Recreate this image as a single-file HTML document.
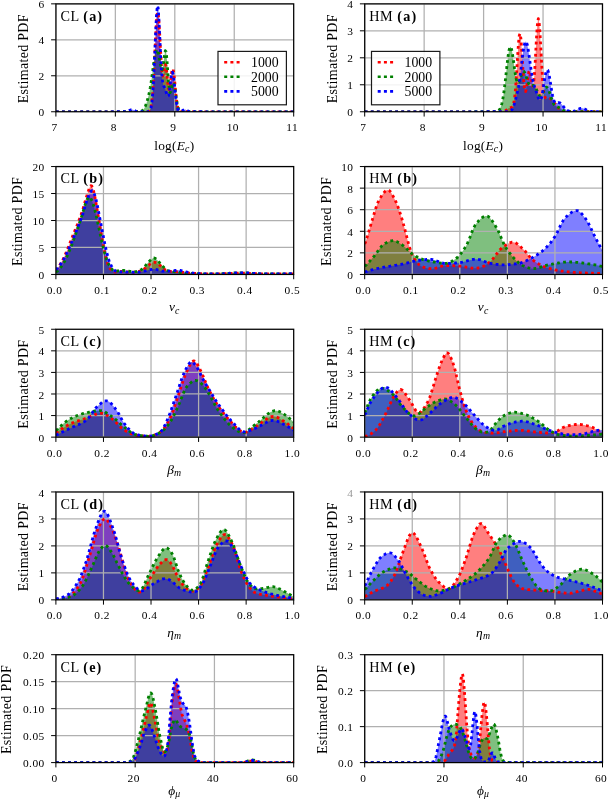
<!DOCTYPE html>
<html><head><meta charset="utf-8"><title>Estimated PDF</title>
<style>html,body{margin:0;padding:0;background:#fff}svg{display:block}</style></head>
<body>
<svg width="610" height="800" viewBox="0 0 610 800" font-family="'Liberation Serif', serif">
<rect width="610" height="800" fill="#fff"/>
<clipPath id="c00"><rect x="55.90" y="3.85" width="237.80" height="107.90"/></clipPath>
<g clip-path="url(#c00)">
<path d="M55.9,111.8 L56.7,111.8 L57.5,111.8 L58.3,111.8 L59.1,111.8 L59.9,111.8 L60.7,111.8 L61.4,111.8 L62.2,111.8 L63.0,111.8 L63.8,111.8 L64.6,111.8 L65.4,111.8 L66.2,111.8 L67.0,111.8 L67.8,111.8 L68.6,111.8 L69.4,111.8 L70.2,111.8 L71.0,111.8 L71.8,111.8 L72.5,111.8 L73.3,111.8 L74.1,111.8 L74.9,111.8 L75.7,111.8 L76.5,111.8 L77.3,111.8 L78.1,111.8 L78.9,111.8 L79.7,111.8 L80.5,111.8 L81.3,111.8 L82.1,111.8 L82.9,111.8 L83.6,111.8 L84.4,111.8 L85.2,111.8 L86.0,111.8 L86.8,111.8 L87.6,111.8 L88.4,111.8 L89.2,111.8 L90.0,111.8 L90.8,111.8 L91.6,111.8 L92.4,111.8 L93.2,111.8 L93.9,111.8 L94.7,111.8 L95.5,111.8 L96.3,111.8 L97.1,111.8 L97.9,111.8 L98.7,111.8 L99.5,111.8 L100.3,111.8 L101.1,111.8 L101.9,111.8 L102.7,111.8 L103.5,111.8 L104.3,111.8 L105.0,111.8 L105.8,111.8 L106.6,111.8 L107.4,111.8 L108.2,111.8 L109.0,111.8 L109.8,111.8 L110.6,111.8 L111.4,111.8 L112.2,111.8 L113.0,111.8 L113.8,111.8 L114.6,111.8 L115.3,111.8 L116.1,111.8 L116.9,111.8 L117.7,111.8 L118.5,111.8 L119.3,111.8 L120.1,111.8 L120.9,111.8 L121.7,111.8 L122.5,111.8 L123.3,111.8 L124.1,111.8 L124.9,111.8 L125.7,111.8 L126.4,111.8 L127.2,111.8 L128.0,111.8 L128.8,111.8 L129.6,111.8 L130.4,111.8 L131.2,111.8 L132.0,111.8 L132.8,111.8 L133.6,111.8 L134.4,111.7 L135.2,111.7 L136.0,111.7 L136.8,111.7 L137.5,111.7 L138.3,111.7 L139.1,111.7 L139.9,111.7 L140.7,111.7 L141.5,111.7 L142.3,111.7 L143.1,111.7 L143.9,111.7 L144.7,111.7 L145.5,111.7 L146.3,111.7 L147.1,111.7 L147.8,111.6 L148.6,111.3 L149.4,110.7 L150.2,109.3 L151.0,106.6 L151.8,101.7 L152.6,93.9 L153.4,82.4 L154.2,67.5 L155.0,50.3 L155.8,33.4 L156.6,19.8 L157.4,12.4 L158.2,12.9 L158.9,20.9 L159.7,34.3 L160.5,49.6 L161.3,63.5 L162.1,73.0 L162.9,76.1 L163.7,73.4 L164.5,67.9 L165.3,64.4 L166.1,66.3 L166.9,73.5 L167.7,82.4 L168.5,88.7 L169.3,89.8 L170.0,85.9 L170.8,79.2 L171.6,72.6 L172.4,68.9 L173.2,69.5 L174.0,74.5 L174.8,82.3 L175.6,91.0 L176.4,98.6 L177.2,104.3 L178.0,108.0 L178.8,110.0 L179.6,111.1 L180.3,111.5 L181.1,111.7 L181.9,111.7 L182.7,111.7 L183.5,111.7 L184.3,111.7 L185.1,111.7 L185.9,111.7 L186.7,111.7 L187.5,111.7 L188.3,111.7 L189.1,111.7 L189.9,111.7 L190.7,111.7 L191.4,111.7 L192.2,111.7 L193.0,111.8 L193.8,111.8 L194.6,111.8 L195.4,111.8 L196.2,111.8 L197.0,111.8 L197.8,111.8 L198.6,111.8 L199.4,111.8 L200.2,111.8 L201.0,111.8 L201.8,111.8 L202.5,111.8 L203.3,111.8 L204.1,111.8 L204.9,111.8 L205.7,111.8 L206.5,111.8 L207.3,111.8 L208.1,111.8 L208.9,111.8 L209.7,111.8 L210.5,111.8 L211.3,111.8 L212.1,111.8 L212.8,111.8 L213.6,111.8 L214.4,111.8 L215.2,111.8 L216.0,111.8 L216.8,111.8 L217.6,111.8 L218.4,111.8 L219.2,111.8 L220.0,111.8 L220.8,111.8 L221.6,111.8 L222.4,111.8 L223.2,111.8 L223.9,111.8 L224.7,111.8 L225.5,111.8 L226.3,111.8 L227.1,111.8 L227.9,111.8 L228.7,111.8 L229.5,111.8 L230.3,111.8 L231.1,111.8 L231.9,111.8 L232.7,111.8 L233.5,111.8 L234.3,111.8 L235.0,111.8 L235.8,111.8 L236.6,111.8 L237.4,111.8 L238.2,111.8 L239.0,111.8 L239.8,111.8 L240.6,111.8 L241.4,111.8 L242.2,111.8 L243.0,111.8 L243.8,111.8 L244.6,111.8 L245.3,111.8 L246.1,111.8 L246.9,111.8 L247.7,111.8 L248.5,111.8 L249.3,111.8 L250.1,111.8 L250.9,111.8 L251.7,111.8 L252.5,111.8 L253.3,111.8 L254.1,111.8 L254.9,111.8 L255.7,111.8 L256.4,111.8 L257.2,111.8 L258.0,111.8 L258.8,111.8 L259.6,111.8 L260.4,111.8 L261.2,111.8 L262.0,111.8 L262.8,111.8 L263.6,111.8 L264.4,111.8 L265.2,111.8 L266.0,111.8 L266.7,111.8 L267.5,111.8 L268.3,111.8 L269.1,111.8 L269.9,111.8 L270.7,111.8 L271.5,111.8 L272.3,111.8 L273.1,111.8 L273.9,111.8 L274.7,111.8 L275.5,111.8 L276.3,111.8 L277.1,111.8 L277.8,111.8 L278.6,111.8 L279.4,111.8 L280.2,111.8 L281.0,111.8 L281.8,111.8 L282.6,111.8 L283.4,111.8 L284.2,111.8 L285.0,111.8 L285.8,111.8 L286.6,111.8 L287.4,111.8 L288.2,111.8 L288.9,111.8 L289.7,111.8 L290.5,111.8 L291.3,111.8 L292.1,111.8 L292.9,111.8 L293.7,111.8 L293.70,111.75 L55.90,111.75 Z" fill="#ff0000" fill-opacity="0.5" stroke="none"/>
<path d="M55.9,111.8 L56.7,111.8 L57.5,111.8 L58.3,111.8 L59.1,111.8 L59.9,111.8 L60.7,111.8 L61.4,111.8 L62.2,111.8 L63.0,111.8 L63.8,111.8 L64.6,111.8 L65.4,111.8 L66.2,111.8 L67.0,111.8 L67.8,111.8 L68.6,111.8 L69.4,111.8 L70.2,111.8 L71.0,111.8 L71.8,111.8 L72.5,111.8 L73.3,111.8 L74.1,111.8 L74.9,111.8 L75.7,111.8 L76.5,111.8 L77.3,111.8 L78.1,111.8 L78.9,111.8 L79.7,111.8 L80.5,111.8 L81.3,111.8 L82.1,111.8 L82.9,111.8 L83.6,111.8 L84.4,111.8 L85.2,111.8 L86.0,111.8 L86.8,111.8 L87.6,111.8 L88.4,111.8 L89.2,111.8 L90.0,111.8 L90.8,111.8 L91.6,111.8 L92.4,111.8 L93.2,111.8 L93.9,111.8 L94.7,111.8 L95.5,111.8 L96.3,111.8 L97.1,111.8 L97.9,111.8 L98.7,111.8 L99.5,111.8 L100.3,111.8 L101.1,111.8 L101.9,111.8 L102.7,111.8 L103.5,111.8 L104.3,111.8 L105.0,111.8 L105.8,111.8 L106.6,111.8 L107.4,111.8 L108.2,111.8 L109.0,111.8 L109.8,111.8 L110.6,111.8 L111.4,111.8 L112.2,111.8 L113.0,111.8 L113.8,111.8 L114.6,111.8 L115.3,111.8 L116.1,111.8 L116.9,111.8 L117.7,111.8 L118.5,111.8 L119.3,111.7 L120.1,111.7 L120.9,111.7 L121.7,111.7 L122.5,111.7 L123.3,111.7 L124.1,111.7 L124.9,111.7 L125.7,111.7 L126.4,111.7 L127.2,111.7 L128.0,111.7 L128.8,111.7 L129.6,111.7 L130.4,111.7 L131.2,111.7 L132.0,111.7 L132.8,111.7 L133.6,111.7 L134.4,111.7 L135.2,111.7 L136.0,111.7 L136.8,111.7 L137.5,111.7 L138.3,111.7 L139.1,111.7 L139.9,111.6 L140.7,111.4 L141.5,111.1 L142.3,110.6 L143.1,109.9 L143.9,108.9 L144.7,107.5 L145.5,105.8 L146.3,103.8 L147.1,101.4 L147.8,98.7 L148.6,95.6 L149.4,92.0 L150.2,87.8 L151.0,83.0 L151.8,77.5 L152.6,71.6 L153.4,65.6 L154.2,60.0 L155.0,55.2 L155.8,51.7 L156.6,49.9 L157.4,49.9 L158.2,51.8 L158.9,55.3 L159.7,60.0 L160.5,64.8 L161.3,68.5 L162.1,69.8 L162.9,67.4 L163.7,61.8 L164.5,55.1 L165.3,50.7 L166.1,51.9 L166.9,59.2 L167.7,70.4 L168.5,81.7 L169.3,89.6 L170.0,92.7 L170.8,91.5 L171.6,87.9 L172.4,84.4 L173.2,82.8 L174.0,84.1 L174.8,88.1 L175.6,93.6 L176.4,99.3 L177.2,104.1 L178.0,107.5 L178.8,109.7 L179.6,110.8 L180.3,111.4 L181.1,111.6 L181.9,111.7 L182.7,111.7 L183.5,111.7 L184.3,111.7 L185.1,111.7 L185.9,111.7 L186.7,111.7 L187.5,111.7 L188.3,111.7 L189.1,111.7 L189.9,111.7 L190.7,111.7 L191.4,111.7 L192.2,111.7 L193.0,111.7 L193.8,111.7 L194.6,111.7 L195.4,111.8 L196.2,111.8 L197.0,111.8 L197.8,111.8 L198.6,111.8 L199.4,111.8 L200.2,111.8 L201.0,111.8 L201.8,111.8 L202.5,111.8 L203.3,111.8 L204.1,111.8 L204.9,111.8 L205.7,111.8 L206.5,111.8 L207.3,111.8 L208.1,111.8 L208.9,111.8 L209.7,111.8 L210.5,111.8 L211.3,111.8 L212.1,111.8 L212.8,111.8 L213.6,111.8 L214.4,111.8 L215.2,111.8 L216.0,111.8 L216.8,111.8 L217.6,111.8 L218.4,111.8 L219.2,111.8 L220.0,111.8 L220.8,111.8 L221.6,111.8 L222.4,111.8 L223.2,111.8 L223.9,111.8 L224.7,111.8 L225.5,111.8 L226.3,111.8 L227.1,111.8 L227.9,111.8 L228.7,111.8 L229.5,111.8 L230.3,111.8 L231.1,111.8 L231.9,111.8 L232.7,111.8 L233.5,111.8 L234.3,111.8 L235.0,111.8 L235.8,111.8 L236.6,111.8 L237.4,111.8 L238.2,111.8 L239.0,111.8 L239.8,111.8 L240.6,111.8 L241.4,111.8 L242.2,111.8 L243.0,111.8 L243.8,111.8 L244.6,111.8 L245.3,111.8 L246.1,111.8 L246.9,111.8 L247.7,111.8 L248.5,111.8 L249.3,111.8 L250.1,111.8 L250.9,111.8 L251.7,111.8 L252.5,111.8 L253.3,111.8 L254.1,111.8 L254.9,111.8 L255.7,111.8 L256.4,111.8 L257.2,111.8 L258.0,111.8 L258.8,111.8 L259.6,111.8 L260.4,111.8 L261.2,111.8 L262.0,111.8 L262.8,111.8 L263.6,111.8 L264.4,111.8 L265.2,111.8 L266.0,111.8 L266.7,111.8 L267.5,111.8 L268.3,111.8 L269.1,111.8 L269.9,111.8 L270.7,111.8 L271.5,111.8 L272.3,111.8 L273.1,111.8 L273.9,111.8 L274.7,111.8 L275.5,111.8 L276.3,111.8 L277.1,111.8 L277.8,111.8 L278.6,111.8 L279.4,111.8 L280.2,111.8 L281.0,111.8 L281.8,111.8 L282.6,111.8 L283.4,111.8 L284.2,111.8 L285.0,111.8 L285.8,111.8 L286.6,111.8 L287.4,111.8 L288.2,111.8 L288.9,111.8 L289.7,111.8 L290.5,111.8 L291.3,111.8 L292.1,111.8 L292.9,111.8 L293.7,111.8 L293.70,111.75 L55.90,111.75 Z" fill="#008000" fill-opacity="0.5" stroke="none"/>
<path d="M55.9,111.8 L56.7,111.8 L57.5,111.8 L58.3,111.8 L59.1,111.8 L59.9,111.8 L60.7,111.8 L61.4,111.8 L62.2,111.8 L63.0,111.8 L63.8,111.8 L64.6,111.8 L65.4,111.8 L66.2,111.8 L67.0,111.8 L67.8,111.8 L68.6,111.8 L69.4,111.8 L70.2,111.8 L71.0,111.8 L71.8,111.8 L72.5,111.8 L73.3,111.8 L74.1,111.8 L74.9,111.8 L75.7,111.8 L76.5,111.8 L77.3,111.8 L78.1,111.8 L78.9,111.8 L79.7,111.8 L80.5,111.8 L81.3,111.8 L82.1,111.8 L82.9,111.8 L83.6,111.8 L84.4,111.8 L85.2,111.8 L86.0,111.8 L86.8,111.8 L87.6,111.8 L88.4,111.8 L89.2,111.8 L90.0,111.8 L90.8,111.8 L91.6,111.8 L92.4,111.8 L93.2,111.8 L93.9,111.8 L94.7,111.8 L95.5,111.8 L96.3,111.8 L97.1,111.8 L97.9,111.8 L98.7,111.8 L99.5,111.8 L100.3,111.8 L101.1,111.8 L101.9,111.8 L102.7,111.8 L103.5,111.8 L104.3,111.8 L105.0,111.8 L105.8,111.8 L106.6,111.8 L107.4,111.8 L108.2,111.8 L109.0,111.8 L109.8,111.8 L110.6,111.8 L111.4,111.8 L112.2,111.8 L113.0,111.7 L113.8,111.7 L114.6,111.7 L115.3,111.7 L116.1,111.7 L116.9,111.7 L117.7,111.7 L118.5,111.7 L119.3,111.7 L120.1,111.7 L120.9,111.7 L121.7,111.7 L122.5,111.7 L123.3,111.7 L124.1,111.7 L124.9,111.7 L125.7,111.7 L126.4,111.6 L127.2,111.5 L128.0,111.2 L128.8,110.9 L129.6,110.4 L130.4,110.0 L131.2,109.7 L132.0,109.6 L132.8,109.7 L133.6,110.0 L134.4,110.4 L135.2,110.9 L136.0,111.2 L136.8,111.5 L137.5,111.6 L138.3,111.7 L139.1,111.7 L139.9,111.7 L140.7,111.7 L141.5,111.7 L142.3,111.7 L143.1,111.7 L143.9,111.7 L144.7,111.7 L145.5,111.7 L146.3,111.7 L147.1,111.7 L147.8,111.7 L148.6,111.5 L149.4,111.1 L150.2,110.0 L151.0,107.7 L151.8,103.3 L152.6,95.5 L153.4,83.5 L154.2,67.2 L155.0,47.9 L155.8,28.5 L156.6,13.3 L157.4,5.8 L158.2,8.0 L158.9,19.0 L159.7,35.5 L160.5,53.1 L161.3,68.0 L162.1,78.1 L162.9,83.6 L163.7,86.0 L164.5,87.4 L165.3,89.3 L166.1,92.0 L166.9,94.8 L167.7,96.5 L168.5,95.7 L169.3,92.0 L170.0,86.0 L170.8,79.3 L171.6,74.0 L172.4,72.1 L173.2,74.3 L174.0,80.1 L174.8,87.8 L175.6,95.5 L176.4,101.9 L177.2,106.4 L178.0,109.1 L178.8,110.6 L179.6,111.2 L180.3,111.4 L181.1,111.3 L181.9,111.0 L182.7,110.5 L183.5,110.0 L184.3,109.7 L185.1,109.6 L185.9,109.8 L186.7,110.3 L187.5,110.7 L188.3,111.2 L189.1,111.5 L189.9,111.6 L190.7,111.7 L191.4,111.7 L192.2,111.7 L193.0,111.7 L193.8,111.7 L194.6,111.7 L195.4,111.7 L196.2,111.7 L197.0,111.7 L197.8,111.7 L198.6,111.7 L199.4,111.7 L200.2,111.7 L201.0,111.7 L201.8,111.7 L202.5,111.8 L203.3,111.8 L204.1,111.8 L204.9,111.8 L205.7,111.8 L206.5,111.8 L207.3,111.8 L208.1,111.8 L208.9,111.8 L209.7,111.8 L210.5,111.8 L211.3,111.8 L212.1,111.8 L212.8,111.8 L213.6,111.8 L214.4,111.8 L215.2,111.8 L216.0,111.8 L216.8,111.8 L217.6,111.8 L218.4,111.8 L219.2,111.8 L220.0,111.8 L220.8,111.8 L221.6,111.8 L222.4,111.8 L223.2,111.8 L223.9,111.8 L224.7,111.8 L225.5,111.8 L226.3,111.8 L227.1,111.8 L227.9,111.8 L228.7,111.8 L229.5,111.8 L230.3,111.8 L231.1,111.8 L231.9,111.8 L232.7,111.8 L233.5,111.8 L234.3,111.8 L235.0,111.8 L235.8,111.8 L236.6,111.8 L237.4,111.8 L238.2,111.8 L239.0,111.8 L239.8,111.8 L240.6,111.8 L241.4,111.8 L242.2,111.8 L243.0,111.8 L243.8,111.8 L244.6,111.8 L245.3,111.8 L246.1,111.8 L246.9,111.8 L247.7,111.8 L248.5,111.8 L249.3,111.8 L250.1,111.8 L250.9,111.8 L251.7,111.8 L252.5,111.8 L253.3,111.8 L254.1,111.8 L254.9,111.8 L255.7,111.8 L256.4,111.8 L257.2,111.8 L258.0,111.8 L258.8,111.8 L259.6,111.8 L260.4,111.8 L261.2,111.8 L262.0,111.8 L262.8,111.8 L263.6,111.8 L264.4,111.8 L265.2,111.8 L266.0,111.8 L266.7,111.8 L267.5,111.8 L268.3,111.8 L269.1,111.8 L269.9,111.8 L270.7,111.8 L271.5,111.8 L272.3,111.8 L273.1,111.8 L273.9,111.8 L274.7,111.8 L275.5,111.8 L276.3,111.8 L277.1,111.8 L277.8,111.8 L278.6,111.8 L279.4,111.8 L280.2,111.8 L281.0,111.8 L281.8,111.8 L282.6,111.8 L283.4,111.8 L284.2,111.8 L285.0,111.8 L285.8,111.8 L286.6,111.8 L287.4,111.8 L288.2,111.8 L288.9,111.8 L289.7,111.8 L290.5,111.8 L291.3,111.8 L292.1,111.8 L292.9,111.8 L293.7,111.8 L293.70,111.75 L55.90,111.75 Z" fill="#0000ff" fill-opacity="0.5" stroke="none"/>
<line x1="55.90" x2="55.90" y1="3.85" y2="111.75" stroke="#b0b0b0" stroke-width="1.25"/>
<line x1="115.35" x2="115.35" y1="3.85" y2="111.75" stroke="#b0b0b0" stroke-width="1.25"/>
<line x1="174.80" x2="174.80" y1="3.85" y2="111.75" stroke="#b0b0b0" stroke-width="1.25"/>
<line x1="234.25" x2="234.25" y1="3.85" y2="111.75" stroke="#b0b0b0" stroke-width="1.25"/>
<line x1="293.70" x2="293.70" y1="3.85" y2="111.75" stroke="#b0b0b0" stroke-width="1.25"/>
<line x1="55.90" x2="293.70" y1="111.75" y2="111.75" stroke="#b0b0b0" stroke-width="1.25"/>
<line x1="55.90" x2="293.70" y1="75.78" y2="75.78" stroke="#b0b0b0" stroke-width="1.25"/>
<line x1="55.90" x2="293.70" y1="39.82" y2="39.82" stroke="#b0b0b0" stroke-width="1.25"/>
<line x1="55.90" x2="293.70" y1="3.85" y2="3.85" stroke="#b0b0b0" stroke-width="1.25"/>
<path d="M55.9,111.8 L56.7,111.8 L57.5,111.8 L58.3,111.8 L59.1,111.8 L59.9,111.8 L60.7,111.8 L61.4,111.8 L62.2,111.8 L63.0,111.8 L63.8,111.8 L64.6,111.8 L65.4,111.8 L66.2,111.8 L67.0,111.8 L67.8,111.8 L68.6,111.8 L69.4,111.8 L70.2,111.8 L71.0,111.8 L71.8,111.8 L72.5,111.8 L73.3,111.8 L74.1,111.8 L74.9,111.8 L75.7,111.8 L76.5,111.8 L77.3,111.8 L78.1,111.8 L78.9,111.8 L79.7,111.8 L80.5,111.8 L81.3,111.8 L82.1,111.8 L82.9,111.8 L83.6,111.8 L84.4,111.8 L85.2,111.8 L86.0,111.8 L86.8,111.8 L87.6,111.8 L88.4,111.8 L89.2,111.8 L90.0,111.8 L90.8,111.8 L91.6,111.8 L92.4,111.8 L93.2,111.8 L93.9,111.8 L94.7,111.8 L95.5,111.8 L96.3,111.8 L97.1,111.8 L97.9,111.8 L98.7,111.8 L99.5,111.8 L100.3,111.8 L101.1,111.8 L101.9,111.8 L102.7,111.8 L103.5,111.8 L104.3,111.8 L105.0,111.8 L105.8,111.8 L106.6,111.8 L107.4,111.8 L108.2,111.8 L109.0,111.8 L109.8,111.8 L110.6,111.8 L111.4,111.8 L112.2,111.8 L113.0,111.8 L113.8,111.8 L114.6,111.8 L115.3,111.8 L116.1,111.8 L116.9,111.8 L117.7,111.8 L118.5,111.8 L119.3,111.8 L120.1,111.8 L120.9,111.8 L121.7,111.8 L122.5,111.8 L123.3,111.8 L124.1,111.8 L124.9,111.8 L125.7,111.8 L126.4,111.8 L127.2,111.8 L128.0,111.8 L128.8,111.8 L129.6,111.8 L130.4,111.8 L131.2,111.8 L132.0,111.8 L132.8,111.8 L133.6,111.8 L134.4,111.7 L135.2,111.7 L136.0,111.7 L136.8,111.7 L137.5,111.7 L138.3,111.7 L139.1,111.7 L139.9,111.7 L140.7,111.7 L141.5,111.7 L142.3,111.7 L143.1,111.7 L143.9,111.7 L144.7,111.7 L145.5,111.7 L146.3,111.7 L147.1,111.7 L147.8,111.6 L148.6,111.3 L149.4,110.7 L150.2,109.3 L151.0,106.6 L151.8,101.7 L152.6,93.9 L153.4,82.4 L154.2,67.5 L155.0,50.3 L155.8,33.4 L156.6,19.8 L157.4,12.4 L158.2,12.9 L158.9,20.9 L159.7,34.3 L160.5,49.6 L161.3,63.5 L162.1,73.0 L162.9,76.1 L163.7,73.4 L164.5,67.9 L165.3,64.4 L166.1,66.3 L166.9,73.5 L167.7,82.4 L168.5,88.7 L169.3,89.8 L170.0,85.9 L170.8,79.2 L171.6,72.6 L172.4,68.9 L173.2,69.5 L174.0,74.5 L174.8,82.3 L175.6,91.0 L176.4,98.6 L177.2,104.3 L178.0,108.0 L178.8,110.0 L179.6,111.1 L180.3,111.5 L181.1,111.7 L181.9,111.7 L182.7,111.7 L183.5,111.7 L184.3,111.7 L185.1,111.7 L185.9,111.7 L186.7,111.7 L187.5,111.7 L188.3,111.7 L189.1,111.7 L189.9,111.7 L190.7,111.7 L191.4,111.7 L192.2,111.7 L193.0,111.8 L193.8,111.8 L194.6,111.8 L195.4,111.8 L196.2,111.8 L197.0,111.8 L197.8,111.8 L198.6,111.8 L199.4,111.8 L200.2,111.8 L201.0,111.8 L201.8,111.8 L202.5,111.8 L203.3,111.8 L204.1,111.8 L204.9,111.8 L205.7,111.8 L206.5,111.8 L207.3,111.8 L208.1,111.8 L208.9,111.8 L209.7,111.8 L210.5,111.8 L211.3,111.8 L212.1,111.8 L212.8,111.8 L213.6,111.8 L214.4,111.8 L215.2,111.8 L216.0,111.8 L216.8,111.8 L217.6,111.8 L218.4,111.8 L219.2,111.8 L220.0,111.8 L220.8,111.8 L221.6,111.8 L222.4,111.8 L223.2,111.8 L223.9,111.8 L224.7,111.8 L225.5,111.8 L226.3,111.8 L227.1,111.8 L227.9,111.8 L228.7,111.8 L229.5,111.8 L230.3,111.8 L231.1,111.8 L231.9,111.8 L232.7,111.8 L233.5,111.8 L234.3,111.8 L235.0,111.8 L235.8,111.8 L236.6,111.8 L237.4,111.8 L238.2,111.8 L239.0,111.8 L239.8,111.8 L240.6,111.8 L241.4,111.8 L242.2,111.8 L243.0,111.8 L243.8,111.8 L244.6,111.8 L245.3,111.8 L246.1,111.8 L246.9,111.8 L247.7,111.8 L248.5,111.8 L249.3,111.8 L250.1,111.8 L250.9,111.8 L251.7,111.8 L252.5,111.8 L253.3,111.8 L254.1,111.8 L254.9,111.8 L255.7,111.8 L256.4,111.8 L257.2,111.8 L258.0,111.8 L258.8,111.8 L259.6,111.8 L260.4,111.8 L261.2,111.8 L262.0,111.8 L262.8,111.8 L263.6,111.8 L264.4,111.8 L265.2,111.8 L266.0,111.8 L266.7,111.8 L267.5,111.8 L268.3,111.8 L269.1,111.8 L269.9,111.8 L270.7,111.8 L271.5,111.8 L272.3,111.8 L273.1,111.8 L273.9,111.8 L274.7,111.8 L275.5,111.8 L276.3,111.8 L277.1,111.8 L277.8,111.8 L278.6,111.8 L279.4,111.8 L280.2,111.8 L281.0,111.8 L281.8,111.8 L282.6,111.8 L283.4,111.8 L284.2,111.8 L285.0,111.8 L285.8,111.8 L286.6,111.8 L287.4,111.8 L288.2,111.8 L288.9,111.8 L289.7,111.8 L290.5,111.8 L291.3,111.8 L292.1,111.8 L292.9,111.8 L293.7,111.8" fill="none" stroke="#ff0000" stroke-width="2.8" stroke-dasharray="2.8 3.3" stroke-linejoin="round"/>
<path d="M55.9,111.8 L56.7,111.8 L57.5,111.8 L58.3,111.8 L59.1,111.8 L59.9,111.8 L60.7,111.8 L61.4,111.8 L62.2,111.8 L63.0,111.8 L63.8,111.8 L64.6,111.8 L65.4,111.8 L66.2,111.8 L67.0,111.8 L67.8,111.8 L68.6,111.8 L69.4,111.8 L70.2,111.8 L71.0,111.8 L71.8,111.8 L72.5,111.8 L73.3,111.8 L74.1,111.8 L74.9,111.8 L75.7,111.8 L76.5,111.8 L77.3,111.8 L78.1,111.8 L78.9,111.8 L79.7,111.8 L80.5,111.8 L81.3,111.8 L82.1,111.8 L82.9,111.8 L83.6,111.8 L84.4,111.8 L85.2,111.8 L86.0,111.8 L86.8,111.8 L87.6,111.8 L88.4,111.8 L89.2,111.8 L90.0,111.8 L90.8,111.8 L91.6,111.8 L92.4,111.8 L93.2,111.8 L93.9,111.8 L94.7,111.8 L95.5,111.8 L96.3,111.8 L97.1,111.8 L97.9,111.8 L98.7,111.8 L99.5,111.8 L100.3,111.8 L101.1,111.8 L101.9,111.8 L102.7,111.8 L103.5,111.8 L104.3,111.8 L105.0,111.8 L105.8,111.8 L106.6,111.8 L107.4,111.8 L108.2,111.8 L109.0,111.8 L109.8,111.8 L110.6,111.8 L111.4,111.8 L112.2,111.8 L113.0,111.8 L113.8,111.8 L114.6,111.8 L115.3,111.8 L116.1,111.8 L116.9,111.8 L117.7,111.8 L118.5,111.8 L119.3,111.7 L120.1,111.7 L120.9,111.7 L121.7,111.7 L122.5,111.7 L123.3,111.7 L124.1,111.7 L124.9,111.7 L125.7,111.7 L126.4,111.7 L127.2,111.7 L128.0,111.7 L128.8,111.7 L129.6,111.7 L130.4,111.7 L131.2,111.7 L132.0,111.7 L132.8,111.7 L133.6,111.7 L134.4,111.7 L135.2,111.7 L136.0,111.7 L136.8,111.7 L137.5,111.7 L138.3,111.7 L139.1,111.7 L139.9,111.6 L140.7,111.4 L141.5,111.1 L142.3,110.6 L143.1,109.9 L143.9,108.9 L144.7,107.5 L145.5,105.8 L146.3,103.8 L147.1,101.4 L147.8,98.7 L148.6,95.6 L149.4,92.0 L150.2,87.8 L151.0,83.0 L151.8,77.5 L152.6,71.6 L153.4,65.6 L154.2,60.0 L155.0,55.2 L155.8,51.7 L156.6,49.9 L157.4,49.9 L158.2,51.8 L158.9,55.3 L159.7,60.0 L160.5,64.8 L161.3,68.5 L162.1,69.8 L162.9,67.4 L163.7,61.8 L164.5,55.1 L165.3,50.7 L166.1,51.9 L166.9,59.2 L167.7,70.4 L168.5,81.7 L169.3,89.6 L170.0,92.7 L170.8,91.5 L171.6,87.9 L172.4,84.4 L173.2,82.8 L174.0,84.1 L174.8,88.1 L175.6,93.6 L176.4,99.3 L177.2,104.1 L178.0,107.5 L178.8,109.7 L179.6,110.8 L180.3,111.4 L181.1,111.6 L181.9,111.7 L182.7,111.7 L183.5,111.7 L184.3,111.7 L185.1,111.7 L185.9,111.7 L186.7,111.7 L187.5,111.7 L188.3,111.7 L189.1,111.7 L189.9,111.7 L190.7,111.7 L191.4,111.7 L192.2,111.7 L193.0,111.7 L193.8,111.7 L194.6,111.7 L195.4,111.8 L196.2,111.8 L197.0,111.8 L197.8,111.8 L198.6,111.8 L199.4,111.8 L200.2,111.8 L201.0,111.8 L201.8,111.8 L202.5,111.8 L203.3,111.8 L204.1,111.8 L204.9,111.8 L205.7,111.8 L206.5,111.8 L207.3,111.8 L208.1,111.8 L208.9,111.8 L209.7,111.8 L210.5,111.8 L211.3,111.8 L212.1,111.8 L212.8,111.8 L213.6,111.8 L214.4,111.8 L215.2,111.8 L216.0,111.8 L216.8,111.8 L217.6,111.8 L218.4,111.8 L219.2,111.8 L220.0,111.8 L220.8,111.8 L221.6,111.8 L222.4,111.8 L223.2,111.8 L223.9,111.8 L224.7,111.8 L225.5,111.8 L226.3,111.8 L227.1,111.8 L227.9,111.8 L228.7,111.8 L229.5,111.8 L230.3,111.8 L231.1,111.8 L231.9,111.8 L232.7,111.8 L233.5,111.8 L234.3,111.8 L235.0,111.8 L235.8,111.8 L236.6,111.8 L237.4,111.8 L238.2,111.8 L239.0,111.8 L239.8,111.8 L240.6,111.8 L241.4,111.8 L242.2,111.8 L243.0,111.8 L243.8,111.8 L244.6,111.8 L245.3,111.8 L246.1,111.8 L246.9,111.8 L247.7,111.8 L248.5,111.8 L249.3,111.8 L250.1,111.8 L250.9,111.8 L251.7,111.8 L252.5,111.8 L253.3,111.8 L254.1,111.8 L254.9,111.8 L255.7,111.8 L256.4,111.8 L257.2,111.8 L258.0,111.8 L258.8,111.8 L259.6,111.8 L260.4,111.8 L261.2,111.8 L262.0,111.8 L262.8,111.8 L263.6,111.8 L264.4,111.8 L265.2,111.8 L266.0,111.8 L266.7,111.8 L267.5,111.8 L268.3,111.8 L269.1,111.8 L269.9,111.8 L270.7,111.8 L271.5,111.8 L272.3,111.8 L273.1,111.8 L273.9,111.8 L274.7,111.8 L275.5,111.8 L276.3,111.8 L277.1,111.8 L277.8,111.8 L278.6,111.8 L279.4,111.8 L280.2,111.8 L281.0,111.8 L281.8,111.8 L282.6,111.8 L283.4,111.8 L284.2,111.8 L285.0,111.8 L285.8,111.8 L286.6,111.8 L287.4,111.8 L288.2,111.8 L288.9,111.8 L289.7,111.8 L290.5,111.8 L291.3,111.8 L292.1,111.8 L292.9,111.8 L293.7,111.8" fill="none" stroke="#008000" stroke-width="2.8" stroke-dasharray="2.8 3.3" stroke-linejoin="round"/>
<path d="M55.9,111.8 L56.7,111.8 L57.5,111.8 L58.3,111.8 L59.1,111.8 L59.9,111.8 L60.7,111.8 L61.4,111.8 L62.2,111.8 L63.0,111.8 L63.8,111.8 L64.6,111.8 L65.4,111.8 L66.2,111.8 L67.0,111.8 L67.8,111.8 L68.6,111.8 L69.4,111.8 L70.2,111.8 L71.0,111.8 L71.8,111.8 L72.5,111.8 L73.3,111.8 L74.1,111.8 L74.9,111.8 L75.7,111.8 L76.5,111.8 L77.3,111.8 L78.1,111.8 L78.9,111.8 L79.7,111.8 L80.5,111.8 L81.3,111.8 L82.1,111.8 L82.9,111.8 L83.6,111.8 L84.4,111.8 L85.2,111.8 L86.0,111.8 L86.8,111.8 L87.6,111.8 L88.4,111.8 L89.2,111.8 L90.0,111.8 L90.8,111.8 L91.6,111.8 L92.4,111.8 L93.2,111.8 L93.9,111.8 L94.7,111.8 L95.5,111.8 L96.3,111.8 L97.1,111.8 L97.9,111.8 L98.7,111.8 L99.5,111.8 L100.3,111.8 L101.1,111.8 L101.9,111.8 L102.7,111.8 L103.5,111.8 L104.3,111.8 L105.0,111.8 L105.8,111.8 L106.6,111.8 L107.4,111.8 L108.2,111.8 L109.0,111.8 L109.8,111.8 L110.6,111.8 L111.4,111.8 L112.2,111.8 L113.0,111.7 L113.8,111.7 L114.6,111.7 L115.3,111.7 L116.1,111.7 L116.9,111.7 L117.7,111.7 L118.5,111.7 L119.3,111.7 L120.1,111.7 L120.9,111.7 L121.7,111.7 L122.5,111.7 L123.3,111.7 L124.1,111.7 L124.9,111.7 L125.7,111.7 L126.4,111.6 L127.2,111.5 L128.0,111.2 L128.8,110.9 L129.6,110.4 L130.4,110.0 L131.2,109.7 L132.0,109.6 L132.8,109.7 L133.6,110.0 L134.4,110.4 L135.2,110.9 L136.0,111.2 L136.8,111.5 L137.5,111.6 L138.3,111.7 L139.1,111.7 L139.9,111.7 L140.7,111.7 L141.5,111.7 L142.3,111.7 L143.1,111.7 L143.9,111.7 L144.7,111.7 L145.5,111.7 L146.3,111.7 L147.1,111.7 L147.8,111.7 L148.6,111.5 L149.4,111.1 L150.2,110.0 L151.0,107.7 L151.8,103.3 L152.6,95.5 L153.4,83.5 L154.2,67.2 L155.0,47.9 L155.8,28.5 L156.6,13.3 L157.4,5.8 L158.2,8.0 L158.9,19.0 L159.7,35.5 L160.5,53.1 L161.3,68.0 L162.1,78.1 L162.9,83.6 L163.7,86.0 L164.5,87.4 L165.3,89.3 L166.1,92.0 L166.9,94.8 L167.7,96.5 L168.5,95.7 L169.3,92.0 L170.0,86.0 L170.8,79.3 L171.6,74.0 L172.4,72.1 L173.2,74.3 L174.0,80.1 L174.8,87.8 L175.6,95.5 L176.4,101.9 L177.2,106.4 L178.0,109.1 L178.8,110.6 L179.6,111.2 L180.3,111.4 L181.1,111.3 L181.9,111.0 L182.7,110.5 L183.5,110.0 L184.3,109.7 L185.1,109.6 L185.9,109.8 L186.7,110.3 L187.5,110.7 L188.3,111.2 L189.1,111.5 L189.9,111.6 L190.7,111.7 L191.4,111.7 L192.2,111.7 L193.0,111.7 L193.8,111.7 L194.6,111.7 L195.4,111.7 L196.2,111.7 L197.0,111.7 L197.8,111.7 L198.6,111.7 L199.4,111.7 L200.2,111.7 L201.0,111.7 L201.8,111.7 L202.5,111.8 L203.3,111.8 L204.1,111.8 L204.9,111.8 L205.7,111.8 L206.5,111.8 L207.3,111.8 L208.1,111.8 L208.9,111.8 L209.7,111.8 L210.5,111.8 L211.3,111.8 L212.1,111.8 L212.8,111.8 L213.6,111.8 L214.4,111.8 L215.2,111.8 L216.0,111.8 L216.8,111.8 L217.6,111.8 L218.4,111.8 L219.2,111.8 L220.0,111.8 L220.8,111.8 L221.6,111.8 L222.4,111.8 L223.2,111.8 L223.9,111.8 L224.7,111.8 L225.5,111.8 L226.3,111.8 L227.1,111.8 L227.9,111.8 L228.7,111.8 L229.5,111.8 L230.3,111.8 L231.1,111.8 L231.9,111.8 L232.7,111.8 L233.5,111.8 L234.3,111.8 L235.0,111.8 L235.8,111.8 L236.6,111.8 L237.4,111.8 L238.2,111.8 L239.0,111.8 L239.8,111.8 L240.6,111.8 L241.4,111.8 L242.2,111.8 L243.0,111.8 L243.8,111.8 L244.6,111.8 L245.3,111.8 L246.1,111.8 L246.9,111.8 L247.7,111.8 L248.5,111.8 L249.3,111.8 L250.1,111.8 L250.9,111.8 L251.7,111.8 L252.5,111.8 L253.3,111.8 L254.1,111.8 L254.9,111.8 L255.7,111.8 L256.4,111.8 L257.2,111.8 L258.0,111.8 L258.8,111.8 L259.6,111.8 L260.4,111.8 L261.2,111.8 L262.0,111.8 L262.8,111.8 L263.6,111.8 L264.4,111.8 L265.2,111.8 L266.0,111.8 L266.7,111.8 L267.5,111.8 L268.3,111.8 L269.1,111.8 L269.9,111.8 L270.7,111.8 L271.5,111.8 L272.3,111.8 L273.1,111.8 L273.9,111.8 L274.7,111.8 L275.5,111.8 L276.3,111.8 L277.1,111.8 L277.8,111.8 L278.6,111.8 L279.4,111.8 L280.2,111.8 L281.0,111.8 L281.8,111.8 L282.6,111.8 L283.4,111.8 L284.2,111.8 L285.0,111.8 L285.8,111.8 L286.6,111.8 L287.4,111.8 L288.2,111.8 L288.9,111.8 L289.7,111.8 L290.5,111.8 L291.3,111.8 L292.1,111.8 L292.9,111.8 L293.7,111.8" fill="none" stroke="#0000ff" stroke-width="2.8" stroke-dasharray="2.8 3.3" stroke-linejoin="round"/>
</g>
<line x1="55.90" x2="55.90" y1="111.75" y2="116.55" stroke="#000" stroke-width="1"/>
<text x="54.50" y="131.15" font-size="11.4" letter-spacing="0.45" text-anchor="middle">7</text>
<line x1="115.35" x2="115.35" y1="111.75" y2="116.55" stroke="#000" stroke-width="1"/>
<text x="113.95" y="131.15" font-size="11.4" letter-spacing="0.45" text-anchor="middle">8</text>
<line x1="174.80" x2="174.80" y1="111.75" y2="116.55" stroke="#000" stroke-width="1"/>
<text x="173.40" y="131.15" font-size="11.4" letter-spacing="0.45" text-anchor="middle">9</text>
<line x1="234.25" x2="234.25" y1="111.75" y2="116.55" stroke="#000" stroke-width="1"/>
<text x="232.85" y="131.15" font-size="11.4" letter-spacing="0.45" text-anchor="middle">10</text>
<line x1="293.70" x2="293.70" y1="111.75" y2="116.55" stroke="#000" stroke-width="1"/>
<text x="292.30" y="131.15" font-size="11.4" letter-spacing="0.45" text-anchor="middle">11</text>
<line x1="51.10" x2="55.90" y1="111.75" y2="111.75" stroke="#000" stroke-width="1"/>
<text x="44.70" y="116.30" font-size="11.4" letter-spacing="0.45" text-anchor="end">0</text>
<line x1="51.10" x2="55.90" y1="75.78" y2="75.78" stroke="#000" stroke-width="1"/>
<text x="44.70" y="80.33" font-size="11.4" letter-spacing="0.45" text-anchor="end">2</text>
<line x1="51.10" x2="55.90" y1="39.82" y2="39.82" stroke="#000" stroke-width="1"/>
<text x="44.70" y="44.37" font-size="11.4" letter-spacing="0.45" text-anchor="end">4</text>
<line x1="51.10" x2="55.90" y1="3.85" y2="3.85" stroke="#000" stroke-width="1"/>
<text x="44.70" y="8.40" font-size="11.4" letter-spacing="0.45" text-anchor="end">6</text>
<rect x="55.90" y="3.85" width="237.80" height="107.90" fill="none" stroke="#000" stroke-width="1.25"/>
<text x="60.50" y="20.65" font-size="14.2" letter-spacing="0.55">CL <tspan font-weight="bold" letter-spacing="1.1">(a)</tspan></text>
<text transform="translate(28.20,58.70) rotate(-90)" font-size="14" text-anchor="middle" letter-spacing="0.3">Estimated PDF</text>
<text x="174.30" y="149.75" font-size="13.4" letter-spacing="0.2" text-anchor="middle">log(<tspan font-style="italic">E</tspan><tspan font-style="italic" font-size="9.8" dy="2.4">c</tspan><tspan dy="-2.4">)</tspan></text>
<rect x="218" y="51.4" width="68.4" height="53.4" fill="#fff" fill-opacity="0.85" stroke="#1a1a1a" stroke-width="1.2"/>
<line x1="224.2" x2="240" y1="62.2" y2="62.2" stroke="#ff0000" stroke-width="2.6" stroke-dasharray="3 3.2"/>
<text x="251" y="66.9" font-size="13.8">1000</text>
<line x1="224.2" x2="240" y1="76.8" y2="76.8" stroke="#008000" stroke-width="2.6" stroke-dasharray="3 3.2"/>
<text x="251" y="81.5" font-size="13.8">2000</text>
<line x1="224.2" x2="240" y1="91.4" y2="91.4" stroke="#0000ff" stroke-width="2.6" stroke-dasharray="3 3.2"/>
<text x="251" y="96.10000000000001" font-size="13.8">5000</text>
<clipPath id="c10"><rect x="364.70" y="3.85" width="237.80" height="107.90"/></clipPath>
<g clip-path="url(#c10)">
<path d="M364.7,111.8 L365.5,111.8 L366.3,111.8 L367.1,111.8 L367.9,111.8 L368.7,111.8 L369.5,111.8 L370.2,111.8 L371.0,111.8 L371.8,111.8 L372.6,111.8 L373.4,111.8 L374.2,111.8 L375.0,111.8 L375.8,111.8 L376.6,111.8 L377.4,111.8 L378.2,111.8 L379.0,111.8 L379.8,111.8 L380.6,111.8 L381.3,111.8 L382.1,111.8 L382.9,111.8 L383.7,111.8 L384.5,111.8 L385.3,111.8 L386.1,111.8 L386.9,111.8 L387.7,111.8 L388.5,111.8 L389.3,111.8 L390.1,111.8 L390.9,111.8 L391.7,111.8 L392.4,111.8 L393.2,111.8 L394.0,111.8 L394.8,111.8 L395.6,111.8 L396.4,111.8 L397.2,111.8 L398.0,111.8 L398.8,111.8 L399.6,111.8 L400.4,111.8 L401.2,111.8 L402.0,111.8 L402.7,111.8 L403.5,111.8 L404.3,111.8 L405.1,111.8 L405.9,111.8 L406.7,111.8 L407.5,111.8 L408.3,111.8 L409.1,111.8 L409.9,111.8 L410.7,111.8 L411.5,111.8 L412.3,111.8 L413.1,111.8 L413.8,111.8 L414.6,111.8 L415.4,111.8 L416.2,111.8 L417.0,111.8 L417.8,111.8 L418.6,111.8 L419.4,111.8 L420.2,111.8 L421.0,111.8 L421.8,111.8 L422.6,111.8 L423.4,111.8 L424.1,111.8 L424.9,111.8 L425.7,111.8 L426.5,111.8 L427.3,111.8 L428.1,111.8 L428.9,111.8 L429.7,111.8 L430.5,111.8 L431.3,111.8 L432.1,111.8 L432.9,111.8 L433.7,111.8 L434.5,111.8 L435.2,111.8 L436.0,111.8 L436.8,111.8 L437.6,111.8 L438.4,111.8 L439.2,111.8 L440.0,111.8 L440.8,111.8 L441.6,111.8 L442.4,111.8 L443.2,111.8 L444.0,111.8 L444.8,111.8 L445.6,111.8 L446.3,111.8 L447.1,111.8 L447.9,111.8 L448.7,111.8 L449.5,111.8 L450.3,111.8 L451.1,111.8 L451.9,111.8 L452.7,111.8 L453.5,111.8 L454.3,111.8 L455.1,111.8 L455.9,111.8 L456.6,111.8 L457.4,111.8 L458.2,111.8 L459.0,111.8 L459.8,111.8 L460.6,111.8 L461.4,111.8 L462.2,111.8 L463.0,111.8 L463.8,111.8 L464.6,111.8 L465.4,111.8 L466.2,111.8 L467.0,111.8 L467.7,111.8 L468.5,111.8 L469.3,111.8 L470.1,111.8 L470.9,111.8 L471.7,111.8 L472.5,111.8 L473.3,111.8 L474.1,111.8 L474.9,111.8 L475.7,111.8 L476.5,111.8 L477.3,111.8 L478.1,111.8 L478.8,111.8 L479.6,111.8 L480.4,111.8 L481.2,111.8 L482.0,111.8 L482.8,111.8 L483.6,111.8 L484.4,111.8 L485.2,111.8 L486.0,111.7 L486.8,111.7 L487.6,111.7 L488.4,111.7 L489.1,111.7 L489.9,111.7 L490.7,111.7 L491.5,111.7 L492.3,111.7 L493.1,111.7 L493.9,111.7 L494.7,111.7 L495.5,111.7 L496.3,111.7 L497.1,111.7 L497.9,111.7 L498.7,111.7 L499.5,111.7 L500.2,111.7 L501.0,111.7 L501.8,111.7 L502.6,111.6 L503.4,111.5 L504.2,111.3 L505.0,110.9 L505.8,110.5 L506.6,109.9 L507.4,109.3 L508.2,108.6 L509.0,108.1 L509.8,107.7 L510.6,107.5 L511.3,107.3 L512.1,106.9 L512.9,105.8 L513.7,103.3 L514.5,98.7 L515.3,91.2 L516.1,80.8 L516.9,68.1 L517.7,54.6 L518.5,42.9 L519.3,35.3 L520.1,33.7 L520.9,38.4 L521.6,48.3 L522.4,61.0 L523.2,73.7 L524.0,84.0 L524.8,90.1 L525.6,91.6 L526.4,88.7 L527.2,83.0 L528.0,76.6 L528.8,71.9 L529.6,70.8 L530.4,73.4 L531.2,78.5 L532.0,83.6 L532.7,86.1 L533.5,83.9 L534.3,76.3 L535.1,63.9 L535.9,48.8 L536.7,34.0 L537.5,23.1 L538.3,18.7 L539.1,21.9 L539.9,31.8 L540.7,45.8 L541.5,60.9 L542.3,74.5 L543.0,85.0 L543.8,92.0 L544.6,96.0 L545.4,97.9 L546.2,98.5 L547.0,98.5 L547.8,98.4 L548.6,98.2 L549.4,98.3 L550.2,98.5 L551.0,99.0 L551.8,99.7 L552.6,100.5 L553.4,101.4 L554.1,102.5 L554.9,103.6 L555.7,104.7 L556.5,105.7 L557.3,106.7 L558.1,107.6 L558.9,108.4 L559.7,109.1 L560.5,109.7 L561.3,110.2 L562.1,110.6 L562.9,110.9 L563.7,111.1 L564.5,111.3 L565.2,111.4 L566.0,111.5 L566.8,111.6 L567.6,111.7 L568.4,111.7 L569.2,111.7 L570.0,111.7 L570.8,111.7 L571.6,111.7 L572.4,111.7 L573.2,111.7 L574.0,111.7 L574.8,111.7 L575.5,111.7 L576.3,111.7 L577.1,111.7 L577.9,111.7 L578.7,111.7 L579.5,111.7 L580.3,111.7 L581.1,111.7 L581.9,111.7 L582.7,111.7 L583.5,111.7 L584.3,111.7 L585.1,111.7 L585.9,111.7 L586.6,111.7 L587.4,111.7 L588.2,111.7 L589.0,111.7 L589.8,111.7 L590.6,111.7 L591.4,111.7 L592.2,111.7 L593.0,111.7 L593.8,111.7 L594.6,111.7 L595.4,111.7 L596.2,111.7 L597.0,111.7 L597.7,111.7 L598.5,111.7 L599.3,111.8 L600.1,111.8 L600.9,111.8 L601.7,111.8 L602.5,111.8 L602.50,111.75 L364.70,111.75 Z" fill="#ff0000" fill-opacity="0.5" stroke="none"/>
<path d="M364.7,111.8 L365.5,111.8 L366.3,111.8 L367.1,111.8 L367.9,111.8 L368.7,111.8 L369.5,111.8 L370.2,111.8 L371.0,111.8 L371.8,111.8 L372.6,111.8 L373.4,111.8 L374.2,111.8 L375.0,111.8 L375.8,111.8 L376.6,111.8 L377.4,111.8 L378.2,111.8 L379.0,111.8 L379.8,111.8 L380.6,111.8 L381.3,111.8 L382.1,111.8 L382.9,111.8 L383.7,111.8 L384.5,111.8 L385.3,111.8 L386.1,111.8 L386.9,111.8 L387.7,111.8 L388.5,111.8 L389.3,111.8 L390.1,111.8 L390.9,111.8 L391.7,111.8 L392.4,111.8 L393.2,111.8 L394.0,111.8 L394.8,111.8 L395.6,111.8 L396.4,111.8 L397.2,111.8 L398.0,111.8 L398.8,111.8 L399.6,111.8 L400.4,111.8 L401.2,111.8 L402.0,111.8 L402.7,111.8 L403.5,111.8 L404.3,111.8 L405.1,111.8 L405.9,111.8 L406.7,111.8 L407.5,111.8 L408.3,111.8 L409.1,111.8 L409.9,111.8 L410.7,111.8 L411.5,111.8 L412.3,111.8 L413.1,111.8 L413.8,111.8 L414.6,111.8 L415.4,111.8 L416.2,111.8 L417.0,111.8 L417.8,111.8 L418.6,111.8 L419.4,111.8 L420.2,111.8 L421.0,111.8 L421.8,111.8 L422.6,111.8 L423.4,111.8 L424.1,111.8 L424.9,111.8 L425.7,111.8 L426.5,111.8 L427.3,111.8 L428.1,111.8 L428.9,111.8 L429.7,111.8 L430.5,111.8 L431.3,111.8 L432.1,111.8 L432.9,111.8 L433.7,111.8 L434.5,111.8 L435.2,111.8 L436.0,111.8 L436.8,111.8 L437.6,111.8 L438.4,111.8 L439.2,111.8 L440.0,111.8 L440.8,111.8 L441.6,111.8 L442.4,111.8 L443.2,111.8 L444.0,111.8 L444.8,111.8 L445.6,111.8 L446.3,111.8 L447.1,111.8 L447.9,111.8 L448.7,111.8 L449.5,111.8 L450.3,111.8 L451.1,111.8 L451.9,111.8 L452.7,111.8 L453.5,111.8 L454.3,111.8 L455.1,111.8 L455.9,111.8 L456.6,111.8 L457.4,111.8 L458.2,111.8 L459.0,111.8 L459.8,111.8 L460.6,111.8 L461.4,111.8 L462.2,111.8 L463.0,111.8 L463.8,111.8 L464.6,111.8 L465.4,111.8 L466.2,111.8 L467.0,111.8 L467.7,111.8 L468.5,111.8 L469.3,111.8 L470.1,111.8 L470.9,111.8 L471.7,111.8 L472.5,111.8 L473.3,111.8 L474.1,111.8 L474.9,111.7 L475.7,111.7 L476.5,111.7 L477.3,111.7 L478.1,111.7 L478.8,111.7 L479.6,111.7 L480.4,111.7 L481.2,111.7 L482.0,111.7 L482.8,111.7 L483.6,111.7 L484.4,111.7 L485.2,111.7 L486.0,111.7 L486.8,111.7 L487.6,111.7 L488.4,111.7 L489.1,111.7 L489.9,111.7 L490.7,111.7 L491.5,111.7 L492.3,111.7 L493.1,111.7 L493.9,111.7 L494.7,111.7 L495.5,111.6 L496.3,111.5 L497.1,111.4 L497.9,111.0 L498.7,110.5 L499.5,109.7 L500.2,108.4 L501.0,106.5 L501.8,103.8 L502.6,100.2 L503.4,95.6 L504.2,90.0 L505.0,83.4 L505.8,76.2 L506.6,68.7 L507.4,61.6 L508.2,55.3 L509.0,50.4 L509.8,47.5 L510.6,46.8 L511.3,48.2 L512.1,51.7 L512.9,56.7 L513.7,62.5 L514.5,68.5 L515.3,74.1 L516.1,78.5 L516.9,81.5 L517.7,83.0 L518.5,82.8 L519.3,81.5 L520.1,79.2 L520.9,76.6 L521.6,74.2 L522.4,72.3 L523.2,71.4 L524.0,71.5 L524.8,72.6 L525.6,74.6 L526.4,77.1 L527.2,79.7 L528.0,82.1 L528.8,84.0 L529.6,85.3 L530.4,85.9 L531.2,85.9 L532.0,85.7 L532.7,85.5 L533.5,85.5 L534.3,85.9 L535.1,86.9 L535.9,88.3 L536.7,90.0 L537.5,91.9 L538.3,93.7 L539.1,95.0 L539.9,95.8 L540.7,95.9 L541.5,95.3 L542.3,94.1 L543.0,92.5 L543.8,90.7 L544.6,89.1 L545.4,87.8 L546.2,87.2 L547.0,87.3 L547.8,88.3 L548.6,89.9 L549.4,92.0 L550.2,94.5 L551.0,97.1 L551.8,99.5 L552.6,101.7 L553.4,103.4 L554.1,104.7 L554.9,105.6 L555.7,106.2 L556.5,106.6 L557.3,106.9 L558.1,107.2 L558.9,107.5 L559.7,108.0 L560.5,108.5 L561.3,109.1 L562.1,109.7 L562.9,110.2 L563.7,110.6 L564.5,111.0 L565.2,111.3 L566.0,111.4 L566.8,111.6 L567.6,111.7 L568.4,111.7 L569.2,111.7 L570.0,111.7 L570.8,111.7 L571.6,111.7 L572.4,111.7 L573.2,111.7 L574.0,111.7 L574.8,111.7 L575.5,111.7 L576.3,111.7 L577.1,111.7 L577.9,111.7 L578.7,111.7 L579.5,111.7 L580.3,111.7 L581.1,111.7 L581.9,111.7 L582.7,111.7 L583.5,111.7 L584.3,111.7 L585.1,111.7 L585.9,111.7 L586.6,111.7 L587.4,111.8 L588.2,111.8 L589.0,111.8 L589.8,111.8 L590.6,111.8 L591.4,111.8 L592.2,111.8 L593.0,111.8 L593.8,111.8 L594.6,111.8 L595.4,111.8 L596.2,111.8 L597.0,111.8 L597.7,111.8 L598.5,111.8 L599.3,111.8 L600.1,111.8 L600.9,111.8 L601.7,111.8 L602.5,111.8 L602.50,111.75 L364.70,111.75 Z" fill="#008000" fill-opacity="0.5" stroke="none"/>
<path d="M364.7,111.8 L365.5,111.8 L366.3,111.8 L367.1,111.8 L367.9,111.8 L368.7,111.8 L369.5,111.8 L370.2,111.8 L371.0,111.8 L371.8,111.8 L372.6,111.8 L373.4,111.8 L374.2,111.8 L375.0,111.8 L375.8,111.8 L376.6,111.8 L377.4,111.8 L378.2,111.8 L379.0,111.8 L379.8,111.8 L380.6,111.8 L381.3,111.8 L382.1,111.8 L382.9,111.8 L383.7,111.8 L384.5,111.8 L385.3,111.8 L386.1,111.8 L386.9,111.8 L387.7,111.8 L388.5,111.8 L389.3,111.8 L390.1,111.8 L390.9,111.8 L391.7,111.8 L392.4,111.8 L393.2,111.8 L394.0,111.8 L394.8,111.8 L395.6,111.8 L396.4,111.8 L397.2,111.8 L398.0,111.8 L398.8,111.8 L399.6,111.8 L400.4,111.8 L401.2,111.8 L402.0,111.8 L402.7,111.8 L403.5,111.8 L404.3,111.8 L405.1,111.8 L405.9,111.8 L406.7,111.8 L407.5,111.8 L408.3,111.8 L409.1,111.8 L409.9,111.8 L410.7,111.8 L411.5,111.8 L412.3,111.8 L413.1,111.8 L413.8,111.8 L414.6,111.8 L415.4,111.8 L416.2,111.8 L417.0,111.8 L417.8,111.8 L418.6,111.8 L419.4,111.8 L420.2,111.8 L421.0,111.8 L421.8,111.8 L422.6,111.8 L423.4,111.8 L424.1,111.8 L424.9,111.8 L425.7,111.8 L426.5,111.8 L427.3,111.8 L428.1,111.8 L428.9,111.8 L429.7,111.8 L430.5,111.8 L431.3,111.8 L432.1,111.8 L432.9,111.8 L433.7,111.8 L434.5,111.8 L435.2,111.8 L436.0,111.8 L436.8,111.8 L437.6,111.8 L438.4,111.8 L439.2,111.8 L440.0,111.8 L440.8,111.8 L441.6,111.8 L442.4,111.8 L443.2,111.8 L444.0,111.8 L444.8,111.8 L445.6,111.8 L446.3,111.8 L447.1,111.8 L447.9,111.8 L448.7,111.8 L449.5,111.8 L450.3,111.8 L451.1,111.8 L451.9,111.8 L452.7,111.8 L453.5,111.8 L454.3,111.8 L455.1,111.8 L455.9,111.8 L456.6,111.8 L457.4,111.8 L458.2,111.8 L459.0,111.8 L459.8,111.8 L460.6,111.8 L461.4,111.8 L462.2,111.8 L463.0,111.8 L463.8,111.8 L464.6,111.8 L465.4,111.8 L466.2,111.8 L467.0,111.8 L467.7,111.8 L468.5,111.8 L469.3,111.8 L470.1,111.8 L470.9,111.8 L471.7,111.8 L472.5,111.8 L473.3,111.8 L474.1,111.8 L474.9,111.8 L475.7,111.8 L476.5,111.8 L477.3,111.8 L478.1,111.8 L478.8,111.8 L479.6,111.8 L480.4,111.8 L481.2,111.8 L482.0,111.8 L482.8,111.8 L483.6,111.8 L484.4,111.8 L485.2,111.7 L486.0,111.7 L486.8,111.7 L487.6,111.7 L488.4,111.7 L489.1,111.7 L489.9,111.7 L490.7,111.7 L491.5,111.7 L492.3,111.7 L493.1,111.7 L493.9,111.7 L494.7,111.7 L495.5,111.7 L496.3,111.7 L497.1,111.7 L497.9,111.7 L498.7,111.7 L499.5,111.7 L500.2,111.7 L501.0,111.7 L501.8,111.7 L502.6,111.7 L503.4,111.7 L504.2,111.7 L505.0,111.7 L505.8,111.7 L506.6,111.7 L507.4,111.7 L508.2,111.7 L509.0,111.6 L509.8,111.4 L510.6,111.1 L511.3,110.4 L512.1,109.5 L512.9,108.0 L513.7,106.0 L514.5,103.5 L515.3,100.7 L516.1,97.6 L516.9,94.4 L517.7,90.9 L518.5,86.8 L519.3,82.0 L520.1,76.4 L520.9,70.1 L521.6,63.5 L522.4,57.0 L523.2,51.1 L524.0,46.3 L524.8,43.1 L525.6,41.6 L526.4,42.1 L527.2,44.4 L528.0,48.2 L528.8,53.3 L529.6,59.1 L530.4,65.1 L531.2,70.7 L532.0,75.7 L532.7,79.9 L533.5,83.2 L534.3,85.9 L535.1,88.3 L535.9,90.7 L536.7,93.1 L537.5,95.6 L538.3,97.9 L539.1,99.6 L539.9,100.3 L540.7,99.7 L541.5,97.7 L542.3,94.2 L543.0,89.7 L543.8,84.5 L544.6,79.3 L545.4,74.7 L546.2,71.4 L547.0,69.9 L547.8,70.3 L548.6,72.6 L549.4,76.5 L550.2,81.3 L551.0,86.5 L551.8,91.4 L552.6,95.6 L553.4,98.8 L554.1,101.1 L554.9,102.4 L555.7,102.9 L556.5,103.0 L557.3,102.9 L558.1,102.7 L558.9,102.7 L559.7,102.8 L560.5,103.3 L561.3,104.0 L562.1,104.8 L562.9,105.8 L563.7,106.9 L564.5,107.9 L565.2,108.8 L566.0,109.5 L566.8,110.2 L567.6,110.6 L568.4,111.0 L569.2,111.2 L570.0,111.4 L570.8,111.5 L571.6,111.5 L572.4,111.4 L573.2,111.3 L574.0,111.1 L574.8,110.9 L575.5,110.6 L576.3,110.2 L577.1,109.8 L577.9,109.4 L578.7,109.0 L579.5,108.7 L580.3,108.4 L581.1,108.3 L581.9,108.2 L582.7,108.3 L583.5,108.6 L584.3,108.9 L585.1,109.2 L585.9,109.6 L586.6,110.0 L587.4,110.4 L588.2,110.7 L589.0,111.0 L589.8,111.2 L590.6,111.4 L591.4,111.5 L592.2,111.6 L593.0,111.7 L593.8,111.7 L594.6,111.7 L595.4,111.7 L596.2,111.7 L597.0,111.7 L597.7,111.7 L598.5,111.7 L599.3,111.7 L600.1,111.7 L600.9,111.7 L601.7,111.7 L602.5,111.7 L602.50,111.75 L364.70,111.75 Z" fill="#0000ff" fill-opacity="0.5" stroke="none"/>
<line x1="364.70" x2="364.70" y1="3.85" y2="111.75" stroke="#b0b0b0" stroke-width="1.25"/>
<line x1="424.15" x2="424.15" y1="3.85" y2="111.75" stroke="#b0b0b0" stroke-width="1.25"/>
<line x1="483.60" x2="483.60" y1="3.85" y2="111.75" stroke="#b0b0b0" stroke-width="1.25"/>
<line x1="543.05" x2="543.05" y1="3.85" y2="111.75" stroke="#b0b0b0" stroke-width="1.25"/>
<line x1="602.50" x2="602.50" y1="3.85" y2="111.75" stroke="#b0b0b0" stroke-width="1.25"/>
<line x1="364.70" x2="602.50" y1="111.75" y2="111.75" stroke="#b0b0b0" stroke-width="1.25"/>
<line x1="364.70" x2="602.50" y1="84.78" y2="84.78" stroke="#b0b0b0" stroke-width="1.25"/>
<line x1="364.70" x2="602.50" y1="57.80" y2="57.80" stroke="#b0b0b0" stroke-width="1.25"/>
<line x1="364.70" x2="602.50" y1="30.82" y2="30.82" stroke="#b0b0b0" stroke-width="1.25"/>
<line x1="364.70" x2="602.50" y1="3.85" y2="3.85" stroke="#b0b0b0" stroke-width="1.25"/>
<path d="M364.7,111.8 L365.5,111.8 L366.3,111.8 L367.1,111.8 L367.9,111.8 L368.7,111.8 L369.5,111.8 L370.2,111.8 L371.0,111.8 L371.8,111.8 L372.6,111.8 L373.4,111.8 L374.2,111.8 L375.0,111.8 L375.8,111.8 L376.6,111.8 L377.4,111.8 L378.2,111.8 L379.0,111.8 L379.8,111.8 L380.6,111.8 L381.3,111.8 L382.1,111.8 L382.9,111.8 L383.7,111.8 L384.5,111.8 L385.3,111.8 L386.1,111.8 L386.9,111.8 L387.7,111.8 L388.5,111.8 L389.3,111.8 L390.1,111.8 L390.9,111.8 L391.7,111.8 L392.4,111.8 L393.2,111.8 L394.0,111.8 L394.8,111.8 L395.6,111.8 L396.4,111.8 L397.2,111.8 L398.0,111.8 L398.8,111.8 L399.6,111.8 L400.4,111.8 L401.2,111.8 L402.0,111.8 L402.7,111.8 L403.5,111.8 L404.3,111.8 L405.1,111.8 L405.9,111.8 L406.7,111.8 L407.5,111.8 L408.3,111.8 L409.1,111.8 L409.9,111.8 L410.7,111.8 L411.5,111.8 L412.3,111.8 L413.1,111.8 L413.8,111.8 L414.6,111.8 L415.4,111.8 L416.2,111.8 L417.0,111.8 L417.8,111.8 L418.6,111.8 L419.4,111.8 L420.2,111.8 L421.0,111.8 L421.8,111.8 L422.6,111.8 L423.4,111.8 L424.1,111.8 L424.9,111.8 L425.7,111.8 L426.5,111.8 L427.3,111.8 L428.1,111.8 L428.9,111.8 L429.7,111.8 L430.5,111.8 L431.3,111.8 L432.1,111.8 L432.9,111.8 L433.7,111.8 L434.5,111.8 L435.2,111.8 L436.0,111.8 L436.8,111.8 L437.6,111.8 L438.4,111.8 L439.2,111.8 L440.0,111.8 L440.8,111.8 L441.6,111.8 L442.4,111.8 L443.2,111.8 L444.0,111.8 L444.8,111.8 L445.6,111.8 L446.3,111.8 L447.1,111.8 L447.9,111.8 L448.7,111.8 L449.5,111.8 L450.3,111.8 L451.1,111.8 L451.9,111.8 L452.7,111.8 L453.5,111.8 L454.3,111.8 L455.1,111.8 L455.9,111.8 L456.6,111.8 L457.4,111.8 L458.2,111.8 L459.0,111.8 L459.8,111.8 L460.6,111.8 L461.4,111.8 L462.2,111.8 L463.0,111.8 L463.8,111.8 L464.6,111.8 L465.4,111.8 L466.2,111.8 L467.0,111.8 L467.7,111.8 L468.5,111.8 L469.3,111.8 L470.1,111.8 L470.9,111.8 L471.7,111.8 L472.5,111.8 L473.3,111.8 L474.1,111.8 L474.9,111.8 L475.7,111.8 L476.5,111.8 L477.3,111.8 L478.1,111.8 L478.8,111.8 L479.6,111.8 L480.4,111.8 L481.2,111.8 L482.0,111.8 L482.8,111.8 L483.6,111.8 L484.4,111.8 L485.2,111.8 L486.0,111.7 L486.8,111.7 L487.6,111.7 L488.4,111.7 L489.1,111.7 L489.9,111.7 L490.7,111.7 L491.5,111.7 L492.3,111.7 L493.1,111.7 L493.9,111.7 L494.7,111.7 L495.5,111.7 L496.3,111.7 L497.1,111.7 L497.9,111.7 L498.7,111.7 L499.5,111.7 L500.2,111.7 L501.0,111.7 L501.8,111.7 L502.6,111.6 L503.4,111.5 L504.2,111.3 L505.0,110.9 L505.8,110.5 L506.6,109.9 L507.4,109.3 L508.2,108.6 L509.0,108.1 L509.8,107.7 L510.6,107.5 L511.3,107.3 L512.1,106.9 L512.9,105.8 L513.7,103.3 L514.5,98.7 L515.3,91.2 L516.1,80.8 L516.9,68.1 L517.7,54.6 L518.5,42.9 L519.3,35.3 L520.1,33.7 L520.9,38.4 L521.6,48.3 L522.4,61.0 L523.2,73.7 L524.0,84.0 L524.8,90.1 L525.6,91.6 L526.4,88.7 L527.2,83.0 L528.0,76.6 L528.8,71.9 L529.6,70.8 L530.4,73.4 L531.2,78.5 L532.0,83.6 L532.7,86.1 L533.5,83.9 L534.3,76.3 L535.1,63.9 L535.9,48.8 L536.7,34.0 L537.5,23.1 L538.3,18.7 L539.1,21.9 L539.9,31.8 L540.7,45.8 L541.5,60.9 L542.3,74.5 L543.0,85.0 L543.8,92.0 L544.6,96.0 L545.4,97.9 L546.2,98.5 L547.0,98.5 L547.8,98.4 L548.6,98.2 L549.4,98.3 L550.2,98.5 L551.0,99.0 L551.8,99.7 L552.6,100.5 L553.4,101.4 L554.1,102.5 L554.9,103.6 L555.7,104.7 L556.5,105.7 L557.3,106.7 L558.1,107.6 L558.9,108.4 L559.7,109.1 L560.5,109.7 L561.3,110.2 L562.1,110.6 L562.9,110.9 L563.7,111.1 L564.5,111.3 L565.2,111.4 L566.0,111.5 L566.8,111.6 L567.6,111.7 L568.4,111.7 L569.2,111.7 L570.0,111.7 L570.8,111.7 L571.6,111.7 L572.4,111.7 L573.2,111.7 L574.0,111.7 L574.8,111.7 L575.5,111.7 L576.3,111.7 L577.1,111.7 L577.9,111.7 L578.7,111.7 L579.5,111.7 L580.3,111.7 L581.1,111.7 L581.9,111.7 L582.7,111.7 L583.5,111.7 L584.3,111.7 L585.1,111.7 L585.9,111.7 L586.6,111.7 L587.4,111.7 L588.2,111.7 L589.0,111.7 L589.8,111.7 L590.6,111.7 L591.4,111.7 L592.2,111.7 L593.0,111.7 L593.8,111.7 L594.6,111.7 L595.4,111.7 L596.2,111.7 L597.0,111.7 L597.7,111.7 L598.5,111.7 L599.3,111.8 L600.1,111.8 L600.9,111.8 L601.7,111.8 L602.5,111.8" fill="none" stroke="#ff0000" stroke-width="2.8" stroke-dasharray="2.8 3.3" stroke-linejoin="round"/>
<path d="M364.7,111.8 L365.5,111.8 L366.3,111.8 L367.1,111.8 L367.9,111.8 L368.7,111.8 L369.5,111.8 L370.2,111.8 L371.0,111.8 L371.8,111.8 L372.6,111.8 L373.4,111.8 L374.2,111.8 L375.0,111.8 L375.8,111.8 L376.6,111.8 L377.4,111.8 L378.2,111.8 L379.0,111.8 L379.8,111.8 L380.6,111.8 L381.3,111.8 L382.1,111.8 L382.9,111.8 L383.7,111.8 L384.5,111.8 L385.3,111.8 L386.1,111.8 L386.9,111.8 L387.7,111.8 L388.5,111.8 L389.3,111.8 L390.1,111.8 L390.9,111.8 L391.7,111.8 L392.4,111.8 L393.2,111.8 L394.0,111.8 L394.8,111.8 L395.6,111.8 L396.4,111.8 L397.2,111.8 L398.0,111.8 L398.8,111.8 L399.6,111.8 L400.4,111.8 L401.2,111.8 L402.0,111.8 L402.7,111.8 L403.5,111.8 L404.3,111.8 L405.1,111.8 L405.9,111.8 L406.7,111.8 L407.5,111.8 L408.3,111.8 L409.1,111.8 L409.9,111.8 L410.7,111.8 L411.5,111.8 L412.3,111.8 L413.1,111.8 L413.8,111.8 L414.6,111.8 L415.4,111.8 L416.2,111.8 L417.0,111.8 L417.8,111.8 L418.6,111.8 L419.4,111.8 L420.2,111.8 L421.0,111.8 L421.8,111.8 L422.6,111.8 L423.4,111.8 L424.1,111.8 L424.9,111.8 L425.7,111.8 L426.5,111.8 L427.3,111.8 L428.1,111.8 L428.9,111.8 L429.7,111.8 L430.5,111.8 L431.3,111.8 L432.1,111.8 L432.9,111.8 L433.7,111.8 L434.5,111.8 L435.2,111.8 L436.0,111.8 L436.8,111.8 L437.6,111.8 L438.4,111.8 L439.2,111.8 L440.0,111.8 L440.8,111.8 L441.6,111.8 L442.4,111.8 L443.2,111.8 L444.0,111.8 L444.8,111.8 L445.6,111.8 L446.3,111.8 L447.1,111.8 L447.9,111.8 L448.7,111.8 L449.5,111.8 L450.3,111.8 L451.1,111.8 L451.9,111.8 L452.7,111.8 L453.5,111.8 L454.3,111.8 L455.1,111.8 L455.9,111.8 L456.6,111.8 L457.4,111.8 L458.2,111.8 L459.0,111.8 L459.8,111.8 L460.6,111.8 L461.4,111.8 L462.2,111.8 L463.0,111.8 L463.8,111.8 L464.6,111.8 L465.4,111.8 L466.2,111.8 L467.0,111.8 L467.7,111.8 L468.5,111.8 L469.3,111.8 L470.1,111.8 L470.9,111.8 L471.7,111.8 L472.5,111.8 L473.3,111.8 L474.1,111.8 L474.9,111.7 L475.7,111.7 L476.5,111.7 L477.3,111.7 L478.1,111.7 L478.8,111.7 L479.6,111.7 L480.4,111.7 L481.2,111.7 L482.0,111.7 L482.8,111.7 L483.6,111.7 L484.4,111.7 L485.2,111.7 L486.0,111.7 L486.8,111.7 L487.6,111.7 L488.4,111.7 L489.1,111.7 L489.9,111.7 L490.7,111.7 L491.5,111.7 L492.3,111.7 L493.1,111.7 L493.9,111.7 L494.7,111.7 L495.5,111.6 L496.3,111.5 L497.1,111.4 L497.9,111.0 L498.7,110.5 L499.5,109.7 L500.2,108.4 L501.0,106.5 L501.8,103.8 L502.6,100.2 L503.4,95.6 L504.2,90.0 L505.0,83.4 L505.8,76.2 L506.6,68.7 L507.4,61.6 L508.2,55.3 L509.0,50.4 L509.8,47.5 L510.6,46.8 L511.3,48.2 L512.1,51.7 L512.9,56.7 L513.7,62.5 L514.5,68.5 L515.3,74.1 L516.1,78.5 L516.9,81.5 L517.7,83.0 L518.5,82.8 L519.3,81.5 L520.1,79.2 L520.9,76.6 L521.6,74.2 L522.4,72.3 L523.2,71.4 L524.0,71.5 L524.8,72.6 L525.6,74.6 L526.4,77.1 L527.2,79.7 L528.0,82.1 L528.8,84.0 L529.6,85.3 L530.4,85.9 L531.2,85.9 L532.0,85.7 L532.7,85.5 L533.5,85.5 L534.3,85.9 L535.1,86.9 L535.9,88.3 L536.7,90.0 L537.5,91.9 L538.3,93.7 L539.1,95.0 L539.9,95.8 L540.7,95.9 L541.5,95.3 L542.3,94.1 L543.0,92.5 L543.8,90.7 L544.6,89.1 L545.4,87.8 L546.2,87.2 L547.0,87.3 L547.8,88.3 L548.6,89.9 L549.4,92.0 L550.2,94.5 L551.0,97.1 L551.8,99.5 L552.6,101.7 L553.4,103.4 L554.1,104.7 L554.9,105.6 L555.7,106.2 L556.5,106.6 L557.3,106.9 L558.1,107.2 L558.9,107.5 L559.7,108.0 L560.5,108.5 L561.3,109.1 L562.1,109.7 L562.9,110.2 L563.7,110.6 L564.5,111.0 L565.2,111.3 L566.0,111.4 L566.8,111.6 L567.6,111.7 L568.4,111.7 L569.2,111.7 L570.0,111.7 L570.8,111.7 L571.6,111.7 L572.4,111.7 L573.2,111.7 L574.0,111.7 L574.8,111.7 L575.5,111.7 L576.3,111.7 L577.1,111.7 L577.9,111.7 L578.7,111.7 L579.5,111.7 L580.3,111.7 L581.1,111.7 L581.9,111.7 L582.7,111.7 L583.5,111.7 L584.3,111.7 L585.1,111.7 L585.9,111.7 L586.6,111.7 L587.4,111.8 L588.2,111.8 L589.0,111.8 L589.8,111.8 L590.6,111.8 L591.4,111.8 L592.2,111.8 L593.0,111.8 L593.8,111.8 L594.6,111.8 L595.4,111.8 L596.2,111.8 L597.0,111.8 L597.7,111.8 L598.5,111.8 L599.3,111.8 L600.1,111.8 L600.9,111.8 L601.7,111.8 L602.5,111.8" fill="none" stroke="#008000" stroke-width="2.8" stroke-dasharray="2.8 3.3" stroke-linejoin="round"/>
<path d="M364.7,111.8 L365.5,111.8 L366.3,111.8 L367.1,111.8 L367.9,111.8 L368.7,111.8 L369.5,111.8 L370.2,111.8 L371.0,111.8 L371.8,111.8 L372.6,111.8 L373.4,111.8 L374.2,111.8 L375.0,111.8 L375.8,111.8 L376.6,111.8 L377.4,111.8 L378.2,111.8 L379.0,111.8 L379.8,111.8 L380.6,111.8 L381.3,111.8 L382.1,111.8 L382.9,111.8 L383.7,111.8 L384.5,111.8 L385.3,111.8 L386.1,111.8 L386.9,111.8 L387.7,111.8 L388.5,111.8 L389.3,111.8 L390.1,111.8 L390.9,111.8 L391.7,111.8 L392.4,111.8 L393.2,111.8 L394.0,111.8 L394.8,111.8 L395.6,111.8 L396.4,111.8 L397.2,111.8 L398.0,111.8 L398.8,111.8 L399.6,111.8 L400.4,111.8 L401.2,111.8 L402.0,111.8 L402.7,111.8 L403.5,111.8 L404.3,111.8 L405.1,111.8 L405.9,111.8 L406.7,111.8 L407.5,111.8 L408.3,111.8 L409.1,111.8 L409.9,111.8 L410.7,111.8 L411.5,111.8 L412.3,111.8 L413.1,111.8 L413.8,111.8 L414.6,111.8 L415.4,111.8 L416.2,111.8 L417.0,111.8 L417.8,111.8 L418.6,111.8 L419.4,111.8 L420.2,111.8 L421.0,111.8 L421.8,111.8 L422.6,111.8 L423.4,111.8 L424.1,111.8 L424.9,111.8 L425.7,111.8 L426.5,111.8 L427.3,111.8 L428.1,111.8 L428.9,111.8 L429.7,111.8 L430.5,111.8 L431.3,111.8 L432.1,111.8 L432.9,111.8 L433.7,111.8 L434.5,111.8 L435.2,111.8 L436.0,111.8 L436.8,111.8 L437.6,111.8 L438.4,111.8 L439.2,111.8 L440.0,111.8 L440.8,111.8 L441.6,111.8 L442.4,111.8 L443.2,111.8 L444.0,111.8 L444.8,111.8 L445.6,111.8 L446.3,111.8 L447.1,111.8 L447.9,111.8 L448.7,111.8 L449.5,111.8 L450.3,111.8 L451.1,111.8 L451.9,111.8 L452.7,111.8 L453.5,111.8 L454.3,111.8 L455.1,111.8 L455.9,111.8 L456.6,111.8 L457.4,111.8 L458.2,111.8 L459.0,111.8 L459.8,111.8 L460.6,111.8 L461.4,111.8 L462.2,111.8 L463.0,111.8 L463.8,111.8 L464.6,111.8 L465.4,111.8 L466.2,111.8 L467.0,111.8 L467.7,111.8 L468.5,111.8 L469.3,111.8 L470.1,111.8 L470.9,111.8 L471.7,111.8 L472.5,111.8 L473.3,111.8 L474.1,111.8 L474.9,111.8 L475.7,111.8 L476.5,111.8 L477.3,111.8 L478.1,111.8 L478.8,111.8 L479.6,111.8 L480.4,111.8 L481.2,111.8 L482.0,111.8 L482.8,111.8 L483.6,111.8 L484.4,111.8 L485.2,111.7 L486.0,111.7 L486.8,111.7 L487.6,111.7 L488.4,111.7 L489.1,111.7 L489.9,111.7 L490.7,111.7 L491.5,111.7 L492.3,111.7 L493.1,111.7 L493.9,111.7 L494.7,111.7 L495.5,111.7 L496.3,111.7 L497.1,111.7 L497.9,111.7 L498.7,111.7 L499.5,111.7 L500.2,111.7 L501.0,111.7 L501.8,111.7 L502.6,111.7 L503.4,111.7 L504.2,111.7 L505.0,111.7 L505.8,111.7 L506.6,111.7 L507.4,111.7 L508.2,111.7 L509.0,111.6 L509.8,111.4 L510.6,111.1 L511.3,110.4 L512.1,109.5 L512.9,108.0 L513.7,106.0 L514.5,103.5 L515.3,100.7 L516.1,97.6 L516.9,94.4 L517.7,90.9 L518.5,86.8 L519.3,82.0 L520.1,76.4 L520.9,70.1 L521.6,63.5 L522.4,57.0 L523.2,51.1 L524.0,46.3 L524.8,43.1 L525.6,41.6 L526.4,42.1 L527.2,44.4 L528.0,48.2 L528.8,53.3 L529.6,59.1 L530.4,65.1 L531.2,70.7 L532.0,75.7 L532.7,79.9 L533.5,83.2 L534.3,85.9 L535.1,88.3 L535.9,90.7 L536.7,93.1 L537.5,95.6 L538.3,97.9 L539.1,99.6 L539.9,100.3 L540.7,99.7 L541.5,97.7 L542.3,94.2 L543.0,89.7 L543.8,84.5 L544.6,79.3 L545.4,74.7 L546.2,71.4 L547.0,69.9 L547.8,70.3 L548.6,72.6 L549.4,76.5 L550.2,81.3 L551.0,86.5 L551.8,91.4 L552.6,95.6 L553.4,98.8 L554.1,101.1 L554.9,102.4 L555.7,102.9 L556.5,103.0 L557.3,102.9 L558.1,102.7 L558.9,102.7 L559.7,102.8 L560.5,103.3 L561.3,104.0 L562.1,104.8 L562.9,105.8 L563.7,106.9 L564.5,107.9 L565.2,108.8 L566.0,109.5 L566.8,110.2 L567.6,110.6 L568.4,111.0 L569.2,111.2 L570.0,111.4 L570.8,111.5 L571.6,111.5 L572.4,111.4 L573.2,111.3 L574.0,111.1 L574.8,110.9 L575.5,110.6 L576.3,110.2 L577.1,109.8 L577.9,109.4 L578.7,109.0 L579.5,108.7 L580.3,108.4 L581.1,108.3 L581.9,108.2 L582.7,108.3 L583.5,108.6 L584.3,108.9 L585.1,109.2 L585.9,109.6 L586.6,110.0 L587.4,110.4 L588.2,110.7 L589.0,111.0 L589.8,111.2 L590.6,111.4 L591.4,111.5 L592.2,111.6 L593.0,111.7 L593.8,111.7 L594.6,111.7 L595.4,111.7 L596.2,111.7 L597.0,111.7 L597.7,111.7 L598.5,111.7 L599.3,111.7 L600.1,111.7 L600.9,111.7 L601.7,111.7 L602.5,111.7" fill="none" stroke="#0000ff" stroke-width="2.8" stroke-dasharray="2.8 3.3" stroke-linejoin="round"/>
</g>
<line x1="364.70" x2="364.70" y1="111.75" y2="116.55" stroke="#000" stroke-width="1"/>
<text x="363.30" y="131.15" font-size="11.4" letter-spacing="0.45" text-anchor="middle">7</text>
<line x1="424.15" x2="424.15" y1="111.75" y2="116.55" stroke="#000" stroke-width="1"/>
<text x="422.75" y="131.15" font-size="11.4" letter-spacing="0.45" text-anchor="middle">8</text>
<line x1="483.60" x2="483.60" y1="111.75" y2="116.55" stroke="#000" stroke-width="1"/>
<text x="482.20" y="131.15" font-size="11.4" letter-spacing="0.45" text-anchor="middle">9</text>
<line x1="543.05" x2="543.05" y1="111.75" y2="116.55" stroke="#000" stroke-width="1"/>
<text x="541.65" y="131.15" font-size="11.4" letter-spacing="0.45" text-anchor="middle">10</text>
<line x1="602.50" x2="602.50" y1="111.75" y2="116.55" stroke="#000" stroke-width="1"/>
<text x="601.10" y="131.15" font-size="11.4" letter-spacing="0.45" text-anchor="middle">11</text>
<line x1="359.90" x2="364.70" y1="111.75" y2="111.75" stroke="#000" stroke-width="1"/>
<text x="353.50" y="116.30" font-size="11.4" letter-spacing="0.45" text-anchor="end">0</text>
<line x1="359.90" x2="364.70" y1="84.78" y2="84.78" stroke="#000" stroke-width="1"/>
<text x="353.50" y="89.33" font-size="11.4" letter-spacing="0.45" text-anchor="end">1</text>
<line x1="359.90" x2="364.70" y1="57.80" y2="57.80" stroke="#000" stroke-width="1"/>
<text x="353.50" y="62.35" font-size="11.4" letter-spacing="0.45" text-anchor="end">2</text>
<line x1="359.90" x2="364.70" y1="30.82" y2="30.82" stroke="#000" stroke-width="1"/>
<text x="353.50" y="35.37" font-size="11.4" letter-spacing="0.45" text-anchor="end">3</text>
<line x1="359.90" x2="364.70" y1="3.85" y2="3.85" stroke="#000" stroke-width="1"/>
<text x="353.50" y="8.40" font-size="11.4" letter-spacing="0.45" text-anchor="end">4</text>
<rect x="364.70" y="3.85" width="237.80" height="107.90" fill="none" stroke="#000" stroke-width="1.25"/>
<text x="369.30" y="20.65" font-size="14.2" letter-spacing="0.55">HM <tspan font-weight="bold" letter-spacing="1.1">(a)</tspan></text>
<text transform="translate(337.00,58.70) rotate(-90)" font-size="14" text-anchor="middle" letter-spacing="0.3">Estimated PDF</text>
<text x="483.10" y="149.75" font-size="13.4" letter-spacing="0.2" text-anchor="middle">log(<tspan font-style="italic">E</tspan><tspan font-style="italic" font-size="9.8" dy="2.4">c</tspan><tspan dy="-2.4">)</tspan></text>
<rect x="371.5" y="51.4" width="68.4" height="53.4" fill="#fff" fill-opacity="0.85" stroke="#1a1a1a" stroke-width="1.2"/>
<line x1="377.7" x2="393.5" y1="62.2" y2="62.2" stroke="#ff0000" stroke-width="2.6" stroke-dasharray="3 3.2"/>
<text x="404.5" y="66.9" font-size="13.8">1000</text>
<line x1="377.7" x2="393.5" y1="76.8" y2="76.8" stroke="#008000" stroke-width="2.6" stroke-dasharray="3 3.2"/>
<text x="404.5" y="81.5" font-size="13.8">2000</text>
<line x1="377.7" x2="393.5" y1="91.4" y2="91.4" stroke="#0000ff" stroke-width="2.6" stroke-dasharray="3 3.2"/>
<text x="404.5" y="96.10000000000001" font-size="13.8">5000</text>
<clipPath id="c01"><rect x="55.90" y="166.55" width="237.80" height="107.90"/></clipPath>
<g clip-path="url(#c01)">
<path d="M55.9,270.2 L56.7,269.5 L57.5,268.5 L58.3,267.4 L59.1,266.2 L59.9,264.9 L60.7,263.6 L61.4,262.2 L62.2,260.8 L63.0,259.3 L63.8,257.7 L64.6,256.0 L65.4,254.2 L66.2,252.3 L67.0,250.4 L67.8,248.4 L68.6,246.4 L69.4,244.3 L70.2,242.3 L71.0,240.3 L71.8,238.4 L72.5,236.4 L73.3,234.5 L74.1,232.5 L74.9,230.6 L75.7,228.7 L76.5,226.7 L77.3,224.7 L78.1,222.7 L78.9,220.6 L79.7,218.5 L80.5,216.3 L81.3,214.1 L82.1,211.7 L82.9,209.3 L83.6,206.7 L84.4,204.0 L85.2,201.2 L86.0,198.5 L86.8,195.9 L87.6,193.3 L88.4,190.9 L89.2,188.6 L90.0,186.7 L90.8,185.7 L91.6,185.8 L92.4,187.2 L93.2,189.4 L93.9,192.4 L94.7,196.0 L95.5,200.2 L96.3,204.8 L97.1,209.6 L97.9,214.4 L98.7,219.1 L99.5,223.9 L100.3,228.6 L101.1,233.3 L101.9,237.8 L102.7,242.2 L103.5,246.3 L104.3,250.2 L105.0,254.0 L105.8,257.4 L106.6,260.5 L107.4,262.9 L108.2,264.9 L109.0,266.5 L109.8,267.9 L110.6,269.2 L111.4,270.2 L112.2,271.0 L113.0,271.5 L113.8,271.8 L114.6,272.0 L115.3,272.0 L116.1,271.9 L116.9,271.9 L117.7,271.8 L118.5,271.7 L119.3,271.7 L120.1,271.6 L120.9,271.5 L121.7,271.5 L122.5,271.5 L123.3,271.5 L124.1,271.6 L124.9,271.6 L125.7,271.7 L126.4,271.8 L127.2,271.9 L128.0,272.0 L128.8,272.1 L129.6,272.2 L130.4,272.2 L131.2,272.3 L132.0,272.3 L132.8,272.3 L133.6,272.2 L134.4,272.1 L135.2,272.1 L136.0,271.9 L136.8,271.8 L137.5,271.7 L138.3,271.5 L139.1,271.3 L139.9,271.1 L140.7,270.9 L141.5,270.6 L142.3,270.3 L143.1,269.8 L143.9,269.2 L144.7,268.6 L145.5,267.9 L146.3,267.2 L147.1,266.5 L147.8,265.9 L148.6,265.3 L149.4,264.7 L150.2,264.1 L151.0,263.6 L151.8,263.1 L152.6,262.6 L153.4,262.3 L154.2,262.2 L155.0,262.3 L155.8,262.5 L156.6,262.9 L157.4,263.4 L158.2,264.0 L158.9,264.6 L159.7,265.2 L160.5,265.8 L161.3,266.5 L162.1,267.2 L162.9,267.9 L163.7,268.6 L164.5,269.3 L165.3,270.0 L166.1,270.5 L166.9,270.9 L167.7,271.1 L168.5,271.3 L169.3,271.3 L170.0,271.4 L170.8,271.4 L171.6,271.5 L172.4,271.5 L173.2,271.6 L174.0,271.6 L174.8,271.6 L175.6,271.7 L176.4,271.7 L177.2,271.8 L178.0,271.8 L178.8,271.9 L179.6,272.0 L180.3,272.1 L181.1,272.2 L181.9,272.3 L182.7,272.4 L183.5,272.5 L184.3,272.6 L185.1,272.7 L185.9,272.8 L186.7,272.9 L187.5,273.0 L188.3,273.0 L189.1,273.1 L189.9,273.1 L190.7,273.2 L191.4,273.2 L192.2,273.3 L193.0,273.3 L193.8,273.4 L194.6,273.4 L195.4,273.4 L196.2,273.5 L197.0,273.5 L197.8,273.5 L198.6,273.6 L199.4,273.6 L200.2,273.6 L201.0,273.7 L201.8,273.7 L202.5,273.7 L203.3,273.8 L204.1,273.8 L204.9,273.8 L205.7,273.8 L206.5,273.8 L207.3,273.9 L208.1,273.9 L208.9,273.9 L209.7,273.9 L210.5,273.9 L211.3,273.9 L212.1,273.9 L212.8,273.9 L213.6,273.9 L214.4,273.9 L215.2,273.9 L216.0,273.9 L216.8,273.9 L217.6,273.8 L218.4,273.8 L219.2,273.8 L220.0,273.8 L220.8,273.8 L221.6,273.7 L222.4,273.7 L223.2,273.7 L223.9,273.6 L224.7,273.6 L225.5,273.6 L226.3,273.5 L227.1,273.5 L227.9,273.5 L228.7,273.4 L229.5,273.4 L230.3,273.4 L231.1,273.3 L231.9,273.3 L232.7,273.3 L233.5,273.3 L234.3,273.2 L235.0,273.2 L235.8,273.2 L236.6,273.2 L237.4,273.1 L238.2,273.1 L239.0,273.1 L239.8,273.1 L240.6,273.1 L241.4,273.1 L242.2,273.1 L243.0,273.1 L243.8,273.1 L244.6,273.1 L245.3,273.2 L246.1,273.2 L246.9,273.2 L247.7,273.3 L248.5,273.3 L249.3,273.3 L250.1,273.4 L250.9,273.4 L251.7,273.5 L252.5,273.5 L253.3,273.6 L254.1,273.6 L254.9,273.7 L255.7,273.7 L256.4,273.7 L257.2,273.8 L258.0,273.8 L258.8,273.9 L259.6,273.9 L260.4,273.9 L261.2,273.9 L262.0,274.0 L262.8,274.0 L263.6,274.0 L264.4,274.0 L265.2,274.0 L266.0,274.0 L266.7,274.0 L267.5,274.0 L268.3,274.0 L269.1,274.0 L269.9,274.0 L270.7,274.0 L271.5,274.0 L272.3,274.0 L273.1,274.0 L273.9,274.0 L274.7,274.0 L275.5,274.0 L276.3,274.0 L277.1,274.0 L277.8,274.0 L278.6,274.0 L279.4,274.0 L280.2,274.0 L281.0,274.0 L281.8,274.0 L282.6,274.0 L283.4,274.0 L284.2,274.0 L285.0,274.0 L285.8,274.0 L286.6,274.0 L287.4,274.0 L288.2,274.0 L288.9,274.0 L289.7,274.0 L290.5,274.0 L291.3,274.0 L292.1,274.0 L292.9,274.0 L293.7,274.0 L293.70,274.45 L55.90,274.45 Z" fill="#ff0000" fill-opacity="0.5" stroke="none"/>
<path d="M55.9,272.0 L56.7,271.6 L57.5,271.0 L58.3,270.2 L59.1,269.4 L59.9,268.5 L60.7,267.5 L61.4,266.4 L62.2,265.3 L63.0,264.1 L63.8,262.8 L64.6,261.4 L65.4,259.8 L66.2,258.2 L67.0,256.4 L67.8,254.6 L68.6,252.7 L69.4,250.7 L70.2,248.8 L71.0,246.8 L71.8,244.8 L72.5,242.7 L73.3,240.6 L74.1,238.5 L74.9,236.3 L75.7,234.1 L76.5,231.8 L77.3,229.5 L78.1,227.1 L78.9,224.8 L79.7,222.4 L80.5,220.0 L81.3,217.5 L82.1,215.0 L82.9,212.3 L83.6,209.6 L84.4,206.9 L85.2,204.4 L86.0,202.1 L86.8,200.2 L87.6,198.6 L88.4,197.4 L89.2,197.0 L90.0,197.3 L90.8,198.3 L91.6,199.9 L92.4,201.8 L93.2,204.0 L93.9,206.5 L94.7,209.5 L95.5,212.8 L96.3,216.2 L97.1,219.8 L97.9,223.4 L98.7,227.0 L99.5,230.7 L100.3,234.5 L101.1,238.2 L101.9,241.8 L102.7,245.2 L103.5,248.4 L104.3,251.5 L105.0,254.4 L105.8,257.1 L106.6,259.5 L107.4,261.6 L108.2,263.4 L109.0,264.9 L109.8,266.2 L110.6,267.4 L111.4,268.5 L112.2,269.5 L113.0,270.2 L113.8,270.7 L114.6,271.0 L115.3,271.1 L116.1,271.1 L116.9,271.0 L117.7,270.9 L118.5,270.8 L119.3,270.7 L120.1,270.6 L120.9,270.5 L121.7,270.5 L122.5,270.4 L123.3,270.4 L124.1,270.5 L124.9,270.6 L125.7,270.7 L126.4,270.8 L127.2,270.9 L128.0,271.0 L128.8,271.1 L129.6,271.3 L130.4,271.4 L131.2,271.5 L132.0,271.6 L132.8,271.7 L133.6,271.7 L134.4,271.7 L135.2,271.7 L136.0,271.6 L136.8,271.4 L137.5,271.2 L138.3,270.9 L139.1,270.6 L139.9,270.3 L140.7,269.9 L141.5,269.5 L142.3,269.0 L143.1,268.3 L143.9,267.5 L144.7,266.7 L145.5,265.7 L146.3,264.7 L147.1,263.8 L147.8,262.9 L148.6,262.1 L149.4,261.2 L150.2,260.4 L151.0,259.6 L151.8,258.9 L152.6,258.4 L153.4,258.0 L154.2,258.0 L155.0,258.3 L155.8,258.8 L156.6,259.4 L157.4,260.2 L158.2,261.1 L158.9,261.9 L159.7,262.8 L160.5,263.6 L161.3,264.5 L162.1,265.4 L162.9,266.4 L163.7,267.3 L164.5,268.2 L165.3,269.0 L166.1,269.7 L166.9,270.2 L167.7,270.6 L168.5,270.8 L169.3,271.0 L170.0,271.2 L170.8,271.3 L171.6,271.4 L172.4,271.5 L173.2,271.6 L174.0,271.7 L174.8,271.8 L175.6,271.8 L176.4,271.9 L177.2,272.0 L178.0,272.1 L178.8,272.2 L179.6,272.3 L180.3,272.4 L181.1,272.6 L181.9,272.7 L182.7,272.8 L183.5,272.9 L184.3,273.0 L185.1,273.1 L185.9,273.1 L186.7,273.2 L187.5,273.3 L188.3,273.3 L189.1,273.4 L189.9,273.4 L190.7,273.4 L191.4,273.5 L192.2,273.5 L193.0,273.5 L193.8,273.6 L194.6,273.6 L195.4,273.6 L196.2,273.6 L197.0,273.7 L197.8,273.7 L198.6,273.7 L199.4,273.7 L200.2,273.7 L201.0,273.8 L201.8,273.8 L202.5,273.8 L203.3,273.8 L204.1,273.8 L204.9,273.8 L205.7,273.9 L206.5,273.9 L207.3,273.9 L208.1,273.9 L208.9,273.9 L209.7,273.9 L210.5,273.9 L211.3,273.9 L212.1,273.9 L212.8,273.9 L213.6,273.9 L214.4,273.9 L215.2,273.9 L216.0,273.9 L216.8,273.9 L217.6,273.8 L218.4,273.8 L219.2,273.8 L220.0,273.7 L220.8,273.7 L221.6,273.7 L222.4,273.6 L223.2,273.6 L223.9,273.5 L224.7,273.5 L225.5,273.5 L226.3,273.4 L227.1,273.4 L227.9,273.3 L228.7,273.3 L229.5,273.2 L230.3,273.2 L231.1,273.2 L231.9,273.1 L232.7,273.1 L233.5,273.0 L234.3,273.0 L235.0,273.0 L235.8,272.9 L236.6,272.9 L237.4,272.9 L238.2,272.9 L239.0,272.9 L239.8,272.8 L240.6,272.8 L241.4,272.8 L242.2,272.8 L243.0,272.9 L243.8,272.9 L244.6,272.9 L245.3,272.9 L246.1,272.9 L246.9,273.0 L247.7,273.0 L248.5,273.1 L249.3,273.1 L250.1,273.2 L250.9,273.2 L251.7,273.3 L252.5,273.3 L253.3,273.4 L254.1,273.4 L254.9,273.5 L255.7,273.5 L256.4,273.6 L257.2,273.6 L258.0,273.7 L258.8,273.7 L259.6,273.8 L260.4,273.8 L261.2,273.8 L262.0,273.9 L262.8,273.9 L263.6,273.9 L264.4,273.9 L265.2,273.9 L266.0,273.9 L266.7,273.9 L267.5,273.9 L268.3,273.9 L269.1,273.9 L269.9,273.9 L270.7,273.9 L271.5,273.9 L272.3,273.9 L273.1,273.9 L273.9,273.9 L274.7,273.9 L275.5,273.9 L276.3,273.9 L277.1,273.9 L277.8,273.9 L278.6,273.9 L279.4,273.9 L280.2,273.9 L281.0,273.9 L281.8,273.9 L282.6,273.9 L283.4,273.9 L284.2,273.9 L285.0,273.9 L285.8,273.9 L286.6,273.9 L287.4,273.9 L288.2,273.9 L288.9,273.9 L289.7,273.9 L290.5,273.9 L291.3,273.9 L292.1,273.9 L292.9,273.9 L293.7,273.9 L293.70,274.45 L55.90,274.45 Z" fill="#008000" fill-opacity="0.5" stroke="none"/>
<path d="M55.9,269.7 L56.7,269.1 L57.5,268.3 L58.3,267.4 L59.1,266.4 L59.9,265.3 L60.7,264.1 L61.4,262.9 L62.2,261.7 L63.0,260.4 L63.8,259.0 L64.6,257.5 L65.4,255.9 L66.2,254.3 L67.0,252.6 L67.8,250.8 L68.6,249.0 L69.4,247.2 L70.2,245.4 L71.0,243.5 L71.8,241.7 L72.5,239.9 L73.3,238.1 L74.1,236.2 L74.9,234.3 L75.7,232.5 L76.5,230.5 L77.3,228.6 L78.1,226.6 L78.9,224.6 L79.7,222.6 L80.5,220.5 L81.3,218.3 L82.1,216.1 L82.9,213.7 L83.6,211.1 L84.4,208.5 L85.2,205.9 L86.0,203.3 L86.8,200.8 L87.6,198.5 L88.4,196.5 L89.2,194.5 L90.0,192.8 L90.8,191.4 L91.6,190.7 L92.4,190.7 L93.2,191.5 L93.9,193.1 L94.7,195.1 L95.5,197.7 L96.3,200.7 L97.1,204.2 L97.9,208.2 L98.7,212.3 L99.5,216.4 L100.3,220.5 L101.1,224.7 L101.9,228.9 L102.7,233.1 L103.5,237.2 L104.3,241.1 L105.0,244.8 L105.8,248.4 L106.6,251.7 L107.4,254.9 L108.2,257.9 L109.0,260.5 L109.8,262.6 L110.6,264.4 L111.4,265.9 L112.2,267.2 L113.0,268.4 L113.8,269.5 L114.6,270.3 L115.3,271.0 L116.1,271.4 L116.9,271.7 L117.7,271.8 L118.5,271.8 L119.3,271.9 L120.1,271.9 L120.9,271.9 L121.7,271.9 L122.5,272.0 L123.3,272.0 L124.1,272.0 L124.9,272.0 L125.7,272.0 L126.4,272.1 L127.2,272.1 L128.0,272.1 L128.8,272.1 L129.6,272.2 L130.4,272.2 L131.2,272.2 L132.0,272.2 L132.8,272.2 L133.6,272.3 L134.4,272.3 L135.2,272.3 L136.0,272.3 L136.8,272.3 L137.5,272.2 L138.3,272.2 L139.1,272.1 L139.9,272.0 L140.7,271.8 L141.5,271.7 L142.3,271.5 L143.1,271.4 L143.9,271.2 L144.7,271.0 L145.5,270.8 L146.3,270.7 L147.1,270.5 L147.8,270.3 L148.6,270.1 L149.4,269.9 L150.2,269.7 L151.0,269.5 L151.8,269.4 L152.6,269.2 L153.4,269.1 L154.2,269.1 L155.0,269.2 L155.8,269.3 L156.6,269.5 L157.4,269.7 L158.2,270.0 L158.9,270.2 L159.7,270.5 L160.5,270.8 L161.3,271.0 L162.1,271.1 L162.9,271.2 L163.7,271.2 L164.5,271.2 L165.3,271.2 L166.1,271.2 L166.9,271.2 L167.7,271.2 L168.5,271.2 L169.3,271.2 L170.0,271.2 L170.8,271.1 L171.6,271.1 L172.4,271.0 L173.2,270.8 L174.0,270.7 L174.8,270.5 L175.6,270.4 L176.4,270.3 L177.2,270.2 L178.0,270.2 L178.8,270.2 L179.6,270.3 L180.3,270.4 L181.1,270.6 L181.9,270.8 L182.7,271.0 L183.5,271.2 L184.3,271.4 L185.1,271.7 L185.9,271.8 L186.7,272.0 L187.5,272.2 L188.3,272.3 L189.1,272.4 L189.9,272.6 L190.7,272.7 L191.4,272.8 L192.2,273.0 L193.0,273.1 L193.8,273.2 L194.6,273.3 L195.4,273.4 L196.2,273.5 L197.0,273.5 L197.8,273.6 L198.6,273.6 L199.4,273.7 L200.2,273.7 L201.0,273.7 L201.8,273.7 L202.5,273.7 L203.3,273.8 L204.1,273.8 L204.9,273.8 L205.7,273.8 L206.5,273.8 L207.3,273.8 L208.1,273.8 L208.9,273.9 L209.7,273.9 L210.5,273.9 L211.3,273.9 L212.1,273.9 L212.8,273.9 L213.6,273.9 L214.4,273.9 L215.2,273.9 L216.0,273.9 L216.8,273.9 L217.6,273.9 L218.4,273.9 L219.2,273.9 L220.0,273.9 L220.8,273.9 L221.6,273.8 L222.4,273.8 L223.2,273.8 L223.9,273.7 L224.7,273.7 L225.5,273.6 L226.3,273.6 L227.1,273.6 L227.9,273.5 L228.7,273.5 L229.5,273.4 L230.3,273.4 L231.1,273.3 L231.9,273.2 L232.7,273.2 L233.5,273.2 L234.3,273.1 L235.0,273.1 L235.8,273.0 L236.6,273.0 L237.4,272.9 L238.2,272.9 L239.0,272.9 L239.8,272.9 L240.6,272.9 L241.4,272.8 L242.2,272.8 L243.0,272.8 L243.8,272.8 L244.6,272.9 L245.3,272.9 L246.1,272.9 L246.9,272.9 L247.7,273.0 L248.5,273.0 L249.3,273.1 L250.1,273.1 L250.9,273.2 L251.7,273.2 L252.5,273.3 L253.3,273.3 L254.1,273.4 L254.9,273.4 L255.7,273.5 L256.4,273.6 L257.2,273.6 L258.0,273.7 L258.8,273.7 L259.6,273.7 L260.4,273.8 L261.2,273.8 L262.0,273.8 L262.8,273.9 L263.6,273.9 L264.4,273.9 L265.2,273.9 L266.0,273.9 L266.7,273.9 L267.5,273.9 L268.3,273.9 L269.1,273.9 L269.9,273.9 L270.7,273.9 L271.5,273.9 L272.3,273.9 L273.1,273.9 L273.9,273.9 L274.7,273.9 L275.5,273.9 L276.3,273.9 L277.1,273.9 L277.8,273.9 L278.6,273.9 L279.4,273.9 L280.2,273.9 L281.0,273.9 L281.8,273.9 L282.6,273.8 L283.4,273.8 L284.2,273.8 L285.0,273.8 L285.8,273.8 L286.6,273.8 L287.4,273.8 L288.2,273.8 L288.9,273.8 L289.7,273.7 L290.5,273.7 L291.3,273.7 L292.1,273.7 L292.9,273.7 L293.7,273.7 L293.70,274.45 L55.90,274.45 Z" fill="#0000ff" fill-opacity="0.5" stroke="none"/>
<line x1="55.90" x2="55.90" y1="166.55" y2="274.45" stroke="#b0b0b0" stroke-width="1.25"/>
<line x1="103.46" x2="103.46" y1="166.55" y2="274.45" stroke="#b0b0b0" stroke-width="1.25"/>
<line x1="151.02" x2="151.02" y1="166.55" y2="274.45" stroke="#b0b0b0" stroke-width="1.25"/>
<line x1="198.58" x2="198.58" y1="166.55" y2="274.45" stroke="#b0b0b0" stroke-width="1.25"/>
<line x1="246.14" x2="246.14" y1="166.55" y2="274.45" stroke="#b0b0b0" stroke-width="1.25"/>
<line x1="293.70" x2="293.70" y1="166.55" y2="274.45" stroke="#b0b0b0" stroke-width="1.25"/>
<line x1="55.90" x2="293.70" y1="274.45" y2="274.45" stroke="#b0b0b0" stroke-width="1.25"/>
<line x1="55.90" x2="293.70" y1="247.48" y2="247.48" stroke="#b0b0b0" stroke-width="1.25"/>
<line x1="55.90" x2="293.70" y1="220.50" y2="220.50" stroke="#b0b0b0" stroke-width="1.25"/>
<line x1="55.90" x2="293.70" y1="193.53" y2="193.53" stroke="#b0b0b0" stroke-width="1.25"/>
<line x1="55.90" x2="293.70" y1="166.55" y2="166.55" stroke="#b0b0b0" stroke-width="1.25"/>
<path d="M55.9,270.2 L56.7,269.5 L57.5,268.5 L58.3,267.4 L59.1,266.2 L59.9,264.9 L60.7,263.6 L61.4,262.2 L62.2,260.8 L63.0,259.3 L63.8,257.7 L64.6,256.0 L65.4,254.2 L66.2,252.3 L67.0,250.4 L67.8,248.4 L68.6,246.4 L69.4,244.3 L70.2,242.3 L71.0,240.3 L71.8,238.4 L72.5,236.4 L73.3,234.5 L74.1,232.5 L74.9,230.6 L75.7,228.7 L76.5,226.7 L77.3,224.7 L78.1,222.7 L78.9,220.6 L79.7,218.5 L80.5,216.3 L81.3,214.1 L82.1,211.7 L82.9,209.3 L83.6,206.7 L84.4,204.0 L85.2,201.2 L86.0,198.5 L86.8,195.9 L87.6,193.3 L88.4,190.9 L89.2,188.6 L90.0,186.7 L90.8,185.7 L91.6,185.8 L92.4,187.2 L93.2,189.4 L93.9,192.4 L94.7,196.0 L95.5,200.2 L96.3,204.8 L97.1,209.6 L97.9,214.4 L98.7,219.1 L99.5,223.9 L100.3,228.6 L101.1,233.3 L101.9,237.8 L102.7,242.2 L103.5,246.3 L104.3,250.2 L105.0,254.0 L105.8,257.4 L106.6,260.5 L107.4,262.9 L108.2,264.9 L109.0,266.5 L109.8,267.9 L110.6,269.2 L111.4,270.2 L112.2,271.0 L113.0,271.5 L113.8,271.8 L114.6,272.0 L115.3,272.0 L116.1,271.9 L116.9,271.9 L117.7,271.8 L118.5,271.7 L119.3,271.7 L120.1,271.6 L120.9,271.5 L121.7,271.5 L122.5,271.5 L123.3,271.5 L124.1,271.6 L124.9,271.6 L125.7,271.7 L126.4,271.8 L127.2,271.9 L128.0,272.0 L128.8,272.1 L129.6,272.2 L130.4,272.2 L131.2,272.3 L132.0,272.3 L132.8,272.3 L133.6,272.2 L134.4,272.1 L135.2,272.1 L136.0,271.9 L136.8,271.8 L137.5,271.7 L138.3,271.5 L139.1,271.3 L139.9,271.1 L140.7,270.9 L141.5,270.6 L142.3,270.3 L143.1,269.8 L143.9,269.2 L144.7,268.6 L145.5,267.9 L146.3,267.2 L147.1,266.5 L147.8,265.9 L148.6,265.3 L149.4,264.7 L150.2,264.1 L151.0,263.6 L151.8,263.1 L152.6,262.6 L153.4,262.3 L154.2,262.2 L155.0,262.3 L155.8,262.5 L156.6,262.9 L157.4,263.4 L158.2,264.0 L158.9,264.6 L159.7,265.2 L160.5,265.8 L161.3,266.5 L162.1,267.2 L162.9,267.9 L163.7,268.6 L164.5,269.3 L165.3,270.0 L166.1,270.5 L166.9,270.9 L167.7,271.1 L168.5,271.3 L169.3,271.3 L170.0,271.4 L170.8,271.4 L171.6,271.5 L172.4,271.5 L173.2,271.6 L174.0,271.6 L174.8,271.6 L175.6,271.7 L176.4,271.7 L177.2,271.8 L178.0,271.8 L178.8,271.9 L179.6,272.0 L180.3,272.1 L181.1,272.2 L181.9,272.3 L182.7,272.4 L183.5,272.5 L184.3,272.6 L185.1,272.7 L185.9,272.8 L186.7,272.9 L187.5,273.0 L188.3,273.0 L189.1,273.1 L189.9,273.1 L190.7,273.2 L191.4,273.2 L192.2,273.3 L193.0,273.3 L193.8,273.4 L194.6,273.4 L195.4,273.4 L196.2,273.5 L197.0,273.5 L197.8,273.5 L198.6,273.6 L199.4,273.6 L200.2,273.6 L201.0,273.7 L201.8,273.7 L202.5,273.7 L203.3,273.8 L204.1,273.8 L204.9,273.8 L205.7,273.8 L206.5,273.8 L207.3,273.9 L208.1,273.9 L208.9,273.9 L209.7,273.9 L210.5,273.9 L211.3,273.9 L212.1,273.9 L212.8,273.9 L213.6,273.9 L214.4,273.9 L215.2,273.9 L216.0,273.9 L216.8,273.9 L217.6,273.8 L218.4,273.8 L219.2,273.8 L220.0,273.8 L220.8,273.8 L221.6,273.7 L222.4,273.7 L223.2,273.7 L223.9,273.6 L224.7,273.6 L225.5,273.6 L226.3,273.5 L227.1,273.5 L227.9,273.5 L228.7,273.4 L229.5,273.4 L230.3,273.4 L231.1,273.3 L231.9,273.3 L232.7,273.3 L233.5,273.3 L234.3,273.2 L235.0,273.2 L235.8,273.2 L236.6,273.2 L237.4,273.1 L238.2,273.1 L239.0,273.1 L239.8,273.1 L240.6,273.1 L241.4,273.1 L242.2,273.1 L243.0,273.1 L243.8,273.1 L244.6,273.1 L245.3,273.2 L246.1,273.2 L246.9,273.2 L247.7,273.3 L248.5,273.3 L249.3,273.3 L250.1,273.4 L250.9,273.4 L251.7,273.5 L252.5,273.5 L253.3,273.6 L254.1,273.6 L254.9,273.7 L255.7,273.7 L256.4,273.7 L257.2,273.8 L258.0,273.8 L258.8,273.9 L259.6,273.9 L260.4,273.9 L261.2,273.9 L262.0,274.0 L262.8,274.0 L263.6,274.0 L264.4,274.0 L265.2,274.0 L266.0,274.0 L266.7,274.0 L267.5,274.0 L268.3,274.0 L269.1,274.0 L269.9,274.0 L270.7,274.0 L271.5,274.0 L272.3,274.0 L273.1,274.0 L273.9,274.0 L274.7,274.0 L275.5,274.0 L276.3,274.0 L277.1,274.0 L277.8,274.0 L278.6,274.0 L279.4,274.0 L280.2,274.0 L281.0,274.0 L281.8,274.0 L282.6,274.0 L283.4,274.0 L284.2,274.0 L285.0,274.0 L285.8,274.0 L286.6,274.0 L287.4,274.0 L288.2,274.0 L288.9,274.0 L289.7,274.0 L290.5,274.0 L291.3,274.0 L292.1,274.0 L292.9,274.0 L293.7,274.0" fill="none" stroke="#ff0000" stroke-width="2.8" stroke-dasharray="2.8 3.3" stroke-linejoin="round"/>
<path d="M55.9,272.0 L56.7,271.6 L57.5,271.0 L58.3,270.2 L59.1,269.4 L59.9,268.5 L60.7,267.5 L61.4,266.4 L62.2,265.3 L63.0,264.1 L63.8,262.8 L64.6,261.4 L65.4,259.8 L66.2,258.2 L67.0,256.4 L67.8,254.6 L68.6,252.7 L69.4,250.7 L70.2,248.8 L71.0,246.8 L71.8,244.8 L72.5,242.7 L73.3,240.6 L74.1,238.5 L74.9,236.3 L75.7,234.1 L76.5,231.8 L77.3,229.5 L78.1,227.1 L78.9,224.8 L79.7,222.4 L80.5,220.0 L81.3,217.5 L82.1,215.0 L82.9,212.3 L83.6,209.6 L84.4,206.9 L85.2,204.4 L86.0,202.1 L86.8,200.2 L87.6,198.6 L88.4,197.4 L89.2,197.0 L90.0,197.3 L90.8,198.3 L91.6,199.9 L92.4,201.8 L93.2,204.0 L93.9,206.5 L94.7,209.5 L95.5,212.8 L96.3,216.2 L97.1,219.8 L97.9,223.4 L98.7,227.0 L99.5,230.7 L100.3,234.5 L101.1,238.2 L101.9,241.8 L102.7,245.2 L103.5,248.4 L104.3,251.5 L105.0,254.4 L105.8,257.1 L106.6,259.5 L107.4,261.6 L108.2,263.4 L109.0,264.9 L109.8,266.2 L110.6,267.4 L111.4,268.5 L112.2,269.5 L113.0,270.2 L113.8,270.7 L114.6,271.0 L115.3,271.1 L116.1,271.1 L116.9,271.0 L117.7,270.9 L118.5,270.8 L119.3,270.7 L120.1,270.6 L120.9,270.5 L121.7,270.5 L122.5,270.4 L123.3,270.4 L124.1,270.5 L124.9,270.6 L125.7,270.7 L126.4,270.8 L127.2,270.9 L128.0,271.0 L128.8,271.1 L129.6,271.3 L130.4,271.4 L131.2,271.5 L132.0,271.6 L132.8,271.7 L133.6,271.7 L134.4,271.7 L135.2,271.7 L136.0,271.6 L136.8,271.4 L137.5,271.2 L138.3,270.9 L139.1,270.6 L139.9,270.3 L140.7,269.9 L141.5,269.5 L142.3,269.0 L143.1,268.3 L143.9,267.5 L144.7,266.7 L145.5,265.7 L146.3,264.7 L147.1,263.8 L147.8,262.9 L148.6,262.1 L149.4,261.2 L150.2,260.4 L151.0,259.6 L151.8,258.9 L152.6,258.4 L153.4,258.0 L154.2,258.0 L155.0,258.3 L155.8,258.8 L156.6,259.4 L157.4,260.2 L158.2,261.1 L158.9,261.9 L159.7,262.8 L160.5,263.6 L161.3,264.5 L162.1,265.4 L162.9,266.4 L163.7,267.3 L164.5,268.2 L165.3,269.0 L166.1,269.7 L166.9,270.2 L167.7,270.6 L168.5,270.8 L169.3,271.0 L170.0,271.2 L170.8,271.3 L171.6,271.4 L172.4,271.5 L173.2,271.6 L174.0,271.7 L174.8,271.8 L175.6,271.8 L176.4,271.9 L177.2,272.0 L178.0,272.1 L178.8,272.2 L179.6,272.3 L180.3,272.4 L181.1,272.6 L181.9,272.7 L182.7,272.8 L183.5,272.9 L184.3,273.0 L185.1,273.1 L185.9,273.1 L186.7,273.2 L187.5,273.3 L188.3,273.3 L189.1,273.4 L189.9,273.4 L190.7,273.4 L191.4,273.5 L192.2,273.5 L193.0,273.5 L193.8,273.6 L194.6,273.6 L195.4,273.6 L196.2,273.6 L197.0,273.7 L197.8,273.7 L198.6,273.7 L199.4,273.7 L200.2,273.7 L201.0,273.8 L201.8,273.8 L202.5,273.8 L203.3,273.8 L204.1,273.8 L204.9,273.8 L205.7,273.9 L206.5,273.9 L207.3,273.9 L208.1,273.9 L208.9,273.9 L209.7,273.9 L210.5,273.9 L211.3,273.9 L212.1,273.9 L212.8,273.9 L213.6,273.9 L214.4,273.9 L215.2,273.9 L216.0,273.9 L216.8,273.9 L217.6,273.8 L218.4,273.8 L219.2,273.8 L220.0,273.7 L220.8,273.7 L221.6,273.7 L222.4,273.6 L223.2,273.6 L223.9,273.5 L224.7,273.5 L225.5,273.5 L226.3,273.4 L227.1,273.4 L227.9,273.3 L228.7,273.3 L229.5,273.2 L230.3,273.2 L231.1,273.2 L231.9,273.1 L232.7,273.1 L233.5,273.0 L234.3,273.0 L235.0,273.0 L235.8,272.9 L236.6,272.9 L237.4,272.9 L238.2,272.9 L239.0,272.9 L239.8,272.8 L240.6,272.8 L241.4,272.8 L242.2,272.8 L243.0,272.9 L243.8,272.9 L244.6,272.9 L245.3,272.9 L246.1,272.9 L246.9,273.0 L247.7,273.0 L248.5,273.1 L249.3,273.1 L250.1,273.2 L250.9,273.2 L251.7,273.3 L252.5,273.3 L253.3,273.4 L254.1,273.4 L254.9,273.5 L255.7,273.5 L256.4,273.6 L257.2,273.6 L258.0,273.7 L258.8,273.7 L259.6,273.8 L260.4,273.8 L261.2,273.8 L262.0,273.9 L262.8,273.9 L263.6,273.9 L264.4,273.9 L265.2,273.9 L266.0,273.9 L266.7,273.9 L267.5,273.9 L268.3,273.9 L269.1,273.9 L269.9,273.9 L270.7,273.9 L271.5,273.9 L272.3,273.9 L273.1,273.9 L273.9,273.9 L274.7,273.9 L275.5,273.9 L276.3,273.9 L277.1,273.9 L277.8,273.9 L278.6,273.9 L279.4,273.9 L280.2,273.9 L281.0,273.9 L281.8,273.9 L282.6,273.9 L283.4,273.9 L284.2,273.9 L285.0,273.9 L285.8,273.9 L286.6,273.9 L287.4,273.9 L288.2,273.9 L288.9,273.9 L289.7,273.9 L290.5,273.9 L291.3,273.9 L292.1,273.9 L292.9,273.9 L293.7,273.9" fill="none" stroke="#008000" stroke-width="2.8" stroke-dasharray="2.8 3.3" stroke-linejoin="round"/>
<path d="M55.9,269.7 L56.7,269.1 L57.5,268.3 L58.3,267.4 L59.1,266.4 L59.9,265.3 L60.7,264.1 L61.4,262.9 L62.2,261.7 L63.0,260.4 L63.8,259.0 L64.6,257.5 L65.4,255.9 L66.2,254.3 L67.0,252.6 L67.8,250.8 L68.6,249.0 L69.4,247.2 L70.2,245.4 L71.0,243.5 L71.8,241.7 L72.5,239.9 L73.3,238.1 L74.1,236.2 L74.9,234.3 L75.7,232.5 L76.5,230.5 L77.3,228.6 L78.1,226.6 L78.9,224.6 L79.7,222.6 L80.5,220.5 L81.3,218.3 L82.1,216.1 L82.9,213.7 L83.6,211.1 L84.4,208.5 L85.2,205.9 L86.0,203.3 L86.8,200.8 L87.6,198.5 L88.4,196.5 L89.2,194.5 L90.0,192.8 L90.8,191.4 L91.6,190.7 L92.4,190.7 L93.2,191.5 L93.9,193.1 L94.7,195.1 L95.5,197.7 L96.3,200.7 L97.1,204.2 L97.9,208.2 L98.7,212.3 L99.5,216.4 L100.3,220.5 L101.1,224.7 L101.9,228.9 L102.7,233.1 L103.5,237.2 L104.3,241.1 L105.0,244.8 L105.8,248.4 L106.6,251.7 L107.4,254.9 L108.2,257.9 L109.0,260.5 L109.8,262.6 L110.6,264.4 L111.4,265.9 L112.2,267.2 L113.0,268.4 L113.8,269.5 L114.6,270.3 L115.3,271.0 L116.1,271.4 L116.9,271.7 L117.7,271.8 L118.5,271.8 L119.3,271.9 L120.1,271.9 L120.9,271.9 L121.7,271.9 L122.5,272.0 L123.3,272.0 L124.1,272.0 L124.9,272.0 L125.7,272.0 L126.4,272.1 L127.2,272.1 L128.0,272.1 L128.8,272.1 L129.6,272.2 L130.4,272.2 L131.2,272.2 L132.0,272.2 L132.8,272.2 L133.6,272.3 L134.4,272.3 L135.2,272.3 L136.0,272.3 L136.8,272.3 L137.5,272.2 L138.3,272.2 L139.1,272.1 L139.9,272.0 L140.7,271.8 L141.5,271.7 L142.3,271.5 L143.1,271.4 L143.9,271.2 L144.7,271.0 L145.5,270.8 L146.3,270.7 L147.1,270.5 L147.8,270.3 L148.6,270.1 L149.4,269.9 L150.2,269.7 L151.0,269.5 L151.8,269.4 L152.6,269.2 L153.4,269.1 L154.2,269.1 L155.0,269.2 L155.8,269.3 L156.6,269.5 L157.4,269.7 L158.2,270.0 L158.9,270.2 L159.7,270.5 L160.5,270.8 L161.3,271.0 L162.1,271.1 L162.9,271.2 L163.7,271.2 L164.5,271.2 L165.3,271.2 L166.1,271.2 L166.9,271.2 L167.7,271.2 L168.5,271.2 L169.3,271.2 L170.0,271.2 L170.8,271.1 L171.6,271.1 L172.4,271.0 L173.2,270.8 L174.0,270.7 L174.8,270.5 L175.6,270.4 L176.4,270.3 L177.2,270.2 L178.0,270.2 L178.8,270.2 L179.6,270.3 L180.3,270.4 L181.1,270.6 L181.9,270.8 L182.7,271.0 L183.5,271.2 L184.3,271.4 L185.1,271.7 L185.9,271.8 L186.7,272.0 L187.5,272.2 L188.3,272.3 L189.1,272.4 L189.9,272.6 L190.7,272.7 L191.4,272.8 L192.2,273.0 L193.0,273.1 L193.8,273.2 L194.6,273.3 L195.4,273.4 L196.2,273.5 L197.0,273.5 L197.8,273.6 L198.6,273.6 L199.4,273.7 L200.2,273.7 L201.0,273.7 L201.8,273.7 L202.5,273.7 L203.3,273.8 L204.1,273.8 L204.9,273.8 L205.7,273.8 L206.5,273.8 L207.3,273.8 L208.1,273.8 L208.9,273.9 L209.7,273.9 L210.5,273.9 L211.3,273.9 L212.1,273.9 L212.8,273.9 L213.6,273.9 L214.4,273.9 L215.2,273.9 L216.0,273.9 L216.8,273.9 L217.6,273.9 L218.4,273.9 L219.2,273.9 L220.0,273.9 L220.8,273.9 L221.6,273.8 L222.4,273.8 L223.2,273.8 L223.9,273.7 L224.7,273.7 L225.5,273.6 L226.3,273.6 L227.1,273.6 L227.9,273.5 L228.7,273.5 L229.5,273.4 L230.3,273.4 L231.1,273.3 L231.9,273.2 L232.7,273.2 L233.5,273.2 L234.3,273.1 L235.0,273.1 L235.8,273.0 L236.6,273.0 L237.4,272.9 L238.2,272.9 L239.0,272.9 L239.8,272.9 L240.6,272.9 L241.4,272.8 L242.2,272.8 L243.0,272.8 L243.8,272.8 L244.6,272.9 L245.3,272.9 L246.1,272.9 L246.9,272.9 L247.7,273.0 L248.5,273.0 L249.3,273.1 L250.1,273.1 L250.9,273.2 L251.7,273.2 L252.5,273.3 L253.3,273.3 L254.1,273.4 L254.9,273.4 L255.7,273.5 L256.4,273.6 L257.2,273.6 L258.0,273.7 L258.8,273.7 L259.6,273.7 L260.4,273.8 L261.2,273.8 L262.0,273.8 L262.8,273.9 L263.6,273.9 L264.4,273.9 L265.2,273.9 L266.0,273.9 L266.7,273.9 L267.5,273.9 L268.3,273.9 L269.1,273.9 L269.9,273.9 L270.7,273.9 L271.5,273.9 L272.3,273.9 L273.1,273.9 L273.9,273.9 L274.7,273.9 L275.5,273.9 L276.3,273.9 L277.1,273.9 L277.8,273.9 L278.6,273.9 L279.4,273.9 L280.2,273.9 L281.0,273.9 L281.8,273.9 L282.6,273.8 L283.4,273.8 L284.2,273.8 L285.0,273.8 L285.8,273.8 L286.6,273.8 L287.4,273.8 L288.2,273.8 L288.9,273.8 L289.7,273.7 L290.5,273.7 L291.3,273.7 L292.1,273.7 L292.9,273.7 L293.7,273.7" fill="none" stroke="#0000ff" stroke-width="2.8" stroke-dasharray="2.8 3.3" stroke-linejoin="round"/>
</g>
<line x1="55.90" x2="55.90" y1="274.45" y2="279.25" stroke="#000" stroke-width="1"/>
<text x="54.50" y="293.85" font-size="11.4" letter-spacing="0.45" text-anchor="middle">0.0</text>
<line x1="103.46" x2="103.46" y1="274.45" y2="279.25" stroke="#000" stroke-width="1"/>
<text x="102.06" y="293.85" font-size="11.4" letter-spacing="0.45" text-anchor="middle">0.1</text>
<line x1="151.02" x2="151.02" y1="274.45" y2="279.25" stroke="#000" stroke-width="1"/>
<text x="149.62" y="293.85" font-size="11.4" letter-spacing="0.45" text-anchor="middle">0.2</text>
<line x1="198.58" x2="198.58" y1="274.45" y2="279.25" stroke="#000" stroke-width="1"/>
<text x="197.18" y="293.85" font-size="11.4" letter-spacing="0.45" text-anchor="middle">0.3</text>
<line x1="246.14" x2="246.14" y1="274.45" y2="279.25" stroke="#000" stroke-width="1"/>
<text x="244.74" y="293.85" font-size="11.4" letter-spacing="0.45" text-anchor="middle">0.4</text>
<line x1="293.70" x2="293.70" y1="274.45" y2="279.25" stroke="#000" stroke-width="1"/>
<text x="292.30" y="293.85" font-size="11.4" letter-spacing="0.45" text-anchor="middle">0.5</text>
<line x1="51.10" x2="55.90" y1="274.45" y2="274.45" stroke="#000" stroke-width="1"/>
<text x="44.70" y="279.00" font-size="11.4" letter-spacing="0.45" text-anchor="end">0</text>
<line x1="51.10" x2="55.90" y1="247.48" y2="247.48" stroke="#000" stroke-width="1"/>
<text x="44.70" y="252.03" font-size="11.4" letter-spacing="0.45" text-anchor="end">5</text>
<line x1="51.10" x2="55.90" y1="220.50" y2="220.50" stroke="#000" stroke-width="1"/>
<text x="44.70" y="225.05" font-size="11.4" letter-spacing="0.45" text-anchor="end">10</text>
<line x1="51.10" x2="55.90" y1="193.53" y2="193.53" stroke="#000" stroke-width="1"/>
<text x="44.70" y="198.08" font-size="11.4" letter-spacing="0.45" text-anchor="end">15</text>
<line x1="51.10" x2="55.90" y1="166.55" y2="166.55" stroke="#000" stroke-width="1"/>
<text x="44.70" y="171.10" font-size="11.4" letter-spacing="0.45" text-anchor="end">20</text>
<rect x="55.90" y="166.55" width="237.80" height="107.90" fill="none" stroke="#000" stroke-width="1.25"/>
<text x="60.50" y="183.35" font-size="14.2" letter-spacing="0.55">CL <tspan font-weight="bold" letter-spacing="1.1">(b)</tspan></text>
<text transform="translate(21.90,221.40) rotate(-90)" font-size="14" text-anchor="middle" letter-spacing="0.3">Estimated PDF</text>
<text x="174.30" y="311.45" font-size="13.4" letter-spacing="0.2" text-anchor="middle"><tspan font-style="italic">ν</tspan><tspan font-style="italic" font-size="9.8" dy="2.4">c</tspan></text>
<clipPath id="c11"><rect x="364.70" y="166.55" width="237.80" height="107.90"/></clipPath>
<g clip-path="url(#c11)">
<path d="M364.7,244.0 L365.5,242.2 L366.3,239.8 L367.1,237.2 L367.9,234.5 L368.7,231.9 L369.5,229.3 L370.2,226.7 L371.0,224.1 L371.8,221.5 L372.6,218.9 L373.4,216.2 L374.2,213.5 L375.0,210.9 L375.8,208.3 L376.6,205.9 L377.4,203.7 L378.2,201.8 L379.0,200.2 L379.8,198.7 L380.6,197.4 L381.3,196.2 L382.1,195.0 L382.9,193.9 L383.7,192.9 L384.5,192.0 L385.3,191.2 L386.1,190.6 L386.9,190.3 L387.7,190.1 L388.5,190.2 L389.3,190.6 L390.1,191.3 L390.9,192.3 L391.7,193.5 L392.4,194.8 L393.2,196.3 L394.0,197.9 L394.8,199.5 L395.6,201.2 L396.4,202.9 L397.2,204.8 L398.0,206.9 L398.8,209.2 L399.6,211.6 L400.4,214.0 L401.2,216.5 L402.0,219.1 L402.7,221.7 L403.5,224.4 L404.3,227.3 L405.1,230.3 L405.9,233.5 L406.7,236.7 L407.5,239.8 L408.3,242.9 L409.1,245.8 L409.9,248.5 L410.7,251.0 L411.5,253.0 L412.3,254.8 L413.1,256.3 L413.8,257.7 L414.6,259.0 L415.4,260.2 L416.2,261.4 L417.0,262.4 L417.8,263.4 L418.6,264.3 L419.4,265.0 L420.2,265.6 L421.0,266.1 L421.8,266.5 L422.6,266.8 L423.4,267.1 L424.1,267.3 L424.9,267.6 L425.7,267.8 L426.5,268.0 L427.3,268.2 L428.1,268.3 L428.9,268.5 L429.7,268.6 L430.5,268.6 L431.3,268.7 L432.1,268.7 L432.9,268.7 L433.7,268.6 L434.5,268.5 L435.2,268.3 L436.0,268.1 L436.8,267.8 L437.6,267.6 L438.4,267.3 L439.2,267.0 L440.0,266.7 L440.8,266.5 L441.6,266.2 L442.4,266.0 L443.2,265.8 L444.0,265.7 L444.8,265.6 L445.6,265.5 L446.3,265.5 L447.1,265.5 L447.9,265.5 L448.7,265.5 L449.5,265.6 L450.3,265.6 L451.1,265.6 L451.9,265.7 L452.7,265.7 L453.5,265.7 L454.3,265.8 L455.1,265.8 L455.9,265.9 L456.6,265.9 L457.4,266.0 L458.2,266.0 L459.0,266.1 L459.8,266.2 L460.6,266.2 L461.4,266.3 L462.2,266.4 L463.0,266.5 L463.8,266.7 L464.6,266.8 L465.4,266.9 L466.2,267.1 L467.0,267.3 L467.7,267.4 L468.5,267.6 L469.3,267.7 L470.1,267.8 L470.9,268.0 L471.7,268.1 L472.5,268.1 L473.3,268.2 L474.1,268.3 L474.9,268.3 L475.7,268.2 L476.5,268.2 L477.3,268.1 L478.1,268.0 L478.8,267.8 L479.6,267.7 L480.4,267.5 L481.2,267.2 L482.0,266.9 L482.8,266.6 L483.6,266.2 L484.4,265.8 L485.2,265.3 L486.0,264.8 L486.8,264.3 L487.6,263.7 L488.4,263.1 L489.1,262.5 L489.9,261.9 L490.7,261.2 L491.5,260.5 L492.3,259.7 L493.1,258.7 L493.9,257.7 L494.7,256.7 L495.5,255.6 L496.3,254.4 L497.1,253.3 L497.9,252.3 L498.7,251.2 L499.5,250.3 L500.2,249.5 L501.0,248.7 L501.8,248.1 L502.6,247.5 L503.4,246.9 L504.2,246.3 L505.0,245.7 L505.8,245.1 L506.6,244.6 L507.4,244.1 L508.2,243.6 L509.0,243.2 L509.8,242.9 L510.6,242.6 L511.3,242.4 L512.1,242.2 L512.9,242.2 L513.7,242.2 L514.5,242.4 L515.3,242.7 L516.1,243.1 L516.9,243.7 L517.7,244.2 L518.5,244.9 L519.3,245.6 L520.1,246.3 L520.9,247.0 L521.6,247.7 L522.4,248.4 L523.2,249.2 L524.0,250.0 L524.8,250.8 L525.6,251.7 L526.4,252.7 L527.2,253.7 L528.0,254.7 L528.8,255.7 L529.6,256.6 L530.4,257.5 L531.2,258.4 L532.0,259.2 L532.7,259.9 L533.5,260.5 L534.3,261.1 L535.1,261.7 L535.9,262.2 L536.7,262.8 L537.5,263.3 L538.3,263.7 L539.1,264.2 L539.9,264.6 L540.7,265.1 L541.5,265.4 L542.3,265.8 L543.0,266.2 L543.8,266.5 L544.6,266.8 L545.4,267.1 L546.2,267.4 L547.0,267.7 L547.8,267.9 L548.6,268.2 L549.4,268.4 L550.2,268.6 L551.0,268.9 L551.8,269.1 L552.6,269.3 L553.4,269.5 L554.1,269.6 L554.9,269.8 L555.7,270.0 L556.5,270.1 L557.3,270.3 L558.1,270.4 L558.9,270.6 L559.7,270.7 L560.5,270.8 L561.3,271.0 L562.1,271.1 L562.9,271.2 L563.7,271.3 L564.5,271.4 L565.2,271.5 L566.0,271.6 L566.8,271.7 L567.6,271.8 L568.4,271.9 L569.2,272.0 L570.0,272.0 L570.8,272.1 L571.6,272.2 L572.4,272.2 L573.2,272.3 L574.0,272.4 L574.8,272.4 L575.5,272.5 L576.3,272.5 L577.1,272.6 L577.9,272.6 L578.7,272.7 L579.5,272.7 L580.3,272.8 L581.1,272.8 L581.9,272.9 L582.7,272.9 L583.5,272.9 L584.3,273.0 L585.1,273.0 L585.9,273.0 L586.6,273.1 L587.4,273.1 L588.2,273.1 L589.0,273.1 L589.8,273.2 L590.6,273.2 L591.4,273.2 L592.2,273.2 L593.0,273.2 L593.8,273.3 L594.6,273.3 L595.4,273.3 L596.2,273.3 L597.0,273.3 L597.7,273.3 L598.5,273.3 L599.3,273.4 L600.1,273.4 L600.9,273.4 L601.7,273.4 L602.5,273.4 L602.50,274.45 L364.70,274.45 Z" fill="#ff0000" fill-opacity="0.5" stroke="none"/>
<path d="M364.7,266.2 L365.5,265.6 L366.3,264.9 L367.1,264.1 L367.9,263.2 L368.7,262.4 L369.5,261.5 L370.2,260.6 L371.0,259.7 L371.8,258.8 L372.6,257.9 L373.4,257.0 L374.2,256.1 L375.0,255.1 L375.8,254.0 L376.6,252.9 L377.4,251.8 L378.2,250.6 L379.0,249.5 L379.8,248.4 L380.6,247.4 L381.3,246.5 L382.1,245.6 L382.9,244.9 L383.7,244.3 L384.5,243.8 L385.3,243.3 L386.1,242.9 L386.9,242.5 L387.7,242.1 L388.5,241.7 L389.3,241.4 L390.1,241.1 L390.9,240.9 L391.7,240.8 L392.4,240.7 L393.2,240.6 L394.0,240.7 L394.8,240.9 L395.6,241.1 L396.4,241.4 L397.2,241.8 L398.0,242.2 L398.8,242.7 L399.6,243.2 L400.4,243.7 L401.2,244.3 L402.0,244.8 L402.7,245.3 L403.5,245.9 L404.3,246.6 L405.1,247.3 L405.9,248.0 L406.7,248.8 L407.5,249.6 L408.3,250.4 L409.1,251.2 L409.9,252.0 L410.7,252.7 L411.5,253.3 L412.3,253.9 L413.1,254.4 L413.8,255.0 L414.6,255.5 L415.4,255.9 L416.2,256.4 L417.0,256.8 L417.8,257.3 L418.6,257.7 L419.4,258.1 L420.2,258.4 L421.0,258.8 L421.8,259.1 L422.6,259.4 L423.4,259.7 L424.1,259.9 L424.9,260.1 L425.7,260.3 L426.5,260.5 L427.3,260.7 L428.1,260.9 L428.9,261.1 L429.7,261.3 L430.5,261.4 L431.3,261.6 L432.1,261.7 L432.9,261.9 L433.7,262.0 L434.5,262.1 L435.2,262.2 L436.0,262.4 L436.8,262.5 L437.6,262.6 L438.4,262.7 L439.2,262.8 L440.0,263.0 L440.8,263.1 L441.6,263.2 L442.4,263.3 L443.2,263.3 L444.0,263.4 L444.8,263.4 L445.6,263.4 L446.3,263.3 L447.1,263.2 L447.9,263.0 L448.7,262.8 L449.5,262.5 L450.3,262.1 L451.1,261.7 L451.9,261.3 L452.7,260.8 L453.5,260.3 L454.3,259.8 L455.1,259.3 L455.9,258.7 L456.6,258.1 L457.4,257.4 L458.2,256.6 L459.0,255.8 L459.8,254.9 L460.6,253.9 L461.4,252.9 L462.2,251.8 L463.0,250.7 L463.8,249.5 L464.6,248.3 L465.4,247.0 L466.2,245.7 L467.0,244.3 L467.7,242.7 L468.5,240.9 L469.3,239.0 L470.1,236.9 L470.9,234.8 L471.7,232.7 L472.5,230.7 L473.3,228.8 L474.1,227.1 L474.9,225.6 L475.7,224.3 L476.5,223.3 L477.3,222.3 L478.1,221.5 L478.8,220.6 L479.6,219.8 L480.4,219.1 L481.2,218.4 L482.0,217.7 L482.8,217.2 L483.6,216.7 L484.4,216.4 L485.2,216.1 L486.0,216.0 L486.8,216.0 L487.6,216.2 L488.4,216.6 L489.1,217.2 L489.9,218.0 L490.7,218.8 L491.5,219.9 L492.3,221.0 L493.1,222.2 L493.9,223.5 L494.7,224.8 L495.5,226.1 L496.3,227.5 L497.1,228.9 L497.9,230.3 L498.7,231.8 L499.5,233.5 L500.2,235.4 L501.0,237.3 L501.8,239.3 L502.6,241.2 L503.4,242.9 L504.2,244.6 L505.0,246.1 L505.8,247.4 L506.6,248.7 L507.4,249.9 L508.2,251.1 L509.0,252.2 L509.8,253.2 L510.6,254.2 L511.3,255.2 L512.1,256.1 L512.9,257.0 L513.7,257.9 L514.5,258.7 L515.3,259.6 L516.1,260.4 L516.9,261.2 L517.7,261.9 L518.5,262.6 L519.3,263.3 L520.1,263.9 L520.9,264.5 L521.6,264.9 L522.4,265.4 L523.2,265.8 L524.0,266.1 L524.8,266.5 L525.6,266.8 L526.4,267.2 L527.2,267.5 L528.0,267.7 L528.8,268.0 L529.6,268.2 L530.4,268.4 L531.2,268.5 L532.0,268.6 L532.7,268.7 L533.5,268.7 L534.3,268.6 L535.1,268.5 L535.9,268.4 L536.7,268.3 L537.5,268.1 L538.3,267.9 L539.1,267.6 L539.9,267.4 L540.7,267.1 L541.5,266.9 L542.3,266.6 L543.0,266.3 L543.8,266.1 L544.6,265.8 L545.4,265.6 L546.2,265.3 L547.0,265.1 L547.8,265.0 L548.6,264.8 L549.4,264.6 L550.2,264.5 L551.0,264.3 L551.8,264.2 L552.6,264.0 L553.4,263.9 L554.1,263.7 L554.9,263.6 L555.7,263.4 L556.5,263.3 L557.3,263.2 L558.1,263.0 L558.9,262.9 L559.7,262.8 L560.5,262.6 L561.3,262.5 L562.1,262.4 L562.9,262.3 L563.7,262.2 L564.5,262.2 L565.2,262.1 L566.0,262.0 L566.8,262.0 L567.6,262.0 L568.4,262.0 L569.2,261.9 L570.0,261.9 L570.8,262.0 L571.6,262.0 L572.4,262.0 L573.2,262.1 L574.0,262.1 L574.8,262.1 L575.5,262.2 L576.3,262.3 L577.1,262.3 L577.9,262.4 L578.7,262.5 L579.5,262.6 L580.3,262.7 L581.1,262.8 L581.9,262.9 L582.7,263.0 L583.5,263.1 L584.3,263.2 L585.1,263.3 L585.9,263.4 L586.6,263.5 L587.4,263.6 L588.2,263.8 L589.0,263.9 L589.8,264.0 L590.6,264.1 L591.4,264.2 L592.2,264.3 L593.0,264.5 L593.8,264.6 L594.6,264.8 L595.4,264.9 L596.2,265.1 L597.0,265.3 L597.7,265.4 L598.5,265.6 L599.3,265.8 L600.1,266.0 L600.9,266.2 L601.7,266.4 L602.5,266.5 L602.50,274.45 L364.70,274.45 Z" fill="#008000" fill-opacity="0.5" stroke="none"/>
<path d="M364.7,271.9 L365.5,271.7 L366.3,271.5 L367.1,271.3 L367.9,271.0 L368.7,270.8 L369.5,270.6 L370.2,270.4 L371.0,270.1 L371.8,269.9 L372.6,269.7 L373.4,269.5 L374.2,269.3 L375.0,269.1 L375.8,268.9 L376.6,268.7 L377.4,268.5 L378.2,268.3 L379.0,268.2 L379.8,268.0 L380.6,267.8 L381.3,267.7 L382.1,267.5 L382.9,267.3 L383.7,267.2 L384.5,267.1 L385.3,266.9 L386.1,266.8 L386.9,266.7 L387.7,266.5 L388.5,266.4 L389.3,266.3 L390.1,266.2 L390.9,266.0 L391.7,265.9 L392.4,265.8 L393.2,265.7 L394.0,265.6 L394.8,265.4 L395.6,265.3 L396.4,265.2 L397.2,265.1 L398.0,264.9 L398.8,264.8 L399.6,264.7 L400.4,264.5 L401.2,264.4 L402.0,264.2 L402.7,264.1 L403.5,263.9 L404.3,263.7 L405.1,263.5 L405.9,263.3 L406.7,263.1 L407.5,262.9 L408.3,262.7 L409.1,262.5 L409.9,262.3 L410.7,262.0 L411.5,261.8 L412.3,261.6 L413.1,261.4 L413.8,261.2 L414.6,261.1 L415.4,260.9 L416.2,260.8 L417.0,260.6 L417.8,260.5 L418.6,260.4 L419.4,260.3 L420.2,260.2 L421.0,260.1 L421.8,260.0 L422.6,259.9 L423.4,259.8 L424.1,259.7 L424.9,259.6 L425.7,259.6 L426.5,259.5 L427.3,259.4 L428.1,259.4 L428.9,259.4 L429.7,259.4 L430.5,259.4 L431.3,259.4 L432.1,259.5 L432.9,259.7 L433.7,259.9 L434.5,260.1 L435.2,260.4 L436.0,260.7 L436.8,261.0 L437.6,261.3 L438.4,261.6 L439.2,261.9 L440.0,262.2 L440.8,262.5 L441.6,262.7 L442.4,263.0 L443.2,263.1 L444.0,263.3 L444.8,263.4 L445.6,263.4 L446.3,263.4 L447.1,263.4 L447.9,263.4 L448.7,263.4 L449.5,263.4 L450.3,263.3 L451.1,263.3 L451.9,263.2 L452.7,263.2 L453.5,263.1 L454.3,263.1 L455.1,263.0 L455.9,262.9 L456.6,262.9 L457.4,262.8 L458.2,262.7 L459.0,262.7 L459.8,262.6 L460.6,262.5 L461.4,262.3 L462.2,262.2 L463.0,262.0 L463.8,261.8 L464.6,261.6 L465.4,261.4 L466.2,261.2 L467.0,260.9 L467.7,260.7 L468.5,260.5 L469.3,260.3 L470.1,260.0 L470.9,259.8 L471.7,259.7 L472.5,259.5 L473.3,259.4 L474.1,259.3 L474.9,259.2 L475.7,259.2 L476.5,259.2 L477.3,259.2 L478.1,259.4 L478.8,259.5 L479.6,259.7 L480.4,259.9 L481.2,260.2 L482.0,260.5 L482.8,260.8 L483.6,261.1 L484.4,261.4 L485.2,261.7 L486.0,262.0 L486.8,262.3 L487.6,262.6 L488.4,262.8 L489.1,263.1 L489.9,263.3 L490.7,263.4 L491.5,263.6 L492.3,263.7 L493.1,263.8 L493.9,264.0 L494.7,264.1 L495.5,264.2 L496.3,264.3 L497.1,264.4 L497.9,264.5 L498.7,264.6 L499.5,264.7 L500.2,264.8 L501.0,264.8 L501.8,264.8 L502.6,264.8 L503.4,264.8 L504.2,264.8 L505.0,264.8 L505.8,264.8 L506.6,264.7 L507.4,264.7 L508.2,264.6 L509.0,264.6 L509.8,264.5 L510.6,264.4 L511.3,264.3 L512.1,264.3 L512.9,264.2 L513.7,264.1 L514.5,264.0 L515.3,263.9 L516.1,263.8 L516.9,263.6 L517.7,263.5 L518.5,263.4 L519.3,263.2 L520.1,263.1 L520.9,262.9 L521.6,262.6 L522.4,262.4 L523.2,262.1 L524.0,261.7 L524.8,261.4 L525.6,261.0 L526.4,260.7 L527.2,260.3 L528.0,259.9 L528.8,259.5 L529.6,259.1 L530.4,258.6 L531.2,258.2 L532.0,257.8 L532.7,257.4 L533.5,256.9 L534.3,256.5 L535.1,256.0 L535.9,255.5 L536.7,255.1 L537.5,254.5 L538.3,254.0 L539.1,253.5 L539.9,252.9 L540.7,252.3 L541.5,251.7 L542.3,251.1 L543.0,250.4 L543.8,249.7 L544.6,249.0 L545.4,248.3 L546.2,247.5 L547.0,246.7 L547.8,245.8 L548.6,245.0 L549.4,244.0 L550.2,243.1 L551.0,242.1 L551.8,241.1 L552.6,240.0 L553.4,238.9 L554.1,237.8 L554.9,236.6 L555.7,235.3 L556.5,233.8 L557.3,232.3 L558.1,230.6 L558.9,228.9 L559.7,227.2 L560.5,225.4 L561.3,223.8 L562.1,222.3 L562.9,221.0 L563.7,219.8 L564.5,218.8 L565.2,217.9 L566.0,217.1 L566.8,216.3 L567.6,215.6 L568.4,214.9 L569.2,214.2 L570.0,213.5 L570.8,212.9 L571.6,212.4 L572.4,211.9 L573.2,211.5 L574.0,211.1 L574.8,210.9 L575.5,210.7 L576.3,210.6 L577.1,210.6 L577.9,210.8 L578.7,211.2 L579.5,211.7 L580.3,212.3 L581.1,213.1 L581.9,214.0 L582.7,214.9 L583.5,215.9 L584.3,217.0 L585.1,218.0 L585.9,219.1 L586.6,220.3 L587.4,221.5 L588.2,222.9 L589.0,224.4 L589.8,226.0 L590.6,227.6 L591.4,229.3 L592.2,231.0 L593.0,232.7 L593.8,234.4 L594.6,236.0 L595.4,237.6 L596.2,239.1 L597.0,240.6 L597.7,242.1 L598.5,243.5 L599.3,245.0 L600.1,246.4 L600.9,247.8 L601.7,249.1 L602.5,250.0 L602.50,274.45 L364.70,274.45 Z" fill="#0000ff" fill-opacity="0.5" stroke="none"/>
<line x1="364.70" x2="364.70" y1="166.55" y2="274.45" stroke="#b0b0b0" stroke-width="1.25"/>
<line x1="412.26" x2="412.26" y1="166.55" y2="274.45" stroke="#b0b0b0" stroke-width="1.25"/>
<line x1="459.82" x2="459.82" y1="166.55" y2="274.45" stroke="#b0b0b0" stroke-width="1.25"/>
<line x1="507.38" x2="507.38" y1="166.55" y2="274.45" stroke="#b0b0b0" stroke-width="1.25"/>
<line x1="554.94" x2="554.94" y1="166.55" y2="274.45" stroke="#b0b0b0" stroke-width="1.25"/>
<line x1="602.50" x2="602.50" y1="166.55" y2="274.45" stroke="#b0b0b0" stroke-width="1.25"/>
<line x1="364.70" x2="602.50" y1="274.45" y2="274.45" stroke="#b0b0b0" stroke-width="1.25"/>
<line x1="364.70" x2="602.50" y1="252.87" y2="252.87" stroke="#b0b0b0" stroke-width="1.25"/>
<line x1="364.70" x2="602.50" y1="231.29" y2="231.29" stroke="#b0b0b0" stroke-width="1.25"/>
<line x1="364.70" x2="602.50" y1="209.71" y2="209.71" stroke="#b0b0b0" stroke-width="1.25"/>
<line x1="364.70" x2="602.50" y1="188.13" y2="188.13" stroke="#b0b0b0" stroke-width="1.25"/>
<line x1="364.70" x2="602.50" y1="166.55" y2="166.55" stroke="#b0b0b0" stroke-width="1.25"/>
<path d="M364.7,244.0 L365.5,242.2 L366.3,239.8 L367.1,237.2 L367.9,234.5 L368.7,231.9 L369.5,229.3 L370.2,226.7 L371.0,224.1 L371.8,221.5 L372.6,218.9 L373.4,216.2 L374.2,213.5 L375.0,210.9 L375.8,208.3 L376.6,205.9 L377.4,203.7 L378.2,201.8 L379.0,200.2 L379.8,198.7 L380.6,197.4 L381.3,196.2 L382.1,195.0 L382.9,193.9 L383.7,192.9 L384.5,192.0 L385.3,191.2 L386.1,190.6 L386.9,190.3 L387.7,190.1 L388.5,190.2 L389.3,190.6 L390.1,191.3 L390.9,192.3 L391.7,193.5 L392.4,194.8 L393.2,196.3 L394.0,197.9 L394.8,199.5 L395.6,201.2 L396.4,202.9 L397.2,204.8 L398.0,206.9 L398.8,209.2 L399.6,211.6 L400.4,214.0 L401.2,216.5 L402.0,219.1 L402.7,221.7 L403.5,224.4 L404.3,227.3 L405.1,230.3 L405.9,233.5 L406.7,236.7 L407.5,239.8 L408.3,242.9 L409.1,245.8 L409.9,248.5 L410.7,251.0 L411.5,253.0 L412.3,254.8 L413.1,256.3 L413.8,257.7 L414.6,259.0 L415.4,260.2 L416.2,261.4 L417.0,262.4 L417.8,263.4 L418.6,264.3 L419.4,265.0 L420.2,265.6 L421.0,266.1 L421.8,266.5 L422.6,266.8 L423.4,267.1 L424.1,267.3 L424.9,267.6 L425.7,267.8 L426.5,268.0 L427.3,268.2 L428.1,268.3 L428.9,268.5 L429.7,268.6 L430.5,268.6 L431.3,268.7 L432.1,268.7 L432.9,268.7 L433.7,268.6 L434.5,268.5 L435.2,268.3 L436.0,268.1 L436.8,267.8 L437.6,267.6 L438.4,267.3 L439.2,267.0 L440.0,266.7 L440.8,266.5 L441.6,266.2 L442.4,266.0 L443.2,265.8 L444.0,265.7 L444.8,265.6 L445.6,265.5 L446.3,265.5 L447.1,265.5 L447.9,265.5 L448.7,265.5 L449.5,265.6 L450.3,265.6 L451.1,265.6 L451.9,265.7 L452.7,265.7 L453.5,265.7 L454.3,265.8 L455.1,265.8 L455.9,265.9 L456.6,265.9 L457.4,266.0 L458.2,266.0 L459.0,266.1 L459.8,266.2 L460.6,266.2 L461.4,266.3 L462.2,266.4 L463.0,266.5 L463.8,266.7 L464.6,266.8 L465.4,266.9 L466.2,267.1 L467.0,267.3 L467.7,267.4 L468.5,267.6 L469.3,267.7 L470.1,267.8 L470.9,268.0 L471.7,268.1 L472.5,268.1 L473.3,268.2 L474.1,268.3 L474.9,268.3 L475.7,268.2 L476.5,268.2 L477.3,268.1 L478.1,268.0 L478.8,267.8 L479.6,267.7 L480.4,267.5 L481.2,267.2 L482.0,266.9 L482.8,266.6 L483.6,266.2 L484.4,265.8 L485.2,265.3 L486.0,264.8 L486.8,264.3 L487.6,263.7 L488.4,263.1 L489.1,262.5 L489.9,261.9 L490.7,261.2 L491.5,260.5 L492.3,259.7 L493.1,258.7 L493.9,257.7 L494.7,256.7 L495.5,255.6 L496.3,254.4 L497.1,253.3 L497.9,252.3 L498.7,251.2 L499.5,250.3 L500.2,249.5 L501.0,248.7 L501.8,248.1 L502.6,247.5 L503.4,246.9 L504.2,246.3 L505.0,245.7 L505.8,245.1 L506.6,244.6 L507.4,244.1 L508.2,243.6 L509.0,243.2 L509.8,242.9 L510.6,242.6 L511.3,242.4 L512.1,242.2 L512.9,242.2 L513.7,242.2 L514.5,242.4 L515.3,242.7 L516.1,243.1 L516.9,243.7 L517.7,244.2 L518.5,244.9 L519.3,245.6 L520.1,246.3 L520.9,247.0 L521.6,247.7 L522.4,248.4 L523.2,249.2 L524.0,250.0 L524.8,250.8 L525.6,251.7 L526.4,252.7 L527.2,253.7 L528.0,254.7 L528.8,255.7 L529.6,256.6 L530.4,257.5 L531.2,258.4 L532.0,259.2 L532.7,259.9 L533.5,260.5 L534.3,261.1 L535.1,261.7 L535.9,262.2 L536.7,262.8 L537.5,263.3 L538.3,263.7 L539.1,264.2 L539.9,264.6 L540.7,265.1 L541.5,265.4 L542.3,265.8 L543.0,266.2 L543.8,266.5 L544.6,266.8 L545.4,267.1 L546.2,267.4 L547.0,267.7 L547.8,267.9 L548.6,268.2 L549.4,268.4 L550.2,268.6 L551.0,268.9 L551.8,269.1 L552.6,269.3 L553.4,269.5 L554.1,269.6 L554.9,269.8 L555.7,270.0 L556.5,270.1 L557.3,270.3 L558.1,270.4 L558.9,270.6 L559.7,270.7 L560.5,270.8 L561.3,271.0 L562.1,271.1 L562.9,271.2 L563.7,271.3 L564.5,271.4 L565.2,271.5 L566.0,271.6 L566.8,271.7 L567.6,271.8 L568.4,271.9 L569.2,272.0 L570.0,272.0 L570.8,272.1 L571.6,272.2 L572.4,272.2 L573.2,272.3 L574.0,272.4 L574.8,272.4 L575.5,272.5 L576.3,272.5 L577.1,272.6 L577.9,272.6 L578.7,272.7 L579.5,272.7 L580.3,272.8 L581.1,272.8 L581.9,272.9 L582.7,272.9 L583.5,272.9 L584.3,273.0 L585.1,273.0 L585.9,273.0 L586.6,273.1 L587.4,273.1 L588.2,273.1 L589.0,273.1 L589.8,273.2 L590.6,273.2 L591.4,273.2 L592.2,273.2 L593.0,273.2 L593.8,273.3 L594.6,273.3 L595.4,273.3 L596.2,273.3 L597.0,273.3 L597.7,273.3 L598.5,273.3 L599.3,273.4 L600.1,273.4 L600.9,273.4 L601.7,273.4 L602.5,273.4" fill="none" stroke="#ff0000" stroke-width="2.8" stroke-dasharray="2.8 3.3" stroke-linejoin="round"/>
<path d="M364.7,266.2 L365.5,265.6 L366.3,264.9 L367.1,264.1 L367.9,263.2 L368.7,262.4 L369.5,261.5 L370.2,260.6 L371.0,259.7 L371.8,258.8 L372.6,257.9 L373.4,257.0 L374.2,256.1 L375.0,255.1 L375.8,254.0 L376.6,252.9 L377.4,251.8 L378.2,250.6 L379.0,249.5 L379.8,248.4 L380.6,247.4 L381.3,246.5 L382.1,245.6 L382.9,244.9 L383.7,244.3 L384.5,243.8 L385.3,243.3 L386.1,242.9 L386.9,242.5 L387.7,242.1 L388.5,241.7 L389.3,241.4 L390.1,241.1 L390.9,240.9 L391.7,240.8 L392.4,240.7 L393.2,240.6 L394.0,240.7 L394.8,240.9 L395.6,241.1 L396.4,241.4 L397.2,241.8 L398.0,242.2 L398.8,242.7 L399.6,243.2 L400.4,243.7 L401.2,244.3 L402.0,244.8 L402.7,245.3 L403.5,245.9 L404.3,246.6 L405.1,247.3 L405.9,248.0 L406.7,248.8 L407.5,249.6 L408.3,250.4 L409.1,251.2 L409.9,252.0 L410.7,252.7 L411.5,253.3 L412.3,253.9 L413.1,254.4 L413.8,255.0 L414.6,255.5 L415.4,255.9 L416.2,256.4 L417.0,256.8 L417.8,257.3 L418.6,257.7 L419.4,258.1 L420.2,258.4 L421.0,258.8 L421.8,259.1 L422.6,259.4 L423.4,259.7 L424.1,259.9 L424.9,260.1 L425.7,260.3 L426.5,260.5 L427.3,260.7 L428.1,260.9 L428.9,261.1 L429.7,261.3 L430.5,261.4 L431.3,261.6 L432.1,261.7 L432.9,261.9 L433.7,262.0 L434.5,262.1 L435.2,262.2 L436.0,262.4 L436.8,262.5 L437.6,262.6 L438.4,262.7 L439.2,262.8 L440.0,263.0 L440.8,263.1 L441.6,263.2 L442.4,263.3 L443.2,263.3 L444.0,263.4 L444.8,263.4 L445.6,263.4 L446.3,263.3 L447.1,263.2 L447.9,263.0 L448.7,262.8 L449.5,262.5 L450.3,262.1 L451.1,261.7 L451.9,261.3 L452.7,260.8 L453.5,260.3 L454.3,259.8 L455.1,259.3 L455.9,258.7 L456.6,258.1 L457.4,257.4 L458.2,256.6 L459.0,255.8 L459.8,254.9 L460.6,253.9 L461.4,252.9 L462.2,251.8 L463.0,250.7 L463.8,249.5 L464.6,248.3 L465.4,247.0 L466.2,245.7 L467.0,244.3 L467.7,242.7 L468.5,240.9 L469.3,239.0 L470.1,236.9 L470.9,234.8 L471.7,232.7 L472.5,230.7 L473.3,228.8 L474.1,227.1 L474.9,225.6 L475.7,224.3 L476.5,223.3 L477.3,222.3 L478.1,221.5 L478.8,220.6 L479.6,219.8 L480.4,219.1 L481.2,218.4 L482.0,217.7 L482.8,217.2 L483.6,216.7 L484.4,216.4 L485.2,216.1 L486.0,216.0 L486.8,216.0 L487.6,216.2 L488.4,216.6 L489.1,217.2 L489.9,218.0 L490.7,218.8 L491.5,219.9 L492.3,221.0 L493.1,222.2 L493.9,223.5 L494.7,224.8 L495.5,226.1 L496.3,227.5 L497.1,228.9 L497.9,230.3 L498.7,231.8 L499.5,233.5 L500.2,235.4 L501.0,237.3 L501.8,239.3 L502.6,241.2 L503.4,242.9 L504.2,244.6 L505.0,246.1 L505.8,247.4 L506.6,248.7 L507.4,249.9 L508.2,251.1 L509.0,252.2 L509.8,253.2 L510.6,254.2 L511.3,255.2 L512.1,256.1 L512.9,257.0 L513.7,257.9 L514.5,258.7 L515.3,259.6 L516.1,260.4 L516.9,261.2 L517.7,261.9 L518.5,262.6 L519.3,263.3 L520.1,263.9 L520.9,264.5 L521.6,264.9 L522.4,265.4 L523.2,265.8 L524.0,266.1 L524.8,266.5 L525.6,266.8 L526.4,267.2 L527.2,267.5 L528.0,267.7 L528.8,268.0 L529.6,268.2 L530.4,268.4 L531.2,268.5 L532.0,268.6 L532.7,268.7 L533.5,268.7 L534.3,268.6 L535.1,268.5 L535.9,268.4 L536.7,268.3 L537.5,268.1 L538.3,267.9 L539.1,267.6 L539.9,267.4 L540.7,267.1 L541.5,266.9 L542.3,266.6 L543.0,266.3 L543.8,266.1 L544.6,265.8 L545.4,265.6 L546.2,265.3 L547.0,265.1 L547.8,265.0 L548.6,264.8 L549.4,264.6 L550.2,264.5 L551.0,264.3 L551.8,264.2 L552.6,264.0 L553.4,263.9 L554.1,263.7 L554.9,263.6 L555.7,263.4 L556.5,263.3 L557.3,263.2 L558.1,263.0 L558.9,262.9 L559.7,262.8 L560.5,262.6 L561.3,262.5 L562.1,262.4 L562.9,262.3 L563.7,262.2 L564.5,262.2 L565.2,262.1 L566.0,262.0 L566.8,262.0 L567.6,262.0 L568.4,262.0 L569.2,261.9 L570.0,261.9 L570.8,262.0 L571.6,262.0 L572.4,262.0 L573.2,262.1 L574.0,262.1 L574.8,262.1 L575.5,262.2 L576.3,262.3 L577.1,262.3 L577.9,262.4 L578.7,262.5 L579.5,262.6 L580.3,262.7 L581.1,262.8 L581.9,262.9 L582.7,263.0 L583.5,263.1 L584.3,263.2 L585.1,263.3 L585.9,263.4 L586.6,263.5 L587.4,263.6 L588.2,263.8 L589.0,263.9 L589.8,264.0 L590.6,264.1 L591.4,264.2 L592.2,264.3 L593.0,264.5 L593.8,264.6 L594.6,264.8 L595.4,264.9 L596.2,265.1 L597.0,265.3 L597.7,265.4 L598.5,265.6 L599.3,265.8 L600.1,266.0 L600.9,266.2 L601.7,266.4 L602.5,266.5" fill="none" stroke="#008000" stroke-width="2.8" stroke-dasharray="2.8 3.3" stroke-linejoin="round"/>
<path d="M364.7,271.9 L365.5,271.7 L366.3,271.5 L367.1,271.3 L367.9,271.0 L368.7,270.8 L369.5,270.6 L370.2,270.4 L371.0,270.1 L371.8,269.9 L372.6,269.7 L373.4,269.5 L374.2,269.3 L375.0,269.1 L375.8,268.9 L376.6,268.7 L377.4,268.5 L378.2,268.3 L379.0,268.2 L379.8,268.0 L380.6,267.8 L381.3,267.7 L382.1,267.5 L382.9,267.3 L383.7,267.2 L384.5,267.1 L385.3,266.9 L386.1,266.8 L386.9,266.7 L387.7,266.5 L388.5,266.4 L389.3,266.3 L390.1,266.2 L390.9,266.0 L391.7,265.9 L392.4,265.8 L393.2,265.7 L394.0,265.6 L394.8,265.4 L395.6,265.3 L396.4,265.2 L397.2,265.1 L398.0,264.9 L398.8,264.8 L399.6,264.7 L400.4,264.5 L401.2,264.4 L402.0,264.2 L402.7,264.1 L403.5,263.9 L404.3,263.7 L405.1,263.5 L405.9,263.3 L406.7,263.1 L407.5,262.9 L408.3,262.7 L409.1,262.5 L409.9,262.3 L410.7,262.0 L411.5,261.8 L412.3,261.6 L413.1,261.4 L413.8,261.2 L414.6,261.1 L415.4,260.9 L416.2,260.8 L417.0,260.6 L417.8,260.5 L418.6,260.4 L419.4,260.3 L420.2,260.2 L421.0,260.1 L421.8,260.0 L422.6,259.9 L423.4,259.8 L424.1,259.7 L424.9,259.6 L425.7,259.6 L426.5,259.5 L427.3,259.4 L428.1,259.4 L428.9,259.4 L429.7,259.4 L430.5,259.4 L431.3,259.4 L432.1,259.5 L432.9,259.7 L433.7,259.9 L434.5,260.1 L435.2,260.4 L436.0,260.7 L436.8,261.0 L437.6,261.3 L438.4,261.6 L439.2,261.9 L440.0,262.2 L440.8,262.5 L441.6,262.7 L442.4,263.0 L443.2,263.1 L444.0,263.3 L444.8,263.4 L445.6,263.4 L446.3,263.4 L447.1,263.4 L447.9,263.4 L448.7,263.4 L449.5,263.4 L450.3,263.3 L451.1,263.3 L451.9,263.2 L452.7,263.2 L453.5,263.1 L454.3,263.1 L455.1,263.0 L455.9,262.9 L456.6,262.9 L457.4,262.8 L458.2,262.7 L459.0,262.7 L459.8,262.6 L460.6,262.5 L461.4,262.3 L462.2,262.2 L463.0,262.0 L463.8,261.8 L464.6,261.6 L465.4,261.4 L466.2,261.2 L467.0,260.9 L467.7,260.7 L468.5,260.5 L469.3,260.3 L470.1,260.0 L470.9,259.8 L471.7,259.7 L472.5,259.5 L473.3,259.4 L474.1,259.3 L474.9,259.2 L475.7,259.2 L476.5,259.2 L477.3,259.2 L478.1,259.4 L478.8,259.5 L479.6,259.7 L480.4,259.9 L481.2,260.2 L482.0,260.5 L482.8,260.8 L483.6,261.1 L484.4,261.4 L485.2,261.7 L486.0,262.0 L486.8,262.3 L487.6,262.6 L488.4,262.8 L489.1,263.1 L489.9,263.3 L490.7,263.4 L491.5,263.6 L492.3,263.7 L493.1,263.8 L493.9,264.0 L494.7,264.1 L495.5,264.2 L496.3,264.3 L497.1,264.4 L497.9,264.5 L498.7,264.6 L499.5,264.7 L500.2,264.8 L501.0,264.8 L501.8,264.8 L502.6,264.8 L503.4,264.8 L504.2,264.8 L505.0,264.8 L505.8,264.8 L506.6,264.7 L507.4,264.7 L508.2,264.6 L509.0,264.6 L509.8,264.5 L510.6,264.4 L511.3,264.3 L512.1,264.3 L512.9,264.2 L513.7,264.1 L514.5,264.0 L515.3,263.9 L516.1,263.8 L516.9,263.6 L517.7,263.5 L518.5,263.4 L519.3,263.2 L520.1,263.1 L520.9,262.9 L521.6,262.6 L522.4,262.4 L523.2,262.1 L524.0,261.7 L524.8,261.4 L525.6,261.0 L526.4,260.7 L527.2,260.3 L528.0,259.9 L528.8,259.5 L529.6,259.1 L530.4,258.6 L531.2,258.2 L532.0,257.8 L532.7,257.4 L533.5,256.9 L534.3,256.5 L535.1,256.0 L535.9,255.5 L536.7,255.1 L537.5,254.5 L538.3,254.0 L539.1,253.5 L539.9,252.9 L540.7,252.3 L541.5,251.7 L542.3,251.1 L543.0,250.4 L543.8,249.7 L544.6,249.0 L545.4,248.3 L546.2,247.5 L547.0,246.7 L547.8,245.8 L548.6,245.0 L549.4,244.0 L550.2,243.1 L551.0,242.1 L551.8,241.1 L552.6,240.0 L553.4,238.9 L554.1,237.8 L554.9,236.6 L555.7,235.3 L556.5,233.8 L557.3,232.3 L558.1,230.6 L558.9,228.9 L559.7,227.2 L560.5,225.4 L561.3,223.8 L562.1,222.3 L562.9,221.0 L563.7,219.8 L564.5,218.8 L565.2,217.9 L566.0,217.1 L566.8,216.3 L567.6,215.6 L568.4,214.9 L569.2,214.2 L570.0,213.5 L570.8,212.9 L571.6,212.4 L572.4,211.9 L573.2,211.5 L574.0,211.1 L574.8,210.9 L575.5,210.7 L576.3,210.6 L577.1,210.6 L577.9,210.8 L578.7,211.2 L579.5,211.7 L580.3,212.3 L581.1,213.1 L581.9,214.0 L582.7,214.9 L583.5,215.9 L584.3,217.0 L585.1,218.0 L585.9,219.1 L586.6,220.3 L587.4,221.5 L588.2,222.9 L589.0,224.4 L589.8,226.0 L590.6,227.6 L591.4,229.3 L592.2,231.0 L593.0,232.7 L593.8,234.4 L594.6,236.0 L595.4,237.6 L596.2,239.1 L597.0,240.6 L597.7,242.1 L598.5,243.5 L599.3,245.0 L600.1,246.4 L600.9,247.8 L601.7,249.1 L602.5,250.0" fill="none" stroke="#0000ff" stroke-width="2.8" stroke-dasharray="2.8 3.3" stroke-linejoin="round"/>
</g>
<line x1="364.70" x2="364.70" y1="274.45" y2="279.25" stroke="#000" stroke-width="1"/>
<text x="363.30" y="293.85" font-size="11.4" letter-spacing="0.45" text-anchor="middle">0.0</text>
<line x1="412.26" x2="412.26" y1="274.45" y2="279.25" stroke="#000" stroke-width="1"/>
<text x="410.86" y="293.85" font-size="11.4" letter-spacing="0.45" text-anchor="middle">0.1</text>
<line x1="459.82" x2="459.82" y1="274.45" y2="279.25" stroke="#000" stroke-width="1"/>
<text x="458.42" y="293.85" font-size="11.4" letter-spacing="0.45" text-anchor="middle">0.2</text>
<line x1="507.38" x2="507.38" y1="274.45" y2="279.25" stroke="#000" stroke-width="1"/>
<text x="505.98" y="293.85" font-size="11.4" letter-spacing="0.45" text-anchor="middle">0.3</text>
<line x1="554.94" x2="554.94" y1="274.45" y2="279.25" stroke="#000" stroke-width="1"/>
<text x="553.54" y="293.85" font-size="11.4" letter-spacing="0.45" text-anchor="middle">0.4</text>
<line x1="602.50" x2="602.50" y1="274.45" y2="279.25" stroke="#000" stroke-width="1"/>
<text x="601.10" y="293.85" font-size="11.4" letter-spacing="0.45" text-anchor="middle">0.5</text>
<line x1="359.90" x2="364.70" y1="274.45" y2="274.45" stroke="#000" stroke-width="1"/>
<text x="353.50" y="279.00" font-size="11.4" letter-spacing="0.45" text-anchor="end">0</text>
<line x1="359.90" x2="364.70" y1="252.87" y2="252.87" stroke="#000" stroke-width="1"/>
<text x="353.50" y="257.42" font-size="11.4" letter-spacing="0.45" text-anchor="end">2</text>
<line x1="359.90" x2="364.70" y1="231.29" y2="231.29" stroke="#000" stroke-width="1"/>
<text x="353.50" y="235.84" font-size="11.4" letter-spacing="0.45" text-anchor="end">4</text>
<line x1="359.90" x2="364.70" y1="209.71" y2="209.71" stroke="#000" stroke-width="1"/>
<text x="353.50" y="214.26" font-size="11.4" letter-spacing="0.45" text-anchor="end">6</text>
<line x1="359.90" x2="364.70" y1="188.13" y2="188.13" stroke="#000" stroke-width="1"/>
<text x="353.50" y="192.68" font-size="11.4" letter-spacing="0.45" text-anchor="end">8</text>
<line x1="359.90" x2="364.70" y1="166.55" y2="166.55" stroke="#000" stroke-width="1"/>
<text x="353.50" y="171.10" font-size="11.4" letter-spacing="0.45" text-anchor="end">10</text>
<rect x="364.70" y="166.55" width="237.80" height="107.90" fill="none" stroke="#000" stroke-width="1.25"/>
<text x="369.30" y="183.35" font-size="14.2" letter-spacing="0.55">HM <tspan font-weight="bold" letter-spacing="1.1">(b)</tspan></text>
<text transform="translate(330.70,221.40) rotate(-90)" font-size="14" text-anchor="middle" letter-spacing="0.3">Estimated PDF</text>
<text x="483.10" y="311.45" font-size="13.4" letter-spacing="0.2" text-anchor="middle"><tspan font-style="italic">ν</tspan><tspan font-style="italic" font-size="9.8" dy="2.4">c</tspan></text>
<clipPath id="c02"><rect x="55.90" y="329.25" width="237.80" height="107.90"/></clipPath>
<g clip-path="url(#c02)">
<path d="M55.9,432.8 L56.7,432.4 L57.5,431.8 L58.3,431.3 L59.1,430.7 L59.9,430.1 L60.7,429.6 L61.4,429.0 L62.2,428.5 L63.0,428.0 L63.8,427.4 L64.6,427.0 L65.4,426.5 L66.2,426.0 L67.0,425.6 L67.8,425.1 L68.6,424.7 L69.4,424.3 L70.2,423.9 L71.0,423.5 L71.8,423.2 L72.5,422.8 L73.3,422.5 L74.1,422.2 L74.9,421.9 L75.7,421.6 L76.5,421.3 L77.3,421.1 L78.1,420.8 L78.9,420.5 L79.7,420.3 L80.5,420.0 L81.3,419.8 L82.1,419.5 L82.9,419.3 L83.6,419.0 L84.4,418.8 L85.2,418.5 L86.0,418.3 L86.8,418.0 L87.6,417.7 L88.4,417.4 L89.2,417.0 L90.0,416.7 L90.8,416.3 L91.6,416.0 L92.4,415.6 L93.2,415.3 L93.9,415.0 L94.7,414.6 L95.5,414.4 L96.3,414.1 L97.1,413.8 L97.9,413.6 L98.7,413.5 L99.5,413.3 L100.3,413.3 L101.1,413.3 L101.9,413.3 L102.7,413.4 L103.5,413.6 L104.3,413.9 L105.0,414.2 L105.8,414.6 L106.6,415.1 L107.4,415.6 L108.2,416.1 L109.0,416.7 L109.8,417.2 L110.6,417.8 L111.4,418.4 L112.2,419.0 L113.0,419.6 L113.8,420.2 L114.6,420.9 L115.3,421.6 L116.1,422.4 L116.9,423.2 L117.7,424.1 L118.5,424.9 L119.3,425.8 L120.1,426.6 L120.9,427.4 L121.7,428.1 L122.5,428.7 L123.3,429.2 L124.1,429.8 L124.9,430.3 L125.7,430.8 L126.4,431.3 L127.2,431.7 L128.0,432.2 L128.8,432.6 L129.6,433.0 L130.4,433.4 L131.2,433.7 L132.0,434.0 L132.8,434.3 L133.6,434.6 L134.4,434.8 L135.2,434.9 L136.0,435.1 L136.8,435.2 L137.5,435.3 L138.3,435.4 L139.1,435.6 L139.9,435.7 L140.7,435.8 L141.5,435.9 L142.3,435.9 L143.1,436.0 L143.9,436.1 L144.7,436.1 L145.5,436.2 L146.3,436.2 L147.1,436.3 L147.8,436.3 L148.6,436.3 L149.4,436.2 L150.2,436.1 L151.0,436.0 L151.8,435.9 L152.6,435.7 L153.4,435.4 L154.2,435.1 L155.0,434.8 L155.8,434.5 L156.6,434.1 L157.4,433.7 L158.2,433.3 L158.9,432.9 L159.7,432.4 L160.5,431.9 L161.3,431.3 L162.1,430.6 L162.9,429.8 L163.7,428.8 L164.5,427.7 L165.3,426.6 L166.1,425.3 L166.9,424.0 L167.7,422.6 L168.5,421.1 L169.3,419.6 L170.0,418.1 L170.8,416.4 L171.6,414.6 L172.4,412.6 L173.2,410.5 L174.0,408.2 L174.8,405.9 L175.6,403.6 L176.4,401.2 L177.2,398.8 L178.0,396.5 L178.8,394.1 L179.6,391.8 L180.3,389.4 L181.1,386.9 L181.9,384.4 L182.7,382.0 L183.5,379.7 L184.3,377.5 L185.1,375.4 L185.9,373.5 L186.7,371.7 L187.5,370.0 L188.3,368.3 L189.1,366.6 L189.9,365.1 L190.7,363.7 L191.4,362.5 L192.2,361.6 L193.0,361.1 L193.8,360.9 L194.6,361.1 L195.4,361.7 L196.2,362.6 L197.0,363.8 L197.8,365.1 L198.6,366.6 L199.4,368.2 L200.2,369.8 L201.0,371.4 L201.8,373.0 L202.5,374.8 L203.3,376.6 L204.1,378.6 L204.9,380.6 L205.7,382.6 L206.5,384.5 L207.3,386.3 L208.1,388.1 L208.9,389.7 L209.7,391.3 L210.5,392.8 L211.3,394.3 L212.1,395.8 L212.8,397.3 L213.6,398.7 L214.4,400.1 L215.2,401.4 L216.0,402.7 L216.8,404.0 L217.6,405.2 L218.4,406.4 L219.2,407.6 L220.0,408.7 L220.8,409.8 L221.6,410.9 L222.4,411.9 L223.2,412.9 L223.9,413.9 L224.7,414.9 L225.5,415.8 L226.3,416.8 L227.1,417.7 L227.9,418.6 L228.7,419.4 L229.5,420.3 L230.3,421.2 L231.1,422.1 L231.9,423.0 L232.7,423.9 L233.5,424.8 L234.3,425.6 L235.0,426.5 L235.8,427.3 L236.6,428.1 L237.4,428.8 L238.2,429.4 L239.0,430.0 L239.8,430.5 L240.6,430.9 L241.4,431.3 L242.2,431.7 L243.0,432.0 L243.8,432.2 L244.6,432.3 L245.3,432.3 L246.1,432.1 L246.9,431.9 L247.7,431.6 L248.5,431.2 L249.3,430.8 L250.1,430.3 L250.9,429.7 L251.7,429.2 L252.5,428.6 L253.3,428.1 L254.1,427.6 L254.9,427.1 L255.7,426.6 L256.4,426.1 L257.2,425.6 L258.0,425.1 L258.8,424.5 L259.6,424.0 L260.4,423.4 L261.2,422.8 L262.0,422.2 L262.8,421.6 L263.6,421.0 L264.4,420.4 L265.2,419.9 L266.0,419.3 L266.7,418.8 L267.5,418.4 L268.3,417.9 L269.1,417.6 L269.9,417.2 L270.7,416.9 L271.5,416.7 L272.3,416.6 L273.1,416.5 L273.9,416.5 L274.7,416.6 L275.5,416.8 L276.3,417.0 L277.1,417.3 L277.8,417.6 L278.6,418.0 L279.4,418.5 L280.2,418.9 L281.0,419.4 L281.8,419.9 L282.6,420.5 L283.4,421.0 L284.2,421.5 L285.0,422.0 L285.8,422.5 L286.6,423.0 L287.4,423.6 L288.2,424.2 L288.9,424.8 L289.7,425.4 L290.5,426.0 L291.3,426.7 L292.1,427.3 L292.9,427.9 L293.7,428.4 L293.70,437.15 L55.90,437.15 Z" fill="#ff0000" fill-opacity="0.5" stroke="none"/>
<path d="M55.9,430.5 L56.7,429.9 L57.5,429.2 L58.3,428.4 L59.1,427.7 L59.9,426.9 L60.7,426.1 L61.4,425.4 L62.2,424.7 L63.0,424.0 L63.8,423.3 L64.6,422.6 L65.4,422.0 L66.2,421.4 L67.0,420.8 L67.8,420.3 L68.6,419.8 L69.4,419.3 L70.2,418.8 L71.0,418.4 L71.8,418.0 L72.5,417.6 L73.3,417.2 L74.1,416.9 L74.9,416.5 L75.7,416.2 L76.5,415.8 L77.3,415.5 L78.1,415.2 L78.9,414.9 L79.7,414.6 L80.5,414.4 L81.3,414.1 L82.1,413.9 L82.9,413.6 L83.6,413.4 L84.4,413.2 L85.2,413.0 L86.0,412.8 L86.8,412.7 L87.6,412.5 L88.4,412.3 L89.2,412.1 L90.0,412.0 L90.8,411.8 L91.6,411.6 L92.4,411.5 L93.2,411.3 L93.9,411.2 L94.7,411.1 L95.5,411.0 L96.3,410.9 L97.1,410.8 L97.9,410.7 L98.7,410.7 L99.5,410.6 L100.3,410.7 L101.1,410.7 L101.9,410.9 L102.7,411.1 L103.5,411.4 L104.3,411.7 L105.0,412.1 L105.8,412.5 L106.6,413.0 L107.4,413.5 L108.2,414.0 L109.0,414.6 L109.8,415.2 L110.6,415.8 L111.4,416.3 L112.2,416.9 L113.0,417.5 L113.8,418.1 L114.6,418.6 L115.3,419.2 L116.1,419.9 L116.9,420.6 L117.7,421.3 L118.5,422.0 L119.3,422.7 L120.1,423.5 L120.9,424.2 L121.7,425.0 L122.5,425.7 L123.3,426.4 L124.1,427.0 L124.9,427.6 L125.7,428.3 L126.4,428.9 L127.2,429.5 L128.0,430.2 L128.8,430.8 L129.6,431.4 L130.4,432.0 L131.2,432.6 L132.0,433.1 L132.8,433.5 L133.6,433.9 L134.4,434.2 L135.2,434.5 L136.0,434.7 L136.8,434.9 L137.5,435.0 L138.3,435.2 L139.1,435.3 L139.9,435.5 L140.7,435.6 L141.5,435.7 L142.3,435.8 L143.1,435.9 L143.9,436.0 L144.7,436.1 L145.5,436.2 L146.3,436.2 L147.1,436.2 L147.8,436.3 L148.6,436.3 L149.4,436.2 L150.2,436.2 L151.0,436.0 L151.8,435.9 L152.6,435.7 L153.4,435.5 L154.2,435.2 L155.0,434.9 L155.8,434.6 L156.6,434.3 L157.4,433.9 L158.2,433.6 L158.9,433.2 L159.7,432.8 L160.5,432.4 L161.3,431.9 L162.1,431.3 L162.9,430.7 L163.7,430.0 L164.5,429.2 L165.3,428.3 L166.1,427.4 L166.9,426.5 L167.7,425.5 L168.5,424.4 L169.3,423.3 L170.0,422.2 L170.8,421.0 L171.6,419.7 L172.4,418.2 L173.2,416.7 L174.0,415.1 L174.8,413.5 L175.6,411.8 L176.4,410.0 L177.2,408.3 L178.0,406.6 L178.8,404.8 L179.6,403.0 L180.3,401.0 L181.1,399.0 L181.9,396.9 L182.7,394.9 L183.5,392.9 L184.3,391.1 L185.1,389.4 L185.9,388.0 L186.7,386.8 L187.5,385.8 L188.3,384.9 L189.1,384.2 L189.9,383.4 L190.7,382.8 L191.4,382.2 L192.2,381.6 L193.0,381.2 L193.8,380.9 L194.6,380.6 L195.4,380.5 L196.2,380.6 L197.0,380.7 L197.8,381.1 L198.6,381.5 L199.4,382.0 L200.2,382.6 L201.0,383.3 L201.8,384.0 L202.5,384.7 L203.3,385.6 L204.1,386.6 L204.9,387.7 L205.7,388.8 L206.5,390.0 L207.3,391.3 L208.1,392.5 L208.9,393.8 L209.7,395.1 L210.5,396.5 L211.3,398.0 L212.1,399.4 L212.8,400.9 L213.6,402.4 L214.4,403.9 L215.2,405.4 L216.0,406.8 L216.8,408.2 L217.6,409.5 L218.4,410.7 L219.2,411.9 L220.0,413.0 L220.8,414.1 L221.6,415.1 L222.4,416.2 L223.2,417.2 L223.9,418.3 L224.7,419.3 L225.5,420.2 L226.3,421.2 L227.1,422.1 L227.9,423.0 L228.7,423.9 L229.5,424.7 L230.3,425.5 L231.1,426.2 L231.9,426.9 L232.7,427.5 L233.5,428.1 L234.3,428.7 L235.0,429.3 L235.8,429.8 L236.6,430.3 L237.4,430.8 L238.2,431.3 L239.0,431.7 L239.8,432.1 L240.6,432.4 L241.4,432.6 L242.2,432.7 L243.0,432.7 L243.8,432.6 L244.6,432.4 L245.3,432.1 L246.1,431.7 L246.9,431.2 L247.7,430.7 L248.5,430.1 L249.3,429.4 L250.1,428.8 L250.9,428.1 L251.7,427.4 L252.5,426.7 L253.3,426.0 L254.1,425.4 L254.9,424.8 L255.7,424.2 L256.4,423.6 L257.2,423.0 L258.0,422.4 L258.8,421.8 L259.6,421.1 L260.4,420.4 L261.2,419.7 L262.0,419.0 L262.8,418.3 L263.6,417.6 L264.4,416.8 L265.2,416.2 L266.0,415.5 L266.7,414.8 L267.5,414.2 L268.3,413.6 L269.1,413.1 L269.9,412.6 L270.7,412.1 L271.5,411.7 L272.3,411.4 L273.1,411.1 L273.9,410.9 L274.7,410.7 L275.5,410.7 L276.3,410.7 L277.1,410.8 L277.8,411.0 L278.6,411.3 L279.4,411.6 L280.2,412.0 L281.0,412.4 L281.8,412.9 L282.6,413.4 L283.4,413.9 L284.2,414.4 L285.0,414.9 L285.8,415.5 L286.6,416.0 L287.4,416.6 L288.2,417.2 L288.9,417.8 L289.7,418.5 L290.5,419.2 L291.3,419.9 L292.1,420.7 L292.9,421.3 L293.7,421.9 L293.70,437.15 L55.90,437.15 Z" fill="#008000" fill-opacity="0.5" stroke="none"/>
<path d="M55.9,435.0 L56.7,434.8 L57.5,434.4 L58.3,434.0 L59.1,433.7 L59.9,433.3 L60.7,432.9 L61.4,432.5 L62.2,432.1 L63.0,431.7 L63.8,431.3 L64.6,430.9 L65.4,430.6 L66.2,430.2 L67.0,429.8 L67.8,429.4 L68.6,429.0 L69.4,428.6 L70.2,428.2 L71.0,427.9 L71.8,427.5 L72.5,427.1 L73.3,426.8 L74.1,426.4 L74.9,426.1 L75.7,425.7 L76.5,425.4 L77.3,425.1 L78.1,424.8 L78.9,424.4 L79.7,424.1 L80.5,423.7 L81.3,423.3 L82.1,422.9 L82.9,422.5 L83.6,422.1 L84.4,421.6 L85.2,421.1 L86.0,420.5 L86.8,419.8 L87.6,419.0 L88.4,418.1 L89.2,417.1 L90.0,416.0 L90.8,414.8 L91.6,413.6 L92.4,412.5 L93.2,411.3 L93.9,410.2 L94.7,409.2 L95.5,408.2 L96.3,407.4 L97.1,406.7 L97.9,406.0 L98.7,405.2 L99.5,404.5 L100.3,403.9 L101.1,403.2 L101.9,402.6 L102.7,402.1 L103.5,401.6 L104.3,401.3 L105.0,401.0 L105.8,400.8 L106.6,400.8 L107.4,401.0 L108.2,401.2 L109.0,401.7 L109.8,402.3 L110.6,403.0 L111.4,403.8 L112.2,404.7 L113.0,405.7 L113.8,406.6 L114.6,407.6 L115.3,408.7 L116.1,409.7 L116.9,410.8 L117.7,412.0 L118.5,413.4 L119.3,414.8 L120.1,416.3 L120.9,417.8 L121.7,419.3 L122.5,420.7 L123.3,422.0 L124.1,423.2 L124.9,424.3 L125.7,425.4 L126.4,426.3 L127.2,427.3 L128.0,428.2 L128.8,429.1 L129.6,429.9 L130.4,430.8 L131.2,431.5 L132.0,432.2 L132.8,432.8 L133.6,433.3 L134.4,433.7 L135.2,434.0 L136.0,434.3 L136.8,434.5 L137.5,434.7 L138.3,434.9 L139.1,435.1 L139.9,435.3 L140.7,435.4 L141.5,435.6 L142.3,435.7 L143.1,435.8 L143.9,436.0 L144.7,436.0 L145.5,436.1 L146.3,436.2 L147.1,436.2 L147.8,436.3 L148.6,436.3 L149.4,436.2 L150.2,436.2 L151.0,436.0 L151.8,435.9 L152.6,435.7 L153.4,435.5 L154.2,435.2 L155.0,434.9 L155.8,434.6 L156.6,434.2 L157.4,433.8 L158.2,433.4 L158.9,432.9 L159.7,432.4 L160.5,431.8 L161.3,431.1 L162.1,430.1 L162.9,429.0 L163.7,427.6 L164.5,426.0 L165.3,424.3 L166.1,422.5 L166.9,420.7 L167.7,418.9 L168.5,417.0 L169.3,415.1 L170.0,413.1 L170.8,411.0 L171.6,408.8 L172.4,406.5 L173.2,404.2 L174.0,401.8 L174.8,399.5 L175.6,397.2 L176.4,394.8 L177.2,392.5 L178.0,390.1 L178.8,387.7 L179.6,385.3 L180.3,382.9 L181.1,380.5 L181.9,378.3 L182.7,376.2 L183.5,374.3 L184.3,372.5 L185.1,370.8 L185.9,369.2 L186.7,367.6 L187.5,366.1 L188.3,364.8 L189.1,363.6 L189.9,362.7 L190.7,362.2 L191.4,361.9 L192.2,362.1 L193.0,362.5 L193.8,363.3 L194.6,364.2 L195.4,365.2 L196.2,366.4 L197.0,367.6 L197.8,368.8 L198.6,370.3 L199.4,371.8 L200.2,373.5 L201.0,375.1 L201.8,376.7 L202.5,378.3 L203.3,379.7 L204.1,381.2 L204.9,382.6 L205.7,383.9 L206.5,385.3 L207.3,386.6 L208.1,387.9 L208.9,389.2 L209.7,390.5 L210.5,391.8 L211.3,393.1 L212.1,394.4 L212.8,395.7 L213.6,396.9 L214.4,398.2 L215.2,399.4 L216.0,400.7 L216.8,401.9 L217.6,403.1 L218.4,404.2 L219.2,405.4 L220.0,406.5 L220.8,407.6 L221.6,408.7 L222.4,409.7 L223.2,410.8 L223.9,411.9 L224.7,412.9 L225.5,413.9 L226.3,415.0 L227.1,416.0 L227.9,416.9 L228.7,417.9 L229.5,418.8 L230.3,419.8 L231.1,420.7 L231.9,421.5 L232.7,422.4 L233.5,423.2 L234.3,424.0 L235.0,424.9 L235.8,425.7 L236.6,426.6 L237.4,427.5 L238.2,428.3 L239.0,429.1 L239.8,429.9 L240.6,430.5 L241.4,431.1 L242.2,431.5 L243.0,431.7 L243.8,431.9 L244.6,431.9 L245.3,431.8 L246.1,431.7 L246.9,431.5 L247.7,431.3 L248.5,431.0 L249.3,430.7 L250.1,430.4 L250.9,430.1 L251.7,429.7 L252.5,429.4 L253.3,429.1 L254.1,428.7 L254.9,428.4 L255.7,428.1 L256.4,427.8 L257.2,427.4 L258.0,427.0 L258.8,426.6 L259.6,426.2 L260.4,425.8 L261.2,425.3 L262.0,424.9 L262.8,424.4 L263.6,423.9 L264.4,423.5 L265.2,423.1 L266.0,422.6 L266.7,422.2 L267.5,421.9 L268.3,421.5 L269.1,421.2 L269.9,421.0 L270.7,420.7 L271.5,420.6 L272.3,420.4 L273.1,420.4 L273.9,420.4 L274.7,420.5 L275.5,420.6 L276.3,420.8 L277.1,421.1 L277.8,421.4 L278.6,421.7 L279.4,422.1 L280.2,422.5 L281.0,422.9 L281.8,423.3 L282.6,423.8 L283.4,424.2 L284.2,424.6 L285.0,425.1 L285.8,425.5 L286.6,425.9 L287.4,426.4 L288.2,426.8 L288.9,427.3 L289.7,427.8 L290.5,428.3 L291.3,428.8 L292.1,429.4 L292.9,429.8 L293.7,430.2 L293.70,437.15 L55.90,437.15 Z" fill="#0000ff" fill-opacity="0.5" stroke="none"/>
<line x1="55.90" x2="55.90" y1="329.25" y2="437.15" stroke="#b0b0b0" stroke-width="1.25"/>
<line x1="103.46" x2="103.46" y1="329.25" y2="437.15" stroke="#b0b0b0" stroke-width="1.25"/>
<line x1="151.02" x2="151.02" y1="329.25" y2="437.15" stroke="#b0b0b0" stroke-width="1.25"/>
<line x1="198.58" x2="198.58" y1="329.25" y2="437.15" stroke="#b0b0b0" stroke-width="1.25"/>
<line x1="246.14" x2="246.14" y1="329.25" y2="437.15" stroke="#b0b0b0" stroke-width="1.25"/>
<line x1="293.70" x2="293.70" y1="329.25" y2="437.15" stroke="#b0b0b0" stroke-width="1.25"/>
<line x1="55.90" x2="293.70" y1="437.15" y2="437.15" stroke="#b0b0b0" stroke-width="1.25"/>
<line x1="55.90" x2="293.70" y1="415.57" y2="415.57" stroke="#b0b0b0" stroke-width="1.25"/>
<line x1="55.90" x2="293.70" y1="393.99" y2="393.99" stroke="#b0b0b0" stroke-width="1.25"/>
<line x1="55.90" x2="293.70" y1="372.41" y2="372.41" stroke="#b0b0b0" stroke-width="1.25"/>
<line x1="55.90" x2="293.70" y1="350.83" y2="350.83" stroke="#b0b0b0" stroke-width="1.25"/>
<line x1="55.90" x2="293.70" y1="329.25" y2="329.25" stroke="#b0b0b0" stroke-width="1.25"/>
<path d="M55.9,432.8 L56.7,432.4 L57.5,431.8 L58.3,431.3 L59.1,430.7 L59.9,430.1 L60.7,429.6 L61.4,429.0 L62.2,428.5 L63.0,428.0 L63.8,427.4 L64.6,427.0 L65.4,426.5 L66.2,426.0 L67.0,425.6 L67.8,425.1 L68.6,424.7 L69.4,424.3 L70.2,423.9 L71.0,423.5 L71.8,423.2 L72.5,422.8 L73.3,422.5 L74.1,422.2 L74.9,421.9 L75.7,421.6 L76.5,421.3 L77.3,421.1 L78.1,420.8 L78.9,420.5 L79.7,420.3 L80.5,420.0 L81.3,419.8 L82.1,419.5 L82.9,419.3 L83.6,419.0 L84.4,418.8 L85.2,418.5 L86.0,418.3 L86.8,418.0 L87.6,417.7 L88.4,417.4 L89.2,417.0 L90.0,416.7 L90.8,416.3 L91.6,416.0 L92.4,415.6 L93.2,415.3 L93.9,415.0 L94.7,414.6 L95.5,414.4 L96.3,414.1 L97.1,413.8 L97.9,413.6 L98.7,413.5 L99.5,413.3 L100.3,413.3 L101.1,413.3 L101.9,413.3 L102.7,413.4 L103.5,413.6 L104.3,413.9 L105.0,414.2 L105.8,414.6 L106.6,415.1 L107.4,415.6 L108.2,416.1 L109.0,416.7 L109.8,417.2 L110.6,417.8 L111.4,418.4 L112.2,419.0 L113.0,419.6 L113.8,420.2 L114.6,420.9 L115.3,421.6 L116.1,422.4 L116.9,423.2 L117.7,424.1 L118.5,424.9 L119.3,425.8 L120.1,426.6 L120.9,427.4 L121.7,428.1 L122.5,428.7 L123.3,429.2 L124.1,429.8 L124.9,430.3 L125.7,430.8 L126.4,431.3 L127.2,431.7 L128.0,432.2 L128.8,432.6 L129.6,433.0 L130.4,433.4 L131.2,433.7 L132.0,434.0 L132.8,434.3 L133.6,434.6 L134.4,434.8 L135.2,434.9 L136.0,435.1 L136.8,435.2 L137.5,435.3 L138.3,435.4 L139.1,435.6 L139.9,435.7 L140.7,435.8 L141.5,435.9 L142.3,435.9 L143.1,436.0 L143.9,436.1 L144.7,436.1 L145.5,436.2 L146.3,436.2 L147.1,436.3 L147.8,436.3 L148.6,436.3 L149.4,436.2 L150.2,436.1 L151.0,436.0 L151.8,435.9 L152.6,435.7 L153.4,435.4 L154.2,435.1 L155.0,434.8 L155.8,434.5 L156.6,434.1 L157.4,433.7 L158.2,433.3 L158.9,432.9 L159.7,432.4 L160.5,431.9 L161.3,431.3 L162.1,430.6 L162.9,429.8 L163.7,428.8 L164.5,427.7 L165.3,426.6 L166.1,425.3 L166.9,424.0 L167.7,422.6 L168.5,421.1 L169.3,419.6 L170.0,418.1 L170.8,416.4 L171.6,414.6 L172.4,412.6 L173.2,410.5 L174.0,408.2 L174.8,405.9 L175.6,403.6 L176.4,401.2 L177.2,398.8 L178.0,396.5 L178.8,394.1 L179.6,391.8 L180.3,389.4 L181.1,386.9 L181.9,384.4 L182.7,382.0 L183.5,379.7 L184.3,377.5 L185.1,375.4 L185.9,373.5 L186.7,371.7 L187.5,370.0 L188.3,368.3 L189.1,366.6 L189.9,365.1 L190.7,363.7 L191.4,362.5 L192.2,361.6 L193.0,361.1 L193.8,360.9 L194.6,361.1 L195.4,361.7 L196.2,362.6 L197.0,363.8 L197.8,365.1 L198.6,366.6 L199.4,368.2 L200.2,369.8 L201.0,371.4 L201.8,373.0 L202.5,374.8 L203.3,376.6 L204.1,378.6 L204.9,380.6 L205.7,382.6 L206.5,384.5 L207.3,386.3 L208.1,388.1 L208.9,389.7 L209.7,391.3 L210.5,392.8 L211.3,394.3 L212.1,395.8 L212.8,397.3 L213.6,398.7 L214.4,400.1 L215.2,401.4 L216.0,402.7 L216.8,404.0 L217.6,405.2 L218.4,406.4 L219.2,407.6 L220.0,408.7 L220.8,409.8 L221.6,410.9 L222.4,411.9 L223.2,412.9 L223.9,413.9 L224.7,414.9 L225.5,415.8 L226.3,416.8 L227.1,417.7 L227.9,418.6 L228.7,419.4 L229.5,420.3 L230.3,421.2 L231.1,422.1 L231.9,423.0 L232.7,423.9 L233.5,424.8 L234.3,425.6 L235.0,426.5 L235.8,427.3 L236.6,428.1 L237.4,428.8 L238.2,429.4 L239.0,430.0 L239.8,430.5 L240.6,430.9 L241.4,431.3 L242.2,431.7 L243.0,432.0 L243.8,432.2 L244.6,432.3 L245.3,432.3 L246.1,432.1 L246.9,431.9 L247.7,431.6 L248.5,431.2 L249.3,430.8 L250.1,430.3 L250.9,429.7 L251.7,429.2 L252.5,428.6 L253.3,428.1 L254.1,427.6 L254.9,427.1 L255.7,426.6 L256.4,426.1 L257.2,425.6 L258.0,425.1 L258.8,424.5 L259.6,424.0 L260.4,423.4 L261.2,422.8 L262.0,422.2 L262.8,421.6 L263.6,421.0 L264.4,420.4 L265.2,419.9 L266.0,419.3 L266.7,418.8 L267.5,418.4 L268.3,417.9 L269.1,417.6 L269.9,417.2 L270.7,416.9 L271.5,416.7 L272.3,416.6 L273.1,416.5 L273.9,416.5 L274.7,416.6 L275.5,416.8 L276.3,417.0 L277.1,417.3 L277.8,417.6 L278.6,418.0 L279.4,418.5 L280.2,418.9 L281.0,419.4 L281.8,419.9 L282.6,420.5 L283.4,421.0 L284.2,421.5 L285.0,422.0 L285.8,422.5 L286.6,423.0 L287.4,423.6 L288.2,424.2 L288.9,424.8 L289.7,425.4 L290.5,426.0 L291.3,426.7 L292.1,427.3 L292.9,427.9 L293.7,428.4" fill="none" stroke="#ff0000" stroke-width="2.8" stroke-dasharray="2.8 3.3" stroke-linejoin="round"/>
<path d="M55.9,430.5 L56.7,429.9 L57.5,429.2 L58.3,428.4 L59.1,427.7 L59.9,426.9 L60.7,426.1 L61.4,425.4 L62.2,424.7 L63.0,424.0 L63.8,423.3 L64.6,422.6 L65.4,422.0 L66.2,421.4 L67.0,420.8 L67.8,420.3 L68.6,419.8 L69.4,419.3 L70.2,418.8 L71.0,418.4 L71.8,418.0 L72.5,417.6 L73.3,417.2 L74.1,416.9 L74.9,416.5 L75.7,416.2 L76.5,415.8 L77.3,415.5 L78.1,415.2 L78.9,414.9 L79.7,414.6 L80.5,414.4 L81.3,414.1 L82.1,413.9 L82.9,413.6 L83.6,413.4 L84.4,413.2 L85.2,413.0 L86.0,412.8 L86.8,412.7 L87.6,412.5 L88.4,412.3 L89.2,412.1 L90.0,412.0 L90.8,411.8 L91.6,411.6 L92.4,411.5 L93.2,411.3 L93.9,411.2 L94.7,411.1 L95.5,411.0 L96.3,410.9 L97.1,410.8 L97.9,410.7 L98.7,410.7 L99.5,410.6 L100.3,410.7 L101.1,410.7 L101.9,410.9 L102.7,411.1 L103.5,411.4 L104.3,411.7 L105.0,412.1 L105.8,412.5 L106.6,413.0 L107.4,413.5 L108.2,414.0 L109.0,414.6 L109.8,415.2 L110.6,415.8 L111.4,416.3 L112.2,416.9 L113.0,417.5 L113.8,418.1 L114.6,418.6 L115.3,419.2 L116.1,419.9 L116.9,420.6 L117.7,421.3 L118.5,422.0 L119.3,422.7 L120.1,423.5 L120.9,424.2 L121.7,425.0 L122.5,425.7 L123.3,426.4 L124.1,427.0 L124.9,427.6 L125.7,428.3 L126.4,428.9 L127.2,429.5 L128.0,430.2 L128.8,430.8 L129.6,431.4 L130.4,432.0 L131.2,432.6 L132.0,433.1 L132.8,433.5 L133.6,433.9 L134.4,434.2 L135.2,434.5 L136.0,434.7 L136.8,434.9 L137.5,435.0 L138.3,435.2 L139.1,435.3 L139.9,435.5 L140.7,435.6 L141.5,435.7 L142.3,435.8 L143.1,435.9 L143.9,436.0 L144.7,436.1 L145.5,436.2 L146.3,436.2 L147.1,436.2 L147.8,436.3 L148.6,436.3 L149.4,436.2 L150.2,436.2 L151.0,436.0 L151.8,435.9 L152.6,435.7 L153.4,435.5 L154.2,435.2 L155.0,434.9 L155.8,434.6 L156.6,434.3 L157.4,433.9 L158.2,433.6 L158.9,433.2 L159.7,432.8 L160.5,432.4 L161.3,431.9 L162.1,431.3 L162.9,430.7 L163.7,430.0 L164.5,429.2 L165.3,428.3 L166.1,427.4 L166.9,426.5 L167.7,425.5 L168.5,424.4 L169.3,423.3 L170.0,422.2 L170.8,421.0 L171.6,419.7 L172.4,418.2 L173.2,416.7 L174.0,415.1 L174.8,413.5 L175.6,411.8 L176.4,410.0 L177.2,408.3 L178.0,406.6 L178.8,404.8 L179.6,403.0 L180.3,401.0 L181.1,399.0 L181.9,396.9 L182.7,394.9 L183.5,392.9 L184.3,391.1 L185.1,389.4 L185.9,388.0 L186.7,386.8 L187.5,385.8 L188.3,384.9 L189.1,384.2 L189.9,383.4 L190.7,382.8 L191.4,382.2 L192.2,381.6 L193.0,381.2 L193.8,380.9 L194.6,380.6 L195.4,380.5 L196.2,380.6 L197.0,380.7 L197.8,381.1 L198.6,381.5 L199.4,382.0 L200.2,382.6 L201.0,383.3 L201.8,384.0 L202.5,384.7 L203.3,385.6 L204.1,386.6 L204.9,387.7 L205.7,388.8 L206.5,390.0 L207.3,391.3 L208.1,392.5 L208.9,393.8 L209.7,395.1 L210.5,396.5 L211.3,398.0 L212.1,399.4 L212.8,400.9 L213.6,402.4 L214.4,403.9 L215.2,405.4 L216.0,406.8 L216.8,408.2 L217.6,409.5 L218.4,410.7 L219.2,411.9 L220.0,413.0 L220.8,414.1 L221.6,415.1 L222.4,416.2 L223.2,417.2 L223.9,418.3 L224.7,419.3 L225.5,420.2 L226.3,421.2 L227.1,422.1 L227.9,423.0 L228.7,423.9 L229.5,424.7 L230.3,425.5 L231.1,426.2 L231.9,426.9 L232.7,427.5 L233.5,428.1 L234.3,428.7 L235.0,429.3 L235.8,429.8 L236.6,430.3 L237.4,430.8 L238.2,431.3 L239.0,431.7 L239.8,432.1 L240.6,432.4 L241.4,432.6 L242.2,432.7 L243.0,432.7 L243.8,432.6 L244.6,432.4 L245.3,432.1 L246.1,431.7 L246.9,431.2 L247.7,430.7 L248.5,430.1 L249.3,429.4 L250.1,428.8 L250.9,428.1 L251.7,427.4 L252.5,426.7 L253.3,426.0 L254.1,425.4 L254.9,424.8 L255.7,424.2 L256.4,423.6 L257.2,423.0 L258.0,422.4 L258.8,421.8 L259.6,421.1 L260.4,420.4 L261.2,419.7 L262.0,419.0 L262.8,418.3 L263.6,417.6 L264.4,416.8 L265.2,416.2 L266.0,415.5 L266.7,414.8 L267.5,414.2 L268.3,413.6 L269.1,413.1 L269.9,412.6 L270.7,412.1 L271.5,411.7 L272.3,411.4 L273.1,411.1 L273.9,410.9 L274.7,410.7 L275.5,410.7 L276.3,410.7 L277.1,410.8 L277.8,411.0 L278.6,411.3 L279.4,411.6 L280.2,412.0 L281.0,412.4 L281.8,412.9 L282.6,413.4 L283.4,413.9 L284.2,414.4 L285.0,414.9 L285.8,415.5 L286.6,416.0 L287.4,416.6 L288.2,417.2 L288.9,417.8 L289.7,418.5 L290.5,419.2 L291.3,419.9 L292.1,420.7 L292.9,421.3 L293.7,421.9" fill="none" stroke="#008000" stroke-width="2.8" stroke-dasharray="2.8 3.3" stroke-linejoin="round"/>
<path d="M55.9,435.0 L56.7,434.8 L57.5,434.4 L58.3,434.0 L59.1,433.7 L59.9,433.3 L60.7,432.9 L61.4,432.5 L62.2,432.1 L63.0,431.7 L63.8,431.3 L64.6,430.9 L65.4,430.6 L66.2,430.2 L67.0,429.8 L67.8,429.4 L68.6,429.0 L69.4,428.6 L70.2,428.2 L71.0,427.9 L71.8,427.5 L72.5,427.1 L73.3,426.8 L74.1,426.4 L74.9,426.1 L75.7,425.7 L76.5,425.4 L77.3,425.1 L78.1,424.8 L78.9,424.4 L79.7,424.1 L80.5,423.7 L81.3,423.3 L82.1,422.9 L82.9,422.5 L83.6,422.1 L84.4,421.6 L85.2,421.1 L86.0,420.5 L86.8,419.8 L87.6,419.0 L88.4,418.1 L89.2,417.1 L90.0,416.0 L90.8,414.8 L91.6,413.6 L92.4,412.5 L93.2,411.3 L93.9,410.2 L94.7,409.2 L95.5,408.2 L96.3,407.4 L97.1,406.7 L97.9,406.0 L98.7,405.2 L99.5,404.5 L100.3,403.9 L101.1,403.2 L101.9,402.6 L102.7,402.1 L103.5,401.6 L104.3,401.3 L105.0,401.0 L105.8,400.8 L106.6,400.8 L107.4,401.0 L108.2,401.2 L109.0,401.7 L109.8,402.3 L110.6,403.0 L111.4,403.8 L112.2,404.7 L113.0,405.7 L113.8,406.6 L114.6,407.6 L115.3,408.7 L116.1,409.7 L116.9,410.8 L117.7,412.0 L118.5,413.4 L119.3,414.8 L120.1,416.3 L120.9,417.8 L121.7,419.3 L122.5,420.7 L123.3,422.0 L124.1,423.2 L124.9,424.3 L125.7,425.4 L126.4,426.3 L127.2,427.3 L128.0,428.2 L128.8,429.1 L129.6,429.9 L130.4,430.8 L131.2,431.5 L132.0,432.2 L132.8,432.8 L133.6,433.3 L134.4,433.7 L135.2,434.0 L136.0,434.3 L136.8,434.5 L137.5,434.7 L138.3,434.9 L139.1,435.1 L139.9,435.3 L140.7,435.4 L141.5,435.6 L142.3,435.7 L143.1,435.8 L143.9,436.0 L144.7,436.0 L145.5,436.1 L146.3,436.2 L147.1,436.2 L147.8,436.3 L148.6,436.3 L149.4,436.2 L150.2,436.2 L151.0,436.0 L151.8,435.9 L152.6,435.7 L153.4,435.5 L154.2,435.2 L155.0,434.9 L155.8,434.6 L156.6,434.2 L157.4,433.8 L158.2,433.4 L158.9,432.9 L159.7,432.4 L160.5,431.8 L161.3,431.1 L162.1,430.1 L162.9,429.0 L163.7,427.6 L164.5,426.0 L165.3,424.3 L166.1,422.5 L166.9,420.7 L167.7,418.9 L168.5,417.0 L169.3,415.1 L170.0,413.1 L170.8,411.0 L171.6,408.8 L172.4,406.5 L173.2,404.2 L174.0,401.8 L174.8,399.5 L175.6,397.2 L176.4,394.8 L177.2,392.5 L178.0,390.1 L178.8,387.7 L179.6,385.3 L180.3,382.9 L181.1,380.5 L181.9,378.3 L182.7,376.2 L183.5,374.3 L184.3,372.5 L185.1,370.8 L185.9,369.2 L186.7,367.6 L187.5,366.1 L188.3,364.8 L189.1,363.6 L189.9,362.7 L190.7,362.2 L191.4,361.9 L192.2,362.1 L193.0,362.5 L193.8,363.3 L194.6,364.2 L195.4,365.2 L196.2,366.4 L197.0,367.6 L197.8,368.8 L198.6,370.3 L199.4,371.8 L200.2,373.5 L201.0,375.1 L201.8,376.7 L202.5,378.3 L203.3,379.7 L204.1,381.2 L204.9,382.6 L205.7,383.9 L206.5,385.3 L207.3,386.6 L208.1,387.9 L208.9,389.2 L209.7,390.5 L210.5,391.8 L211.3,393.1 L212.1,394.4 L212.8,395.7 L213.6,396.9 L214.4,398.2 L215.2,399.4 L216.0,400.7 L216.8,401.9 L217.6,403.1 L218.4,404.2 L219.2,405.4 L220.0,406.5 L220.8,407.6 L221.6,408.7 L222.4,409.7 L223.2,410.8 L223.9,411.9 L224.7,412.9 L225.5,413.9 L226.3,415.0 L227.1,416.0 L227.9,416.9 L228.7,417.9 L229.5,418.8 L230.3,419.8 L231.1,420.7 L231.9,421.5 L232.7,422.4 L233.5,423.2 L234.3,424.0 L235.0,424.9 L235.8,425.7 L236.6,426.6 L237.4,427.5 L238.2,428.3 L239.0,429.1 L239.8,429.9 L240.6,430.5 L241.4,431.1 L242.2,431.5 L243.0,431.7 L243.8,431.9 L244.6,431.9 L245.3,431.8 L246.1,431.7 L246.9,431.5 L247.7,431.3 L248.5,431.0 L249.3,430.7 L250.1,430.4 L250.9,430.1 L251.7,429.7 L252.5,429.4 L253.3,429.1 L254.1,428.7 L254.9,428.4 L255.7,428.1 L256.4,427.8 L257.2,427.4 L258.0,427.0 L258.8,426.6 L259.6,426.2 L260.4,425.8 L261.2,425.3 L262.0,424.9 L262.8,424.4 L263.6,423.9 L264.4,423.5 L265.2,423.1 L266.0,422.6 L266.7,422.2 L267.5,421.9 L268.3,421.5 L269.1,421.2 L269.9,421.0 L270.7,420.7 L271.5,420.6 L272.3,420.4 L273.1,420.4 L273.9,420.4 L274.7,420.5 L275.5,420.6 L276.3,420.8 L277.1,421.1 L277.8,421.4 L278.6,421.7 L279.4,422.1 L280.2,422.5 L281.0,422.9 L281.8,423.3 L282.6,423.8 L283.4,424.2 L284.2,424.6 L285.0,425.1 L285.8,425.5 L286.6,425.9 L287.4,426.4 L288.2,426.8 L288.9,427.3 L289.7,427.8 L290.5,428.3 L291.3,428.8 L292.1,429.4 L292.9,429.8 L293.7,430.2" fill="none" stroke="#0000ff" stroke-width="2.8" stroke-dasharray="2.8 3.3" stroke-linejoin="round"/>
</g>
<line x1="55.90" x2="55.90" y1="437.15" y2="441.95" stroke="#000" stroke-width="1"/>
<text x="54.50" y="456.55" font-size="11.4" letter-spacing="0.45" text-anchor="middle">0.0</text>
<line x1="103.46" x2="103.46" y1="437.15" y2="441.95" stroke="#000" stroke-width="1"/>
<text x="102.06" y="456.55" font-size="11.4" letter-spacing="0.45" text-anchor="middle">0.2</text>
<line x1="151.02" x2="151.02" y1="437.15" y2="441.95" stroke="#000" stroke-width="1"/>
<text x="149.62" y="456.55" font-size="11.4" letter-spacing="0.45" text-anchor="middle">0.4</text>
<line x1="198.58" x2="198.58" y1="437.15" y2="441.95" stroke="#000" stroke-width="1"/>
<text x="197.18" y="456.55" font-size="11.4" letter-spacing="0.45" text-anchor="middle">0.6</text>
<line x1="246.14" x2="246.14" y1="437.15" y2="441.95" stroke="#000" stroke-width="1"/>
<text x="244.74" y="456.55" font-size="11.4" letter-spacing="0.45" text-anchor="middle">0.8</text>
<line x1="293.70" x2="293.70" y1="437.15" y2="441.95" stroke="#000" stroke-width="1"/>
<text x="292.30" y="456.55" font-size="11.4" letter-spacing="0.45" text-anchor="middle">1.0</text>
<line x1="51.10" x2="55.90" y1="437.15" y2="437.15" stroke="#000" stroke-width="1"/>
<text x="44.70" y="441.70" font-size="11.4" letter-spacing="0.45" text-anchor="end">0</text>
<line x1="51.10" x2="55.90" y1="415.57" y2="415.57" stroke="#000" stroke-width="1"/>
<text x="44.70" y="420.12" font-size="11.4" letter-spacing="0.45" text-anchor="end">1</text>
<line x1="51.10" x2="55.90" y1="393.99" y2="393.99" stroke="#000" stroke-width="1"/>
<text x="44.70" y="398.54" font-size="11.4" letter-spacing="0.45" text-anchor="end">2</text>
<line x1="51.10" x2="55.90" y1="372.41" y2="372.41" stroke="#000" stroke-width="1"/>
<text x="44.70" y="376.96" font-size="11.4" letter-spacing="0.45" text-anchor="end">3</text>
<line x1="51.10" x2="55.90" y1="350.83" y2="350.83" stroke="#000" stroke-width="1"/>
<text x="44.70" y="355.38" font-size="11.4" letter-spacing="0.45" text-anchor="end">4</text>
<line x1="51.10" x2="55.90" y1="329.25" y2="329.25" stroke="#000" stroke-width="1"/>
<text x="44.70" y="333.80" font-size="11.4" letter-spacing="0.45" text-anchor="end">5</text>
<rect x="55.90" y="329.25" width="237.80" height="107.90" fill="none" stroke="#000" stroke-width="1.25"/>
<text x="60.50" y="346.05" font-size="14.2" letter-spacing="0.55">CL <tspan font-weight="bold" letter-spacing="1.1">(c)</tspan></text>
<text transform="translate(28.40,384.10) rotate(-90)" font-size="14" text-anchor="middle" letter-spacing="0.3">Estimated PDF</text>
<text x="174.30" y="473.65" font-size="13.4" letter-spacing="0.2" text-anchor="middle"><tspan font-style="italic">β</tspan><tspan font-style="italic" font-size="9.8" dy="2.4">m</tspan></text>
<clipPath id="c12"><rect x="364.70" y="329.25" width="237.80" height="107.90"/></clipPath>
<g clip-path="url(#c12)">
<path d="M364.7,436.2 L365.5,436.2 L366.3,436.0 L367.1,435.8 L367.9,435.5 L368.7,435.2 L369.5,434.8 L370.2,434.3 L371.0,433.8 L371.8,433.2 L372.6,432.7 L373.4,432.1 L374.2,431.4 L375.0,430.8 L375.8,430.0 L376.6,429.1 L377.4,428.2 L378.2,427.1 L379.0,425.9 L379.8,424.6 L380.6,423.2 L381.3,421.8 L382.1,420.4 L382.9,418.9 L383.7,417.4 L384.5,415.9 L385.3,414.4 L386.1,412.8 L386.9,411.2 L387.7,409.5 L388.5,407.7 L389.3,405.8 L390.1,404.0 L390.9,402.1 L391.7,400.4 L392.4,398.8 L393.2,397.4 L394.0,396.0 L394.8,394.8 L395.6,393.7 L396.4,392.6 L397.2,391.6 L398.0,390.8 L398.8,390.1 L399.6,389.7 L400.4,389.5 L401.2,389.6 L402.0,390.0 L402.7,390.6 L403.5,391.4 L404.3,392.4 L405.1,393.5 L405.9,394.6 L406.7,395.8 L407.5,396.9 L408.3,398.1 L409.1,399.2 L409.9,400.4 L410.7,401.7 L411.5,403.1 L412.3,404.5 L413.1,406.0 L413.8,407.4 L414.6,408.7 L415.4,409.9 L416.2,411.0 L417.0,411.8 L417.8,412.3 L418.6,412.5 L419.4,412.5 L420.2,412.2 L421.0,411.6 L421.8,410.9 L422.6,410.1 L423.4,409.1 L424.1,407.9 L424.9,406.7 L425.7,405.4 L426.5,404.0 L427.3,402.6 L428.1,401.1 L428.9,399.4 L429.7,397.4 L430.5,395.2 L431.3,392.7 L432.1,390.1 L432.9,387.5 L433.7,385.0 L434.5,382.4 L435.2,380.0 L436.0,377.5 L436.8,375.0 L437.6,372.5 L438.4,370.1 L439.2,367.7 L440.0,365.5 L440.8,363.4 L441.6,361.5 L442.4,359.8 L443.2,358.1 L444.0,356.5 L444.8,355.1 L445.6,353.9 L446.3,353.1 L447.1,352.8 L447.9,353.0 L448.7,353.7 L449.5,354.9 L450.3,356.4 L451.1,358.2 L451.9,360.2 L452.7,362.3 L453.5,364.6 L454.3,367.1 L455.1,370.0 L455.9,373.1 L456.6,376.6 L457.4,380.1 L458.2,383.6 L459.0,387.0 L459.8,390.2 L460.6,393.1 L461.4,396.0 L462.2,398.8 L463.0,401.5 L463.8,404.1 L464.6,406.5 L465.4,408.7 L466.2,410.8 L467.0,412.7 L467.7,414.5 L468.5,416.2 L469.3,417.8 L470.1,419.3 L470.9,420.8 L471.7,422.1 L472.5,423.4 L473.3,424.5 L474.1,425.5 L474.9,426.3 L475.7,427.1 L476.5,427.8 L477.3,428.5 L478.1,429.1 L478.8,429.7 L479.6,430.2 L480.4,430.7 L481.2,431.1 L482.0,431.4 L482.8,431.7 L483.6,431.9 L484.4,432.1 L485.2,432.3 L486.0,432.4 L486.8,432.5 L487.6,432.6 L488.4,432.7 L489.1,432.8 L489.9,432.9 L490.7,433.0 L491.5,433.0 L492.3,433.0 L493.1,433.0 L493.9,433.0 L494.7,433.0 L495.5,432.9 L496.3,432.9 L497.1,432.8 L497.9,432.7 L498.7,432.6 L499.5,432.5 L500.2,432.4 L501.0,432.2 L501.8,432.1 L502.6,432.0 L503.4,431.9 L504.2,431.7 L505.0,431.6 L505.8,431.5 L506.6,431.4 L507.4,431.3 L508.2,431.2 L509.0,431.2 L509.8,431.1 L510.6,431.0 L511.3,430.9 L512.1,430.8 L512.9,430.7 L513.7,430.6 L514.5,430.6 L515.3,430.5 L516.1,430.4 L516.9,430.4 L517.7,430.3 L518.5,430.3 L519.3,430.3 L520.1,430.3 L520.9,430.3 L521.6,430.3 L522.4,430.3 L523.2,430.4 L524.0,430.5 L524.8,430.5 L525.6,430.6 L526.4,430.7 L527.2,430.9 L528.0,431.0 L528.8,431.1 L529.6,431.2 L530.4,431.3 L531.2,431.5 L532.0,431.6 L532.7,431.7 L533.5,431.8 L534.3,431.9 L535.1,432.0 L535.9,432.0 L536.7,432.1 L537.5,432.2 L538.3,432.3 L539.1,432.3 L539.9,432.4 L540.7,432.5 L541.5,432.6 L542.3,432.6 L543.0,432.7 L543.8,432.8 L544.6,432.8 L545.4,432.9 L546.2,432.9 L547.0,433.0 L547.8,433.0 L548.6,433.0 L549.4,433.0 L550.2,433.0 L551.0,433.0 L551.8,432.8 L552.6,432.7 L553.4,432.5 L554.1,432.2 L554.9,431.9 L555.7,431.6 L556.5,431.3 L557.3,431.0 L558.1,430.6 L558.9,430.1 L559.7,429.6 L560.5,429.1 L561.3,428.6 L562.1,428.1 L562.9,427.6 L563.7,427.2 L564.5,426.9 L565.2,426.6 L566.0,426.4 L566.8,426.1 L567.6,425.9 L568.4,425.7 L569.2,425.6 L570.0,425.4 L570.8,425.2 L571.6,425.1 L572.4,424.9 L573.2,424.8 L574.0,424.7 L574.8,424.6 L575.5,424.5 L576.3,424.5 L577.1,424.4 L577.9,424.4 L578.7,424.5 L579.5,424.5 L580.3,424.5 L581.1,424.6 L581.9,424.7 L582.7,424.8 L583.5,425.0 L584.3,425.1 L585.1,425.3 L585.9,425.4 L586.6,425.6 L587.4,425.8 L588.2,426.0 L589.0,426.2 L589.8,426.4 L590.6,426.6 L591.4,426.9 L592.2,427.2 L593.0,427.6 L593.8,428.0 L594.6,428.4 L595.4,428.9 L596.2,429.3 L597.0,429.8 L597.7,430.2 L598.5,430.6 L599.3,430.9 L600.1,431.2 L600.9,431.5 L601.7,431.7 L602.5,431.9 L602.50,437.15 L364.70,437.15 Z" fill="#ff0000" fill-opacity="0.5" stroke="none"/>
<path d="M364.7,412.7 L365.5,411.1 L366.3,409.1 L367.1,407.0 L367.9,404.9 L368.7,403.0 L369.5,401.3 L370.2,399.8 L371.0,398.4 L371.8,397.2 L372.6,396.0 L373.4,394.9 L374.2,393.8 L375.0,392.8 L375.8,391.9 L376.6,391.0 L377.4,390.2 L378.2,389.6 L379.0,389.0 L379.8,388.6 L380.6,388.4 L381.3,388.3 L382.1,388.3 L382.9,388.4 L383.7,388.6 L384.5,388.9 L385.3,389.2 L386.1,389.6 L386.9,390.0 L387.7,390.5 L388.5,391.0 L389.3,391.6 L390.1,392.1 L390.9,392.7 L391.7,393.3 L392.4,394.0 L393.2,394.7 L394.0,395.6 L394.8,396.5 L395.6,397.6 L396.4,398.7 L397.2,399.9 L398.0,401.1 L398.8,402.3 L399.6,403.4 L400.4,404.5 L401.2,405.5 L402.0,406.5 L402.7,407.3 L403.5,408.1 L404.3,408.9 L405.1,409.7 L405.9,410.5 L406.7,411.3 L407.5,412.1 L408.3,412.8 L409.1,413.5 L409.9,414.1 L410.7,414.6 L411.5,415.1 L412.3,415.4 L413.1,415.7 L413.8,415.9 L414.6,415.9 L415.4,415.7 L416.2,415.5 L417.0,415.1 L417.8,414.6 L418.6,414.0 L419.4,413.3 L420.2,412.7 L421.0,412.0 L421.8,411.3 L422.6,410.6 L423.4,410.0 L424.1,409.4 L424.9,408.8 L425.7,408.2 L426.5,407.6 L427.3,407.0 L428.1,406.4 L428.9,405.8 L429.7,405.2 L430.5,404.6 L431.3,404.1 L432.1,403.6 L432.9,403.1 L433.7,402.7 L434.5,402.3 L435.2,401.9 L436.0,401.6 L436.8,401.2 L437.6,400.9 L438.4,400.6 L439.2,400.3 L440.0,400.0 L440.8,399.7 L441.6,399.5 L442.4,399.3 L443.2,399.2 L444.0,399.1 L444.8,399.0 L445.6,399.1 L446.3,399.2 L447.1,399.4 L447.9,399.7 L448.7,400.0 L449.5,400.5 L450.3,401.0 L451.1,401.5 L451.9,402.1 L452.7,402.7 L453.5,403.4 L454.3,404.0 L455.1,404.6 L455.9,405.3 L456.6,406.0 L457.4,406.8 L458.2,407.7 L459.0,408.6 L459.8,409.5 L460.6,410.6 L461.4,411.6 L462.2,412.6 L463.0,413.7 L463.8,414.8 L464.6,415.8 L465.4,416.8 L466.2,417.8 L467.0,418.7 L467.7,419.7 L468.5,420.7 L469.3,421.6 L470.1,422.6 L470.9,423.6 L471.7,424.6 L472.5,425.5 L473.3,426.4 L474.1,427.2 L474.9,428.0 L475.7,428.7 L476.5,429.3 L477.3,429.8 L478.1,430.3 L478.8,430.7 L479.6,431.2 L480.4,431.5 L481.2,431.9 L482.0,432.1 L482.8,432.3 L483.6,432.3 L484.4,432.4 L485.2,432.3 L486.0,432.3 L486.8,432.2 L487.6,432.0 L488.4,431.8 L489.1,431.4 L489.9,430.8 L490.7,429.9 L491.5,428.9 L492.3,427.8 L493.1,426.7 L493.9,425.6 L494.7,424.6 L495.5,423.6 L496.3,422.7 L497.1,421.8 L497.9,421.0 L498.7,420.1 L499.5,419.3 L500.2,418.5 L501.0,417.7 L501.8,417.1 L502.6,416.5 L503.4,416.0 L504.2,415.5 L505.0,415.1 L505.8,414.7 L506.6,414.3 L507.4,413.9 L508.2,413.6 L509.0,413.3 L509.8,413.0 L510.6,412.7 L511.3,412.5 L512.1,412.3 L512.9,412.2 L513.7,412.2 L514.5,412.2 L515.3,412.2 L516.1,412.3 L516.9,412.4 L517.7,412.5 L518.5,412.6 L519.3,412.8 L520.1,413.0 L520.9,413.2 L521.6,413.4 L522.4,413.7 L523.2,413.9 L524.0,414.2 L524.8,414.4 L525.6,414.7 L526.4,414.9 L527.2,415.2 L528.0,415.5 L528.8,415.9 L529.6,416.2 L530.4,416.6 L531.2,417.0 L532.0,417.5 L532.7,417.9 L533.5,418.4 L534.3,418.9 L535.1,419.4 L535.9,419.9 L536.7,420.4 L537.5,420.9 L538.3,421.5 L539.1,422.0 L539.9,422.6 L540.7,423.2 L541.5,423.8 L542.3,424.4 L543.0,425.1 L543.8,425.8 L544.6,426.6 L545.4,427.3 L546.2,428.0 L547.0,428.6 L547.8,429.3 L548.6,429.8 L549.4,430.4 L550.2,430.9 L551.0,431.3 L551.8,431.7 L552.6,432.1 L553.4,432.6 L554.1,432.9 L554.9,433.3 L555.7,433.7 L556.5,434.0 L557.3,434.3 L558.1,434.5 L558.9,434.8 L559.7,435.0 L560.5,435.1 L561.3,435.2 L562.1,435.4 L562.9,435.4 L563.7,435.5 L564.5,435.6 L565.2,435.7 L566.0,435.8 L566.8,435.9 L567.6,435.9 L568.4,436.0 L569.2,436.0 L570.0,436.1 L570.8,436.1 L571.6,436.2 L572.4,436.2 L573.2,436.2 L574.0,436.3 L574.8,436.3 L575.5,436.3 L576.3,436.3 L577.1,436.3 L577.9,436.2 L578.7,436.2 L579.5,436.2 L580.3,436.1 L581.1,436.1 L581.9,436.0 L582.7,435.9 L583.5,435.9 L584.3,435.8 L585.1,435.7 L585.9,435.6 L586.6,435.6 L587.4,435.5 L588.2,435.4 L589.0,435.3 L589.8,435.3 L590.6,435.2 L591.4,435.1 L592.2,435.1 L593.0,435.0 L593.8,434.9 L594.6,434.9 L595.4,434.8 L596.2,434.7 L597.0,434.7 L597.7,434.6 L598.5,434.5 L599.3,434.4 L600.1,434.4 L600.9,434.3 L601.7,434.2 L602.5,434.2 L602.50,437.15 L364.70,437.15 Z" fill="#008000" fill-opacity="0.5" stroke="none"/>
<path d="M364.7,415.0 L365.5,413.6 L366.3,411.7 L367.1,409.8 L367.9,407.8 L368.7,406.0 L369.5,404.4 L370.2,403.0 L371.0,401.7 L371.8,400.4 L372.6,399.3 L373.4,398.1 L374.2,397.0 L375.0,395.9 L375.8,394.8 L376.6,393.8 L377.4,392.8 L378.2,391.9 L379.0,391.0 L379.8,390.2 L380.6,389.5 L381.3,388.9 L382.1,388.3 L382.9,387.9 L383.7,387.5 L384.5,387.3 L385.3,387.2 L386.1,387.3 L386.9,387.5 L387.7,387.8 L388.5,388.3 L389.3,388.9 L390.1,389.6 L390.9,390.4 L391.7,391.3 L392.4,392.2 L393.2,393.2 L394.0,394.1 L394.8,395.0 L395.6,396.0 L396.4,396.9 L397.2,397.9 L398.0,398.9 L398.8,399.9 L399.6,401.1 L400.4,402.2 L401.2,403.4 L402.0,404.7 L402.7,405.9 L403.5,407.1 L404.3,408.3 L405.1,409.4 L405.9,410.5 L406.7,411.5 L407.5,412.4 L408.3,413.2 L409.1,413.9 L409.9,414.6 L410.7,415.3 L411.5,416.0 L412.3,416.6 L413.1,417.2 L413.8,417.8 L414.6,418.4 L415.4,418.9 L416.2,419.3 L417.0,419.7 L417.8,420.0 L418.6,420.1 L419.4,420.2 L420.2,420.2 L421.0,420.0 L421.8,419.7 L422.6,419.3 L423.4,418.8 L424.1,418.2 L424.9,417.6 L425.7,416.9 L426.5,416.2 L427.3,415.5 L428.1,414.7 L428.9,414.0 L429.7,413.3 L430.5,412.6 L431.3,411.9 L432.1,411.2 L432.9,410.5 L433.7,409.7 L434.5,408.9 L435.2,408.1 L436.0,407.3 L436.8,406.6 L437.6,405.8 L438.4,405.1 L439.2,404.5 L440.0,403.9 L440.8,403.3 L441.6,402.8 L442.4,402.3 L443.2,401.7 L444.0,401.2 L444.8,400.7 L445.6,400.2 L446.3,399.8 L447.1,399.3 L447.9,398.9 L448.7,398.5 L449.5,398.2 L450.3,397.9 L451.1,397.6 L451.9,397.5 L452.7,397.3 L453.5,397.3 L454.3,397.4 L455.1,397.5 L455.9,397.8 L456.6,398.1 L457.4,398.6 L458.2,399.1 L459.0,399.7 L459.8,400.3 L460.6,400.9 L461.4,401.6 L462.2,402.3 L463.0,403.0 L463.8,403.7 L464.6,404.4 L465.4,405.1 L466.2,405.8 L467.0,406.7 L467.7,407.5 L468.5,408.4 L469.3,409.3 L470.1,410.3 L470.9,411.2 L471.7,412.2 L472.5,413.1 L473.3,414.1 L474.1,414.9 L474.9,415.8 L475.7,416.7 L476.5,417.6 L477.3,418.4 L478.1,419.3 L478.8,420.2 L479.6,421.1 L480.4,421.9 L481.2,422.7 L482.0,423.5 L482.8,424.3 L483.6,425.0 L484.4,425.6 L485.2,426.2 L486.0,426.7 L486.8,427.2 L487.6,427.7 L488.4,428.1 L489.1,428.6 L489.9,429.0 L490.7,429.4 L491.5,429.7 L492.3,430.0 L493.1,430.2 L493.9,430.3 L494.7,430.4 L495.5,430.3 L496.3,430.2 L497.1,429.9 L497.9,429.6 L498.7,429.2 L499.5,428.7 L500.2,428.3 L501.0,427.8 L501.8,427.3 L502.6,426.8 L503.4,426.3 L504.2,425.9 L505.0,425.5 L505.8,425.2 L506.6,424.8 L507.4,424.5 L508.2,424.2 L509.0,423.9 L509.8,423.5 L510.6,423.3 L511.3,423.0 L512.1,422.7 L512.9,422.5 L513.7,422.3 L514.5,422.2 L515.3,422.0 L516.1,421.9 L516.9,421.8 L517.7,421.6 L518.5,421.5 L519.3,421.4 L520.1,421.3 L520.9,421.3 L521.6,421.2 L522.4,421.2 L523.2,421.2 L524.0,421.3 L524.8,421.4 L525.6,421.5 L526.4,421.7 L527.2,421.8 L528.0,422.0 L528.8,422.3 L529.6,422.5 L530.4,422.8 L531.2,423.0 L532.0,423.3 L532.7,423.6 L533.5,423.9 L534.3,424.1 L535.1,424.4 L535.9,424.7 L536.7,425.0 L537.5,425.3 L538.3,425.6 L539.1,426.0 L539.9,426.3 L540.7,426.7 L541.5,427.1 L542.3,427.4 L543.0,427.8 L543.8,428.2 L544.6,428.5 L545.4,428.9 L546.2,429.2 L547.0,429.5 L547.8,429.8 L548.6,430.1 L549.4,430.4 L550.2,430.6 L551.0,430.9 L551.8,431.1 L552.6,431.4 L553.4,431.6 L554.1,431.9 L554.9,432.1 L555.7,432.3 L556.5,432.5 L557.3,432.7 L558.1,432.9 L558.9,433.1 L559.7,433.3 L560.5,433.4 L561.3,433.6 L562.1,433.8 L562.9,434.0 L563.7,434.1 L564.5,434.3 L565.2,434.4 L566.0,434.5 L566.8,434.6 L567.6,434.7 L568.4,434.7 L569.2,434.8 L570.0,434.8 L570.8,434.8 L571.6,434.7 L572.4,434.7 L573.2,434.7 L574.0,434.7 L574.8,434.6 L575.5,434.6 L576.3,434.5 L577.1,434.5 L577.9,434.4 L578.7,434.4 L579.5,434.3 L580.3,434.3 L581.1,434.2 L581.9,434.1 L582.7,434.0 L583.5,433.9 L584.3,433.8 L585.1,433.6 L585.9,433.4 L586.6,433.2 L587.4,433.0 L588.2,432.7 L589.0,432.5 L589.8,432.2 L590.6,432.0 L591.4,431.8 L592.2,431.5 L593.0,431.3 L593.8,431.1 L594.6,431.0 L595.4,430.8 L596.2,430.7 L597.0,430.5 L597.7,430.4 L598.5,430.3 L599.3,430.2 L600.1,430.1 L600.9,430.0 L601.7,429.9 L602.5,429.9 L602.50,437.15 L364.70,437.15 Z" fill="#0000ff" fill-opacity="0.5" stroke="none"/>
<line x1="364.70" x2="364.70" y1="329.25" y2="437.15" stroke="#b0b0b0" stroke-width="1.25"/>
<line x1="412.26" x2="412.26" y1="329.25" y2="437.15" stroke="#b0b0b0" stroke-width="1.25"/>
<line x1="459.82" x2="459.82" y1="329.25" y2="437.15" stroke="#b0b0b0" stroke-width="1.25"/>
<line x1="507.38" x2="507.38" y1="329.25" y2="437.15" stroke="#b0b0b0" stroke-width="1.25"/>
<line x1="554.94" x2="554.94" y1="329.25" y2="437.15" stroke="#b0b0b0" stroke-width="1.25"/>
<line x1="602.50" x2="602.50" y1="329.25" y2="437.15" stroke="#b0b0b0" stroke-width="1.25"/>
<line x1="364.70" x2="602.50" y1="437.15" y2="437.15" stroke="#b0b0b0" stroke-width="1.25"/>
<line x1="364.70" x2="602.50" y1="415.57" y2="415.57" stroke="#b0b0b0" stroke-width="1.25"/>
<line x1="364.70" x2="602.50" y1="393.99" y2="393.99" stroke="#b0b0b0" stroke-width="1.25"/>
<line x1="364.70" x2="602.50" y1="372.41" y2="372.41" stroke="#b0b0b0" stroke-width="1.25"/>
<line x1="364.70" x2="602.50" y1="350.83" y2="350.83" stroke="#b0b0b0" stroke-width="1.25"/>
<line x1="364.70" x2="602.50" y1="329.25" y2="329.25" stroke="#b0b0b0" stroke-width="1.25"/>
<path d="M364.7,436.2 L365.5,436.2 L366.3,436.0 L367.1,435.8 L367.9,435.5 L368.7,435.2 L369.5,434.8 L370.2,434.3 L371.0,433.8 L371.8,433.2 L372.6,432.7 L373.4,432.1 L374.2,431.4 L375.0,430.8 L375.8,430.0 L376.6,429.1 L377.4,428.2 L378.2,427.1 L379.0,425.9 L379.8,424.6 L380.6,423.2 L381.3,421.8 L382.1,420.4 L382.9,418.9 L383.7,417.4 L384.5,415.9 L385.3,414.4 L386.1,412.8 L386.9,411.2 L387.7,409.5 L388.5,407.7 L389.3,405.8 L390.1,404.0 L390.9,402.1 L391.7,400.4 L392.4,398.8 L393.2,397.4 L394.0,396.0 L394.8,394.8 L395.6,393.7 L396.4,392.6 L397.2,391.6 L398.0,390.8 L398.8,390.1 L399.6,389.7 L400.4,389.5 L401.2,389.6 L402.0,390.0 L402.7,390.6 L403.5,391.4 L404.3,392.4 L405.1,393.5 L405.9,394.6 L406.7,395.8 L407.5,396.9 L408.3,398.1 L409.1,399.2 L409.9,400.4 L410.7,401.7 L411.5,403.1 L412.3,404.5 L413.1,406.0 L413.8,407.4 L414.6,408.7 L415.4,409.9 L416.2,411.0 L417.0,411.8 L417.8,412.3 L418.6,412.5 L419.4,412.5 L420.2,412.2 L421.0,411.6 L421.8,410.9 L422.6,410.1 L423.4,409.1 L424.1,407.9 L424.9,406.7 L425.7,405.4 L426.5,404.0 L427.3,402.6 L428.1,401.1 L428.9,399.4 L429.7,397.4 L430.5,395.2 L431.3,392.7 L432.1,390.1 L432.9,387.5 L433.7,385.0 L434.5,382.4 L435.2,380.0 L436.0,377.5 L436.8,375.0 L437.6,372.5 L438.4,370.1 L439.2,367.7 L440.0,365.5 L440.8,363.4 L441.6,361.5 L442.4,359.8 L443.2,358.1 L444.0,356.5 L444.8,355.1 L445.6,353.9 L446.3,353.1 L447.1,352.8 L447.9,353.0 L448.7,353.7 L449.5,354.9 L450.3,356.4 L451.1,358.2 L451.9,360.2 L452.7,362.3 L453.5,364.6 L454.3,367.1 L455.1,370.0 L455.9,373.1 L456.6,376.6 L457.4,380.1 L458.2,383.6 L459.0,387.0 L459.8,390.2 L460.6,393.1 L461.4,396.0 L462.2,398.8 L463.0,401.5 L463.8,404.1 L464.6,406.5 L465.4,408.7 L466.2,410.8 L467.0,412.7 L467.7,414.5 L468.5,416.2 L469.3,417.8 L470.1,419.3 L470.9,420.8 L471.7,422.1 L472.5,423.4 L473.3,424.5 L474.1,425.5 L474.9,426.3 L475.7,427.1 L476.5,427.8 L477.3,428.5 L478.1,429.1 L478.8,429.7 L479.6,430.2 L480.4,430.7 L481.2,431.1 L482.0,431.4 L482.8,431.7 L483.6,431.9 L484.4,432.1 L485.2,432.3 L486.0,432.4 L486.8,432.5 L487.6,432.6 L488.4,432.7 L489.1,432.8 L489.9,432.9 L490.7,433.0 L491.5,433.0 L492.3,433.0 L493.1,433.0 L493.9,433.0 L494.7,433.0 L495.5,432.9 L496.3,432.9 L497.1,432.8 L497.9,432.7 L498.7,432.6 L499.5,432.5 L500.2,432.4 L501.0,432.2 L501.8,432.1 L502.6,432.0 L503.4,431.9 L504.2,431.7 L505.0,431.6 L505.8,431.5 L506.6,431.4 L507.4,431.3 L508.2,431.2 L509.0,431.2 L509.8,431.1 L510.6,431.0 L511.3,430.9 L512.1,430.8 L512.9,430.7 L513.7,430.6 L514.5,430.6 L515.3,430.5 L516.1,430.4 L516.9,430.4 L517.7,430.3 L518.5,430.3 L519.3,430.3 L520.1,430.3 L520.9,430.3 L521.6,430.3 L522.4,430.3 L523.2,430.4 L524.0,430.5 L524.8,430.5 L525.6,430.6 L526.4,430.7 L527.2,430.9 L528.0,431.0 L528.8,431.1 L529.6,431.2 L530.4,431.3 L531.2,431.5 L532.0,431.6 L532.7,431.7 L533.5,431.8 L534.3,431.9 L535.1,432.0 L535.9,432.0 L536.7,432.1 L537.5,432.2 L538.3,432.3 L539.1,432.3 L539.9,432.4 L540.7,432.5 L541.5,432.6 L542.3,432.6 L543.0,432.7 L543.8,432.8 L544.6,432.8 L545.4,432.9 L546.2,432.9 L547.0,433.0 L547.8,433.0 L548.6,433.0 L549.4,433.0 L550.2,433.0 L551.0,433.0 L551.8,432.8 L552.6,432.7 L553.4,432.5 L554.1,432.2 L554.9,431.9 L555.7,431.6 L556.5,431.3 L557.3,431.0 L558.1,430.6 L558.9,430.1 L559.7,429.6 L560.5,429.1 L561.3,428.6 L562.1,428.1 L562.9,427.6 L563.7,427.2 L564.5,426.9 L565.2,426.6 L566.0,426.4 L566.8,426.1 L567.6,425.9 L568.4,425.7 L569.2,425.6 L570.0,425.4 L570.8,425.2 L571.6,425.1 L572.4,424.9 L573.2,424.8 L574.0,424.7 L574.8,424.6 L575.5,424.5 L576.3,424.5 L577.1,424.4 L577.9,424.4 L578.7,424.5 L579.5,424.5 L580.3,424.5 L581.1,424.6 L581.9,424.7 L582.7,424.8 L583.5,425.0 L584.3,425.1 L585.1,425.3 L585.9,425.4 L586.6,425.6 L587.4,425.8 L588.2,426.0 L589.0,426.2 L589.8,426.4 L590.6,426.6 L591.4,426.9 L592.2,427.2 L593.0,427.6 L593.8,428.0 L594.6,428.4 L595.4,428.9 L596.2,429.3 L597.0,429.8 L597.7,430.2 L598.5,430.6 L599.3,430.9 L600.1,431.2 L600.9,431.5 L601.7,431.7 L602.5,431.9" fill="none" stroke="#ff0000" stroke-width="2.8" stroke-dasharray="2.8 3.3" stroke-linejoin="round"/>
<path d="M364.7,412.7 L365.5,411.1 L366.3,409.1 L367.1,407.0 L367.9,404.9 L368.7,403.0 L369.5,401.3 L370.2,399.8 L371.0,398.4 L371.8,397.2 L372.6,396.0 L373.4,394.9 L374.2,393.8 L375.0,392.8 L375.8,391.9 L376.6,391.0 L377.4,390.2 L378.2,389.6 L379.0,389.0 L379.8,388.6 L380.6,388.4 L381.3,388.3 L382.1,388.3 L382.9,388.4 L383.7,388.6 L384.5,388.9 L385.3,389.2 L386.1,389.6 L386.9,390.0 L387.7,390.5 L388.5,391.0 L389.3,391.6 L390.1,392.1 L390.9,392.7 L391.7,393.3 L392.4,394.0 L393.2,394.7 L394.0,395.6 L394.8,396.5 L395.6,397.6 L396.4,398.7 L397.2,399.9 L398.0,401.1 L398.8,402.3 L399.6,403.4 L400.4,404.5 L401.2,405.5 L402.0,406.5 L402.7,407.3 L403.5,408.1 L404.3,408.9 L405.1,409.7 L405.9,410.5 L406.7,411.3 L407.5,412.1 L408.3,412.8 L409.1,413.5 L409.9,414.1 L410.7,414.6 L411.5,415.1 L412.3,415.4 L413.1,415.7 L413.8,415.9 L414.6,415.9 L415.4,415.7 L416.2,415.5 L417.0,415.1 L417.8,414.6 L418.6,414.0 L419.4,413.3 L420.2,412.7 L421.0,412.0 L421.8,411.3 L422.6,410.6 L423.4,410.0 L424.1,409.4 L424.9,408.8 L425.7,408.2 L426.5,407.6 L427.3,407.0 L428.1,406.4 L428.9,405.8 L429.7,405.2 L430.5,404.6 L431.3,404.1 L432.1,403.6 L432.9,403.1 L433.7,402.7 L434.5,402.3 L435.2,401.9 L436.0,401.6 L436.8,401.2 L437.6,400.9 L438.4,400.6 L439.2,400.3 L440.0,400.0 L440.8,399.7 L441.6,399.5 L442.4,399.3 L443.2,399.2 L444.0,399.1 L444.8,399.0 L445.6,399.1 L446.3,399.2 L447.1,399.4 L447.9,399.7 L448.7,400.0 L449.5,400.5 L450.3,401.0 L451.1,401.5 L451.9,402.1 L452.7,402.7 L453.5,403.4 L454.3,404.0 L455.1,404.6 L455.9,405.3 L456.6,406.0 L457.4,406.8 L458.2,407.7 L459.0,408.6 L459.8,409.5 L460.6,410.6 L461.4,411.6 L462.2,412.6 L463.0,413.7 L463.8,414.8 L464.6,415.8 L465.4,416.8 L466.2,417.8 L467.0,418.7 L467.7,419.7 L468.5,420.7 L469.3,421.6 L470.1,422.6 L470.9,423.6 L471.7,424.6 L472.5,425.5 L473.3,426.4 L474.1,427.2 L474.9,428.0 L475.7,428.7 L476.5,429.3 L477.3,429.8 L478.1,430.3 L478.8,430.7 L479.6,431.2 L480.4,431.5 L481.2,431.9 L482.0,432.1 L482.8,432.3 L483.6,432.3 L484.4,432.4 L485.2,432.3 L486.0,432.3 L486.8,432.2 L487.6,432.0 L488.4,431.8 L489.1,431.4 L489.9,430.8 L490.7,429.9 L491.5,428.9 L492.3,427.8 L493.1,426.7 L493.9,425.6 L494.7,424.6 L495.5,423.6 L496.3,422.7 L497.1,421.8 L497.9,421.0 L498.7,420.1 L499.5,419.3 L500.2,418.5 L501.0,417.7 L501.8,417.1 L502.6,416.5 L503.4,416.0 L504.2,415.5 L505.0,415.1 L505.8,414.7 L506.6,414.3 L507.4,413.9 L508.2,413.6 L509.0,413.3 L509.8,413.0 L510.6,412.7 L511.3,412.5 L512.1,412.3 L512.9,412.2 L513.7,412.2 L514.5,412.2 L515.3,412.2 L516.1,412.3 L516.9,412.4 L517.7,412.5 L518.5,412.6 L519.3,412.8 L520.1,413.0 L520.9,413.2 L521.6,413.4 L522.4,413.7 L523.2,413.9 L524.0,414.2 L524.8,414.4 L525.6,414.7 L526.4,414.9 L527.2,415.2 L528.0,415.5 L528.8,415.9 L529.6,416.2 L530.4,416.6 L531.2,417.0 L532.0,417.5 L532.7,417.9 L533.5,418.4 L534.3,418.9 L535.1,419.4 L535.9,419.9 L536.7,420.4 L537.5,420.9 L538.3,421.5 L539.1,422.0 L539.9,422.6 L540.7,423.2 L541.5,423.8 L542.3,424.4 L543.0,425.1 L543.8,425.8 L544.6,426.6 L545.4,427.3 L546.2,428.0 L547.0,428.6 L547.8,429.3 L548.6,429.8 L549.4,430.4 L550.2,430.9 L551.0,431.3 L551.8,431.7 L552.6,432.1 L553.4,432.6 L554.1,432.9 L554.9,433.3 L555.7,433.7 L556.5,434.0 L557.3,434.3 L558.1,434.5 L558.9,434.8 L559.7,435.0 L560.5,435.1 L561.3,435.2 L562.1,435.4 L562.9,435.4 L563.7,435.5 L564.5,435.6 L565.2,435.7 L566.0,435.8 L566.8,435.9 L567.6,435.9 L568.4,436.0 L569.2,436.0 L570.0,436.1 L570.8,436.1 L571.6,436.2 L572.4,436.2 L573.2,436.2 L574.0,436.3 L574.8,436.3 L575.5,436.3 L576.3,436.3 L577.1,436.3 L577.9,436.2 L578.7,436.2 L579.5,436.2 L580.3,436.1 L581.1,436.1 L581.9,436.0 L582.7,435.9 L583.5,435.9 L584.3,435.8 L585.1,435.7 L585.9,435.6 L586.6,435.6 L587.4,435.5 L588.2,435.4 L589.0,435.3 L589.8,435.3 L590.6,435.2 L591.4,435.1 L592.2,435.1 L593.0,435.0 L593.8,434.9 L594.6,434.9 L595.4,434.8 L596.2,434.7 L597.0,434.7 L597.7,434.6 L598.5,434.5 L599.3,434.4 L600.1,434.4 L600.9,434.3 L601.7,434.2 L602.5,434.2" fill="none" stroke="#008000" stroke-width="2.8" stroke-dasharray="2.8 3.3" stroke-linejoin="round"/>
<path d="M364.7,415.0 L365.5,413.6 L366.3,411.7 L367.1,409.8 L367.9,407.8 L368.7,406.0 L369.5,404.4 L370.2,403.0 L371.0,401.7 L371.8,400.4 L372.6,399.3 L373.4,398.1 L374.2,397.0 L375.0,395.9 L375.8,394.8 L376.6,393.8 L377.4,392.8 L378.2,391.9 L379.0,391.0 L379.8,390.2 L380.6,389.5 L381.3,388.9 L382.1,388.3 L382.9,387.9 L383.7,387.5 L384.5,387.3 L385.3,387.2 L386.1,387.3 L386.9,387.5 L387.7,387.8 L388.5,388.3 L389.3,388.9 L390.1,389.6 L390.9,390.4 L391.7,391.3 L392.4,392.2 L393.2,393.2 L394.0,394.1 L394.8,395.0 L395.6,396.0 L396.4,396.9 L397.2,397.9 L398.0,398.9 L398.8,399.9 L399.6,401.1 L400.4,402.2 L401.2,403.4 L402.0,404.7 L402.7,405.9 L403.5,407.1 L404.3,408.3 L405.1,409.4 L405.9,410.5 L406.7,411.5 L407.5,412.4 L408.3,413.2 L409.1,413.9 L409.9,414.6 L410.7,415.3 L411.5,416.0 L412.3,416.6 L413.1,417.2 L413.8,417.8 L414.6,418.4 L415.4,418.9 L416.2,419.3 L417.0,419.7 L417.8,420.0 L418.6,420.1 L419.4,420.2 L420.2,420.2 L421.0,420.0 L421.8,419.7 L422.6,419.3 L423.4,418.8 L424.1,418.2 L424.9,417.6 L425.7,416.9 L426.5,416.2 L427.3,415.5 L428.1,414.7 L428.9,414.0 L429.7,413.3 L430.5,412.6 L431.3,411.9 L432.1,411.2 L432.9,410.5 L433.7,409.7 L434.5,408.9 L435.2,408.1 L436.0,407.3 L436.8,406.6 L437.6,405.8 L438.4,405.1 L439.2,404.5 L440.0,403.9 L440.8,403.3 L441.6,402.8 L442.4,402.3 L443.2,401.7 L444.0,401.2 L444.8,400.7 L445.6,400.2 L446.3,399.8 L447.1,399.3 L447.9,398.9 L448.7,398.5 L449.5,398.2 L450.3,397.9 L451.1,397.6 L451.9,397.5 L452.7,397.3 L453.5,397.3 L454.3,397.4 L455.1,397.5 L455.9,397.8 L456.6,398.1 L457.4,398.6 L458.2,399.1 L459.0,399.7 L459.8,400.3 L460.6,400.9 L461.4,401.6 L462.2,402.3 L463.0,403.0 L463.8,403.7 L464.6,404.4 L465.4,405.1 L466.2,405.8 L467.0,406.7 L467.7,407.5 L468.5,408.4 L469.3,409.3 L470.1,410.3 L470.9,411.2 L471.7,412.2 L472.5,413.1 L473.3,414.1 L474.1,414.9 L474.9,415.8 L475.7,416.7 L476.5,417.6 L477.3,418.4 L478.1,419.3 L478.8,420.2 L479.6,421.1 L480.4,421.9 L481.2,422.7 L482.0,423.5 L482.8,424.3 L483.6,425.0 L484.4,425.6 L485.2,426.2 L486.0,426.7 L486.8,427.2 L487.6,427.7 L488.4,428.1 L489.1,428.6 L489.9,429.0 L490.7,429.4 L491.5,429.7 L492.3,430.0 L493.1,430.2 L493.9,430.3 L494.7,430.4 L495.5,430.3 L496.3,430.2 L497.1,429.9 L497.9,429.6 L498.7,429.2 L499.5,428.7 L500.2,428.3 L501.0,427.8 L501.8,427.3 L502.6,426.8 L503.4,426.3 L504.2,425.9 L505.0,425.5 L505.8,425.2 L506.6,424.8 L507.4,424.5 L508.2,424.2 L509.0,423.9 L509.8,423.5 L510.6,423.3 L511.3,423.0 L512.1,422.7 L512.9,422.5 L513.7,422.3 L514.5,422.2 L515.3,422.0 L516.1,421.9 L516.9,421.8 L517.7,421.6 L518.5,421.5 L519.3,421.4 L520.1,421.3 L520.9,421.3 L521.6,421.2 L522.4,421.2 L523.2,421.2 L524.0,421.3 L524.8,421.4 L525.6,421.5 L526.4,421.7 L527.2,421.8 L528.0,422.0 L528.8,422.3 L529.6,422.5 L530.4,422.8 L531.2,423.0 L532.0,423.3 L532.7,423.6 L533.5,423.9 L534.3,424.1 L535.1,424.4 L535.9,424.7 L536.7,425.0 L537.5,425.3 L538.3,425.6 L539.1,426.0 L539.9,426.3 L540.7,426.7 L541.5,427.1 L542.3,427.4 L543.0,427.8 L543.8,428.2 L544.6,428.5 L545.4,428.9 L546.2,429.2 L547.0,429.5 L547.8,429.8 L548.6,430.1 L549.4,430.4 L550.2,430.6 L551.0,430.9 L551.8,431.1 L552.6,431.4 L553.4,431.6 L554.1,431.9 L554.9,432.1 L555.7,432.3 L556.5,432.5 L557.3,432.7 L558.1,432.9 L558.9,433.1 L559.7,433.3 L560.5,433.4 L561.3,433.6 L562.1,433.8 L562.9,434.0 L563.7,434.1 L564.5,434.3 L565.2,434.4 L566.0,434.5 L566.8,434.6 L567.6,434.7 L568.4,434.7 L569.2,434.8 L570.0,434.8 L570.8,434.8 L571.6,434.7 L572.4,434.7 L573.2,434.7 L574.0,434.7 L574.8,434.6 L575.5,434.6 L576.3,434.5 L577.1,434.5 L577.9,434.4 L578.7,434.4 L579.5,434.3 L580.3,434.3 L581.1,434.2 L581.9,434.1 L582.7,434.0 L583.5,433.9 L584.3,433.8 L585.1,433.6 L585.9,433.4 L586.6,433.2 L587.4,433.0 L588.2,432.7 L589.0,432.5 L589.8,432.2 L590.6,432.0 L591.4,431.8 L592.2,431.5 L593.0,431.3 L593.8,431.1 L594.6,431.0 L595.4,430.8 L596.2,430.7 L597.0,430.5 L597.7,430.4 L598.5,430.3 L599.3,430.2 L600.1,430.1 L600.9,430.0 L601.7,429.9 L602.5,429.9" fill="none" stroke="#0000ff" stroke-width="2.8" stroke-dasharray="2.8 3.3" stroke-linejoin="round"/>
</g>
<line x1="364.70" x2="364.70" y1="437.15" y2="441.95" stroke="#000" stroke-width="1"/>
<text x="363.30" y="456.55" font-size="11.4" letter-spacing="0.45" text-anchor="middle">0.0</text>
<line x1="412.26" x2="412.26" y1="437.15" y2="441.95" stroke="#000" stroke-width="1"/>
<text x="410.86" y="456.55" font-size="11.4" letter-spacing="0.45" text-anchor="middle">0.2</text>
<line x1="459.82" x2="459.82" y1="437.15" y2="441.95" stroke="#000" stroke-width="1"/>
<text x="458.42" y="456.55" font-size="11.4" letter-spacing="0.45" text-anchor="middle">0.4</text>
<line x1="507.38" x2="507.38" y1="437.15" y2="441.95" stroke="#000" stroke-width="1"/>
<text x="505.98" y="456.55" font-size="11.4" letter-spacing="0.45" text-anchor="middle">0.6</text>
<line x1="554.94" x2="554.94" y1="437.15" y2="441.95" stroke="#000" stroke-width="1"/>
<text x="553.54" y="456.55" font-size="11.4" letter-spacing="0.45" text-anchor="middle">0.8</text>
<line x1="602.50" x2="602.50" y1="437.15" y2="441.95" stroke="#000" stroke-width="1"/>
<text x="601.10" y="456.55" font-size="11.4" letter-spacing="0.45" text-anchor="middle">1.0</text>
<line x1="359.90" x2="364.70" y1="437.15" y2="437.15" stroke="#000" stroke-width="1"/>
<text x="353.50" y="441.70" font-size="11.4" letter-spacing="0.45" text-anchor="end">0</text>
<line x1="359.90" x2="364.70" y1="415.57" y2="415.57" stroke="#000" stroke-width="1"/>
<text x="353.50" y="420.12" font-size="11.4" letter-spacing="0.45" text-anchor="end">1</text>
<line x1="359.90" x2="364.70" y1="393.99" y2="393.99" stroke="#000" stroke-width="1"/>
<text x="353.50" y="398.54" font-size="11.4" letter-spacing="0.45" text-anchor="end">2</text>
<line x1="359.90" x2="364.70" y1="372.41" y2="372.41" stroke="#000" stroke-width="1"/>
<text x="353.50" y="376.96" font-size="11.4" letter-spacing="0.45" text-anchor="end">3</text>
<line x1="359.90" x2="364.70" y1="350.83" y2="350.83" stroke="#000" stroke-width="1"/>
<text x="353.50" y="355.38" font-size="11.4" letter-spacing="0.45" text-anchor="end">4</text>
<line x1="359.90" x2="364.70" y1="329.25" y2="329.25" stroke="#000" stroke-width="1"/>
<text x="353.50" y="333.80" font-size="11.4" letter-spacing="0.45" text-anchor="end">5</text>
<rect x="364.70" y="329.25" width="237.80" height="107.90" fill="none" stroke="#000" stroke-width="1.25"/>
<text x="369.30" y="346.05" font-size="14.2" letter-spacing="0.55">HM <tspan font-weight="bold" letter-spacing="1.1">(c)</tspan></text>
<text transform="translate(337.20,384.10) rotate(-90)" font-size="14" text-anchor="middle" letter-spacing="0.3">Estimated PDF</text>
<text x="483.10" y="473.65" font-size="13.4" letter-spacing="0.2" text-anchor="middle"><tspan font-style="italic">β</tspan><tspan font-style="italic" font-size="9.8" dy="2.4">m</tspan></text>
<clipPath id="c03"><rect x="55.90" y="491.95" width="237.80" height="107.90"/></clipPath>
<g clip-path="url(#c03)">
<path d="M55.9,599.3 L56.7,599.3 L57.5,599.2 L58.3,599.2 L59.1,599.1 L59.9,599.0 L60.7,598.9 L61.4,598.8 L62.2,598.6 L63.0,598.4 L63.8,598.2 L64.6,598.0 L65.4,597.8 L66.2,597.6 L67.0,597.4 L67.8,597.1 L68.6,596.8 L69.4,596.4 L70.2,595.9 L71.0,595.3 L71.8,594.6 L72.5,593.9 L73.3,593.1 L74.1,592.2 L74.9,591.2 L75.7,590.2 L76.5,589.1 L77.3,588.0 L78.1,586.9 L78.9,585.7 L79.7,584.3 L80.5,582.9 L81.3,581.2 L82.1,579.4 L82.9,577.3 L83.6,575.1 L84.4,572.7 L85.2,570.2 L86.0,567.7 L86.8,565.1 L87.6,562.4 L88.4,559.8 L89.2,557.2 L90.0,554.6 L90.8,552.1 L91.6,549.5 L92.4,546.8 L93.2,544.0 L93.9,541.2 L94.7,538.4 L95.5,535.8 L96.3,533.3 L97.1,531.0 L97.9,528.9 L98.7,527.2 L99.5,525.6 L100.3,524.1 L101.1,522.7 L101.9,521.4 L102.7,520.3 L103.5,519.5 L104.3,518.9 L105.0,518.7 L105.8,518.9 L106.6,519.5 L107.4,520.4 L108.2,521.5 L109.0,522.9 L109.8,524.4 L110.6,526.0 L111.4,527.6 L112.2,529.3 L113.0,531.1 L113.8,533.1 L114.6,535.2 L115.3,537.4 L116.1,539.8 L116.9,542.1 L117.7,544.5 L118.5,547.0 L119.3,549.5 L120.1,552.2 L120.9,555.0 L121.7,557.8 L122.5,560.7 L123.3,563.6 L124.1,566.5 L124.9,569.2 L125.7,571.8 L126.4,574.2 L127.2,576.3 L128.0,578.2 L128.8,579.9 L129.6,581.3 L130.4,582.6 L131.2,583.9 L132.0,585.2 L132.8,586.4 L133.6,587.5 L134.4,588.5 L135.2,589.5 L136.0,590.3 L136.8,591.0 L137.5,591.5 L138.3,591.9 L139.1,592.1 L139.9,592.1 L140.7,591.8 L141.5,591.3 L142.3,590.6 L143.1,589.7 L143.9,588.6 L144.7,587.4 L145.5,586.1 L146.3,584.8 L147.1,583.4 L147.8,582.0 L148.6,580.7 L149.4,579.4 L150.2,578.1 L151.0,576.9 L151.8,575.7 L152.6,574.5 L153.4,573.2 L154.2,571.9 L155.0,570.7 L155.8,569.4 L156.6,568.3 L157.4,567.2 L158.2,566.2 L158.9,565.3 L159.7,564.4 L160.5,563.5 L161.3,562.7 L162.1,561.9 L162.9,561.2 L163.7,560.5 L164.5,560.0 L165.3,559.7 L166.1,559.6 L166.9,559.7 L167.7,560.1 L168.5,560.7 L169.3,561.4 L170.0,562.2 L170.8,563.2 L171.6,564.4 L172.4,565.7 L173.2,567.3 L174.0,568.9 L174.8,570.7 L175.6,572.5 L176.4,574.3 L177.2,576.0 L178.0,577.7 L178.8,579.2 L179.6,580.5 L180.3,581.7 L181.1,582.7 L181.9,583.6 L182.7,584.5 L183.5,585.3 L184.3,586.2 L185.1,587.0 L185.9,587.7 L186.7,588.4 L187.5,589.1 L188.3,589.6 L189.1,590.1 L189.9,590.5 L190.7,590.8 L191.4,591.0 L192.2,591.1 L193.0,591.1 L193.8,590.9 L194.6,590.6 L195.4,590.2 L196.2,589.7 L197.0,589.1 L197.8,588.4 L198.6,587.7 L199.4,586.9 L200.2,586.0 L201.0,584.9 L201.8,583.5 L202.5,581.9 L203.3,580.1 L204.1,578.1 L204.9,576.0 L205.7,573.9 L206.5,571.7 L207.3,569.6 L208.1,567.5 L208.9,565.3 L209.7,563.1 L210.5,560.9 L211.3,558.5 L212.1,556.2 L212.8,553.9 L213.6,551.6 L214.4,549.5 L215.2,547.6 L216.0,545.8 L216.8,544.3 L217.6,542.8 L218.4,541.4 L219.2,540.1 L220.0,538.9 L220.8,537.7 L221.6,536.6 L222.4,535.8 L223.2,535.1 L223.9,534.7 L224.7,534.6 L225.5,534.7 L226.3,535.1 L227.1,535.8 L227.9,536.8 L228.7,537.9 L229.5,539.2 L230.3,540.5 L231.1,542.0 L231.9,543.6 L232.7,545.2 L233.5,547.0 L234.3,549.1 L235.0,551.4 L235.8,554.1 L236.6,556.9 L237.4,559.7 L238.2,562.5 L239.0,565.2 L239.8,567.7 L240.6,569.9 L241.4,572.0 L242.2,573.9 L243.0,575.8 L243.8,577.6 L244.6,579.3 L245.3,580.9 L246.1,582.4 L246.9,583.8 L247.7,585.0 L248.5,586.1 L249.3,587.2 L250.1,588.2 L250.9,589.2 L251.7,590.0 L252.5,590.8 L253.3,591.6 L254.1,592.2 L254.9,592.6 L255.7,593.0 L256.4,593.3 L257.2,593.6 L258.0,593.8 L258.8,594.0 L259.6,594.2 L260.4,594.3 L261.2,594.5 L262.0,594.6 L262.8,594.7 L263.6,594.9 L264.4,595.0 L265.2,595.1 L266.0,595.2 L266.7,595.4 L267.5,595.5 L268.3,595.6 L269.1,595.8 L269.9,595.9 L270.7,596.0 L271.5,596.1 L272.3,596.2 L273.1,596.3 L273.9,596.4 L274.7,596.6 L275.5,596.7 L276.3,596.8 L277.1,596.9 L277.8,597.0 L278.6,597.1 L279.4,597.2 L280.2,597.3 L281.0,597.4 L281.8,597.5 L282.6,597.6 L283.4,597.7 L284.2,597.8 L285.0,597.9 L285.8,598.0 L286.6,598.1 L287.4,598.2 L288.2,598.3 L288.9,598.5 L289.7,598.6 L290.5,598.6 L291.3,598.7 L292.1,598.8 L292.9,598.9 L293.7,599.0 L293.70,599.85 L55.90,599.85 Z" fill="#ff0000" fill-opacity="0.5" stroke="none"/>
<path d="M55.9,599.6 L56.7,599.6 L57.5,599.5 L58.3,599.5 L59.1,599.4 L59.9,599.3 L60.7,599.2 L61.4,599.1 L62.2,598.9 L63.0,598.8 L63.8,598.6 L64.6,598.4 L65.4,598.2 L66.2,598.0 L67.0,597.8 L67.8,597.5 L68.6,597.3 L69.4,597.0 L70.2,596.7 L71.0,596.5 L71.8,596.1 L72.5,595.8 L73.3,595.3 L74.1,594.8 L74.9,594.2 L75.7,593.5 L76.5,592.8 L77.3,592.1 L78.1,591.2 L78.9,590.4 L79.7,589.5 L80.5,588.5 L81.3,587.6 L82.1,586.6 L82.9,585.5 L83.6,584.2 L84.4,582.9 L85.2,581.5 L86.0,579.9 L86.8,578.3 L87.6,576.6 L88.4,574.9 L89.2,573.1 L90.0,571.4 L90.8,569.6 L91.6,567.9 L92.4,566.2 L93.2,564.4 L93.9,562.6 L94.7,560.7 L95.5,558.9 L96.3,557.0 L97.1,555.2 L97.9,553.5 L98.7,552.0 L99.5,550.7 L100.3,549.5 L101.1,548.5 L101.9,547.5 L102.7,546.7 L103.5,546.0 L104.3,545.5 L105.0,545.4 L105.8,545.5 L106.6,545.9 L107.4,546.6 L108.2,547.5 L109.0,548.5 L109.8,549.7 L110.6,550.9 L111.4,552.1 L112.2,553.4 L113.0,554.7 L113.8,556.2 L114.6,557.8 L115.3,559.5 L116.1,561.1 L116.9,562.8 L117.7,564.4 L118.5,565.9 L119.3,567.4 L120.1,568.9 L120.9,570.4 L121.7,572.0 L122.5,573.5 L123.3,574.9 L124.1,576.4 L124.9,577.7 L125.7,579.0 L126.4,580.2 L127.2,581.3 L128.0,582.3 L128.8,583.3 L129.6,584.1 L130.4,584.9 L131.2,585.7 L132.0,586.5 L132.8,587.2 L133.6,587.9 L134.4,588.5 L135.2,589.1 L136.0,589.7 L136.8,590.1 L137.5,590.4 L138.3,590.7 L139.1,590.8 L139.9,590.6 L140.7,590.2 L141.5,589.4 L142.3,588.3 L143.1,586.9 L143.9,585.3 L144.7,583.6 L145.5,581.8 L146.3,580.0 L147.1,578.2 L147.8,576.5 L148.6,574.9 L149.4,573.3 L150.2,571.7 L151.0,570.0 L151.8,568.3 L152.6,566.6 L153.4,565.0 L154.2,563.4 L155.0,561.9 L155.8,560.5 L156.6,559.1 L157.4,557.9 L158.2,556.6 L158.9,555.4 L159.7,554.2 L160.5,553.0 L161.3,551.9 L162.1,550.8 L162.9,549.9 L163.7,549.1 L164.5,548.6 L165.3,548.2 L166.1,548.0 L166.9,548.1 L167.7,548.4 L168.5,549.0 L169.3,549.8 L170.0,550.7 L170.8,551.7 L171.6,552.9 L172.4,554.3 L173.2,555.9 L174.0,557.9 L174.8,560.2 L175.6,562.7 L176.4,565.2 L177.2,567.7 L178.0,570.0 L178.8,572.0 L179.6,573.8 L180.3,575.5 L181.1,577.1 L181.9,578.7 L182.7,580.1 L183.5,581.5 L184.3,582.8 L185.1,584.0 L185.9,585.1 L186.7,586.0 L187.5,586.9 L188.3,587.7 L189.1,588.5 L189.9,589.1 L190.7,589.7 L191.4,590.0 L192.2,590.2 L193.0,590.2 L193.8,590.0 L194.6,589.6 L195.4,589.1 L196.2,588.5 L197.0,587.8 L197.8,587.0 L198.6,586.1 L199.4,585.1 L200.2,584.0 L201.0,582.6 L201.8,580.9 L202.5,578.8 L203.3,576.5 L204.1,574.0 L204.9,571.3 L205.7,568.7 L206.5,566.0 L207.3,563.5 L208.1,561.1 L208.9,558.7 L209.7,556.3 L210.5,554.0 L211.3,551.6 L212.1,549.3 L212.8,547.1 L213.6,545.0 L214.4,543.0 L215.2,541.2 L216.0,539.6 L216.8,538.1 L217.6,536.6 L218.4,535.2 L219.2,533.9 L220.0,532.6 L220.8,531.5 L221.6,530.6 L222.4,529.9 L223.2,529.6 L223.9,529.5 L224.7,529.8 L225.5,530.4 L226.3,531.3 L227.1,532.4 L227.9,533.8 L228.7,535.3 L229.5,536.9 L230.3,538.5 L231.1,540.2 L231.9,541.9 L232.7,543.7 L233.5,545.6 L234.3,547.7 L235.0,549.9 L235.8,552.2 L236.6,554.5 L237.4,556.9 L238.2,559.2 L239.0,561.5 L239.8,563.6 L240.6,565.7 L241.4,567.7 L242.2,569.8 L243.0,571.8 L243.8,573.7 L244.6,575.6 L245.3,577.4 L246.1,579.1 L246.9,580.5 L247.7,581.7 L248.5,582.8 L249.3,583.8 L250.1,584.8 L250.9,585.7 L251.7,586.5 L252.5,587.2 L253.3,587.8 L254.1,588.2 L254.9,588.5 L255.7,588.7 L256.4,588.8 L257.2,588.8 L258.0,588.7 L258.8,588.7 L259.6,588.7 L260.4,588.7 L261.2,588.6 L262.0,588.6 L262.8,588.5 L263.6,588.4 L264.4,588.3 L265.2,588.1 L266.0,587.9 L266.7,587.7 L267.5,587.5 L268.3,587.3 L269.1,587.1 L269.9,586.9 L270.7,586.8 L271.5,586.7 L272.3,586.7 L273.1,586.7 L273.9,586.8 L274.7,587.0 L275.5,587.2 L276.3,587.4 L277.1,587.7 L277.8,588.1 L278.6,588.5 L279.4,588.8 L280.2,589.3 L281.0,589.7 L281.8,590.1 L282.6,590.6 L283.4,591.0 L284.2,591.4 L285.0,591.8 L285.8,592.2 L286.6,592.6 L287.4,593.1 L288.2,593.5 L288.9,594.0 L289.7,594.4 L290.5,594.9 L291.3,595.4 L292.1,595.9 L292.9,596.3 L293.7,596.6 L293.70,599.85 L55.90,599.85 Z" fill="#008000" fill-opacity="0.5" stroke="none"/>
<path d="M55.9,598.8 L56.7,598.7 L57.5,598.6 L58.3,598.5 L59.1,598.4 L59.9,598.2 L60.7,598.0 L61.4,597.7 L62.2,597.4 L63.0,597.1 L63.8,596.8 L64.6,596.4 L65.4,596.1 L66.2,595.7 L67.0,595.3 L67.8,594.8 L68.6,594.2 L69.4,593.6 L70.2,592.8 L71.0,592.0 L71.8,591.1 L72.5,590.1 L73.3,589.1 L74.1,588.0 L74.9,586.8 L75.7,585.6 L76.5,584.3 L77.3,583.0 L78.1,581.7 L78.9,580.2 L79.7,578.6 L80.5,576.8 L81.3,574.9 L82.1,572.9 L82.9,570.8 L83.6,568.7 L84.4,566.5 L85.2,564.2 L86.0,561.9 L86.8,559.4 L87.6,556.8 L88.4,554.1 L89.2,551.2 L90.0,548.2 L90.8,545.2 L91.6,542.2 L92.4,539.3 L93.2,536.6 L93.9,534.0 L94.7,531.6 L95.5,529.3 L96.3,527.1 L97.1,524.8 L97.9,522.6 L98.7,520.4 L99.5,518.3 L100.3,516.4 L101.1,514.7 L101.9,513.3 L102.7,512.2 L103.5,511.5 L104.3,511.2 L105.0,511.4 L105.8,511.9 L106.6,512.9 L107.4,514.1 L108.2,515.7 L109.0,517.5 L109.8,519.6 L110.6,521.7 L111.4,523.9 L112.2,526.2 L113.0,528.4 L113.8,530.7 L114.6,533.0 L115.3,535.5 L116.1,538.2 L116.9,541.1 L117.7,544.1 L118.5,547.1 L119.3,550.1 L120.1,553.0 L120.9,555.8 L121.7,558.4 L122.5,560.9 L123.3,563.2 L124.1,565.4 L124.9,567.6 L125.7,569.8 L126.4,571.8 L127.2,573.8 L128.0,575.6 L128.8,577.3 L129.6,578.8 L130.4,580.2 L131.2,581.4 L132.0,582.5 L132.8,583.5 L133.6,584.6 L134.4,585.5 L135.2,586.5 L136.0,587.4 L136.8,588.2 L137.5,588.9 L138.3,589.5 L139.1,590.0 L139.9,590.4 L140.7,590.7 L141.5,590.8 L142.3,590.8 L143.1,590.6 L143.9,590.4 L144.7,590.0 L145.5,589.5 L146.3,589.0 L147.1,588.4 L147.8,587.8 L148.6,587.2 L149.4,586.6 L150.2,586.0 L151.0,585.4 L151.8,584.9 L152.6,584.4 L153.4,583.9 L154.2,583.5 L155.0,583.0 L155.8,582.5 L156.6,582.0 L157.4,581.6 L158.2,581.1 L158.9,580.6 L159.7,580.2 L160.5,579.8 L161.3,579.5 L162.1,579.2 L162.9,578.9 L163.7,578.8 L164.5,578.7 L165.3,578.6 L166.1,578.7 L166.9,578.9 L167.7,579.1 L168.5,579.4 L169.3,579.8 L170.0,580.2 L170.8,580.7 L171.6,581.2 L172.4,581.8 L173.2,582.5 L174.0,583.2 L174.8,584.0 L175.6,584.7 L176.4,585.5 L177.2,586.2 L178.0,586.9 L178.8,587.5 L179.6,588.1 L180.3,588.5 L181.1,588.9 L181.9,589.3 L182.7,589.6 L183.5,589.9 L184.3,590.2 L185.1,590.5 L185.9,590.8 L186.7,591.0 L187.5,591.3 L188.3,591.5 L189.1,591.7 L189.9,591.8 L190.7,592.0 L191.4,592.1 L192.2,592.2 L193.0,592.2 L193.8,592.2 L194.6,592.0 L195.4,591.7 L196.2,591.3 L197.0,590.6 L197.8,589.9 L198.6,589.0 L199.4,588.1 L200.2,587.1 L201.0,586.0 L201.8,584.9 L202.5,583.8 L203.3,582.4 L204.1,580.9 L204.9,579.1 L205.7,577.3 L206.5,575.3 L207.3,573.3 L208.1,571.3 L208.9,569.2 L209.7,567.3 L210.5,565.3 L211.3,563.4 L212.1,561.4 L212.8,559.3 L213.6,557.2 L214.4,555.2 L215.2,553.2 L216.0,551.3 L216.8,549.6 L217.6,548.1 L218.4,546.9 L219.2,545.9 L220.0,545.0 L220.8,544.2 L221.6,543.5 L222.4,542.8 L223.2,542.2 L223.9,541.7 L224.7,541.3 L225.5,541.1 L226.3,541.0 L227.1,541.1 L227.9,541.4 L228.7,542.1 L229.5,542.9 L230.3,544.0 L231.1,545.2 L231.9,546.4 L232.7,547.8 L233.5,549.1 L234.3,550.6 L235.0,552.0 L235.8,553.6 L236.6,555.4 L237.4,557.3 L238.2,559.2 L239.0,561.2 L239.8,563.2 L240.6,565.1 L241.4,567.0 L242.2,568.7 L243.0,570.4 L243.8,572.1 L244.6,573.7 L245.3,575.4 L246.1,577.0 L246.9,578.5 L247.7,579.9 L248.5,581.3 L249.3,582.5 L250.1,583.5 L250.9,584.4 L251.7,585.1 L252.5,585.8 L253.3,586.4 L254.1,586.9 L254.9,587.4 L255.7,587.9 L256.4,588.3 L257.2,588.7 L258.0,589.1 L258.8,589.5 L259.6,589.8 L260.4,590.2 L261.2,590.5 L262.0,590.8 L262.8,591.2 L263.6,591.5 L264.4,591.7 L265.2,592.0 L266.0,592.3 L266.7,592.6 L267.5,592.8 L268.3,593.1 L269.1,593.3 L269.9,593.5 L270.7,593.8 L271.5,594.0 L272.3,594.2 L273.1,594.4 L273.9,594.6 L274.7,594.8 L275.5,594.9 L276.3,595.1 L277.1,595.3 L277.8,595.5 L278.6,595.6 L279.4,595.8 L280.2,595.9 L281.0,596.1 L281.8,596.2 L282.6,596.4 L283.4,596.5 L284.2,596.7 L285.0,596.8 L285.8,597.0 L286.6,597.1 L287.4,597.2 L288.2,597.4 L288.9,597.5 L289.7,597.6 L290.5,597.7 L291.3,597.9 L292.1,598.0 L292.9,598.1 L293.7,598.2 L293.70,599.85 L55.90,599.85 Z" fill="#0000ff" fill-opacity="0.5" stroke="none"/>
<line x1="55.90" x2="55.90" y1="491.95" y2="599.85" stroke="#b0b0b0" stroke-width="1.25"/>
<line x1="103.46" x2="103.46" y1="491.95" y2="599.85" stroke="#b0b0b0" stroke-width="1.25"/>
<line x1="151.02" x2="151.02" y1="491.95" y2="599.85" stroke="#b0b0b0" stroke-width="1.25"/>
<line x1="198.58" x2="198.58" y1="491.95" y2="599.85" stroke="#b0b0b0" stroke-width="1.25"/>
<line x1="246.14" x2="246.14" y1="491.95" y2="599.85" stroke="#b0b0b0" stroke-width="1.25"/>
<line x1="293.70" x2="293.70" y1="491.95" y2="599.85" stroke="#b0b0b0" stroke-width="1.25"/>
<line x1="55.90" x2="293.70" y1="599.85" y2="599.85" stroke="#b0b0b0" stroke-width="1.25"/>
<line x1="55.90" x2="293.70" y1="572.88" y2="572.88" stroke="#b0b0b0" stroke-width="1.25"/>
<line x1="55.90" x2="293.70" y1="545.90" y2="545.90" stroke="#b0b0b0" stroke-width="1.25"/>
<line x1="55.90" x2="293.70" y1="518.92" y2="518.92" stroke="#b0b0b0" stroke-width="1.25"/>
<line x1="55.90" x2="293.70" y1="491.95" y2="491.95" stroke="#b0b0b0" stroke-width="1.25"/>
<path d="M55.9,599.3 L56.7,599.3 L57.5,599.2 L58.3,599.2 L59.1,599.1 L59.9,599.0 L60.7,598.9 L61.4,598.8 L62.2,598.6 L63.0,598.4 L63.8,598.2 L64.6,598.0 L65.4,597.8 L66.2,597.6 L67.0,597.4 L67.8,597.1 L68.6,596.8 L69.4,596.4 L70.2,595.9 L71.0,595.3 L71.8,594.6 L72.5,593.9 L73.3,593.1 L74.1,592.2 L74.9,591.2 L75.7,590.2 L76.5,589.1 L77.3,588.0 L78.1,586.9 L78.9,585.7 L79.7,584.3 L80.5,582.9 L81.3,581.2 L82.1,579.4 L82.9,577.3 L83.6,575.1 L84.4,572.7 L85.2,570.2 L86.0,567.7 L86.8,565.1 L87.6,562.4 L88.4,559.8 L89.2,557.2 L90.0,554.6 L90.8,552.1 L91.6,549.5 L92.4,546.8 L93.2,544.0 L93.9,541.2 L94.7,538.4 L95.5,535.8 L96.3,533.3 L97.1,531.0 L97.9,528.9 L98.7,527.2 L99.5,525.6 L100.3,524.1 L101.1,522.7 L101.9,521.4 L102.7,520.3 L103.5,519.5 L104.3,518.9 L105.0,518.7 L105.8,518.9 L106.6,519.5 L107.4,520.4 L108.2,521.5 L109.0,522.9 L109.8,524.4 L110.6,526.0 L111.4,527.6 L112.2,529.3 L113.0,531.1 L113.8,533.1 L114.6,535.2 L115.3,537.4 L116.1,539.8 L116.9,542.1 L117.7,544.5 L118.5,547.0 L119.3,549.5 L120.1,552.2 L120.9,555.0 L121.7,557.8 L122.5,560.7 L123.3,563.6 L124.1,566.5 L124.9,569.2 L125.7,571.8 L126.4,574.2 L127.2,576.3 L128.0,578.2 L128.8,579.9 L129.6,581.3 L130.4,582.6 L131.2,583.9 L132.0,585.2 L132.8,586.4 L133.6,587.5 L134.4,588.5 L135.2,589.5 L136.0,590.3 L136.8,591.0 L137.5,591.5 L138.3,591.9 L139.1,592.1 L139.9,592.1 L140.7,591.8 L141.5,591.3 L142.3,590.6 L143.1,589.7 L143.9,588.6 L144.7,587.4 L145.5,586.1 L146.3,584.8 L147.1,583.4 L147.8,582.0 L148.6,580.7 L149.4,579.4 L150.2,578.1 L151.0,576.9 L151.8,575.7 L152.6,574.5 L153.4,573.2 L154.2,571.9 L155.0,570.7 L155.8,569.4 L156.6,568.3 L157.4,567.2 L158.2,566.2 L158.9,565.3 L159.7,564.4 L160.5,563.5 L161.3,562.7 L162.1,561.9 L162.9,561.2 L163.7,560.5 L164.5,560.0 L165.3,559.7 L166.1,559.6 L166.9,559.7 L167.7,560.1 L168.5,560.7 L169.3,561.4 L170.0,562.2 L170.8,563.2 L171.6,564.4 L172.4,565.7 L173.2,567.3 L174.0,568.9 L174.8,570.7 L175.6,572.5 L176.4,574.3 L177.2,576.0 L178.0,577.7 L178.8,579.2 L179.6,580.5 L180.3,581.7 L181.1,582.7 L181.9,583.6 L182.7,584.5 L183.5,585.3 L184.3,586.2 L185.1,587.0 L185.9,587.7 L186.7,588.4 L187.5,589.1 L188.3,589.6 L189.1,590.1 L189.9,590.5 L190.7,590.8 L191.4,591.0 L192.2,591.1 L193.0,591.1 L193.8,590.9 L194.6,590.6 L195.4,590.2 L196.2,589.7 L197.0,589.1 L197.8,588.4 L198.6,587.7 L199.4,586.9 L200.2,586.0 L201.0,584.9 L201.8,583.5 L202.5,581.9 L203.3,580.1 L204.1,578.1 L204.9,576.0 L205.7,573.9 L206.5,571.7 L207.3,569.6 L208.1,567.5 L208.9,565.3 L209.7,563.1 L210.5,560.9 L211.3,558.5 L212.1,556.2 L212.8,553.9 L213.6,551.6 L214.4,549.5 L215.2,547.6 L216.0,545.8 L216.8,544.3 L217.6,542.8 L218.4,541.4 L219.2,540.1 L220.0,538.9 L220.8,537.7 L221.6,536.6 L222.4,535.8 L223.2,535.1 L223.9,534.7 L224.7,534.6 L225.5,534.7 L226.3,535.1 L227.1,535.8 L227.9,536.8 L228.7,537.9 L229.5,539.2 L230.3,540.5 L231.1,542.0 L231.9,543.6 L232.7,545.2 L233.5,547.0 L234.3,549.1 L235.0,551.4 L235.8,554.1 L236.6,556.9 L237.4,559.7 L238.2,562.5 L239.0,565.2 L239.8,567.7 L240.6,569.9 L241.4,572.0 L242.2,573.9 L243.0,575.8 L243.8,577.6 L244.6,579.3 L245.3,580.9 L246.1,582.4 L246.9,583.8 L247.7,585.0 L248.5,586.1 L249.3,587.2 L250.1,588.2 L250.9,589.2 L251.7,590.0 L252.5,590.8 L253.3,591.6 L254.1,592.2 L254.9,592.6 L255.7,593.0 L256.4,593.3 L257.2,593.6 L258.0,593.8 L258.8,594.0 L259.6,594.2 L260.4,594.3 L261.2,594.5 L262.0,594.6 L262.8,594.7 L263.6,594.9 L264.4,595.0 L265.2,595.1 L266.0,595.2 L266.7,595.4 L267.5,595.5 L268.3,595.6 L269.1,595.8 L269.9,595.9 L270.7,596.0 L271.5,596.1 L272.3,596.2 L273.1,596.3 L273.9,596.4 L274.7,596.6 L275.5,596.7 L276.3,596.8 L277.1,596.9 L277.8,597.0 L278.6,597.1 L279.4,597.2 L280.2,597.3 L281.0,597.4 L281.8,597.5 L282.6,597.6 L283.4,597.7 L284.2,597.8 L285.0,597.9 L285.8,598.0 L286.6,598.1 L287.4,598.2 L288.2,598.3 L288.9,598.5 L289.7,598.6 L290.5,598.6 L291.3,598.7 L292.1,598.8 L292.9,598.9 L293.7,599.0" fill="none" stroke="#ff0000" stroke-width="2.8" stroke-dasharray="2.8 3.3" stroke-linejoin="round"/>
<path d="M55.9,599.6 L56.7,599.6 L57.5,599.5 L58.3,599.5 L59.1,599.4 L59.9,599.3 L60.7,599.2 L61.4,599.1 L62.2,598.9 L63.0,598.8 L63.8,598.6 L64.6,598.4 L65.4,598.2 L66.2,598.0 L67.0,597.8 L67.8,597.5 L68.6,597.3 L69.4,597.0 L70.2,596.7 L71.0,596.5 L71.8,596.1 L72.5,595.8 L73.3,595.3 L74.1,594.8 L74.9,594.2 L75.7,593.5 L76.5,592.8 L77.3,592.1 L78.1,591.2 L78.9,590.4 L79.7,589.5 L80.5,588.5 L81.3,587.6 L82.1,586.6 L82.9,585.5 L83.6,584.2 L84.4,582.9 L85.2,581.5 L86.0,579.9 L86.8,578.3 L87.6,576.6 L88.4,574.9 L89.2,573.1 L90.0,571.4 L90.8,569.6 L91.6,567.9 L92.4,566.2 L93.2,564.4 L93.9,562.6 L94.7,560.7 L95.5,558.9 L96.3,557.0 L97.1,555.2 L97.9,553.5 L98.7,552.0 L99.5,550.7 L100.3,549.5 L101.1,548.5 L101.9,547.5 L102.7,546.7 L103.5,546.0 L104.3,545.5 L105.0,545.4 L105.8,545.5 L106.6,545.9 L107.4,546.6 L108.2,547.5 L109.0,548.5 L109.8,549.7 L110.6,550.9 L111.4,552.1 L112.2,553.4 L113.0,554.7 L113.8,556.2 L114.6,557.8 L115.3,559.5 L116.1,561.1 L116.9,562.8 L117.7,564.4 L118.5,565.9 L119.3,567.4 L120.1,568.9 L120.9,570.4 L121.7,572.0 L122.5,573.5 L123.3,574.9 L124.1,576.4 L124.9,577.7 L125.7,579.0 L126.4,580.2 L127.2,581.3 L128.0,582.3 L128.8,583.3 L129.6,584.1 L130.4,584.9 L131.2,585.7 L132.0,586.5 L132.8,587.2 L133.6,587.9 L134.4,588.5 L135.2,589.1 L136.0,589.7 L136.8,590.1 L137.5,590.4 L138.3,590.7 L139.1,590.8 L139.9,590.6 L140.7,590.2 L141.5,589.4 L142.3,588.3 L143.1,586.9 L143.9,585.3 L144.7,583.6 L145.5,581.8 L146.3,580.0 L147.1,578.2 L147.8,576.5 L148.6,574.9 L149.4,573.3 L150.2,571.7 L151.0,570.0 L151.8,568.3 L152.6,566.6 L153.4,565.0 L154.2,563.4 L155.0,561.9 L155.8,560.5 L156.6,559.1 L157.4,557.9 L158.2,556.6 L158.9,555.4 L159.7,554.2 L160.5,553.0 L161.3,551.9 L162.1,550.8 L162.9,549.9 L163.7,549.1 L164.5,548.6 L165.3,548.2 L166.1,548.0 L166.9,548.1 L167.7,548.4 L168.5,549.0 L169.3,549.8 L170.0,550.7 L170.8,551.7 L171.6,552.9 L172.4,554.3 L173.2,555.9 L174.0,557.9 L174.8,560.2 L175.6,562.7 L176.4,565.2 L177.2,567.7 L178.0,570.0 L178.8,572.0 L179.6,573.8 L180.3,575.5 L181.1,577.1 L181.9,578.7 L182.7,580.1 L183.5,581.5 L184.3,582.8 L185.1,584.0 L185.9,585.1 L186.7,586.0 L187.5,586.9 L188.3,587.7 L189.1,588.5 L189.9,589.1 L190.7,589.7 L191.4,590.0 L192.2,590.2 L193.0,590.2 L193.8,590.0 L194.6,589.6 L195.4,589.1 L196.2,588.5 L197.0,587.8 L197.8,587.0 L198.6,586.1 L199.4,585.1 L200.2,584.0 L201.0,582.6 L201.8,580.9 L202.5,578.8 L203.3,576.5 L204.1,574.0 L204.9,571.3 L205.7,568.7 L206.5,566.0 L207.3,563.5 L208.1,561.1 L208.9,558.7 L209.7,556.3 L210.5,554.0 L211.3,551.6 L212.1,549.3 L212.8,547.1 L213.6,545.0 L214.4,543.0 L215.2,541.2 L216.0,539.6 L216.8,538.1 L217.6,536.6 L218.4,535.2 L219.2,533.9 L220.0,532.6 L220.8,531.5 L221.6,530.6 L222.4,529.9 L223.2,529.6 L223.9,529.5 L224.7,529.8 L225.5,530.4 L226.3,531.3 L227.1,532.4 L227.9,533.8 L228.7,535.3 L229.5,536.9 L230.3,538.5 L231.1,540.2 L231.9,541.9 L232.7,543.7 L233.5,545.6 L234.3,547.7 L235.0,549.9 L235.8,552.2 L236.6,554.5 L237.4,556.9 L238.2,559.2 L239.0,561.5 L239.8,563.6 L240.6,565.7 L241.4,567.7 L242.2,569.8 L243.0,571.8 L243.8,573.7 L244.6,575.6 L245.3,577.4 L246.1,579.1 L246.9,580.5 L247.7,581.7 L248.5,582.8 L249.3,583.8 L250.1,584.8 L250.9,585.7 L251.7,586.5 L252.5,587.2 L253.3,587.8 L254.1,588.2 L254.9,588.5 L255.7,588.7 L256.4,588.8 L257.2,588.8 L258.0,588.7 L258.8,588.7 L259.6,588.7 L260.4,588.7 L261.2,588.6 L262.0,588.6 L262.8,588.5 L263.6,588.4 L264.4,588.3 L265.2,588.1 L266.0,587.9 L266.7,587.7 L267.5,587.5 L268.3,587.3 L269.1,587.1 L269.9,586.9 L270.7,586.8 L271.5,586.7 L272.3,586.7 L273.1,586.7 L273.9,586.8 L274.7,587.0 L275.5,587.2 L276.3,587.4 L277.1,587.7 L277.8,588.1 L278.6,588.5 L279.4,588.8 L280.2,589.3 L281.0,589.7 L281.8,590.1 L282.6,590.6 L283.4,591.0 L284.2,591.4 L285.0,591.8 L285.8,592.2 L286.6,592.6 L287.4,593.1 L288.2,593.5 L288.9,594.0 L289.7,594.4 L290.5,594.9 L291.3,595.4 L292.1,595.9 L292.9,596.3 L293.7,596.6" fill="none" stroke="#008000" stroke-width="2.8" stroke-dasharray="2.8 3.3" stroke-linejoin="round"/>
<path d="M55.9,598.8 L56.7,598.7 L57.5,598.6 L58.3,598.5 L59.1,598.4 L59.9,598.2 L60.7,598.0 L61.4,597.7 L62.2,597.4 L63.0,597.1 L63.8,596.8 L64.6,596.4 L65.4,596.1 L66.2,595.7 L67.0,595.3 L67.8,594.8 L68.6,594.2 L69.4,593.6 L70.2,592.8 L71.0,592.0 L71.8,591.1 L72.5,590.1 L73.3,589.1 L74.1,588.0 L74.9,586.8 L75.7,585.6 L76.5,584.3 L77.3,583.0 L78.1,581.7 L78.9,580.2 L79.7,578.6 L80.5,576.8 L81.3,574.9 L82.1,572.9 L82.9,570.8 L83.6,568.7 L84.4,566.5 L85.2,564.2 L86.0,561.9 L86.8,559.4 L87.6,556.8 L88.4,554.1 L89.2,551.2 L90.0,548.2 L90.8,545.2 L91.6,542.2 L92.4,539.3 L93.2,536.6 L93.9,534.0 L94.7,531.6 L95.5,529.3 L96.3,527.1 L97.1,524.8 L97.9,522.6 L98.7,520.4 L99.5,518.3 L100.3,516.4 L101.1,514.7 L101.9,513.3 L102.7,512.2 L103.5,511.5 L104.3,511.2 L105.0,511.4 L105.8,511.9 L106.6,512.9 L107.4,514.1 L108.2,515.7 L109.0,517.5 L109.8,519.6 L110.6,521.7 L111.4,523.9 L112.2,526.2 L113.0,528.4 L113.8,530.7 L114.6,533.0 L115.3,535.5 L116.1,538.2 L116.9,541.1 L117.7,544.1 L118.5,547.1 L119.3,550.1 L120.1,553.0 L120.9,555.8 L121.7,558.4 L122.5,560.9 L123.3,563.2 L124.1,565.4 L124.9,567.6 L125.7,569.8 L126.4,571.8 L127.2,573.8 L128.0,575.6 L128.8,577.3 L129.6,578.8 L130.4,580.2 L131.2,581.4 L132.0,582.5 L132.8,583.5 L133.6,584.6 L134.4,585.5 L135.2,586.5 L136.0,587.4 L136.8,588.2 L137.5,588.9 L138.3,589.5 L139.1,590.0 L139.9,590.4 L140.7,590.7 L141.5,590.8 L142.3,590.8 L143.1,590.6 L143.9,590.4 L144.7,590.0 L145.5,589.5 L146.3,589.0 L147.1,588.4 L147.8,587.8 L148.6,587.2 L149.4,586.6 L150.2,586.0 L151.0,585.4 L151.8,584.9 L152.6,584.4 L153.4,583.9 L154.2,583.5 L155.0,583.0 L155.8,582.5 L156.6,582.0 L157.4,581.6 L158.2,581.1 L158.9,580.6 L159.7,580.2 L160.5,579.8 L161.3,579.5 L162.1,579.2 L162.9,578.9 L163.7,578.8 L164.5,578.7 L165.3,578.6 L166.1,578.7 L166.9,578.9 L167.7,579.1 L168.5,579.4 L169.3,579.8 L170.0,580.2 L170.8,580.7 L171.6,581.2 L172.4,581.8 L173.2,582.5 L174.0,583.2 L174.8,584.0 L175.6,584.7 L176.4,585.5 L177.2,586.2 L178.0,586.9 L178.8,587.5 L179.6,588.1 L180.3,588.5 L181.1,588.9 L181.9,589.3 L182.7,589.6 L183.5,589.9 L184.3,590.2 L185.1,590.5 L185.9,590.8 L186.7,591.0 L187.5,591.3 L188.3,591.5 L189.1,591.7 L189.9,591.8 L190.7,592.0 L191.4,592.1 L192.2,592.2 L193.0,592.2 L193.8,592.2 L194.6,592.0 L195.4,591.7 L196.2,591.3 L197.0,590.6 L197.8,589.9 L198.6,589.0 L199.4,588.1 L200.2,587.1 L201.0,586.0 L201.8,584.9 L202.5,583.8 L203.3,582.4 L204.1,580.9 L204.9,579.1 L205.7,577.3 L206.5,575.3 L207.3,573.3 L208.1,571.3 L208.9,569.2 L209.7,567.3 L210.5,565.3 L211.3,563.4 L212.1,561.4 L212.8,559.3 L213.6,557.2 L214.4,555.2 L215.2,553.2 L216.0,551.3 L216.8,549.6 L217.6,548.1 L218.4,546.9 L219.2,545.9 L220.0,545.0 L220.8,544.2 L221.6,543.5 L222.4,542.8 L223.2,542.2 L223.9,541.7 L224.7,541.3 L225.5,541.1 L226.3,541.0 L227.1,541.1 L227.9,541.4 L228.7,542.1 L229.5,542.9 L230.3,544.0 L231.1,545.2 L231.9,546.4 L232.7,547.8 L233.5,549.1 L234.3,550.6 L235.0,552.0 L235.8,553.6 L236.6,555.4 L237.4,557.3 L238.2,559.2 L239.0,561.2 L239.8,563.2 L240.6,565.1 L241.4,567.0 L242.2,568.7 L243.0,570.4 L243.8,572.1 L244.6,573.7 L245.3,575.4 L246.1,577.0 L246.9,578.5 L247.7,579.9 L248.5,581.3 L249.3,582.5 L250.1,583.5 L250.9,584.4 L251.7,585.1 L252.5,585.8 L253.3,586.4 L254.1,586.9 L254.9,587.4 L255.7,587.9 L256.4,588.3 L257.2,588.7 L258.0,589.1 L258.8,589.5 L259.6,589.8 L260.4,590.2 L261.2,590.5 L262.0,590.8 L262.8,591.2 L263.6,591.5 L264.4,591.7 L265.2,592.0 L266.0,592.3 L266.7,592.6 L267.5,592.8 L268.3,593.1 L269.1,593.3 L269.9,593.5 L270.7,593.8 L271.5,594.0 L272.3,594.2 L273.1,594.4 L273.9,594.6 L274.7,594.8 L275.5,594.9 L276.3,595.1 L277.1,595.3 L277.8,595.5 L278.6,595.6 L279.4,595.8 L280.2,595.9 L281.0,596.1 L281.8,596.2 L282.6,596.4 L283.4,596.5 L284.2,596.7 L285.0,596.8 L285.8,597.0 L286.6,597.1 L287.4,597.2 L288.2,597.4 L288.9,597.5 L289.7,597.6 L290.5,597.7 L291.3,597.9 L292.1,598.0 L292.9,598.1 L293.7,598.2" fill="none" stroke="#0000ff" stroke-width="2.8" stroke-dasharray="2.8 3.3" stroke-linejoin="round"/>
</g>
<line x1="55.90" x2="55.90" y1="599.85" y2="604.65" stroke="#000" stroke-width="1"/>
<text x="54.50" y="619.25" font-size="11.4" letter-spacing="0.45" text-anchor="middle">0.0</text>
<line x1="103.46" x2="103.46" y1="599.85" y2="604.65" stroke="#000" stroke-width="1"/>
<text x="102.06" y="619.25" font-size="11.4" letter-spacing="0.45" text-anchor="middle">0.2</text>
<line x1="151.02" x2="151.02" y1="599.85" y2="604.65" stroke="#000" stroke-width="1"/>
<text x="149.62" y="619.25" font-size="11.4" letter-spacing="0.45" text-anchor="middle">0.4</text>
<line x1="198.58" x2="198.58" y1="599.85" y2="604.65" stroke="#000" stroke-width="1"/>
<text x="197.18" y="619.25" font-size="11.4" letter-spacing="0.45" text-anchor="middle">0.6</text>
<line x1="246.14" x2="246.14" y1="599.85" y2="604.65" stroke="#000" stroke-width="1"/>
<text x="244.74" y="619.25" font-size="11.4" letter-spacing="0.45" text-anchor="middle">0.8</text>
<line x1="293.70" x2="293.70" y1="599.85" y2="604.65" stroke="#000" stroke-width="1"/>
<text x="292.30" y="619.25" font-size="11.4" letter-spacing="0.45" text-anchor="middle">1.0</text>
<line x1="51.10" x2="55.90" y1="599.85" y2="599.85" stroke="#000" stroke-width="1"/>
<text x="44.70" y="604.40" font-size="11.4" letter-spacing="0.45" text-anchor="end">0</text>
<line x1="51.10" x2="55.90" y1="572.88" y2="572.88" stroke="#000" stroke-width="1"/>
<text x="44.70" y="577.42" font-size="11.4" letter-spacing="0.45" text-anchor="end">1</text>
<line x1="51.10" x2="55.90" y1="545.90" y2="545.90" stroke="#000" stroke-width="1"/>
<text x="44.70" y="550.45" font-size="11.4" letter-spacing="0.45" text-anchor="end">2</text>
<line x1="51.10" x2="55.90" y1="518.92" y2="518.92" stroke="#000" stroke-width="1"/>
<text x="44.70" y="523.47" font-size="11.4" letter-spacing="0.45" text-anchor="end">3</text>
<line x1="51.10" x2="55.90" y1="491.95" y2="491.95" stroke="#000" stroke-width="1"/>
<text x="44.70" y="496.50" font-size="11.4" letter-spacing="0.45" text-anchor="end">4</text>
<rect x="55.90" y="491.95" width="237.80" height="107.90" fill="none" stroke="#000" stroke-width="1.25"/>
<text x="60.50" y="508.75" font-size="14.2" letter-spacing="0.55">CL <tspan font-weight="bold" letter-spacing="1.1">(d)</tspan></text>
<text transform="translate(28.40,546.80) rotate(-90)" font-size="14" text-anchor="middle" letter-spacing="0.3">Estimated PDF</text>
<text x="174.30" y="636.85" font-size="13.4" letter-spacing="0.2" text-anchor="middle"><tspan font-style="italic">η</tspan><tspan font-style="italic" font-size="9.8" dy="2.4">m</tspan></text>
<clipPath id="c13"><rect x="364.70" y="491.95" width="237.80" height="107.90"/></clipPath>
<g clip-path="url(#c13)">
<path d="M364.7,596.6 L365.5,596.3 L366.3,595.8 L367.1,595.3 L367.9,594.9 L368.7,594.4 L369.5,593.9 L370.2,593.4 L371.0,593.0 L371.8,592.5 L372.6,592.1 L373.4,591.7 L374.2,591.3 L375.0,590.9 L375.8,590.6 L376.6,590.3 L377.4,590.0 L378.2,589.7 L379.0,589.4 L379.8,589.2 L380.6,588.9 L381.3,588.6 L382.1,588.3 L382.9,588.0 L383.7,587.6 L384.5,587.2 L385.3,586.8 L386.1,586.2 L386.9,585.6 L387.7,584.9 L388.5,584.1 L389.3,583.1 L390.1,582.1 L390.9,581.1 L391.7,579.9 L392.4,578.7 L393.2,577.4 L394.0,576.0 L394.8,574.4 L395.6,572.7 L396.4,570.7 L397.2,568.6 L398.0,566.3 L398.8,564.0 L399.6,561.6 L400.4,559.2 L401.2,556.9 L402.0,554.8 L402.7,552.7 L403.5,550.6 L404.3,548.4 L405.1,546.3 L405.9,544.1 L406.7,541.9 L407.5,539.8 L408.3,537.9 L409.1,536.2 L409.9,534.8 L410.7,533.7 L411.5,533.0 L412.3,532.8 L413.1,532.9 L413.8,533.4 L414.6,534.2 L415.4,535.3 L416.2,536.6 L417.0,538.1 L417.8,539.7 L418.6,541.4 L419.4,543.2 L420.2,544.9 L421.0,546.6 L421.8,548.4 L422.6,550.2 L423.4,552.0 L424.1,554.0 L424.9,556.1 L425.7,558.3 L426.5,560.4 L427.3,562.5 L428.1,564.6 L428.9,566.5 L429.7,568.2 L430.5,569.8 L431.3,571.3 L432.1,572.7 L432.9,574.1 L433.7,575.4 L434.5,576.7 L435.2,577.8 L436.0,578.9 L436.8,580.0 L437.6,580.9 L438.4,581.8 L439.2,582.6 L440.0,583.4 L440.8,584.1 L441.6,584.9 L442.4,585.6 L443.2,586.2 L444.0,586.9 L444.8,587.4 L445.6,587.9 L446.3,588.2 L447.1,588.5 L447.9,588.6 L448.7,588.6 L449.5,588.4 L450.3,588.0 L451.1,587.4 L451.9,586.7 L452.7,585.8 L453.5,584.8 L454.3,583.7 L455.1,582.5 L455.9,581.3 L456.6,580.0 L457.4,578.7 L458.2,577.4 L459.0,575.9 L459.8,574.3 L460.6,572.5 L461.4,570.6 L462.2,568.5 L463.0,566.4 L463.8,564.2 L464.6,562.0 L465.4,559.8 L466.2,557.5 L467.0,555.2 L467.7,552.7 L468.5,550.1 L469.3,547.5 L470.1,544.8 L470.9,542.1 L471.7,539.6 L472.5,537.3 L473.3,535.2 L474.1,533.4 L474.9,531.7 L475.7,530.1 L476.5,528.6 L477.3,527.2 L478.1,525.9 L478.8,524.9 L479.6,524.1 L480.4,523.7 L481.2,523.6 L482.0,523.9 L482.8,524.5 L483.6,525.4 L484.4,526.6 L485.2,527.9 L486.0,529.2 L486.8,530.6 L487.6,531.9 L488.4,533.2 L489.1,534.3 L489.9,535.5 L490.7,536.6 L491.5,537.8 L492.3,538.9 L493.1,540.1 L493.9,541.3 L494.7,542.5 L495.5,543.8 L496.3,545.1 L497.1,546.5 L497.9,547.9 L498.7,549.4 L499.5,550.9 L500.2,552.4 L501.0,554.0 L501.8,555.7 L502.6,557.4 L503.4,559.1 L504.2,560.9 L505.0,562.8 L505.8,564.7 L506.6,566.7 L507.4,568.6 L508.2,570.4 L509.0,572.2 L509.8,573.9 L510.6,575.5 L511.3,577.0 L512.1,578.5 L512.9,579.9 L513.7,581.2 L514.5,582.3 L515.3,583.4 L516.1,584.3 L516.9,585.1 L517.7,585.8 L518.5,586.5 L519.3,587.1 L520.1,587.6 L520.9,588.1 L521.6,588.4 L522.4,588.7 L523.2,588.9 L524.0,589.0 L524.8,589.2 L525.6,589.3 L526.4,589.4 L527.2,589.5 L528.0,589.6 L528.8,589.6 L529.6,589.7 L530.4,589.8 L531.2,589.9 L532.0,589.9 L532.7,590.0 L533.5,590.0 L534.3,590.1 L535.1,590.1 L535.9,590.2 L536.7,590.2 L537.5,590.3 L538.3,590.3 L539.1,590.4 L539.9,590.4 L540.7,590.4 L541.5,590.5 L542.3,590.5 L543.0,590.5 L543.8,590.6 L544.6,590.6 L545.4,590.7 L546.2,590.7 L547.0,590.7 L547.8,590.8 L548.6,590.8 L549.4,590.9 L550.2,591.0 L551.0,591.0 L551.8,591.1 L552.6,591.2 L553.4,591.3 L554.1,591.5 L554.9,591.6 L555.7,591.7 L556.5,591.9 L557.3,592.0 L558.1,592.2 L558.9,592.3 L559.7,592.4 L560.5,592.5 L561.3,592.6 L562.1,592.7 L562.9,592.8 L563.7,592.9 L564.5,593.0 L565.2,593.1 L566.0,593.2 L566.8,593.3 L567.6,593.3 L568.4,593.3 L569.2,593.3 L570.0,593.3 L570.8,593.2 L571.6,593.1 L572.4,593.0 L573.2,592.8 L574.0,592.6 L574.8,592.4 L575.5,592.1 L576.3,591.9 L577.1,591.7 L577.9,591.5 L578.7,591.2 L579.5,591.0 L580.3,590.9 L581.1,590.7 L581.9,590.5 L582.7,590.3 L583.5,590.1 L584.3,589.9 L585.1,589.7 L585.9,589.6 L586.6,589.5 L587.4,589.4 L588.2,589.4 L589.0,589.4 L589.8,589.5 L590.6,589.7 L591.4,589.9 L592.2,590.2 L593.0,590.4 L593.8,590.8 L594.6,591.1 L595.4,591.4 L596.2,591.7 L597.0,592.0 L597.7,592.3 L598.5,592.6 L599.3,592.9 L600.1,593.2 L600.9,593.5 L601.7,593.8 L602.5,594.0 L602.50,599.85 L364.70,599.85 Z" fill="#ff0000" fill-opacity="0.5" stroke="none"/>
<path d="M364.7,589.4 L365.5,588.8 L366.3,588.1 L367.1,587.2 L367.9,586.3 L368.7,585.5 L369.5,584.6 L370.2,583.8 L371.0,583.0 L371.8,582.2 L372.6,581.4 L373.4,580.6 L374.2,579.8 L375.0,579.0 L375.8,578.2 L376.6,577.4 L377.4,576.6 L378.2,575.9 L379.0,575.1 L379.8,574.4 L380.6,573.8 L381.3,573.2 L382.1,572.6 L382.9,572.1 L383.7,571.7 L384.5,571.3 L385.3,570.9 L386.1,570.5 L386.9,570.1 L387.7,569.8 L388.5,569.4 L389.3,569.1 L390.1,568.8 L390.9,568.5 L391.7,568.3 L392.4,568.1 L393.2,567.9 L394.0,567.8 L394.8,567.8 L395.6,567.8 L396.4,567.9 L397.2,568.0 L398.0,568.1 L398.8,568.3 L399.6,568.6 L400.4,568.9 L401.2,569.2 L402.0,569.5 L402.7,569.9 L403.5,570.2 L404.3,570.6 L405.1,571.0 L405.9,571.4 L406.7,571.8 L407.5,572.2 L408.3,572.7 L409.1,573.2 L409.9,573.8 L410.7,574.4 L411.5,575.1 L412.3,575.7 L413.1,576.4 L413.8,577.1 L414.6,577.8 L415.4,578.5 L416.2,579.1 L417.0,579.8 L417.8,580.4 L418.6,581.0 L419.4,581.6 L420.2,582.3 L421.0,582.9 L421.8,583.5 L422.6,584.1 L423.4,584.7 L424.1,585.3 L424.9,585.9 L425.7,586.4 L426.5,586.8 L427.3,587.3 L428.1,587.7 L428.9,588.0 L429.7,588.4 L430.5,588.7 L431.3,589.0 L432.1,589.3 L432.9,589.6 L433.7,589.9 L434.5,590.2 L435.2,590.4 L436.0,590.6 L436.8,590.7 L437.6,590.8 L438.4,590.9 L439.2,590.9 L440.0,590.9 L440.8,590.8 L441.6,590.7 L442.4,590.6 L443.2,590.4 L444.0,590.3 L444.8,590.1 L445.6,589.9 L446.3,589.7 L447.1,589.4 L447.9,589.2 L448.7,589.0 L449.5,588.7 L450.3,588.5 L451.1,588.2 L451.9,587.9 L452.7,587.5 L453.5,587.2 L454.3,586.8 L455.1,586.4 L455.9,585.9 L456.6,585.5 L457.4,585.1 L458.2,584.6 L459.0,584.2 L459.8,583.7 L460.6,583.2 L461.4,582.8 L462.2,582.3 L463.0,581.9 L463.8,581.4 L464.6,580.9 L465.4,580.5 L466.2,580.0 L467.0,579.5 L467.7,579.0 L468.5,578.6 L469.3,578.0 L470.1,577.5 L470.9,577.0 L471.7,576.4 L472.5,575.9 L473.3,575.3 L474.1,574.7 L474.9,574.1 L475.7,573.4 L476.5,572.7 L477.3,572.0 L478.1,571.3 L478.8,570.5 L479.6,569.7 L480.4,568.8 L481.2,568.0 L482.0,567.1 L482.8,566.2 L483.6,565.3 L484.4,564.4 L485.2,563.4 L486.0,562.4 L486.8,561.4 L487.6,560.3 L488.4,559.2 L489.1,558.0 L489.9,556.7 L490.7,555.2 L491.5,553.5 L492.3,551.6 L493.1,549.7 L493.9,547.8 L494.7,545.9 L495.5,544.3 L496.3,542.9 L497.1,541.8 L497.9,540.9 L498.7,540.1 L499.5,539.3 L500.2,538.6 L501.0,537.9 L501.8,537.3 L502.6,536.7 L503.4,536.2 L504.2,535.7 L505.0,535.4 L505.8,535.1 L506.6,535.0 L507.4,535.0 L508.2,535.2 L509.0,535.6 L509.8,536.3 L510.6,537.1 L511.3,538.1 L512.1,539.1 L512.9,540.3 L513.7,541.4 L514.5,542.7 L515.3,544.1 L516.1,545.7 L516.9,547.4 L517.7,549.2 L518.5,551.1 L519.3,553.1 L520.1,555.0 L520.9,557.0 L521.6,558.8 L522.4,560.6 L523.2,562.3 L524.0,564.0 L524.8,565.7 L525.6,567.4 L526.4,569.1 L527.2,570.7 L528.0,572.3 L528.8,573.8 L529.6,575.3 L530.4,576.6 L531.2,578.0 L532.0,579.3 L532.7,580.5 L533.5,581.8 L534.3,583.0 L535.1,584.2 L535.9,585.3 L536.7,586.3 L537.5,587.2 L538.3,587.9 L539.1,588.5 L539.9,588.9 L540.7,589.3 L541.5,589.6 L542.3,589.9 L543.0,590.1 L543.8,590.4 L544.6,590.6 L545.4,590.8 L546.2,590.9 L547.0,591.1 L547.8,591.1 L548.6,591.2 L549.4,591.1 L550.2,591.0 L551.0,590.9 L551.8,590.6 L552.6,590.3 L553.4,589.9 L554.1,589.5 L554.9,589.0 L555.7,588.4 L556.5,587.9 L557.3,587.3 L558.1,586.7 L558.9,586.0 L559.7,585.4 L560.5,584.8 L561.3,584.1 L562.1,583.3 L562.9,582.4 L563.7,581.4 L564.5,580.4 L565.2,579.4 L566.0,578.4 L566.8,577.4 L567.6,576.5 L568.4,575.8 L569.2,575.1 L570.0,574.5 L570.8,574.0 L571.6,573.4 L572.4,572.9 L573.2,572.4 L574.0,571.9 L574.8,571.5 L575.5,571.0 L576.3,570.7 L577.1,570.3 L577.9,570.0 L578.7,569.7 L579.5,569.5 L580.3,569.3 L581.1,569.2 L581.9,569.2 L582.7,569.2 L583.5,569.3 L584.3,569.5 L585.1,569.7 L585.9,570.0 L586.6,570.3 L587.4,570.7 L588.2,571.1 L589.0,571.6 L589.8,572.0 L590.6,572.5 L591.4,573.0 L592.2,573.5 L593.0,574.0 L593.8,574.5 L594.6,575.0 L595.4,575.6 L596.2,576.2 L597.0,576.9 L597.7,577.6 L598.5,578.3 L599.3,579.1 L600.1,579.8 L600.9,580.6 L601.7,581.4 L602.5,581.9 L602.50,599.85 L364.70,599.85 Z" fill="#008000" fill-opacity="0.5" stroke="none"/>
<path d="M364.7,585.7 L365.5,584.5 L366.3,582.9 L367.1,581.2 L367.9,579.4 L368.7,577.7 L369.5,576.1 L370.2,574.5 L371.0,572.9 L371.8,571.4 L372.6,569.9 L373.4,568.5 L374.2,567.1 L375.0,565.7 L375.8,564.3 L376.6,562.9 L377.4,561.6 L378.2,560.4 L379.0,559.3 L379.8,558.3 L380.6,557.5 L381.3,556.8 L382.1,556.2 L382.9,555.6 L383.7,555.1 L384.5,554.6 L385.3,554.1 L386.1,553.7 L386.9,553.4 L387.7,553.1 L388.5,552.9 L389.3,552.8 L390.1,552.8 L390.9,553.0 L391.7,553.3 L392.4,553.8 L393.2,554.5 L394.0,555.2 L394.8,556.1 L395.6,557.0 L396.4,558.0 L397.2,559.0 L398.0,560.0 L398.8,561.1 L399.6,562.3 L400.4,563.6 L401.2,565.1 L402.0,566.6 L402.7,568.1 L403.5,569.7 L404.3,571.3 L405.1,572.8 L405.9,574.3 L406.7,575.7 L407.5,577.0 L408.3,578.4 L409.1,579.7 L409.9,581.0 L410.7,582.3 L411.5,583.6 L412.3,584.8 L413.1,585.9 L413.8,587.0 L414.6,587.9 L415.4,588.8 L416.2,589.6 L417.0,590.4 L417.8,591.2 L418.6,591.9 L419.4,592.6 L420.2,593.2 L421.0,593.8 L421.8,594.3 L422.6,594.7 L423.4,595.0 L424.1,595.3 L424.9,595.5 L425.7,595.7 L426.5,595.9 L427.3,596.0 L428.1,596.2 L428.9,596.2 L429.7,596.3 L430.5,596.3 L431.3,596.3 L432.1,596.2 L432.9,596.0 L433.7,595.8 L434.5,595.6 L435.2,595.3 L436.0,595.0 L436.8,594.7 L437.6,594.4 L438.4,594.1 L439.2,593.7 L440.0,593.4 L440.8,593.1 L441.6,592.8 L442.4,592.4 L443.2,592.0 L444.0,591.6 L444.8,591.2 L445.6,590.8 L446.3,590.3 L447.1,589.9 L447.9,589.4 L448.7,589.0 L449.5,588.6 L450.3,588.2 L451.1,587.9 L451.9,587.6 L452.7,587.3 L453.5,587.0 L454.3,586.7 L455.1,586.4 L455.9,586.2 L456.6,585.9 L457.4,585.7 L458.2,585.4 L459.0,585.2 L459.8,584.9 L460.6,584.7 L461.4,584.5 L462.2,584.2 L463.0,584.0 L463.8,583.7 L464.6,583.5 L465.4,583.2 L466.2,583.0 L467.0,582.7 L467.7,582.5 L468.5,582.2 L469.3,582.0 L470.1,581.8 L470.9,581.5 L471.7,581.3 L472.5,581.0 L473.3,580.7 L474.1,580.5 L474.9,580.2 L475.7,579.9 L476.5,579.7 L477.3,579.4 L478.1,579.2 L478.8,578.9 L479.6,578.7 L480.4,578.4 L481.2,578.2 L482.0,577.9 L482.8,577.6 L483.6,577.4 L484.4,577.1 L485.2,576.8 L486.0,576.4 L486.8,576.1 L487.6,575.7 L488.4,575.3 L489.1,574.9 L489.9,574.4 L490.7,573.9 L491.5,573.3 L492.3,572.5 L493.1,571.7 L493.9,570.7 L494.7,569.7 L495.5,568.6 L496.3,567.4 L497.1,566.2 L497.9,565.0 L498.7,563.7 L499.5,562.4 L500.2,561.0 L501.0,559.5 L501.8,558.0 L502.6,556.3 L503.4,554.7 L504.2,553.2 L505.0,551.7 L505.8,550.4 L506.6,549.4 L507.4,548.5 L508.2,547.7 L509.0,547.0 L509.8,546.4 L510.6,545.8 L511.3,545.2 L512.1,544.6 L512.9,544.1 L513.7,543.6 L514.5,543.1 L515.3,542.7 L516.1,542.3 L516.9,542.0 L517.7,541.8 L518.5,541.6 L519.3,541.5 L520.1,541.4 L520.9,541.4 L521.6,541.5 L522.4,541.7 L523.2,542.0 L524.0,542.4 L524.8,542.9 L525.6,543.4 L526.4,544.0 L527.2,544.7 L528.0,545.4 L528.8,546.1 L529.6,546.8 L530.4,547.6 L531.2,548.4 L532.0,549.4 L532.7,550.4 L533.5,551.7 L534.3,553.0 L535.1,554.4 L535.9,555.9 L536.7,557.4 L537.5,558.8 L538.3,560.2 L539.1,561.4 L539.9,562.6 L540.7,563.7 L541.5,564.7 L542.3,565.8 L543.0,566.8 L543.8,567.8 L544.6,568.7 L545.4,569.5 L546.2,570.3 L547.0,571.1 L547.8,571.8 L548.6,572.4 L549.4,573.0 L550.2,573.5 L551.0,574.0 L551.8,574.5 L552.6,575.0 L553.4,575.4 L554.1,575.8 L554.9,576.2 L555.7,576.6 L556.5,576.9 L557.3,577.2 L558.1,577.4 L558.9,577.7 L559.7,577.9 L560.5,578.1 L561.3,578.3 L562.1,578.5 L562.9,578.7 L563.7,578.9 L564.5,579.1 L565.2,579.2 L566.0,579.4 L566.8,579.6 L567.6,579.8 L568.4,580.0 L569.2,580.2 L570.0,580.4 L570.8,580.6 L571.6,580.7 L572.4,580.9 L573.2,581.1 L574.0,581.3 L574.8,581.5 L575.5,581.7 L576.3,581.9 L577.1,582.1 L577.9,582.3 L578.7,582.5 L579.5,582.7 L580.3,582.9 L581.1,583.1 L581.9,583.4 L582.7,583.6 L583.5,583.8 L584.3,584.1 L585.1,584.3 L585.9,584.6 L586.6,584.8 L587.4,585.1 L588.2,585.3 L589.0,585.6 L589.8,585.9 L590.6,586.1 L591.4,586.4 L592.2,586.7 L593.0,587.0 L593.8,587.3 L594.6,587.6 L595.4,587.9 L596.2,588.2 L597.0,588.5 L597.7,588.9 L598.5,589.2 L599.3,589.5 L600.1,589.9 L600.9,590.2 L601.7,590.5 L602.5,590.8 L602.50,599.85 L364.70,599.85 Z" fill="#0000ff" fill-opacity="0.5" stroke="none"/>
<line x1="364.70" x2="364.70" y1="491.95" y2="599.85" stroke="#b0b0b0" stroke-width="1.25"/>
<line x1="412.26" x2="412.26" y1="491.95" y2="599.85" stroke="#b0b0b0" stroke-width="1.25"/>
<line x1="459.82" x2="459.82" y1="491.95" y2="599.85" stroke="#b0b0b0" stroke-width="1.25"/>
<line x1="507.38" x2="507.38" y1="491.95" y2="599.85" stroke="#b0b0b0" stroke-width="1.25"/>
<line x1="554.94" x2="554.94" y1="491.95" y2="599.85" stroke="#b0b0b0" stroke-width="1.25"/>
<line x1="602.50" x2="602.50" y1="491.95" y2="599.85" stroke="#b0b0b0" stroke-width="1.25"/>
<line x1="364.70" x2="602.50" y1="599.85" y2="599.85" stroke="#b0b0b0" stroke-width="1.25"/>
<line x1="364.70" x2="602.50" y1="572.88" y2="572.88" stroke="#b0b0b0" stroke-width="1.25"/>
<line x1="364.70" x2="602.50" y1="545.90" y2="545.90" stroke="#b0b0b0" stroke-width="1.25"/>
<line x1="364.70" x2="602.50" y1="518.92" y2="518.92" stroke="#b0b0b0" stroke-width="1.25"/>
<line x1="364.70" x2="602.50" y1="491.95" y2="491.95" stroke="#b0b0b0" stroke-width="1.25"/>
<path d="M364.7,596.6 L365.5,596.3 L366.3,595.8 L367.1,595.3 L367.9,594.9 L368.7,594.4 L369.5,593.9 L370.2,593.4 L371.0,593.0 L371.8,592.5 L372.6,592.1 L373.4,591.7 L374.2,591.3 L375.0,590.9 L375.8,590.6 L376.6,590.3 L377.4,590.0 L378.2,589.7 L379.0,589.4 L379.8,589.2 L380.6,588.9 L381.3,588.6 L382.1,588.3 L382.9,588.0 L383.7,587.6 L384.5,587.2 L385.3,586.8 L386.1,586.2 L386.9,585.6 L387.7,584.9 L388.5,584.1 L389.3,583.1 L390.1,582.1 L390.9,581.1 L391.7,579.9 L392.4,578.7 L393.2,577.4 L394.0,576.0 L394.8,574.4 L395.6,572.7 L396.4,570.7 L397.2,568.6 L398.0,566.3 L398.8,564.0 L399.6,561.6 L400.4,559.2 L401.2,556.9 L402.0,554.8 L402.7,552.7 L403.5,550.6 L404.3,548.4 L405.1,546.3 L405.9,544.1 L406.7,541.9 L407.5,539.8 L408.3,537.9 L409.1,536.2 L409.9,534.8 L410.7,533.7 L411.5,533.0 L412.3,532.8 L413.1,532.9 L413.8,533.4 L414.6,534.2 L415.4,535.3 L416.2,536.6 L417.0,538.1 L417.8,539.7 L418.6,541.4 L419.4,543.2 L420.2,544.9 L421.0,546.6 L421.8,548.4 L422.6,550.2 L423.4,552.0 L424.1,554.0 L424.9,556.1 L425.7,558.3 L426.5,560.4 L427.3,562.5 L428.1,564.6 L428.9,566.5 L429.7,568.2 L430.5,569.8 L431.3,571.3 L432.1,572.7 L432.9,574.1 L433.7,575.4 L434.5,576.7 L435.2,577.8 L436.0,578.9 L436.8,580.0 L437.6,580.9 L438.4,581.8 L439.2,582.6 L440.0,583.4 L440.8,584.1 L441.6,584.9 L442.4,585.6 L443.2,586.2 L444.0,586.9 L444.8,587.4 L445.6,587.9 L446.3,588.2 L447.1,588.5 L447.9,588.6 L448.7,588.6 L449.5,588.4 L450.3,588.0 L451.1,587.4 L451.9,586.7 L452.7,585.8 L453.5,584.8 L454.3,583.7 L455.1,582.5 L455.9,581.3 L456.6,580.0 L457.4,578.7 L458.2,577.4 L459.0,575.9 L459.8,574.3 L460.6,572.5 L461.4,570.6 L462.2,568.5 L463.0,566.4 L463.8,564.2 L464.6,562.0 L465.4,559.8 L466.2,557.5 L467.0,555.2 L467.7,552.7 L468.5,550.1 L469.3,547.5 L470.1,544.8 L470.9,542.1 L471.7,539.6 L472.5,537.3 L473.3,535.2 L474.1,533.4 L474.9,531.7 L475.7,530.1 L476.5,528.6 L477.3,527.2 L478.1,525.9 L478.8,524.9 L479.6,524.1 L480.4,523.7 L481.2,523.6 L482.0,523.9 L482.8,524.5 L483.6,525.4 L484.4,526.6 L485.2,527.9 L486.0,529.2 L486.8,530.6 L487.6,531.9 L488.4,533.2 L489.1,534.3 L489.9,535.5 L490.7,536.6 L491.5,537.8 L492.3,538.9 L493.1,540.1 L493.9,541.3 L494.7,542.5 L495.5,543.8 L496.3,545.1 L497.1,546.5 L497.9,547.9 L498.7,549.4 L499.5,550.9 L500.2,552.4 L501.0,554.0 L501.8,555.7 L502.6,557.4 L503.4,559.1 L504.2,560.9 L505.0,562.8 L505.8,564.7 L506.6,566.7 L507.4,568.6 L508.2,570.4 L509.0,572.2 L509.8,573.9 L510.6,575.5 L511.3,577.0 L512.1,578.5 L512.9,579.9 L513.7,581.2 L514.5,582.3 L515.3,583.4 L516.1,584.3 L516.9,585.1 L517.7,585.8 L518.5,586.5 L519.3,587.1 L520.1,587.6 L520.9,588.1 L521.6,588.4 L522.4,588.7 L523.2,588.9 L524.0,589.0 L524.8,589.2 L525.6,589.3 L526.4,589.4 L527.2,589.5 L528.0,589.6 L528.8,589.6 L529.6,589.7 L530.4,589.8 L531.2,589.9 L532.0,589.9 L532.7,590.0 L533.5,590.0 L534.3,590.1 L535.1,590.1 L535.9,590.2 L536.7,590.2 L537.5,590.3 L538.3,590.3 L539.1,590.4 L539.9,590.4 L540.7,590.4 L541.5,590.5 L542.3,590.5 L543.0,590.5 L543.8,590.6 L544.6,590.6 L545.4,590.7 L546.2,590.7 L547.0,590.7 L547.8,590.8 L548.6,590.8 L549.4,590.9 L550.2,591.0 L551.0,591.0 L551.8,591.1 L552.6,591.2 L553.4,591.3 L554.1,591.5 L554.9,591.6 L555.7,591.7 L556.5,591.9 L557.3,592.0 L558.1,592.2 L558.9,592.3 L559.7,592.4 L560.5,592.5 L561.3,592.6 L562.1,592.7 L562.9,592.8 L563.7,592.9 L564.5,593.0 L565.2,593.1 L566.0,593.2 L566.8,593.3 L567.6,593.3 L568.4,593.3 L569.2,593.3 L570.0,593.3 L570.8,593.2 L571.6,593.1 L572.4,593.0 L573.2,592.8 L574.0,592.6 L574.8,592.4 L575.5,592.1 L576.3,591.9 L577.1,591.7 L577.9,591.5 L578.7,591.2 L579.5,591.0 L580.3,590.9 L581.1,590.7 L581.9,590.5 L582.7,590.3 L583.5,590.1 L584.3,589.9 L585.1,589.7 L585.9,589.6 L586.6,589.5 L587.4,589.4 L588.2,589.4 L589.0,589.4 L589.8,589.5 L590.6,589.7 L591.4,589.9 L592.2,590.2 L593.0,590.4 L593.8,590.8 L594.6,591.1 L595.4,591.4 L596.2,591.7 L597.0,592.0 L597.7,592.3 L598.5,592.6 L599.3,592.9 L600.1,593.2 L600.9,593.5 L601.7,593.8 L602.5,594.0" fill="none" stroke="#ff0000" stroke-width="2.8" stroke-dasharray="2.8 3.3" stroke-linejoin="round"/>
<path d="M364.7,589.4 L365.5,588.8 L366.3,588.1 L367.1,587.2 L367.9,586.3 L368.7,585.5 L369.5,584.6 L370.2,583.8 L371.0,583.0 L371.8,582.2 L372.6,581.4 L373.4,580.6 L374.2,579.8 L375.0,579.0 L375.8,578.2 L376.6,577.4 L377.4,576.6 L378.2,575.9 L379.0,575.1 L379.8,574.4 L380.6,573.8 L381.3,573.2 L382.1,572.6 L382.9,572.1 L383.7,571.7 L384.5,571.3 L385.3,570.9 L386.1,570.5 L386.9,570.1 L387.7,569.8 L388.5,569.4 L389.3,569.1 L390.1,568.8 L390.9,568.5 L391.7,568.3 L392.4,568.1 L393.2,567.9 L394.0,567.8 L394.8,567.8 L395.6,567.8 L396.4,567.9 L397.2,568.0 L398.0,568.1 L398.8,568.3 L399.6,568.6 L400.4,568.9 L401.2,569.2 L402.0,569.5 L402.7,569.9 L403.5,570.2 L404.3,570.6 L405.1,571.0 L405.9,571.4 L406.7,571.8 L407.5,572.2 L408.3,572.7 L409.1,573.2 L409.9,573.8 L410.7,574.4 L411.5,575.1 L412.3,575.7 L413.1,576.4 L413.8,577.1 L414.6,577.8 L415.4,578.5 L416.2,579.1 L417.0,579.8 L417.8,580.4 L418.6,581.0 L419.4,581.6 L420.2,582.3 L421.0,582.9 L421.8,583.5 L422.6,584.1 L423.4,584.7 L424.1,585.3 L424.9,585.9 L425.7,586.4 L426.5,586.8 L427.3,587.3 L428.1,587.7 L428.9,588.0 L429.7,588.4 L430.5,588.7 L431.3,589.0 L432.1,589.3 L432.9,589.6 L433.7,589.9 L434.5,590.2 L435.2,590.4 L436.0,590.6 L436.8,590.7 L437.6,590.8 L438.4,590.9 L439.2,590.9 L440.0,590.9 L440.8,590.8 L441.6,590.7 L442.4,590.6 L443.2,590.4 L444.0,590.3 L444.8,590.1 L445.6,589.9 L446.3,589.7 L447.1,589.4 L447.9,589.2 L448.7,589.0 L449.5,588.7 L450.3,588.5 L451.1,588.2 L451.9,587.9 L452.7,587.5 L453.5,587.2 L454.3,586.8 L455.1,586.4 L455.9,585.9 L456.6,585.5 L457.4,585.1 L458.2,584.6 L459.0,584.2 L459.8,583.7 L460.6,583.2 L461.4,582.8 L462.2,582.3 L463.0,581.9 L463.8,581.4 L464.6,580.9 L465.4,580.5 L466.2,580.0 L467.0,579.5 L467.7,579.0 L468.5,578.6 L469.3,578.0 L470.1,577.5 L470.9,577.0 L471.7,576.4 L472.5,575.9 L473.3,575.3 L474.1,574.7 L474.9,574.1 L475.7,573.4 L476.5,572.7 L477.3,572.0 L478.1,571.3 L478.8,570.5 L479.6,569.7 L480.4,568.8 L481.2,568.0 L482.0,567.1 L482.8,566.2 L483.6,565.3 L484.4,564.4 L485.2,563.4 L486.0,562.4 L486.8,561.4 L487.6,560.3 L488.4,559.2 L489.1,558.0 L489.9,556.7 L490.7,555.2 L491.5,553.5 L492.3,551.6 L493.1,549.7 L493.9,547.8 L494.7,545.9 L495.5,544.3 L496.3,542.9 L497.1,541.8 L497.9,540.9 L498.7,540.1 L499.5,539.3 L500.2,538.6 L501.0,537.9 L501.8,537.3 L502.6,536.7 L503.4,536.2 L504.2,535.7 L505.0,535.4 L505.8,535.1 L506.6,535.0 L507.4,535.0 L508.2,535.2 L509.0,535.6 L509.8,536.3 L510.6,537.1 L511.3,538.1 L512.1,539.1 L512.9,540.3 L513.7,541.4 L514.5,542.7 L515.3,544.1 L516.1,545.7 L516.9,547.4 L517.7,549.2 L518.5,551.1 L519.3,553.1 L520.1,555.0 L520.9,557.0 L521.6,558.8 L522.4,560.6 L523.2,562.3 L524.0,564.0 L524.8,565.7 L525.6,567.4 L526.4,569.1 L527.2,570.7 L528.0,572.3 L528.8,573.8 L529.6,575.3 L530.4,576.6 L531.2,578.0 L532.0,579.3 L532.7,580.5 L533.5,581.8 L534.3,583.0 L535.1,584.2 L535.9,585.3 L536.7,586.3 L537.5,587.2 L538.3,587.9 L539.1,588.5 L539.9,588.9 L540.7,589.3 L541.5,589.6 L542.3,589.9 L543.0,590.1 L543.8,590.4 L544.6,590.6 L545.4,590.8 L546.2,590.9 L547.0,591.1 L547.8,591.1 L548.6,591.2 L549.4,591.1 L550.2,591.0 L551.0,590.9 L551.8,590.6 L552.6,590.3 L553.4,589.9 L554.1,589.5 L554.9,589.0 L555.7,588.4 L556.5,587.9 L557.3,587.3 L558.1,586.7 L558.9,586.0 L559.7,585.4 L560.5,584.8 L561.3,584.1 L562.1,583.3 L562.9,582.4 L563.7,581.4 L564.5,580.4 L565.2,579.4 L566.0,578.4 L566.8,577.4 L567.6,576.5 L568.4,575.8 L569.2,575.1 L570.0,574.5 L570.8,574.0 L571.6,573.4 L572.4,572.9 L573.2,572.4 L574.0,571.9 L574.8,571.5 L575.5,571.0 L576.3,570.7 L577.1,570.3 L577.9,570.0 L578.7,569.7 L579.5,569.5 L580.3,569.3 L581.1,569.2 L581.9,569.2 L582.7,569.2 L583.5,569.3 L584.3,569.5 L585.1,569.7 L585.9,570.0 L586.6,570.3 L587.4,570.7 L588.2,571.1 L589.0,571.6 L589.8,572.0 L590.6,572.5 L591.4,573.0 L592.2,573.5 L593.0,574.0 L593.8,574.5 L594.6,575.0 L595.4,575.6 L596.2,576.2 L597.0,576.9 L597.7,577.6 L598.5,578.3 L599.3,579.1 L600.1,579.8 L600.9,580.6 L601.7,581.4 L602.5,581.9" fill="none" stroke="#008000" stroke-width="2.8" stroke-dasharray="2.8 3.3" stroke-linejoin="round"/>
<path d="M364.7,585.7 L365.5,584.5 L366.3,582.9 L367.1,581.2 L367.9,579.4 L368.7,577.7 L369.5,576.1 L370.2,574.5 L371.0,572.9 L371.8,571.4 L372.6,569.9 L373.4,568.5 L374.2,567.1 L375.0,565.7 L375.8,564.3 L376.6,562.9 L377.4,561.6 L378.2,560.4 L379.0,559.3 L379.8,558.3 L380.6,557.5 L381.3,556.8 L382.1,556.2 L382.9,555.6 L383.7,555.1 L384.5,554.6 L385.3,554.1 L386.1,553.7 L386.9,553.4 L387.7,553.1 L388.5,552.9 L389.3,552.8 L390.1,552.8 L390.9,553.0 L391.7,553.3 L392.4,553.8 L393.2,554.5 L394.0,555.2 L394.8,556.1 L395.6,557.0 L396.4,558.0 L397.2,559.0 L398.0,560.0 L398.8,561.1 L399.6,562.3 L400.4,563.6 L401.2,565.1 L402.0,566.6 L402.7,568.1 L403.5,569.7 L404.3,571.3 L405.1,572.8 L405.9,574.3 L406.7,575.7 L407.5,577.0 L408.3,578.4 L409.1,579.7 L409.9,581.0 L410.7,582.3 L411.5,583.6 L412.3,584.8 L413.1,585.9 L413.8,587.0 L414.6,587.9 L415.4,588.8 L416.2,589.6 L417.0,590.4 L417.8,591.2 L418.6,591.9 L419.4,592.6 L420.2,593.2 L421.0,593.8 L421.8,594.3 L422.6,594.7 L423.4,595.0 L424.1,595.3 L424.9,595.5 L425.7,595.7 L426.5,595.9 L427.3,596.0 L428.1,596.2 L428.9,596.2 L429.7,596.3 L430.5,596.3 L431.3,596.3 L432.1,596.2 L432.9,596.0 L433.7,595.8 L434.5,595.6 L435.2,595.3 L436.0,595.0 L436.8,594.7 L437.6,594.4 L438.4,594.1 L439.2,593.7 L440.0,593.4 L440.8,593.1 L441.6,592.8 L442.4,592.4 L443.2,592.0 L444.0,591.6 L444.8,591.2 L445.6,590.8 L446.3,590.3 L447.1,589.9 L447.9,589.4 L448.7,589.0 L449.5,588.6 L450.3,588.2 L451.1,587.9 L451.9,587.6 L452.7,587.3 L453.5,587.0 L454.3,586.7 L455.1,586.4 L455.9,586.2 L456.6,585.9 L457.4,585.7 L458.2,585.4 L459.0,585.2 L459.8,584.9 L460.6,584.7 L461.4,584.5 L462.2,584.2 L463.0,584.0 L463.8,583.7 L464.6,583.5 L465.4,583.2 L466.2,583.0 L467.0,582.7 L467.7,582.5 L468.5,582.2 L469.3,582.0 L470.1,581.8 L470.9,581.5 L471.7,581.3 L472.5,581.0 L473.3,580.7 L474.1,580.5 L474.9,580.2 L475.7,579.9 L476.5,579.7 L477.3,579.4 L478.1,579.2 L478.8,578.9 L479.6,578.7 L480.4,578.4 L481.2,578.2 L482.0,577.9 L482.8,577.6 L483.6,577.4 L484.4,577.1 L485.2,576.8 L486.0,576.4 L486.8,576.1 L487.6,575.7 L488.4,575.3 L489.1,574.9 L489.9,574.4 L490.7,573.9 L491.5,573.3 L492.3,572.5 L493.1,571.7 L493.9,570.7 L494.7,569.7 L495.5,568.6 L496.3,567.4 L497.1,566.2 L497.9,565.0 L498.7,563.7 L499.5,562.4 L500.2,561.0 L501.0,559.5 L501.8,558.0 L502.6,556.3 L503.4,554.7 L504.2,553.2 L505.0,551.7 L505.8,550.4 L506.6,549.4 L507.4,548.5 L508.2,547.7 L509.0,547.0 L509.8,546.4 L510.6,545.8 L511.3,545.2 L512.1,544.6 L512.9,544.1 L513.7,543.6 L514.5,543.1 L515.3,542.7 L516.1,542.3 L516.9,542.0 L517.7,541.8 L518.5,541.6 L519.3,541.5 L520.1,541.4 L520.9,541.4 L521.6,541.5 L522.4,541.7 L523.2,542.0 L524.0,542.4 L524.8,542.9 L525.6,543.4 L526.4,544.0 L527.2,544.7 L528.0,545.4 L528.8,546.1 L529.6,546.8 L530.4,547.6 L531.2,548.4 L532.0,549.4 L532.7,550.4 L533.5,551.7 L534.3,553.0 L535.1,554.4 L535.9,555.9 L536.7,557.4 L537.5,558.8 L538.3,560.2 L539.1,561.4 L539.9,562.6 L540.7,563.7 L541.5,564.7 L542.3,565.8 L543.0,566.8 L543.8,567.8 L544.6,568.7 L545.4,569.5 L546.2,570.3 L547.0,571.1 L547.8,571.8 L548.6,572.4 L549.4,573.0 L550.2,573.5 L551.0,574.0 L551.8,574.5 L552.6,575.0 L553.4,575.4 L554.1,575.8 L554.9,576.2 L555.7,576.6 L556.5,576.9 L557.3,577.2 L558.1,577.4 L558.9,577.7 L559.7,577.9 L560.5,578.1 L561.3,578.3 L562.1,578.5 L562.9,578.7 L563.7,578.9 L564.5,579.1 L565.2,579.2 L566.0,579.4 L566.8,579.6 L567.6,579.8 L568.4,580.0 L569.2,580.2 L570.0,580.4 L570.8,580.6 L571.6,580.7 L572.4,580.9 L573.2,581.1 L574.0,581.3 L574.8,581.5 L575.5,581.7 L576.3,581.9 L577.1,582.1 L577.9,582.3 L578.7,582.5 L579.5,582.7 L580.3,582.9 L581.1,583.1 L581.9,583.4 L582.7,583.6 L583.5,583.8 L584.3,584.1 L585.1,584.3 L585.9,584.6 L586.6,584.8 L587.4,585.1 L588.2,585.3 L589.0,585.6 L589.8,585.9 L590.6,586.1 L591.4,586.4 L592.2,586.7 L593.0,587.0 L593.8,587.3 L594.6,587.6 L595.4,587.9 L596.2,588.2 L597.0,588.5 L597.7,588.9 L598.5,589.2 L599.3,589.5 L600.1,589.9 L600.9,590.2 L601.7,590.5 L602.5,590.8" fill="none" stroke="#0000ff" stroke-width="2.8" stroke-dasharray="2.8 3.3" stroke-linejoin="round"/>
</g>
<line x1="364.70" x2="364.70" y1="599.85" y2="604.65" stroke="#000" stroke-width="1"/>
<text x="363.30" y="619.25" font-size="11.4" letter-spacing="0.45" text-anchor="middle">0.0</text>
<line x1="412.26" x2="412.26" y1="599.85" y2="604.65" stroke="#000" stroke-width="1"/>
<text x="410.86" y="619.25" font-size="11.4" letter-spacing="0.45" text-anchor="middle">0.2</text>
<line x1="459.82" x2="459.82" y1="599.85" y2="604.65" stroke="#000" stroke-width="1"/>
<text x="458.42" y="619.25" font-size="11.4" letter-spacing="0.45" text-anchor="middle">0.4</text>
<line x1="507.38" x2="507.38" y1="599.85" y2="604.65" stroke="#000" stroke-width="1"/>
<text x="505.98" y="619.25" font-size="11.4" letter-spacing="0.45" text-anchor="middle">0.6</text>
<line x1="554.94" x2="554.94" y1="599.85" y2="604.65" stroke="#000" stroke-width="1"/>
<text x="553.54" y="619.25" font-size="11.4" letter-spacing="0.45" text-anchor="middle">0.8</text>
<line x1="602.50" x2="602.50" y1="599.85" y2="604.65" stroke="#000" stroke-width="1"/>
<text x="601.10" y="619.25" font-size="11.4" letter-spacing="0.45" text-anchor="middle">1.0</text>
<line x1="359.90" x2="364.70" y1="599.85" y2="599.85" stroke="#000" stroke-width="1"/>
<text x="353.50" y="604.40" font-size="11.4" letter-spacing="0.45" text-anchor="end">0</text>
<line x1="359.90" x2="364.70" y1="572.88" y2="572.88" stroke="#000" stroke-width="1"/>
<text x="353.50" y="577.42" font-size="11.4" letter-spacing="0.45" text-anchor="end">1</text>
<line x1="359.90" x2="364.70" y1="545.90" y2="545.90" stroke="#000" stroke-width="1"/>
<text x="353.50" y="550.45" font-size="11.4" letter-spacing="0.45" text-anchor="end">2</text>
<line x1="359.90" x2="364.70" y1="518.92" y2="518.92" stroke="#000" stroke-width="1"/>
<text x="353.50" y="523.47" font-size="11.4" letter-spacing="0.45" text-anchor="end">3</text>
<line x1="359.90" x2="364.70" y1="491.95" y2="491.95" stroke="#000" stroke-width="1"/>
<text x="353.50" y="496.50" font-size="11.4" letter-spacing="0.45" text-anchor="end" fill="#999">4</text>
<rect x="364.70" y="491.95" width="237.80" height="107.90" fill="none" stroke="#000" stroke-width="1.25"/>
<text x="369.30" y="508.75" font-size="14.2" letter-spacing="0.55">HM <tspan font-weight="bold" letter-spacing="1.1">(d)</tspan></text>
<text transform="translate(337.20,546.80) rotate(-90)" font-size="14" text-anchor="middle" letter-spacing="0.3">Estimated PDF</text>
<text x="483.10" y="636.85" font-size="13.4" letter-spacing="0.2" text-anchor="middle"><tspan font-style="italic">η</tspan><tspan font-style="italic" font-size="9.8" dy="2.4">m</tspan></text>
<clipPath id="c04"><rect x="55.90" y="654.70" width="237.80" height="107.90"/></clipPath>
<g clip-path="url(#c04)">
<path d="M55.9,762.6 L56.4,762.6 L56.9,762.6 L57.4,762.6 L57.9,762.6 L58.4,762.6 L58.9,762.6 L59.4,762.6 L59.9,762.6 L60.4,762.6 L60.9,762.6 L61.3,762.6 L61.8,762.6 L62.3,762.6 L62.8,762.6 L63.3,762.6 L63.8,762.6 L64.3,762.6 L64.8,762.6 L65.3,762.6 L65.8,762.6 L66.3,762.6 L66.8,762.6 L67.3,762.6 L67.8,762.6 L68.3,762.6 L68.8,762.6 L69.3,762.6 L69.8,762.6 L70.3,762.6 L70.8,762.6 L71.3,762.6 L71.8,762.6 L72.2,762.6 L72.7,762.6 L73.2,762.6 L73.7,762.6 L74.2,762.6 L74.7,762.6 L75.2,762.6 L75.7,762.6 L76.2,762.6 L76.7,762.6 L77.2,762.6 L77.7,762.6 L78.2,762.6 L78.7,762.6 L79.2,762.6 L79.7,762.6 L80.2,762.6 L80.7,762.6 L81.2,762.6 L81.7,762.6 L82.2,762.6 L82.7,762.6 L83.1,762.6 L83.6,762.6 L84.1,762.6 L84.6,762.6 L85.1,762.6 L85.6,762.6 L86.1,762.6 L86.6,762.6 L87.1,762.6 L87.6,762.6 L88.1,762.6 L88.6,762.6 L89.1,762.6 L89.6,762.6 L90.1,762.6 L90.6,762.6 L91.1,762.6 L91.6,762.6 L92.1,762.6 L92.6,762.6 L93.1,762.6 L93.6,762.6 L94.0,762.6 L94.5,762.6 L95.0,762.6 L95.5,762.6 L96.0,762.6 L96.5,762.6 L97.0,762.6 L97.5,762.6 L98.0,762.6 L98.5,762.6 L99.0,762.6 L99.5,762.6 L100.0,762.6 L100.5,762.6 L101.0,762.6 L101.5,762.6 L102.0,762.6 L102.5,762.6 L103.0,762.6 L103.5,762.6 L104.0,762.6 L104.5,762.6 L104.9,762.6 L105.4,762.6 L105.9,762.6 L106.4,762.6 L106.9,762.6 L107.4,762.6 L107.9,762.6 L108.4,762.6 L108.9,762.6 L109.4,762.6 L109.9,762.6 L110.4,762.6 L110.9,762.6 L111.4,762.6 L111.9,762.6 L112.4,762.6 L112.9,762.6 L113.4,762.6 L113.9,762.6 L114.4,762.6 L114.9,762.6 L115.3,762.6 L115.8,762.6 L116.3,762.6 L116.8,762.6 L117.3,762.6 L117.8,762.6 L118.3,762.6 L118.8,762.6 L119.3,762.6 L119.8,762.6 L120.3,762.6 L120.8,762.6 L121.3,762.6 L121.8,762.6 L122.3,762.6 L122.8,762.6 L123.3,762.6 L123.8,762.6 L124.3,762.6 L124.8,762.6 L125.3,762.6 L125.8,762.6 L126.2,762.6 L126.7,762.6 L127.2,762.6 L127.7,762.6 L128.2,762.5 L128.7,762.5 L129.2,762.4 L129.7,762.3 L130.2,762.1 L130.7,762.0 L131.2,761.8 L131.7,761.6 L132.2,761.4 L132.7,761.1 L133.2,760.9 L133.7,760.5 L134.2,760.1 L134.7,759.5 L135.2,758.7 L135.7,757.7 L136.2,756.4 L136.7,755.0 L137.1,753.4 L137.6,751.7 L138.1,749.9 L138.6,748.0 L139.1,746.0 L139.6,744.0 L140.1,742.0 L140.6,740.1 L141.1,738.2 L141.6,736.3 L142.1,734.4 L142.6,732.5 L143.1,730.4 L143.6,728.4 L144.1,726.3 L144.6,724.2 L145.1,722.1 L145.6,720.1 L146.1,718.0 L146.6,715.9 L147.1,713.7 L147.6,711.5 L148.0,709.2 L148.5,707.1 L149.0,705.3 L149.5,703.9 L150.0,703.0 L150.5,702.8 L151.0,703.4 L151.5,704.6 L152.0,706.3 L152.5,708.5 L153.0,710.9 L153.5,713.4 L154.0,716.0 L154.5,718.4 L155.0,720.8 L155.5,723.3 L156.0,725.9 L156.5,728.5 L157.0,731.2 L157.5,733.7 L158.0,736.1 L158.5,738.2 L158.9,740.1 L159.4,741.7 L159.9,743.1 L160.4,744.4 L160.9,745.6 L161.4,746.8 L161.9,748.0 L162.4,749.0 L162.9,750.0 L163.4,750.9 L163.9,751.7 L164.4,752.3 L164.9,752.8 L165.4,753.0 L165.9,753.0 L166.4,752.4 L166.9,751.2 L167.4,749.1 L167.9,746.3 L168.4,743.0 L168.9,739.3 L169.4,735.1 L169.8,730.0 L170.3,724.0 L170.8,717.5 L171.3,711.1 L171.8,705.4 L172.3,700.6 L172.8,696.7 L173.3,693.5 L173.8,690.6 L174.3,688.1 L174.8,686.2 L175.3,684.8 L175.8,684.2 L176.3,684.5 L176.8,685.8 L177.3,687.9 L177.8,690.6 L178.3,693.5 L178.8,696.5 L179.3,699.4 L179.8,702.3 L180.2,705.2 L180.7,708.1 L181.2,710.7 L181.7,713.0 L182.2,714.9 L182.7,716.4 L183.2,717.6 L183.7,718.5 L184.2,719.4 L184.7,720.2 L185.2,721.2 L185.7,722.3 L186.2,723.5 L186.7,724.9 L187.2,726.5 L187.7,728.2 L188.2,730.0 L188.7,732.0 L189.2,734.2 L189.7,736.8 L190.2,739.7 L190.7,742.8 L191.1,745.8 L191.6,748.6 L192.1,751.1 L192.6,753.2 L193.1,755.2 L193.6,756.9 L194.1,758.4 L194.6,759.6 L195.1,760.4 L195.6,760.9 L196.1,761.2 L196.6,761.5 L197.1,761.7 L197.6,761.8 L198.1,762.0 L198.6,762.1 L199.1,762.2 L199.6,762.3 L200.1,762.4 L200.6,762.5 L201.1,762.5 L201.6,762.6 L202.0,762.6 L202.5,762.6 L203.0,762.6 L203.5,762.6 L204.0,762.6 L204.5,762.6 L205.0,762.6 L205.5,762.6 L206.0,762.6 L206.5,762.6 L207.0,762.6 L207.5,762.6 L208.0,762.6 L208.5,762.6 L209.0,762.6 L209.5,762.6 L210.0,762.6 L210.5,762.6 L211.0,762.6 L211.5,762.6 L212.0,762.6 L212.5,762.6 L212.9,762.6 L213.4,762.6 L213.9,762.6 L214.4,762.6 L214.9,762.6 L215.4,762.6 L215.9,762.6 L216.4,762.6 L216.9,762.6 L217.4,762.6 L217.9,762.6 L218.4,762.6 L218.9,762.6 L219.4,762.6 L219.9,762.6 L220.4,762.6 L220.9,762.6 L221.4,762.6 L221.9,762.6 L222.4,762.6 L222.9,762.6 L223.4,762.6 L223.8,762.6 L224.3,762.6 L224.8,762.6 L225.3,762.6 L225.8,762.6 L226.3,762.6 L226.8,762.6 L227.3,762.6 L227.8,762.6 L228.3,762.6 L228.8,762.6 L229.3,762.6 L229.8,762.6 L230.3,762.6 L230.8,762.6 L231.3,762.6 L231.8,762.6 L232.3,762.6 L232.8,762.6 L233.3,762.6 L233.8,762.6 L234.3,762.6 L234.7,762.6 L235.2,762.6 L235.7,762.6 L236.2,762.6 L236.7,762.6 L237.2,762.6 L237.7,762.6 L238.2,762.6 L238.7,762.6 L239.2,762.6 L239.7,762.6 L240.2,762.6 L240.7,762.6 L241.2,762.6 L241.7,762.6 L242.2,762.6 L242.7,762.6 L243.2,762.5 L243.7,762.5 L244.2,762.4 L244.7,762.3 L245.1,762.2 L245.6,762.1 L246.1,762.0 L246.6,761.9 L247.1,761.8 L247.6,761.7 L248.1,761.6 L248.6,761.4 L249.1,761.3 L249.6,761.2 L250.1,761.2 L250.6,761.1 L251.1,761.0 L251.6,761.0 L252.1,761.0 L252.6,761.0 L253.1,761.0 L253.6,761.1 L254.1,761.2 L254.6,761.2 L255.1,761.3 L255.6,761.4 L256.0,761.6 L256.5,761.7 L257.0,761.8 L257.5,761.9 L258.0,762.0 L258.5,762.1 L259.0,762.2 L259.5,762.3 L260.0,762.4 L260.5,762.5 L261.0,762.5 L261.5,762.6 L262.0,762.6 L262.5,762.6 L263.0,762.6 L263.5,762.6 L264.0,762.6 L264.5,762.6 L265.0,762.6 L265.5,762.6 L266.0,762.6 L266.5,762.6 L266.9,762.6 L267.4,762.6 L267.9,762.6 L268.4,762.6 L268.9,762.6 L269.4,762.6 L269.9,762.6 L270.4,762.6 L270.9,762.6 L271.4,762.6 L271.9,762.6 L272.4,762.6 L272.9,762.6 L273.4,762.6 L273.9,762.6 L274.4,762.6 L274.9,762.6 L275.4,762.6 L275.9,762.6 L276.4,762.6 L276.9,762.6 L277.4,762.6 L277.8,762.6 L278.3,762.6 L278.8,762.6 L279.3,762.6 L279.8,762.6 L280.3,762.6 L280.8,762.6 L281.3,762.6 L281.8,762.6 L282.3,762.6 L282.8,762.6 L283.3,762.6 L283.8,762.6 L284.3,762.6 L284.8,762.6 L285.3,762.6 L285.8,762.6 L286.3,762.6 L286.8,762.6 L287.3,762.6 L287.8,762.6 L288.3,762.6 L288.7,762.6 L289.2,762.6 L289.7,762.6 L290.2,762.6 L290.7,762.6 L291.2,762.6 L291.7,762.6 L292.2,762.6 L292.7,762.6 L293.2,762.6 L293.7,762.6 L293.70,762.60 L55.90,762.60 Z" fill="#ff0000" fill-opacity="0.5" stroke="none"/>
<path d="M55.9,762.6 L56.4,762.6 L56.9,762.6 L57.4,762.6 L57.9,762.6 L58.4,762.6 L58.9,762.6 L59.4,762.6 L59.9,762.6 L60.4,762.6 L60.9,762.6 L61.3,762.6 L61.8,762.6 L62.3,762.6 L62.8,762.6 L63.3,762.6 L63.8,762.6 L64.3,762.6 L64.8,762.6 L65.3,762.6 L65.8,762.6 L66.3,762.6 L66.8,762.6 L67.3,762.6 L67.8,762.6 L68.3,762.6 L68.8,762.6 L69.3,762.6 L69.8,762.6 L70.3,762.6 L70.8,762.6 L71.3,762.6 L71.8,762.6 L72.2,762.6 L72.7,762.6 L73.2,762.6 L73.7,762.6 L74.2,762.6 L74.7,762.6 L75.2,762.6 L75.7,762.6 L76.2,762.6 L76.7,762.6 L77.2,762.6 L77.7,762.6 L78.2,762.6 L78.7,762.6 L79.2,762.6 L79.7,762.6 L80.2,762.6 L80.7,762.6 L81.2,762.6 L81.7,762.6 L82.2,762.6 L82.7,762.6 L83.1,762.6 L83.6,762.6 L84.1,762.6 L84.6,762.6 L85.1,762.6 L85.6,762.6 L86.1,762.6 L86.6,762.6 L87.1,762.6 L87.6,762.6 L88.1,762.6 L88.6,762.6 L89.1,762.6 L89.6,762.6 L90.1,762.6 L90.6,762.6 L91.1,762.6 L91.6,762.6 L92.1,762.6 L92.6,762.6 L93.1,762.6 L93.6,762.6 L94.0,762.6 L94.5,762.6 L95.0,762.6 L95.5,762.6 L96.0,762.6 L96.5,762.6 L97.0,762.6 L97.5,762.6 L98.0,762.6 L98.5,762.6 L99.0,762.6 L99.5,762.6 L100.0,762.6 L100.5,762.6 L101.0,762.6 L101.5,762.6 L102.0,762.6 L102.5,762.6 L103.0,762.6 L103.5,762.6 L104.0,762.6 L104.5,762.6 L104.9,762.6 L105.4,762.6 L105.9,762.6 L106.4,762.6 L106.9,762.6 L107.4,762.6 L107.9,762.6 L108.4,762.6 L108.9,762.6 L109.4,762.6 L109.9,762.6 L110.4,762.6 L110.9,762.6 L111.4,762.6 L111.9,762.6 L112.4,762.6 L112.9,762.6 L113.4,762.6 L113.9,762.6 L114.4,762.6 L114.9,762.6 L115.3,762.6 L115.8,762.6 L116.3,762.6 L116.8,762.6 L117.3,762.6 L117.8,762.6 L118.3,762.6 L118.8,762.6 L119.3,762.6 L119.8,762.6 L120.3,762.6 L120.8,762.6 L121.3,762.6 L121.8,762.6 L122.3,762.6 L122.8,762.6 L123.3,762.6 L123.8,762.6 L124.3,762.6 L124.8,762.6 L125.3,762.6 L125.8,762.6 L126.2,762.5 L126.7,762.4 L127.2,762.3 L127.7,762.2 L128.2,762.1 L128.7,761.9 L129.2,761.7 L129.7,761.5 L130.2,761.2 L130.7,760.9 L131.2,760.6 L131.7,760.2 L132.2,759.6 L132.7,758.8 L133.2,757.8 L133.7,756.5 L134.2,755.1 L134.7,753.5 L135.2,751.8 L135.7,750.0 L136.2,748.2 L136.7,746.3 L137.1,744.5 L137.6,742.6 L138.1,740.8 L138.6,738.9 L139.1,736.9 L139.6,734.9 L140.1,732.8 L140.6,730.6 L141.1,728.3 L141.6,726.1 L142.1,723.8 L142.6,721.6 L143.1,719.5 L143.6,717.4 L144.1,715.3 L144.6,713.3 L145.1,711.4 L145.6,709.3 L146.1,707.2 L146.6,705.1 L147.1,703.0 L147.6,700.9 L148.0,699.0 L148.5,697.2 L149.0,695.7 L149.5,694.4 L150.0,693.5 L150.5,693.0 L151.0,693.0 L151.5,693.5 L152.0,694.6 L152.5,696.1 L153.0,698.1 L153.5,700.3 L154.0,702.7 L154.5,705.2 L155.0,707.8 L155.5,710.4 L156.0,713.1 L156.5,716.0 L157.0,719.1 L157.5,722.3 L158.0,725.5 L158.5,728.5 L158.9,731.3 L159.4,733.8 L159.9,736.2 L160.4,738.6 L160.9,740.9 L161.4,743.2 L161.9,745.3 L162.4,747.3 L162.9,749.0 L163.4,750.3 L163.9,751.3 L164.4,751.8 L164.9,751.9 L165.4,751.5 L165.9,750.8 L166.4,749.7 L166.9,748.3 L167.4,746.8 L167.9,745.1 L168.4,743.3 L168.9,741.2 L169.4,738.8 L169.8,736.1 L170.3,733.4 L170.8,730.8 L171.3,728.5 L171.8,726.6 L172.3,724.9 L172.8,723.4 L173.3,722.1 L173.8,721.1 L174.3,720.3 L174.8,719.8 L175.3,719.8 L175.8,720.1 L176.3,720.6 L176.8,721.4 L177.3,722.2 L177.8,723.1 L178.3,724.0 L178.8,724.8 L179.3,725.5 L179.8,726.0 L180.2,726.4 L180.7,726.7 L181.2,726.9 L181.7,727.2 L182.2,727.4 L182.7,727.7 L183.2,727.9 L183.7,728.2 L184.2,728.4 L184.7,728.6 L185.2,728.8 L185.7,729.1 L186.2,729.3 L186.7,729.7 L187.2,730.1 L187.7,730.7 L188.2,731.4 L188.7,732.5 L189.2,733.7 L189.7,735.2 L190.2,736.8 L190.7,738.7 L191.1,740.9 L191.6,743.4 L192.1,746.3 L192.6,749.1 L193.1,751.7 L193.6,753.9 L194.1,755.7 L194.6,757.2 L195.1,758.5 L195.6,759.5 L196.1,760.4 L196.6,761.0 L197.1,761.4 L197.6,761.7 L198.1,761.9 L198.6,762.0 L199.1,762.2 L199.6,762.3 L200.1,762.4 L200.6,762.4 L201.1,762.5 L201.6,762.6 L202.0,762.6 L202.5,762.6 L203.0,762.6 L203.5,762.6 L204.0,762.6 L204.5,762.6 L205.0,762.6 L205.5,762.6 L206.0,762.6 L206.5,762.6 L207.0,762.6 L207.5,762.6 L208.0,762.6 L208.5,762.6 L209.0,762.6 L209.5,762.6 L210.0,762.6 L210.5,762.6 L211.0,762.6 L211.5,762.6 L212.0,762.6 L212.5,762.6 L212.9,762.6 L213.4,762.6 L213.9,762.6 L214.4,762.6 L214.9,762.6 L215.4,762.6 L215.9,762.6 L216.4,762.6 L216.9,762.6 L217.4,762.6 L217.9,762.6 L218.4,762.6 L218.9,762.6 L219.4,762.6 L219.9,762.6 L220.4,762.6 L220.9,762.6 L221.4,762.6 L221.9,762.6 L222.4,762.6 L222.9,762.6 L223.4,762.6 L223.8,762.6 L224.3,762.6 L224.8,762.6 L225.3,762.6 L225.8,762.6 L226.3,762.6 L226.8,762.6 L227.3,762.6 L227.8,762.6 L228.3,762.6 L228.8,762.6 L229.3,762.6 L229.8,762.6 L230.3,762.6 L230.8,762.6 L231.3,762.6 L231.8,762.6 L232.3,762.6 L232.8,762.6 L233.3,762.6 L233.8,762.6 L234.3,762.6 L234.7,762.6 L235.2,762.6 L235.7,762.6 L236.2,762.6 L236.7,762.6 L237.2,762.6 L237.7,762.6 L238.2,762.6 L238.7,762.6 L239.2,762.6 L239.7,762.6 L240.2,762.6 L240.7,762.6 L241.2,762.6 L241.7,762.6 L242.2,762.6 L242.7,762.6 L243.2,762.5 L243.7,762.4 L244.2,762.3 L244.7,762.2 L245.1,762.0 L245.6,761.8 L246.1,761.6 L246.6,761.4 L247.1,761.3 L247.6,761.1 L248.1,760.9 L248.6,760.7 L249.1,760.5 L249.6,760.3 L250.1,760.2 L250.6,760.1 L251.1,760.0 L251.6,760.0 L252.1,759.9 L252.6,760.0 L253.1,760.0 L253.6,760.1 L254.1,760.2 L254.6,760.3 L255.1,760.5 L255.6,760.7 L256.0,760.9 L256.5,761.1 L257.0,761.3 L257.5,761.4 L258.0,761.6 L258.5,761.8 L259.0,762.0 L259.5,762.2 L260.0,762.3 L260.5,762.4 L261.0,762.5 L261.5,762.6 L262.0,762.6 L262.5,762.6 L263.0,762.6 L263.5,762.6 L264.0,762.6 L264.5,762.6 L265.0,762.6 L265.5,762.6 L266.0,762.6 L266.5,762.6 L266.9,762.6 L267.4,762.6 L267.9,762.6 L268.4,762.6 L268.9,762.6 L269.4,762.6 L269.9,762.6 L270.4,762.6 L270.9,762.6 L271.4,762.6 L271.9,762.6 L272.4,762.6 L272.9,762.6 L273.4,762.6 L273.9,762.6 L274.4,762.6 L274.9,762.6 L275.4,762.6 L275.9,762.6 L276.4,762.6 L276.9,762.6 L277.4,762.6 L277.8,762.6 L278.3,762.6 L278.8,762.6 L279.3,762.6 L279.8,762.6 L280.3,762.6 L280.8,762.6 L281.3,762.6 L281.8,762.6 L282.3,762.6 L282.8,762.6 L283.3,762.6 L283.8,762.6 L284.3,762.6 L284.8,762.6 L285.3,762.6 L285.8,762.6 L286.3,762.6 L286.8,762.6 L287.3,762.6 L287.8,762.6 L288.3,762.6 L288.7,762.6 L289.2,762.6 L289.7,762.6 L290.2,762.6 L290.7,762.6 L291.2,762.6 L291.7,762.6 L292.2,762.6 L292.7,762.6 L293.2,762.6 L293.7,762.6 L293.70,762.60 L55.90,762.60 Z" fill="#008000" fill-opacity="0.5" stroke="none"/>
<path d="M55.9,762.6 L56.4,762.6 L56.9,762.6 L57.4,762.6 L57.9,762.6 L58.4,762.6 L58.9,762.6 L59.4,762.6 L59.9,762.6 L60.4,762.6 L60.9,762.6 L61.3,762.6 L61.8,762.6 L62.3,762.6 L62.8,762.6 L63.3,762.6 L63.8,762.6 L64.3,762.6 L64.8,762.6 L65.3,762.6 L65.8,762.6 L66.3,762.6 L66.8,762.6 L67.3,762.6 L67.8,762.6 L68.3,762.6 L68.8,762.6 L69.3,762.6 L69.8,762.6 L70.3,762.6 L70.8,762.6 L71.3,762.6 L71.8,762.6 L72.2,762.6 L72.7,762.6 L73.2,762.6 L73.7,762.6 L74.2,762.6 L74.7,762.6 L75.2,762.6 L75.7,762.6 L76.2,762.6 L76.7,762.6 L77.2,762.6 L77.7,762.6 L78.2,762.6 L78.7,762.6 L79.2,762.6 L79.7,762.6 L80.2,762.6 L80.7,762.6 L81.2,762.6 L81.7,762.6 L82.2,762.6 L82.7,762.6 L83.1,762.6 L83.6,762.6 L84.1,762.6 L84.6,762.6 L85.1,762.6 L85.6,762.6 L86.1,762.6 L86.6,762.6 L87.1,762.6 L87.6,762.6 L88.1,762.6 L88.6,762.6 L89.1,762.6 L89.6,762.6 L90.1,762.6 L90.6,762.6 L91.1,762.6 L91.6,762.6 L92.1,762.6 L92.6,762.6 L93.1,762.6 L93.6,762.6 L94.0,762.6 L94.5,762.6 L95.0,762.6 L95.5,762.6 L96.0,762.6 L96.5,762.6 L97.0,762.6 L97.5,762.6 L98.0,762.6 L98.5,762.6 L99.0,762.6 L99.5,762.6 L100.0,762.6 L100.5,762.6 L101.0,762.6 L101.5,762.6 L102.0,762.6 L102.5,762.6 L103.0,762.6 L103.5,762.6 L104.0,762.6 L104.5,762.6 L104.9,762.6 L105.4,762.6 L105.9,762.6 L106.4,762.6 L106.9,762.6 L107.4,762.6 L107.9,762.6 L108.4,762.6 L108.9,762.6 L109.4,762.6 L109.9,762.6 L110.4,762.6 L110.9,762.6 L111.4,762.6 L111.9,762.6 L112.4,762.6 L112.9,762.6 L113.4,762.6 L113.9,762.6 L114.4,762.6 L114.9,762.6 L115.3,762.6 L115.8,762.6 L116.3,762.6 L116.8,762.6 L117.3,762.6 L117.8,762.6 L118.3,762.6 L118.8,762.6 L119.3,762.6 L119.8,762.6 L120.3,762.6 L120.8,762.6 L121.3,762.6 L121.8,762.6 L122.3,762.6 L122.8,762.6 L123.3,762.6 L123.8,762.6 L124.3,762.6 L124.8,762.6 L125.3,762.6 L125.8,762.6 L126.2,762.6 L126.7,762.6 L127.2,762.6 L127.7,762.6 L128.2,762.5 L128.7,762.4 L129.2,762.3 L129.7,762.1 L130.2,762.0 L130.7,761.7 L131.2,761.5 L131.7,761.3 L132.2,761.0 L132.7,760.7 L133.2,760.4 L133.7,759.9 L134.2,759.4 L134.7,758.7 L135.2,758.0 L135.7,757.1 L136.2,756.1 L136.7,755.0 L137.1,753.9 L137.6,752.7 L138.1,751.5 L138.6,750.2 L139.1,749.0 L139.6,747.7 L140.1,746.3 L140.6,744.9 L141.1,743.3 L141.6,741.6 L142.1,739.9 L142.6,738.1 L143.1,736.4 L143.6,734.9 L144.1,733.4 L144.6,732.2 L145.1,731.0 L145.6,730.0 L146.1,729.0 L146.6,728.0 L147.1,727.1 L147.6,726.3 L148.0,725.7 L148.5,725.3 L149.0,725.1 L149.5,725.2 L150.0,725.6 L150.5,726.3 L151.0,727.2 L151.5,728.4 L152.0,729.6 L152.5,731.0 L153.0,732.4 L153.5,733.7 L154.0,735.1 L154.5,736.5 L155.0,738.0 L155.5,739.6 L156.0,741.2 L156.5,742.8 L157.0,744.3 L157.5,745.8 L158.0,747.1 L158.5,748.3 L158.9,749.3 L159.4,750.4 L159.9,751.4 L160.4,752.3 L160.9,753.2 L161.4,754.1 L161.9,754.8 L162.4,755.5 L162.9,756.0 L163.4,756.3 L163.9,756.4 L164.4,756.1 L164.9,755.5 L165.4,754.3 L165.9,752.8 L166.4,750.8 L166.9,748.6 L167.4,745.9 L167.9,742.5 L168.4,738.2 L168.9,733.0 L169.4,727.2 L169.8,721.4 L170.3,715.6 L170.8,710.0 L171.3,704.6 L171.8,699.7 L172.3,695.4 L172.8,691.7 L173.3,688.5 L173.8,685.6 L174.3,683.0 L174.8,680.9 L175.3,679.5 L175.8,678.8 L176.3,679.1 L176.8,680.3 L177.3,682.4 L177.8,684.9 L178.3,687.7 L178.8,690.3 L179.3,692.7 L179.8,694.8 L180.2,696.8 L180.7,698.7 L181.2,700.2 L181.7,701.5 L182.2,702.4 L182.7,703.1 L183.2,703.6 L183.7,704.0 L184.2,704.4 L184.7,704.8 L185.2,705.4 L185.7,706.3 L186.2,707.5 L186.7,709.0 L187.2,711.0 L187.7,713.3 L188.2,715.8 L188.7,718.5 L189.2,721.4 L189.7,724.6 L190.2,728.0 L190.7,731.7 L191.1,735.5 L191.6,739.0 L192.1,742.4 L192.6,745.5 L193.1,748.4 L193.6,751.2 L194.1,753.7 L194.6,755.7 L195.1,757.2 L195.6,758.3 L196.1,759.0 L196.6,759.5 L197.1,760.0 L197.6,760.5 L198.1,760.9 L198.6,761.2 L199.1,761.5 L199.6,761.8 L200.1,762.0 L200.6,762.2 L201.1,762.4 L201.6,762.5 L202.0,762.5 L202.5,762.6 L203.0,762.6 L203.5,762.6 L204.0,762.6 L204.5,762.6 L205.0,762.6 L205.5,762.6 L206.0,762.6 L206.5,762.6 L207.0,762.6 L207.5,762.6 L208.0,762.6 L208.5,762.6 L209.0,762.6 L209.5,762.6 L210.0,762.6 L210.5,762.6 L211.0,762.6 L211.5,762.6 L212.0,762.6 L212.5,762.6 L212.9,762.6 L213.4,762.6 L213.9,762.6 L214.4,762.6 L214.9,762.6 L215.4,762.6 L215.9,762.6 L216.4,762.6 L216.9,762.6 L217.4,762.6 L217.9,762.6 L218.4,762.6 L218.9,762.6 L219.4,762.6 L219.9,762.6 L220.4,762.6 L220.9,762.6 L221.4,762.6 L221.9,762.6 L222.4,762.6 L222.9,762.6 L223.4,762.6 L223.8,762.6 L224.3,762.6 L224.8,762.6 L225.3,762.6 L225.8,762.6 L226.3,762.6 L226.8,762.6 L227.3,762.6 L227.8,762.6 L228.3,762.6 L228.8,762.6 L229.3,762.6 L229.8,762.6 L230.3,762.6 L230.8,762.6 L231.3,762.6 L231.8,762.6 L232.3,762.6 L232.8,762.6 L233.3,762.6 L233.8,762.6 L234.3,762.6 L234.7,762.6 L235.2,762.6 L235.7,762.6 L236.2,762.6 L236.7,762.6 L237.2,762.6 L237.7,762.6 L238.2,762.6 L238.7,762.6 L239.2,762.6 L239.7,762.6 L240.2,762.6 L240.7,762.6 L241.2,762.6 L241.7,762.6 L242.2,762.6 L242.7,762.6 L243.2,762.5 L243.7,762.4 L244.2,762.4 L244.7,762.2 L245.1,762.1 L245.6,762.0 L246.1,761.8 L246.6,761.7 L247.1,761.5 L247.6,761.4 L248.1,761.2 L248.6,761.1 L249.1,760.9 L249.6,760.8 L250.1,760.7 L250.6,760.6 L251.1,760.5 L251.6,760.5 L252.1,760.5 L252.6,760.5 L253.1,760.5 L253.6,760.6 L254.1,760.7 L254.6,760.8 L255.1,760.9 L255.6,761.1 L256.0,761.2 L256.5,761.4 L257.0,761.5 L257.5,761.7 L258.0,761.8 L258.5,762.0 L259.0,762.1 L259.5,762.2 L260.0,762.4 L260.5,762.4 L261.0,762.5 L261.5,762.6 L262.0,762.6 L262.5,762.6 L263.0,762.6 L263.5,762.6 L264.0,762.6 L264.5,762.6 L265.0,762.6 L265.5,762.6 L266.0,762.6 L266.5,762.6 L266.9,762.6 L267.4,762.6 L267.9,762.6 L268.4,762.6 L268.9,762.6 L269.4,762.6 L269.9,762.6 L270.4,762.6 L270.9,762.6 L271.4,762.6 L271.9,762.6 L272.4,762.6 L272.9,762.6 L273.4,762.6 L273.9,762.6 L274.4,762.6 L274.9,762.6 L275.4,762.6 L275.9,762.6 L276.4,762.6 L276.9,762.6 L277.4,762.6 L277.8,762.6 L278.3,762.6 L278.8,762.6 L279.3,762.6 L279.8,762.6 L280.3,762.6 L280.8,762.6 L281.3,762.6 L281.8,762.6 L282.3,762.6 L282.8,762.6 L283.3,762.6 L283.8,762.6 L284.3,762.6 L284.8,762.6 L285.3,762.6 L285.8,762.6 L286.3,762.6 L286.8,762.6 L287.3,762.6 L287.8,762.6 L288.3,762.6 L288.7,762.6 L289.2,762.6 L289.7,762.6 L290.2,762.6 L290.7,762.6 L291.2,762.6 L291.7,762.6 L292.2,762.6 L292.7,762.6 L293.2,762.6 L293.7,762.6 L293.70,762.60 L55.90,762.60 Z" fill="#0000ff" fill-opacity="0.5" stroke="none"/>
<line x1="55.90" x2="55.90" y1="654.70" y2="762.60" stroke="#b0b0b0" stroke-width="1.25"/>
<line x1="135.17" x2="135.17" y1="654.70" y2="762.60" stroke="#b0b0b0" stroke-width="1.25"/>
<line x1="214.43" x2="214.43" y1="654.70" y2="762.60" stroke="#b0b0b0" stroke-width="1.25"/>
<line x1="293.70" x2="293.70" y1="654.70" y2="762.60" stroke="#b0b0b0" stroke-width="1.25"/>
<line x1="55.90" x2="293.70" y1="762.60" y2="762.60" stroke="#b0b0b0" stroke-width="1.25"/>
<line x1="55.90" x2="293.70" y1="735.62" y2="735.62" stroke="#b0b0b0" stroke-width="1.25"/>
<line x1="55.90" x2="293.70" y1="708.65" y2="708.65" stroke="#b0b0b0" stroke-width="1.25"/>
<line x1="55.90" x2="293.70" y1="681.68" y2="681.68" stroke="#b0b0b0" stroke-width="1.25"/>
<line x1="55.90" x2="293.70" y1="654.70" y2="654.70" stroke="#b0b0b0" stroke-width="1.25"/>
<path d="M55.9,762.6 L56.4,762.6 L56.9,762.6 L57.4,762.6 L57.9,762.6 L58.4,762.6 L58.9,762.6 L59.4,762.6 L59.9,762.6 L60.4,762.6 L60.9,762.6 L61.3,762.6 L61.8,762.6 L62.3,762.6 L62.8,762.6 L63.3,762.6 L63.8,762.6 L64.3,762.6 L64.8,762.6 L65.3,762.6 L65.8,762.6 L66.3,762.6 L66.8,762.6 L67.3,762.6 L67.8,762.6 L68.3,762.6 L68.8,762.6 L69.3,762.6 L69.8,762.6 L70.3,762.6 L70.8,762.6 L71.3,762.6 L71.8,762.6 L72.2,762.6 L72.7,762.6 L73.2,762.6 L73.7,762.6 L74.2,762.6 L74.7,762.6 L75.2,762.6 L75.7,762.6 L76.2,762.6 L76.7,762.6 L77.2,762.6 L77.7,762.6 L78.2,762.6 L78.7,762.6 L79.2,762.6 L79.7,762.6 L80.2,762.6 L80.7,762.6 L81.2,762.6 L81.7,762.6 L82.2,762.6 L82.7,762.6 L83.1,762.6 L83.6,762.6 L84.1,762.6 L84.6,762.6 L85.1,762.6 L85.6,762.6 L86.1,762.6 L86.6,762.6 L87.1,762.6 L87.6,762.6 L88.1,762.6 L88.6,762.6 L89.1,762.6 L89.6,762.6 L90.1,762.6 L90.6,762.6 L91.1,762.6 L91.6,762.6 L92.1,762.6 L92.6,762.6 L93.1,762.6 L93.6,762.6 L94.0,762.6 L94.5,762.6 L95.0,762.6 L95.5,762.6 L96.0,762.6 L96.5,762.6 L97.0,762.6 L97.5,762.6 L98.0,762.6 L98.5,762.6 L99.0,762.6 L99.5,762.6 L100.0,762.6 L100.5,762.6 L101.0,762.6 L101.5,762.6 L102.0,762.6 L102.5,762.6 L103.0,762.6 L103.5,762.6 L104.0,762.6 L104.5,762.6 L104.9,762.6 L105.4,762.6 L105.9,762.6 L106.4,762.6 L106.9,762.6 L107.4,762.6 L107.9,762.6 L108.4,762.6 L108.9,762.6 L109.4,762.6 L109.9,762.6 L110.4,762.6 L110.9,762.6 L111.4,762.6 L111.9,762.6 L112.4,762.6 L112.9,762.6 L113.4,762.6 L113.9,762.6 L114.4,762.6 L114.9,762.6 L115.3,762.6 L115.8,762.6 L116.3,762.6 L116.8,762.6 L117.3,762.6 L117.8,762.6 L118.3,762.6 L118.8,762.6 L119.3,762.6 L119.8,762.6 L120.3,762.6 L120.8,762.6 L121.3,762.6 L121.8,762.6 L122.3,762.6 L122.8,762.6 L123.3,762.6 L123.8,762.6 L124.3,762.6 L124.8,762.6 L125.3,762.6 L125.8,762.6 L126.2,762.6 L126.7,762.6 L127.2,762.6 L127.7,762.6 L128.2,762.5 L128.7,762.5 L129.2,762.4 L129.7,762.3 L130.2,762.1 L130.7,762.0 L131.2,761.8 L131.7,761.6 L132.2,761.4 L132.7,761.1 L133.2,760.9 L133.7,760.5 L134.2,760.1 L134.7,759.5 L135.2,758.7 L135.7,757.7 L136.2,756.4 L136.7,755.0 L137.1,753.4 L137.6,751.7 L138.1,749.9 L138.6,748.0 L139.1,746.0 L139.6,744.0 L140.1,742.0 L140.6,740.1 L141.1,738.2 L141.6,736.3 L142.1,734.4 L142.6,732.5 L143.1,730.4 L143.6,728.4 L144.1,726.3 L144.6,724.2 L145.1,722.1 L145.6,720.1 L146.1,718.0 L146.6,715.9 L147.1,713.7 L147.6,711.5 L148.0,709.2 L148.5,707.1 L149.0,705.3 L149.5,703.9 L150.0,703.0 L150.5,702.8 L151.0,703.4 L151.5,704.6 L152.0,706.3 L152.5,708.5 L153.0,710.9 L153.5,713.4 L154.0,716.0 L154.5,718.4 L155.0,720.8 L155.5,723.3 L156.0,725.9 L156.5,728.5 L157.0,731.2 L157.5,733.7 L158.0,736.1 L158.5,738.2 L158.9,740.1 L159.4,741.7 L159.9,743.1 L160.4,744.4 L160.9,745.6 L161.4,746.8 L161.9,748.0 L162.4,749.0 L162.9,750.0 L163.4,750.9 L163.9,751.7 L164.4,752.3 L164.9,752.8 L165.4,753.0 L165.9,753.0 L166.4,752.4 L166.9,751.2 L167.4,749.1 L167.9,746.3 L168.4,743.0 L168.9,739.3 L169.4,735.1 L169.8,730.0 L170.3,724.0 L170.8,717.5 L171.3,711.1 L171.8,705.4 L172.3,700.6 L172.8,696.7 L173.3,693.5 L173.8,690.6 L174.3,688.1 L174.8,686.2 L175.3,684.8 L175.8,684.2 L176.3,684.5 L176.8,685.8 L177.3,687.9 L177.8,690.6 L178.3,693.5 L178.8,696.5 L179.3,699.4 L179.8,702.3 L180.2,705.2 L180.7,708.1 L181.2,710.7 L181.7,713.0 L182.2,714.9 L182.7,716.4 L183.2,717.6 L183.7,718.5 L184.2,719.4 L184.7,720.2 L185.2,721.2 L185.7,722.3 L186.2,723.5 L186.7,724.9 L187.2,726.5 L187.7,728.2 L188.2,730.0 L188.7,732.0 L189.2,734.2 L189.7,736.8 L190.2,739.7 L190.7,742.8 L191.1,745.8 L191.6,748.6 L192.1,751.1 L192.6,753.2 L193.1,755.2 L193.6,756.9 L194.1,758.4 L194.6,759.6 L195.1,760.4 L195.6,760.9 L196.1,761.2 L196.6,761.5 L197.1,761.7 L197.6,761.8 L198.1,762.0 L198.6,762.1 L199.1,762.2 L199.6,762.3 L200.1,762.4 L200.6,762.5 L201.1,762.5 L201.6,762.6 L202.0,762.6 L202.5,762.6 L203.0,762.6 L203.5,762.6 L204.0,762.6 L204.5,762.6 L205.0,762.6 L205.5,762.6 L206.0,762.6 L206.5,762.6 L207.0,762.6 L207.5,762.6 L208.0,762.6 L208.5,762.6 L209.0,762.6 L209.5,762.6 L210.0,762.6 L210.5,762.6 L211.0,762.6 L211.5,762.6 L212.0,762.6 L212.5,762.6 L212.9,762.6 L213.4,762.6 L213.9,762.6 L214.4,762.6 L214.9,762.6 L215.4,762.6 L215.9,762.6 L216.4,762.6 L216.9,762.6 L217.4,762.6 L217.9,762.6 L218.4,762.6 L218.9,762.6 L219.4,762.6 L219.9,762.6 L220.4,762.6 L220.9,762.6 L221.4,762.6 L221.9,762.6 L222.4,762.6 L222.9,762.6 L223.4,762.6 L223.8,762.6 L224.3,762.6 L224.8,762.6 L225.3,762.6 L225.8,762.6 L226.3,762.6 L226.8,762.6 L227.3,762.6 L227.8,762.6 L228.3,762.6 L228.8,762.6 L229.3,762.6 L229.8,762.6 L230.3,762.6 L230.8,762.6 L231.3,762.6 L231.8,762.6 L232.3,762.6 L232.8,762.6 L233.3,762.6 L233.8,762.6 L234.3,762.6 L234.7,762.6 L235.2,762.6 L235.7,762.6 L236.2,762.6 L236.7,762.6 L237.2,762.6 L237.7,762.6 L238.2,762.6 L238.7,762.6 L239.2,762.6 L239.7,762.6 L240.2,762.6 L240.7,762.6 L241.2,762.6 L241.7,762.6 L242.2,762.6 L242.7,762.6 L243.2,762.5 L243.7,762.5 L244.2,762.4 L244.7,762.3 L245.1,762.2 L245.6,762.1 L246.1,762.0 L246.6,761.9 L247.1,761.8 L247.6,761.7 L248.1,761.6 L248.6,761.4 L249.1,761.3 L249.6,761.2 L250.1,761.2 L250.6,761.1 L251.1,761.0 L251.6,761.0 L252.1,761.0 L252.6,761.0 L253.1,761.0 L253.6,761.1 L254.1,761.2 L254.6,761.2 L255.1,761.3 L255.6,761.4 L256.0,761.6 L256.5,761.7 L257.0,761.8 L257.5,761.9 L258.0,762.0 L258.5,762.1 L259.0,762.2 L259.5,762.3 L260.0,762.4 L260.5,762.5 L261.0,762.5 L261.5,762.6 L262.0,762.6 L262.5,762.6 L263.0,762.6 L263.5,762.6 L264.0,762.6 L264.5,762.6 L265.0,762.6 L265.5,762.6 L266.0,762.6 L266.5,762.6 L266.9,762.6 L267.4,762.6 L267.9,762.6 L268.4,762.6 L268.9,762.6 L269.4,762.6 L269.9,762.6 L270.4,762.6 L270.9,762.6 L271.4,762.6 L271.9,762.6 L272.4,762.6 L272.9,762.6 L273.4,762.6 L273.9,762.6 L274.4,762.6 L274.9,762.6 L275.4,762.6 L275.9,762.6 L276.4,762.6 L276.9,762.6 L277.4,762.6 L277.8,762.6 L278.3,762.6 L278.8,762.6 L279.3,762.6 L279.8,762.6 L280.3,762.6 L280.8,762.6 L281.3,762.6 L281.8,762.6 L282.3,762.6 L282.8,762.6 L283.3,762.6 L283.8,762.6 L284.3,762.6 L284.8,762.6 L285.3,762.6 L285.8,762.6 L286.3,762.6 L286.8,762.6 L287.3,762.6 L287.8,762.6 L288.3,762.6 L288.7,762.6 L289.2,762.6 L289.7,762.6 L290.2,762.6 L290.7,762.6 L291.2,762.6 L291.7,762.6 L292.2,762.6 L292.7,762.6 L293.2,762.6 L293.7,762.6" fill="none" stroke="#ff0000" stroke-width="2.8" stroke-dasharray="2.8 3.3" stroke-linejoin="round"/>
<path d="M55.9,762.6 L56.4,762.6 L56.9,762.6 L57.4,762.6 L57.9,762.6 L58.4,762.6 L58.9,762.6 L59.4,762.6 L59.9,762.6 L60.4,762.6 L60.9,762.6 L61.3,762.6 L61.8,762.6 L62.3,762.6 L62.8,762.6 L63.3,762.6 L63.8,762.6 L64.3,762.6 L64.8,762.6 L65.3,762.6 L65.8,762.6 L66.3,762.6 L66.8,762.6 L67.3,762.6 L67.8,762.6 L68.3,762.6 L68.8,762.6 L69.3,762.6 L69.8,762.6 L70.3,762.6 L70.8,762.6 L71.3,762.6 L71.8,762.6 L72.2,762.6 L72.7,762.6 L73.2,762.6 L73.7,762.6 L74.2,762.6 L74.7,762.6 L75.2,762.6 L75.7,762.6 L76.2,762.6 L76.7,762.6 L77.2,762.6 L77.7,762.6 L78.2,762.6 L78.7,762.6 L79.2,762.6 L79.7,762.6 L80.2,762.6 L80.7,762.6 L81.2,762.6 L81.7,762.6 L82.2,762.6 L82.7,762.6 L83.1,762.6 L83.6,762.6 L84.1,762.6 L84.6,762.6 L85.1,762.6 L85.6,762.6 L86.1,762.6 L86.6,762.6 L87.1,762.6 L87.6,762.6 L88.1,762.6 L88.6,762.6 L89.1,762.6 L89.6,762.6 L90.1,762.6 L90.6,762.6 L91.1,762.6 L91.6,762.6 L92.1,762.6 L92.6,762.6 L93.1,762.6 L93.6,762.6 L94.0,762.6 L94.5,762.6 L95.0,762.6 L95.5,762.6 L96.0,762.6 L96.5,762.6 L97.0,762.6 L97.5,762.6 L98.0,762.6 L98.5,762.6 L99.0,762.6 L99.5,762.6 L100.0,762.6 L100.5,762.6 L101.0,762.6 L101.5,762.6 L102.0,762.6 L102.5,762.6 L103.0,762.6 L103.5,762.6 L104.0,762.6 L104.5,762.6 L104.9,762.6 L105.4,762.6 L105.9,762.6 L106.4,762.6 L106.9,762.6 L107.4,762.6 L107.9,762.6 L108.4,762.6 L108.9,762.6 L109.4,762.6 L109.9,762.6 L110.4,762.6 L110.9,762.6 L111.4,762.6 L111.9,762.6 L112.4,762.6 L112.9,762.6 L113.4,762.6 L113.9,762.6 L114.4,762.6 L114.9,762.6 L115.3,762.6 L115.8,762.6 L116.3,762.6 L116.8,762.6 L117.3,762.6 L117.8,762.6 L118.3,762.6 L118.8,762.6 L119.3,762.6 L119.8,762.6 L120.3,762.6 L120.8,762.6 L121.3,762.6 L121.8,762.6 L122.3,762.6 L122.8,762.6 L123.3,762.6 L123.8,762.6 L124.3,762.6 L124.8,762.6 L125.3,762.6 L125.8,762.6 L126.2,762.5 L126.7,762.4 L127.2,762.3 L127.7,762.2 L128.2,762.1 L128.7,761.9 L129.2,761.7 L129.7,761.5 L130.2,761.2 L130.7,760.9 L131.2,760.6 L131.7,760.2 L132.2,759.6 L132.7,758.8 L133.2,757.8 L133.7,756.5 L134.2,755.1 L134.7,753.5 L135.2,751.8 L135.7,750.0 L136.2,748.2 L136.7,746.3 L137.1,744.5 L137.6,742.6 L138.1,740.8 L138.6,738.9 L139.1,736.9 L139.6,734.9 L140.1,732.8 L140.6,730.6 L141.1,728.3 L141.6,726.1 L142.1,723.8 L142.6,721.6 L143.1,719.5 L143.6,717.4 L144.1,715.3 L144.6,713.3 L145.1,711.4 L145.6,709.3 L146.1,707.2 L146.6,705.1 L147.1,703.0 L147.6,700.9 L148.0,699.0 L148.5,697.2 L149.0,695.7 L149.5,694.4 L150.0,693.5 L150.5,693.0 L151.0,693.0 L151.5,693.5 L152.0,694.6 L152.5,696.1 L153.0,698.1 L153.5,700.3 L154.0,702.7 L154.5,705.2 L155.0,707.8 L155.5,710.4 L156.0,713.1 L156.5,716.0 L157.0,719.1 L157.5,722.3 L158.0,725.5 L158.5,728.5 L158.9,731.3 L159.4,733.8 L159.9,736.2 L160.4,738.6 L160.9,740.9 L161.4,743.2 L161.9,745.3 L162.4,747.3 L162.9,749.0 L163.4,750.3 L163.9,751.3 L164.4,751.8 L164.9,751.9 L165.4,751.5 L165.9,750.8 L166.4,749.7 L166.9,748.3 L167.4,746.8 L167.9,745.1 L168.4,743.3 L168.9,741.2 L169.4,738.8 L169.8,736.1 L170.3,733.4 L170.8,730.8 L171.3,728.5 L171.8,726.6 L172.3,724.9 L172.8,723.4 L173.3,722.1 L173.8,721.1 L174.3,720.3 L174.8,719.8 L175.3,719.8 L175.8,720.1 L176.3,720.6 L176.8,721.4 L177.3,722.2 L177.8,723.1 L178.3,724.0 L178.8,724.8 L179.3,725.5 L179.8,726.0 L180.2,726.4 L180.7,726.7 L181.2,726.9 L181.7,727.2 L182.2,727.4 L182.7,727.7 L183.2,727.9 L183.7,728.2 L184.2,728.4 L184.7,728.6 L185.2,728.8 L185.7,729.1 L186.2,729.3 L186.7,729.7 L187.2,730.1 L187.7,730.7 L188.2,731.4 L188.7,732.5 L189.2,733.7 L189.7,735.2 L190.2,736.8 L190.7,738.7 L191.1,740.9 L191.6,743.4 L192.1,746.3 L192.6,749.1 L193.1,751.7 L193.6,753.9 L194.1,755.7 L194.6,757.2 L195.1,758.5 L195.6,759.5 L196.1,760.4 L196.6,761.0 L197.1,761.4 L197.6,761.7 L198.1,761.9 L198.6,762.0 L199.1,762.2 L199.6,762.3 L200.1,762.4 L200.6,762.4 L201.1,762.5 L201.6,762.6 L202.0,762.6 L202.5,762.6 L203.0,762.6 L203.5,762.6 L204.0,762.6 L204.5,762.6 L205.0,762.6 L205.5,762.6 L206.0,762.6 L206.5,762.6 L207.0,762.6 L207.5,762.6 L208.0,762.6 L208.5,762.6 L209.0,762.6 L209.5,762.6 L210.0,762.6 L210.5,762.6 L211.0,762.6 L211.5,762.6 L212.0,762.6 L212.5,762.6 L212.9,762.6 L213.4,762.6 L213.9,762.6 L214.4,762.6 L214.9,762.6 L215.4,762.6 L215.9,762.6 L216.4,762.6 L216.9,762.6 L217.4,762.6 L217.9,762.6 L218.4,762.6 L218.9,762.6 L219.4,762.6 L219.9,762.6 L220.4,762.6 L220.9,762.6 L221.4,762.6 L221.9,762.6 L222.4,762.6 L222.9,762.6 L223.4,762.6 L223.8,762.6 L224.3,762.6 L224.8,762.6 L225.3,762.6 L225.8,762.6 L226.3,762.6 L226.8,762.6 L227.3,762.6 L227.8,762.6 L228.3,762.6 L228.8,762.6 L229.3,762.6 L229.8,762.6 L230.3,762.6 L230.8,762.6 L231.3,762.6 L231.8,762.6 L232.3,762.6 L232.8,762.6 L233.3,762.6 L233.8,762.6 L234.3,762.6 L234.7,762.6 L235.2,762.6 L235.7,762.6 L236.2,762.6 L236.7,762.6 L237.2,762.6 L237.7,762.6 L238.2,762.6 L238.7,762.6 L239.2,762.6 L239.7,762.6 L240.2,762.6 L240.7,762.6 L241.2,762.6 L241.7,762.6 L242.2,762.6 L242.7,762.6 L243.2,762.5 L243.7,762.4 L244.2,762.3 L244.7,762.2 L245.1,762.0 L245.6,761.8 L246.1,761.6 L246.6,761.4 L247.1,761.3 L247.6,761.1 L248.1,760.9 L248.6,760.7 L249.1,760.5 L249.6,760.3 L250.1,760.2 L250.6,760.1 L251.1,760.0 L251.6,760.0 L252.1,759.9 L252.6,760.0 L253.1,760.0 L253.6,760.1 L254.1,760.2 L254.6,760.3 L255.1,760.5 L255.6,760.7 L256.0,760.9 L256.5,761.1 L257.0,761.3 L257.5,761.4 L258.0,761.6 L258.5,761.8 L259.0,762.0 L259.5,762.2 L260.0,762.3 L260.5,762.4 L261.0,762.5 L261.5,762.6 L262.0,762.6 L262.5,762.6 L263.0,762.6 L263.5,762.6 L264.0,762.6 L264.5,762.6 L265.0,762.6 L265.5,762.6 L266.0,762.6 L266.5,762.6 L266.9,762.6 L267.4,762.6 L267.9,762.6 L268.4,762.6 L268.9,762.6 L269.4,762.6 L269.9,762.6 L270.4,762.6 L270.9,762.6 L271.4,762.6 L271.9,762.6 L272.4,762.6 L272.9,762.6 L273.4,762.6 L273.9,762.6 L274.4,762.6 L274.9,762.6 L275.4,762.6 L275.9,762.6 L276.4,762.6 L276.9,762.6 L277.4,762.6 L277.8,762.6 L278.3,762.6 L278.8,762.6 L279.3,762.6 L279.8,762.6 L280.3,762.6 L280.8,762.6 L281.3,762.6 L281.8,762.6 L282.3,762.6 L282.8,762.6 L283.3,762.6 L283.8,762.6 L284.3,762.6 L284.8,762.6 L285.3,762.6 L285.8,762.6 L286.3,762.6 L286.8,762.6 L287.3,762.6 L287.8,762.6 L288.3,762.6 L288.7,762.6 L289.2,762.6 L289.7,762.6 L290.2,762.6 L290.7,762.6 L291.2,762.6 L291.7,762.6 L292.2,762.6 L292.7,762.6 L293.2,762.6 L293.7,762.6" fill="none" stroke="#008000" stroke-width="2.8" stroke-dasharray="2.8 3.3" stroke-linejoin="round"/>
<path d="M55.9,762.6 L56.4,762.6 L56.9,762.6 L57.4,762.6 L57.9,762.6 L58.4,762.6 L58.9,762.6 L59.4,762.6 L59.9,762.6 L60.4,762.6 L60.9,762.6 L61.3,762.6 L61.8,762.6 L62.3,762.6 L62.8,762.6 L63.3,762.6 L63.8,762.6 L64.3,762.6 L64.8,762.6 L65.3,762.6 L65.8,762.6 L66.3,762.6 L66.8,762.6 L67.3,762.6 L67.8,762.6 L68.3,762.6 L68.8,762.6 L69.3,762.6 L69.8,762.6 L70.3,762.6 L70.8,762.6 L71.3,762.6 L71.8,762.6 L72.2,762.6 L72.7,762.6 L73.2,762.6 L73.7,762.6 L74.2,762.6 L74.7,762.6 L75.2,762.6 L75.7,762.6 L76.2,762.6 L76.7,762.6 L77.2,762.6 L77.7,762.6 L78.2,762.6 L78.7,762.6 L79.2,762.6 L79.7,762.6 L80.2,762.6 L80.7,762.6 L81.2,762.6 L81.7,762.6 L82.2,762.6 L82.7,762.6 L83.1,762.6 L83.6,762.6 L84.1,762.6 L84.6,762.6 L85.1,762.6 L85.6,762.6 L86.1,762.6 L86.6,762.6 L87.1,762.6 L87.6,762.6 L88.1,762.6 L88.6,762.6 L89.1,762.6 L89.6,762.6 L90.1,762.6 L90.6,762.6 L91.1,762.6 L91.6,762.6 L92.1,762.6 L92.6,762.6 L93.1,762.6 L93.6,762.6 L94.0,762.6 L94.5,762.6 L95.0,762.6 L95.5,762.6 L96.0,762.6 L96.5,762.6 L97.0,762.6 L97.5,762.6 L98.0,762.6 L98.5,762.6 L99.0,762.6 L99.5,762.6 L100.0,762.6 L100.5,762.6 L101.0,762.6 L101.5,762.6 L102.0,762.6 L102.5,762.6 L103.0,762.6 L103.5,762.6 L104.0,762.6 L104.5,762.6 L104.9,762.6 L105.4,762.6 L105.9,762.6 L106.4,762.6 L106.9,762.6 L107.4,762.6 L107.9,762.6 L108.4,762.6 L108.9,762.6 L109.4,762.6 L109.9,762.6 L110.4,762.6 L110.9,762.6 L111.4,762.6 L111.9,762.6 L112.4,762.6 L112.9,762.6 L113.4,762.6 L113.9,762.6 L114.4,762.6 L114.9,762.6 L115.3,762.6 L115.8,762.6 L116.3,762.6 L116.8,762.6 L117.3,762.6 L117.8,762.6 L118.3,762.6 L118.8,762.6 L119.3,762.6 L119.8,762.6 L120.3,762.6 L120.8,762.6 L121.3,762.6 L121.8,762.6 L122.3,762.6 L122.8,762.6 L123.3,762.6 L123.8,762.6 L124.3,762.6 L124.8,762.6 L125.3,762.6 L125.8,762.6 L126.2,762.6 L126.7,762.6 L127.2,762.6 L127.7,762.6 L128.2,762.5 L128.7,762.4 L129.2,762.3 L129.7,762.1 L130.2,762.0 L130.7,761.7 L131.2,761.5 L131.7,761.3 L132.2,761.0 L132.7,760.7 L133.2,760.4 L133.7,759.9 L134.2,759.4 L134.7,758.7 L135.2,758.0 L135.7,757.1 L136.2,756.1 L136.7,755.0 L137.1,753.9 L137.6,752.7 L138.1,751.5 L138.6,750.2 L139.1,749.0 L139.6,747.7 L140.1,746.3 L140.6,744.9 L141.1,743.3 L141.6,741.6 L142.1,739.9 L142.6,738.1 L143.1,736.4 L143.6,734.9 L144.1,733.4 L144.6,732.2 L145.1,731.0 L145.6,730.0 L146.1,729.0 L146.6,728.0 L147.1,727.1 L147.6,726.3 L148.0,725.7 L148.5,725.3 L149.0,725.1 L149.5,725.2 L150.0,725.6 L150.5,726.3 L151.0,727.2 L151.5,728.4 L152.0,729.6 L152.5,731.0 L153.0,732.4 L153.5,733.7 L154.0,735.1 L154.5,736.5 L155.0,738.0 L155.5,739.6 L156.0,741.2 L156.5,742.8 L157.0,744.3 L157.5,745.8 L158.0,747.1 L158.5,748.3 L158.9,749.3 L159.4,750.4 L159.9,751.4 L160.4,752.3 L160.9,753.2 L161.4,754.1 L161.9,754.8 L162.4,755.5 L162.9,756.0 L163.4,756.3 L163.9,756.4 L164.4,756.1 L164.9,755.5 L165.4,754.3 L165.9,752.8 L166.4,750.8 L166.9,748.6 L167.4,745.9 L167.9,742.5 L168.4,738.2 L168.9,733.0 L169.4,727.2 L169.8,721.4 L170.3,715.6 L170.8,710.0 L171.3,704.6 L171.8,699.7 L172.3,695.4 L172.8,691.7 L173.3,688.5 L173.8,685.6 L174.3,683.0 L174.8,680.9 L175.3,679.5 L175.8,678.8 L176.3,679.1 L176.8,680.3 L177.3,682.4 L177.8,684.9 L178.3,687.7 L178.8,690.3 L179.3,692.7 L179.8,694.8 L180.2,696.8 L180.7,698.7 L181.2,700.2 L181.7,701.5 L182.2,702.4 L182.7,703.1 L183.2,703.6 L183.7,704.0 L184.2,704.4 L184.7,704.8 L185.2,705.4 L185.7,706.3 L186.2,707.5 L186.7,709.0 L187.2,711.0 L187.7,713.3 L188.2,715.8 L188.7,718.5 L189.2,721.4 L189.7,724.6 L190.2,728.0 L190.7,731.7 L191.1,735.5 L191.6,739.0 L192.1,742.4 L192.6,745.5 L193.1,748.4 L193.6,751.2 L194.1,753.7 L194.6,755.7 L195.1,757.2 L195.6,758.3 L196.1,759.0 L196.6,759.5 L197.1,760.0 L197.6,760.5 L198.1,760.9 L198.6,761.2 L199.1,761.5 L199.6,761.8 L200.1,762.0 L200.6,762.2 L201.1,762.4 L201.6,762.5 L202.0,762.5 L202.5,762.6 L203.0,762.6 L203.5,762.6 L204.0,762.6 L204.5,762.6 L205.0,762.6 L205.5,762.6 L206.0,762.6 L206.5,762.6 L207.0,762.6 L207.5,762.6 L208.0,762.6 L208.5,762.6 L209.0,762.6 L209.5,762.6 L210.0,762.6 L210.5,762.6 L211.0,762.6 L211.5,762.6 L212.0,762.6 L212.5,762.6 L212.9,762.6 L213.4,762.6 L213.9,762.6 L214.4,762.6 L214.9,762.6 L215.4,762.6 L215.9,762.6 L216.4,762.6 L216.9,762.6 L217.4,762.6 L217.9,762.6 L218.4,762.6 L218.9,762.6 L219.4,762.6 L219.9,762.6 L220.4,762.6 L220.9,762.6 L221.4,762.6 L221.9,762.6 L222.4,762.6 L222.9,762.6 L223.4,762.6 L223.8,762.6 L224.3,762.6 L224.8,762.6 L225.3,762.6 L225.8,762.6 L226.3,762.6 L226.8,762.6 L227.3,762.6 L227.8,762.6 L228.3,762.6 L228.8,762.6 L229.3,762.6 L229.8,762.6 L230.3,762.6 L230.8,762.6 L231.3,762.6 L231.8,762.6 L232.3,762.6 L232.8,762.6 L233.3,762.6 L233.8,762.6 L234.3,762.6 L234.7,762.6 L235.2,762.6 L235.7,762.6 L236.2,762.6 L236.7,762.6 L237.2,762.6 L237.7,762.6 L238.2,762.6 L238.7,762.6 L239.2,762.6 L239.7,762.6 L240.2,762.6 L240.7,762.6 L241.2,762.6 L241.7,762.6 L242.2,762.6 L242.7,762.6 L243.2,762.5 L243.7,762.4 L244.2,762.4 L244.7,762.2 L245.1,762.1 L245.6,762.0 L246.1,761.8 L246.6,761.7 L247.1,761.5 L247.6,761.4 L248.1,761.2 L248.6,761.1 L249.1,760.9 L249.6,760.8 L250.1,760.7 L250.6,760.6 L251.1,760.5 L251.6,760.5 L252.1,760.5 L252.6,760.5 L253.1,760.5 L253.6,760.6 L254.1,760.7 L254.6,760.8 L255.1,760.9 L255.6,761.1 L256.0,761.2 L256.5,761.4 L257.0,761.5 L257.5,761.7 L258.0,761.8 L258.5,762.0 L259.0,762.1 L259.5,762.2 L260.0,762.4 L260.5,762.4 L261.0,762.5 L261.5,762.6 L262.0,762.6 L262.5,762.6 L263.0,762.6 L263.5,762.6 L264.0,762.6 L264.5,762.6 L265.0,762.6 L265.5,762.6 L266.0,762.6 L266.5,762.6 L266.9,762.6 L267.4,762.6 L267.9,762.6 L268.4,762.6 L268.9,762.6 L269.4,762.6 L269.9,762.6 L270.4,762.6 L270.9,762.6 L271.4,762.6 L271.9,762.6 L272.4,762.6 L272.9,762.6 L273.4,762.6 L273.9,762.6 L274.4,762.6 L274.9,762.6 L275.4,762.6 L275.9,762.6 L276.4,762.6 L276.9,762.6 L277.4,762.6 L277.8,762.6 L278.3,762.6 L278.8,762.6 L279.3,762.6 L279.8,762.6 L280.3,762.6 L280.8,762.6 L281.3,762.6 L281.8,762.6 L282.3,762.6 L282.8,762.6 L283.3,762.6 L283.8,762.6 L284.3,762.6 L284.8,762.6 L285.3,762.6 L285.8,762.6 L286.3,762.6 L286.8,762.6 L287.3,762.6 L287.8,762.6 L288.3,762.6 L288.7,762.6 L289.2,762.6 L289.7,762.6 L290.2,762.6 L290.7,762.6 L291.2,762.6 L291.7,762.6 L292.2,762.6 L292.7,762.6 L293.2,762.6 L293.7,762.6" fill="none" stroke="#0000ff" stroke-width="2.8" stroke-dasharray="2.8 3.3" stroke-linejoin="round"/>
</g>
<line x1="55.90" x2="55.90" y1="762.60" y2="767.40" stroke="#000" stroke-width="1"/>
<text x="54.50" y="782.00" font-size="11.4" letter-spacing="0.45" text-anchor="middle">0</text>
<line x1="135.17" x2="135.17" y1="762.60" y2="767.40" stroke="#000" stroke-width="1"/>
<text x="133.77" y="782.00" font-size="11.4" letter-spacing="0.45" text-anchor="middle">20</text>
<line x1="214.43" x2="214.43" y1="762.60" y2="767.40" stroke="#000" stroke-width="1"/>
<text x="213.03" y="782.00" font-size="11.4" letter-spacing="0.45" text-anchor="middle">40</text>
<line x1="293.70" x2="293.70" y1="762.60" y2="767.40" stroke="#000" stroke-width="1"/>
<text x="292.30" y="782.00" font-size="11.4" letter-spacing="0.45" text-anchor="middle">60</text>
<line x1="51.10" x2="55.90" y1="762.60" y2="762.60" stroke="#000" stroke-width="1"/>
<text x="44.70" y="767.15" font-size="11.4" letter-spacing="0.45" text-anchor="end">0.00</text>
<line x1="51.10" x2="55.90" y1="735.62" y2="735.62" stroke="#000" stroke-width="1"/>
<text x="44.70" y="740.17" font-size="11.4" letter-spacing="0.45" text-anchor="end">0.05</text>
<line x1="51.10" x2="55.90" y1="708.65" y2="708.65" stroke="#000" stroke-width="1"/>
<text x="44.70" y="713.20" font-size="11.4" letter-spacing="0.45" text-anchor="end">0.10</text>
<line x1="51.10" x2="55.90" y1="681.68" y2="681.68" stroke="#000" stroke-width="1"/>
<text x="44.70" y="686.23" font-size="11.4" letter-spacing="0.45" text-anchor="end">0.15</text>
<line x1="51.10" x2="55.90" y1="654.70" y2="654.70" stroke="#000" stroke-width="1"/>
<text x="44.70" y="659.25" font-size="11.4" letter-spacing="0.45" text-anchor="end">0.20</text>
<rect x="55.90" y="654.70" width="237.80" height="107.90" fill="none" stroke="#000" stroke-width="1.25"/>
<text x="60.50" y="671.50" font-size="14.2" letter-spacing="0.55">CL <tspan font-weight="bold" letter-spacing="1.1">(e)</tspan></text>
<text transform="translate(10.50,709.55) rotate(-90)" font-size="14" text-anchor="middle" letter-spacing="0.3">Estimated PDF</text>
<text x="174.30" y="794.70" font-size="13.4" letter-spacing="0.2" text-anchor="middle"><tspan font-style="italic">ϕ</tspan><tspan font-style="italic" font-size="9.8" dy="2.4">μ</tspan></text>
<clipPath id="c14"><rect x="364.70" y="654.70" width="237.80" height="107.90"/></clipPath>
<g clip-path="url(#c14)">
<path d="M364.7,762.6 L365.2,762.6 L365.7,762.6 L366.2,762.6 L366.7,762.6 L367.2,762.6 L367.7,762.6 L368.2,762.6 L368.7,762.6 L369.2,762.6 L369.7,762.6 L370.1,762.6 L370.6,762.6 L371.1,762.6 L371.6,762.6 L372.1,762.6 L372.6,762.6 L373.1,762.6 L373.6,762.6 L374.1,762.6 L374.6,762.6 L375.1,762.6 L375.6,762.6 L376.1,762.6 L376.6,762.6 L377.1,762.6 L377.6,762.6 L378.1,762.6 L378.6,762.6 L379.1,762.6 L379.6,762.6 L380.1,762.6 L380.6,762.6 L381.0,762.6 L381.5,762.6 L382.0,762.6 L382.5,762.6 L383.0,762.6 L383.5,762.6 L384.0,762.6 L384.5,762.6 L385.0,762.6 L385.5,762.6 L386.0,762.6 L386.5,762.6 L387.0,762.6 L387.5,762.6 L388.0,762.6 L388.5,762.6 L389.0,762.6 L389.5,762.6 L390.0,762.6 L390.5,762.6 L391.0,762.6 L391.5,762.6 L391.9,762.6 L392.4,762.6 L392.9,762.6 L393.4,762.6 L393.9,762.6 L394.4,762.6 L394.9,762.6 L395.4,762.6 L395.9,762.6 L396.4,762.6 L396.9,762.6 L397.4,762.6 L397.9,762.6 L398.4,762.6 L398.9,762.6 L399.4,762.6 L399.9,762.6 L400.4,762.6 L400.9,762.6 L401.4,762.6 L401.9,762.6 L402.4,762.6 L402.8,762.6 L403.3,762.6 L403.8,762.6 L404.3,762.6 L404.8,762.6 L405.3,762.6 L405.8,762.6 L406.3,762.6 L406.8,762.6 L407.3,762.6 L407.8,762.6 L408.3,762.6 L408.8,762.6 L409.3,762.6 L409.8,762.6 L410.3,762.6 L410.8,762.6 L411.3,762.6 L411.8,762.6 L412.3,762.6 L412.8,762.6 L413.3,762.6 L413.7,762.6 L414.2,762.6 L414.7,762.6 L415.2,762.6 L415.7,762.6 L416.2,762.6 L416.7,762.6 L417.2,762.6 L417.7,762.6 L418.2,762.6 L418.7,762.6 L419.2,762.6 L419.7,762.6 L420.2,762.6 L420.7,762.6 L421.2,762.6 L421.7,762.6 L422.2,762.6 L422.7,762.6 L423.2,762.6 L423.7,762.6 L424.1,762.6 L424.6,762.6 L425.1,762.6 L425.6,762.6 L426.1,762.6 L426.6,762.6 L427.1,762.6 L427.6,762.6 L428.1,762.6 L428.6,762.6 L429.1,762.6 L429.6,762.6 L430.1,762.6 L430.6,762.6 L431.1,762.6 L431.6,762.6 L432.1,762.6 L432.6,762.6 L433.1,762.6 L433.6,762.6 L434.1,762.6 L434.6,762.6 L435.0,762.6 L435.5,762.6 L436.0,762.6 L436.5,762.6 L437.0,762.6 L437.5,762.6 L438.0,762.6 L438.5,762.6 L439.0,762.5 L439.5,762.5 L440.0,762.4 L440.5,762.3 L441.0,762.1 L441.5,762.0 L442.0,761.8 L442.5,761.6 L443.0,761.4 L443.5,761.2 L444.0,761.0 L444.5,760.7 L445.0,760.3 L445.5,759.8 L445.9,759.1 L446.4,758.4 L446.9,757.6 L447.4,756.7 L447.9,755.9 L448.4,755.0 L448.9,754.2 L449.4,753.5 L449.9,752.8 L450.4,752.2 L450.9,751.7 L451.4,751.1 L451.9,750.6 L452.4,750.0 L452.9,749.3 L453.4,748.5 L453.9,747.4 L454.4,745.8 L454.9,743.6 L455.4,740.6 L455.9,736.8 L456.4,732.4 L456.8,727.2 L457.3,721.2 L457.8,714.6 L458.3,707.8 L458.8,701.5 L459.3,695.8 L459.8,690.5 L460.3,685.5 L460.8,681.1 L461.3,677.4 L461.8,674.8 L462.3,673.9 L462.8,675.0 L463.3,678.3 L463.8,683.5 L464.3,689.8 L464.8,696.7 L465.3,703.9 L465.8,711.3 L466.3,718.8 L466.8,725.8 L467.3,731.8 L467.7,736.8 L468.2,741.0 L468.7,744.7 L469.2,747.9 L469.7,750.4 L470.2,752.3 L470.7,753.7 L471.2,754.7 L471.7,755.6 L472.2,756.3 L472.7,756.9 L473.2,757.4 L473.7,757.8 L474.2,758.0 L474.7,758.1 L475.2,758.0 L475.7,757.7 L476.2,757.1 L476.7,756.2 L477.2,755.1 L477.7,753.8 L478.2,752.1 L478.6,749.9 L479.1,746.7 L479.6,742.1 L480.1,736.4 L480.6,730.4 L481.1,724.7 L481.6,719.5 L482.1,714.8 L482.6,710.4 L483.1,706.6 L483.6,703.7 L484.1,702.2 L484.6,702.3 L485.1,704.1 L485.6,707.4 L486.1,711.9 L486.6,716.9 L487.1,722.2 L487.6,727.8 L488.1,733.7 L488.6,739.5 L489.0,744.8 L489.5,749.2 L490.0,752.7 L490.5,755.5 L491.0,757.7 L491.5,759.2 L492.0,760.2 L492.5,760.7 L493.0,761.0 L493.5,761.3 L494.0,761.5 L494.5,761.7 L495.0,761.9 L495.5,762.0 L496.0,762.2 L496.5,762.3 L497.0,762.4 L497.5,762.5 L498.0,762.5 L498.5,762.6 L499.0,762.6 L499.5,762.6 L499.9,762.6 L500.4,762.6 L500.9,762.6 L501.4,762.6 L501.9,762.6 L502.4,762.6 L502.9,762.6 L503.4,762.6 L503.9,762.6 L504.4,762.6 L504.9,762.6 L505.4,762.6 L505.9,762.6 L506.4,762.6 L506.9,762.6 L507.4,762.6 L507.9,762.6 L508.4,762.6 L508.9,762.6 L509.4,762.6 L509.9,762.6 L510.4,762.6 L510.8,762.6 L511.3,762.6 L511.8,762.6 L512.3,762.6 L512.8,762.6 L513.3,762.6 L513.8,762.6 L514.3,762.6 L514.8,762.6 L515.3,762.6 L515.8,762.6 L516.3,762.6 L516.8,762.6 L517.3,762.6 L517.8,762.6 L518.3,762.6 L518.8,762.6 L519.3,762.6 L519.8,762.6 L520.3,762.6 L520.8,762.6 L521.3,762.6 L521.7,762.6 L522.2,762.6 L522.7,762.6 L523.2,762.6 L523.7,762.6 L524.2,762.6 L524.7,762.6 L525.2,762.6 L525.7,762.6 L526.2,762.6 L526.7,762.6 L527.2,762.6 L527.7,762.6 L528.2,762.6 L528.7,762.6 L529.2,762.6 L529.7,762.6 L530.2,762.6 L530.7,762.6 L531.2,762.6 L531.7,762.6 L532.2,762.6 L532.6,762.6 L533.1,762.6 L533.6,762.6 L534.1,762.6 L534.6,762.6 L535.1,762.6 L535.6,762.6 L536.1,762.6 L536.6,762.6 L537.1,762.6 L537.6,762.6 L538.1,762.6 L538.6,762.6 L539.1,762.6 L539.6,762.6 L540.1,762.6 L540.6,762.6 L541.1,762.6 L541.6,762.6 L542.1,762.6 L542.6,762.6 L543.0,762.6 L543.5,762.6 L544.0,762.6 L544.5,762.6 L545.0,762.6 L545.5,762.6 L546.0,762.6 L546.5,762.6 L547.0,762.6 L547.5,762.6 L548.0,762.6 L548.5,762.6 L549.0,762.6 L549.5,762.6 L550.0,762.6 L550.5,762.6 L551.0,762.6 L551.5,762.6 L552.0,762.6 L552.5,762.6 L553.0,762.6 L553.5,762.6 L553.9,762.6 L554.4,762.6 L554.9,762.6 L555.4,762.6 L555.9,762.6 L556.4,762.6 L556.9,762.6 L557.4,762.6 L557.9,762.6 L558.4,762.6 L558.9,762.6 L559.4,762.6 L559.9,762.6 L560.4,762.6 L560.9,762.6 L561.4,762.6 L561.9,762.6 L562.4,762.6 L562.9,762.6 L563.4,762.6 L563.9,762.6 L564.4,762.6 L564.8,762.6 L565.3,762.6 L565.8,762.6 L566.3,762.6 L566.8,762.6 L567.3,762.6 L567.8,762.6 L568.3,762.6 L568.8,762.6 L569.3,762.6 L569.8,762.6 L570.3,762.6 L570.8,762.6 L571.3,762.6 L571.8,762.6 L572.3,762.6 L572.8,762.6 L573.3,762.6 L573.8,762.6 L574.3,762.6 L574.8,762.6 L575.3,762.6 L575.7,762.6 L576.2,762.6 L576.7,762.6 L577.2,762.6 L577.7,762.6 L578.2,762.6 L578.7,762.6 L579.2,762.6 L579.7,762.6 L580.2,762.6 L580.7,762.6 L581.2,762.6 L581.7,762.6 L582.2,762.6 L582.7,762.6 L583.2,762.6 L583.7,762.6 L584.2,762.6 L584.7,762.6 L585.2,762.6 L585.7,762.6 L586.2,762.6 L586.6,762.6 L587.1,762.6 L587.6,762.6 L588.1,762.6 L588.6,762.6 L589.1,762.6 L589.6,762.6 L590.1,762.6 L590.6,762.6 L591.1,762.6 L591.6,762.6 L592.1,762.6 L592.6,762.6 L593.1,762.6 L593.6,762.6 L594.1,762.6 L594.6,762.6 L595.1,762.6 L595.6,762.6 L596.1,762.6 L596.6,762.6 L597.1,762.6 L597.5,762.6 L598.0,762.6 L598.5,762.6 L599.0,762.6 L599.5,762.6 L600.0,762.6 L600.5,762.6 L601.0,762.6 L601.5,762.6 L602.0,762.6 L602.5,762.6 L602.50,762.60 L364.70,762.60 Z" fill="#ff0000" fill-opacity="0.5" stroke="none"/>
<path d="M364.7,762.6 L365.2,762.6 L365.7,762.6 L366.2,762.6 L366.7,762.6 L367.2,762.6 L367.7,762.6 L368.2,762.6 L368.7,762.6 L369.2,762.6 L369.7,762.6 L370.1,762.6 L370.6,762.6 L371.1,762.6 L371.6,762.6 L372.1,762.6 L372.6,762.6 L373.1,762.6 L373.6,762.6 L374.1,762.6 L374.6,762.6 L375.1,762.6 L375.6,762.6 L376.1,762.6 L376.6,762.6 L377.1,762.6 L377.6,762.6 L378.1,762.6 L378.6,762.6 L379.1,762.6 L379.6,762.6 L380.1,762.6 L380.6,762.6 L381.0,762.6 L381.5,762.6 L382.0,762.6 L382.5,762.6 L383.0,762.6 L383.5,762.6 L384.0,762.6 L384.5,762.6 L385.0,762.6 L385.5,762.6 L386.0,762.6 L386.5,762.6 L387.0,762.6 L387.5,762.6 L388.0,762.6 L388.5,762.6 L389.0,762.6 L389.5,762.6 L390.0,762.6 L390.5,762.6 L391.0,762.6 L391.5,762.6 L391.9,762.6 L392.4,762.6 L392.9,762.6 L393.4,762.6 L393.9,762.6 L394.4,762.6 L394.9,762.6 L395.4,762.6 L395.9,762.6 L396.4,762.6 L396.9,762.6 L397.4,762.6 L397.9,762.6 L398.4,762.6 L398.9,762.6 L399.4,762.6 L399.9,762.6 L400.4,762.6 L400.9,762.6 L401.4,762.6 L401.9,762.6 L402.4,762.6 L402.8,762.6 L403.3,762.6 L403.8,762.6 L404.3,762.6 L404.8,762.6 L405.3,762.6 L405.8,762.6 L406.3,762.6 L406.8,762.6 L407.3,762.6 L407.8,762.6 L408.3,762.6 L408.8,762.6 L409.3,762.6 L409.8,762.6 L410.3,762.6 L410.8,762.6 L411.3,762.6 L411.8,762.6 L412.3,762.6 L412.8,762.6 L413.3,762.6 L413.7,762.6 L414.2,762.6 L414.7,762.6 L415.2,762.6 L415.7,762.6 L416.2,762.6 L416.7,762.6 L417.2,762.6 L417.7,762.6 L418.2,762.6 L418.7,762.6 L419.2,762.6 L419.7,762.6 L420.2,762.6 L420.7,762.6 L421.2,762.6 L421.7,762.6 L422.2,762.6 L422.7,762.6 L423.2,762.6 L423.7,762.6 L424.1,762.6 L424.6,762.6 L425.1,762.6 L425.6,762.6 L426.1,762.6 L426.6,762.6 L427.1,762.6 L427.6,762.6 L428.1,762.6 L428.6,762.6 L429.1,762.6 L429.6,762.6 L430.1,762.6 L430.6,762.6 L431.1,762.6 L431.6,762.6 L432.1,762.6 L432.6,762.6 L433.1,762.5 L433.6,762.5 L434.1,762.4 L434.6,762.3 L435.0,762.2 L435.5,762.1 L436.0,761.9 L436.5,761.7 L437.0,761.6 L437.5,761.3 L438.0,761.1 L438.5,760.7 L439.0,760.1 L439.5,759.4 L440.0,758.5 L440.5,757.5 L441.0,756.3 L441.5,755.1 L442.0,753.9 L442.5,752.5 L443.0,751.1 L443.5,749.5 L444.0,747.7 L444.5,745.7 L445.0,743.7 L445.5,741.6 L445.9,739.7 L446.4,737.8 L446.9,736.1 L447.4,734.4 L447.9,732.8 L448.4,731.3 L448.9,729.9 L449.4,728.7 L449.9,727.8 L450.4,727.0 L450.9,726.5 L451.4,726.0 L451.9,725.6 L452.4,725.2 L452.9,724.9 L453.4,724.6 L453.9,724.4 L454.4,724.3 L454.9,724.2 L455.4,724.2 L455.9,724.3 L456.4,724.4 L456.8,724.6 L457.3,724.8 L457.8,725.1 L458.3,725.5 L458.8,725.8 L459.3,726.3 L459.8,726.8 L460.3,727.4 L460.8,728.2 L461.3,729.2 L461.8,730.4 L462.3,731.6 L462.8,732.9 L463.3,734.3 L463.8,735.8 L464.3,737.4 L464.8,739.1 L465.3,740.9 L465.8,742.7 L466.3,744.5 L466.8,746.2 L467.3,747.9 L467.7,749.4 L468.2,751.0 L468.7,752.5 L469.2,753.9 L469.7,755.3 L470.2,756.4 L470.7,757.3 L471.2,758.0 L471.7,758.5 L472.2,758.8 L472.7,759.1 L473.2,759.2 L473.7,759.2 L474.2,759.0 L474.7,758.6 L475.2,757.9 L475.7,757.1 L476.2,756.1 L476.7,755.0 L477.2,753.9 L477.7,752.7 L478.2,751.4 L478.6,749.9 L479.1,748.3 L479.6,746.6 L480.1,744.9 L480.6,743.4 L481.1,742.2 L481.6,741.1 L482.1,740.2 L482.6,739.4 L483.1,738.8 L483.6,738.3 L484.1,738.0 L484.6,737.9 L485.1,738.0 L485.6,738.2 L486.1,738.4 L486.6,738.5 L487.1,738.6 L487.6,738.5 L488.1,737.9 L488.6,736.8 L489.0,735.4 L489.5,733.9 L490.0,732.3 L490.5,730.8 L491.0,729.5 L491.5,728.1 L492.0,726.8 L492.5,725.7 L493.0,724.8 L493.5,724.3 L494.0,724.3 L494.5,724.8 L495.0,725.8 L495.5,727.3 L496.0,729.2 L496.5,731.4 L497.0,733.7 L497.5,736.0 L498.0,738.5 L498.5,741.1 L499.0,744.0 L499.5,746.9 L499.9,749.8 L500.4,752.5 L500.9,754.7 L501.4,756.5 L501.9,758.1 L502.4,759.4 L502.9,760.3 L503.4,760.9 L503.9,761.3 L504.4,761.5 L504.9,761.7 L505.4,761.8 L505.9,762.0 L506.4,762.1 L506.9,762.2 L507.4,762.3 L507.9,762.3 L508.4,762.4 L508.9,762.5 L509.4,762.5 L509.9,762.5 L510.4,762.6 L510.8,762.6 L511.3,762.6 L511.8,762.6 L512.3,762.6 L512.8,762.6 L513.3,762.6 L513.8,762.6 L514.3,762.6 L514.8,762.6 L515.3,762.6 L515.8,762.6 L516.3,762.6 L516.8,762.6 L517.3,762.6 L517.8,762.6 L518.3,762.6 L518.8,762.6 L519.3,762.6 L519.8,762.6 L520.3,762.6 L520.8,762.6 L521.3,762.6 L521.7,762.6 L522.2,762.6 L522.7,762.6 L523.2,762.6 L523.7,762.6 L524.2,762.6 L524.7,762.6 L525.2,762.6 L525.7,762.6 L526.2,762.6 L526.7,762.6 L527.2,762.6 L527.7,762.6 L528.2,762.6 L528.7,762.6 L529.2,762.6 L529.7,762.6 L530.2,762.6 L530.7,762.6 L531.2,762.6 L531.7,762.6 L532.2,762.6 L532.6,762.6 L533.1,762.6 L533.6,762.6 L534.1,762.6 L534.6,762.6 L535.1,762.6 L535.6,762.6 L536.1,762.6 L536.6,762.6 L537.1,762.6 L537.6,762.6 L538.1,762.6 L538.6,762.6 L539.1,762.6 L539.6,762.6 L540.1,762.6 L540.6,762.6 L541.1,762.6 L541.6,762.6 L542.1,762.6 L542.6,762.6 L543.0,762.6 L543.5,762.6 L544.0,762.6 L544.5,762.6 L545.0,762.6 L545.5,762.6 L546.0,762.6 L546.5,762.6 L547.0,762.6 L547.5,762.6 L548.0,762.6 L548.5,762.6 L549.0,762.6 L549.5,762.6 L550.0,762.6 L550.5,762.6 L551.0,762.6 L551.5,762.6 L552.0,762.6 L552.5,762.6 L553.0,762.6 L553.5,762.6 L553.9,762.6 L554.4,762.6 L554.9,762.6 L555.4,762.6 L555.9,762.6 L556.4,762.6 L556.9,762.6 L557.4,762.6 L557.9,762.6 L558.4,762.6 L558.9,762.6 L559.4,762.6 L559.9,762.6 L560.4,762.6 L560.9,762.6 L561.4,762.6 L561.9,762.6 L562.4,762.6 L562.9,762.6 L563.4,762.6 L563.9,762.6 L564.4,762.6 L564.8,762.6 L565.3,762.6 L565.8,762.6 L566.3,762.6 L566.8,762.6 L567.3,762.6 L567.8,762.6 L568.3,762.6 L568.8,762.6 L569.3,762.6 L569.8,762.6 L570.3,762.6 L570.8,762.6 L571.3,762.6 L571.8,762.6 L572.3,762.6 L572.8,762.6 L573.3,762.6 L573.8,762.6 L574.3,762.6 L574.8,762.6 L575.3,762.6 L575.7,762.6 L576.2,762.6 L576.7,762.6 L577.2,762.6 L577.7,762.6 L578.2,762.6 L578.7,762.6 L579.2,762.6 L579.7,762.6 L580.2,762.6 L580.7,762.6 L581.2,762.6 L581.7,762.6 L582.2,762.6 L582.7,762.6 L583.2,762.6 L583.7,762.6 L584.2,762.6 L584.7,762.6 L585.2,762.6 L585.7,762.6 L586.2,762.6 L586.6,762.6 L587.1,762.6 L587.6,762.6 L588.1,762.6 L588.6,762.6 L589.1,762.6 L589.6,762.6 L590.1,762.6 L590.6,762.6 L591.1,762.6 L591.6,762.6 L592.1,762.6 L592.6,762.6 L593.1,762.6 L593.6,762.6 L594.1,762.6 L594.6,762.6 L595.1,762.6 L595.6,762.6 L596.1,762.6 L596.6,762.6 L597.1,762.6 L597.5,762.6 L598.0,762.6 L598.5,762.6 L599.0,762.6 L599.5,762.6 L600.0,762.6 L600.5,762.6 L601.0,762.6 L601.5,762.6 L602.0,762.6 L602.5,762.6 L602.50,762.60 L364.70,762.60 Z" fill="#008000" fill-opacity="0.5" stroke="none"/>
<path d="M364.7,762.6 L365.2,762.6 L365.7,762.6 L366.2,762.6 L366.7,762.6 L367.2,762.6 L367.7,762.6 L368.2,762.6 L368.7,762.6 L369.2,762.6 L369.7,762.6 L370.1,762.6 L370.6,762.6 L371.1,762.6 L371.6,762.6 L372.1,762.6 L372.6,762.6 L373.1,762.6 L373.6,762.6 L374.1,762.6 L374.6,762.6 L375.1,762.6 L375.6,762.6 L376.1,762.6 L376.6,762.6 L377.1,762.6 L377.6,762.6 L378.1,762.6 L378.6,762.6 L379.1,762.6 L379.6,762.6 L380.1,762.6 L380.6,762.6 L381.0,762.6 L381.5,762.6 L382.0,762.6 L382.5,762.6 L383.0,762.6 L383.5,762.6 L384.0,762.6 L384.5,762.6 L385.0,762.6 L385.5,762.6 L386.0,762.6 L386.5,762.6 L387.0,762.6 L387.5,762.6 L388.0,762.6 L388.5,762.6 L389.0,762.6 L389.5,762.6 L390.0,762.6 L390.5,762.6 L391.0,762.6 L391.5,762.6 L391.9,762.6 L392.4,762.6 L392.9,762.6 L393.4,762.6 L393.9,762.6 L394.4,762.6 L394.9,762.6 L395.4,762.6 L395.9,762.6 L396.4,762.6 L396.9,762.6 L397.4,762.6 L397.9,762.6 L398.4,762.6 L398.9,762.6 L399.4,762.6 L399.9,762.6 L400.4,762.6 L400.9,762.6 L401.4,762.6 L401.9,762.6 L402.4,762.6 L402.8,762.6 L403.3,762.6 L403.8,762.6 L404.3,762.6 L404.8,762.6 L405.3,762.6 L405.8,762.6 L406.3,762.6 L406.8,762.6 L407.3,762.6 L407.8,762.6 L408.3,762.6 L408.8,762.6 L409.3,762.6 L409.8,762.6 L410.3,762.6 L410.8,762.6 L411.3,762.6 L411.8,762.6 L412.3,762.6 L412.8,762.6 L413.3,762.6 L413.7,762.6 L414.2,762.6 L414.7,762.6 L415.2,762.6 L415.7,762.6 L416.2,762.6 L416.7,762.6 L417.2,762.6 L417.7,762.6 L418.2,762.6 L418.7,762.6 L419.2,762.6 L419.7,762.6 L420.2,762.6 L420.7,762.6 L421.2,762.6 L421.7,762.6 L422.2,762.6 L422.7,762.6 L423.2,762.6 L423.7,762.6 L424.1,762.6 L424.6,762.6 L425.1,762.6 L425.6,762.6 L426.1,762.6 L426.6,762.6 L427.1,762.6 L427.6,762.6 L428.1,762.6 L428.6,762.6 L429.1,762.5 L429.6,762.5 L430.1,762.4 L430.6,762.4 L431.1,762.3 L431.6,762.1 L432.1,762.0 L432.6,761.9 L433.1,761.7 L433.6,761.5 L434.1,761.2 L434.6,760.7 L435.0,759.9 L435.5,758.6 L436.0,756.8 L436.5,754.6 L437.0,752.1 L437.5,749.5 L438.0,746.7 L438.5,744.0 L439.0,741.5 L439.5,739.0 L440.0,736.6 L440.5,734.1 L441.0,731.5 L441.5,728.9 L442.0,726.2 L442.5,723.7 L443.0,721.4 L443.5,719.4 L444.0,717.8 L444.5,716.6 L445.0,716.1 L445.5,716.2 L445.9,716.9 L446.4,718.2 L446.9,719.9 L447.4,721.9 L447.9,724.0 L448.4,726.1 L448.9,728.0 L449.4,729.8 L449.9,731.3 L450.4,732.8 L450.9,734.3 L451.4,735.8 L451.9,737.1 L452.4,738.3 L452.9,739.4 L453.4,740.1 L453.9,740.6 L454.4,740.7 L454.9,740.5 L455.4,740.1 L455.9,739.4 L456.4,738.6 L456.8,737.7 L457.3,736.8 L457.8,735.8 L458.3,734.6 L458.8,733.4 L459.3,732.1 L459.8,730.9 L460.3,729.9 L460.8,729.2 L461.3,728.8 L461.8,729.0 L462.3,729.5 L462.8,730.4 L463.3,731.6 L463.8,732.9 L464.3,734.4 L464.8,735.9 L465.3,737.4 L465.8,738.9 L466.3,740.4 L466.8,742.1 L467.3,743.7 L467.7,745.4 L468.2,746.9 L468.7,748.1 L469.2,748.7 L469.7,748.5 L470.2,747.2 L470.7,744.6 L471.2,741.0 L471.7,736.5 L472.2,731.4 L472.7,726.2 L473.2,721.2 L473.7,716.9 L474.2,713.5 L474.7,711.6 L475.2,711.9 L475.7,714.0 L476.2,717.7 L476.7,722.2 L477.2,727.1 L477.7,732.4 L478.2,737.7 L478.6,742.6 L479.1,746.9 L479.6,750.7 L480.1,753.8 L480.6,756.2 L481.1,758.1 L481.6,759.5 L482.1,760.5 L482.6,761.2 L483.1,761.6 L483.6,761.8 L484.1,761.9 L484.6,761.9 L485.1,761.9 L485.6,761.9 L486.1,761.9 L486.6,761.9 L487.1,761.8 L487.6,761.6 L488.1,761.2 L488.6,760.4 L489.0,759.3 L489.5,758.2 L490.0,756.9 L490.5,755.7 L491.0,754.5 L491.5,753.5 L492.0,752.9 L492.5,752.8 L493.0,753.3 L493.5,754.3 L494.0,755.5 L494.5,756.7 L495.0,757.8 L495.5,758.9 L496.0,759.9 L496.5,760.7 L497.0,761.2 L497.5,761.6 L498.0,761.8 L498.5,761.9 L499.0,762.1 L499.5,762.2 L499.9,762.3 L500.4,762.4 L500.9,762.4 L501.4,762.5 L501.9,762.5 L502.4,762.6 L502.9,762.6 L503.4,762.6 L503.9,762.6 L504.4,762.6 L504.9,762.6 L505.4,762.6 L505.9,762.6 L506.4,762.6 L506.9,762.6 L507.4,762.6 L507.9,762.6 L508.4,762.6 L508.9,762.6 L509.4,762.6 L509.9,762.6 L510.4,762.6 L510.8,762.6 L511.3,762.6 L511.8,762.6 L512.3,762.6 L512.8,762.6 L513.3,762.6 L513.8,762.6 L514.3,762.6 L514.8,762.6 L515.3,762.6 L515.8,762.6 L516.3,762.6 L516.8,762.6 L517.3,762.6 L517.8,762.6 L518.3,762.6 L518.8,762.6 L519.3,762.6 L519.8,762.6 L520.3,762.6 L520.8,762.6 L521.3,762.6 L521.7,762.6 L522.2,762.6 L522.7,762.6 L523.2,762.6 L523.7,762.6 L524.2,762.6 L524.7,762.6 L525.2,762.6 L525.7,762.6 L526.2,762.6 L526.7,762.6 L527.2,762.6 L527.7,762.6 L528.2,762.6 L528.7,762.6 L529.2,762.6 L529.7,762.6 L530.2,762.6 L530.7,762.6 L531.2,762.6 L531.7,762.6 L532.2,762.6 L532.6,762.6 L533.1,762.6 L533.6,762.6 L534.1,762.6 L534.6,762.6 L535.1,762.6 L535.6,762.6 L536.1,762.6 L536.6,762.6 L537.1,762.6 L537.6,762.6 L538.1,762.6 L538.6,762.6 L539.1,762.6 L539.6,762.6 L540.1,762.6 L540.6,762.6 L541.1,762.6 L541.6,762.6 L542.1,762.6 L542.6,762.6 L543.0,762.6 L543.5,762.6 L544.0,762.6 L544.5,762.6 L545.0,762.6 L545.5,762.6 L546.0,762.6 L546.5,762.6 L547.0,762.6 L547.5,762.6 L548.0,762.6 L548.5,762.6 L549.0,762.6 L549.5,762.6 L550.0,762.6 L550.5,762.6 L551.0,762.6 L551.5,762.6 L552.0,762.6 L552.5,762.6 L553.0,762.6 L553.5,762.6 L553.9,762.6 L554.4,762.6 L554.9,762.6 L555.4,762.6 L555.9,762.6 L556.4,762.6 L556.9,762.6 L557.4,762.6 L557.9,762.6 L558.4,762.6 L558.9,762.6 L559.4,762.6 L559.9,762.6 L560.4,762.6 L560.9,762.6 L561.4,762.6 L561.9,762.6 L562.4,762.6 L562.9,762.6 L563.4,762.6 L563.9,762.6 L564.4,762.6 L564.8,762.6 L565.3,762.6 L565.8,762.6 L566.3,762.6 L566.8,762.6 L567.3,762.6 L567.8,762.6 L568.3,762.6 L568.8,762.6 L569.3,762.6 L569.8,762.6 L570.3,762.6 L570.8,762.6 L571.3,762.6 L571.8,762.6 L572.3,762.6 L572.8,762.6 L573.3,762.6 L573.8,762.6 L574.3,762.6 L574.8,762.6 L575.3,762.6 L575.7,762.6 L576.2,762.6 L576.7,762.6 L577.2,762.6 L577.7,762.6 L578.2,762.6 L578.7,762.6 L579.2,762.6 L579.7,762.6 L580.2,762.6 L580.7,762.6 L581.2,762.6 L581.7,762.6 L582.2,762.6 L582.7,762.6 L583.2,762.6 L583.7,762.6 L584.2,762.6 L584.7,762.6 L585.2,762.6 L585.7,762.6 L586.2,762.6 L586.6,762.6 L587.1,762.6 L587.6,762.6 L588.1,762.6 L588.6,762.6 L589.1,762.6 L589.6,762.6 L590.1,762.6 L590.6,762.6 L591.1,762.6 L591.6,762.6 L592.1,762.6 L592.6,762.6 L593.1,762.6 L593.6,762.6 L594.1,762.6 L594.6,762.6 L595.1,762.6 L595.6,762.6 L596.1,762.6 L596.6,762.6 L597.1,762.6 L597.5,762.6 L598.0,762.6 L598.5,762.6 L599.0,762.6 L599.5,762.6 L600.0,762.6 L600.5,762.6 L601.0,762.6 L601.5,762.6 L602.0,762.6 L602.5,762.6 L602.50,762.60 L364.70,762.60 Z" fill="#0000ff" fill-opacity="0.5" stroke="none"/>
<line x1="364.70" x2="364.70" y1="654.70" y2="762.60" stroke="#b0b0b0" stroke-width="1.25"/>
<line x1="443.97" x2="443.97" y1="654.70" y2="762.60" stroke="#b0b0b0" stroke-width="1.25"/>
<line x1="523.23" x2="523.23" y1="654.70" y2="762.60" stroke="#b0b0b0" stroke-width="1.25"/>
<line x1="602.50" x2="602.50" y1="654.70" y2="762.60" stroke="#b0b0b0" stroke-width="1.25"/>
<line x1="364.70" x2="602.50" y1="762.60" y2="762.60" stroke="#b0b0b0" stroke-width="1.25"/>
<line x1="364.70" x2="602.50" y1="726.63" y2="726.63" stroke="#b0b0b0" stroke-width="1.25"/>
<line x1="364.70" x2="602.50" y1="690.67" y2="690.67" stroke="#b0b0b0" stroke-width="1.25"/>
<line x1="364.70" x2="602.50" y1="654.70" y2="654.70" stroke="#b0b0b0" stroke-width="1.25"/>
<path d="M364.7,762.6 L365.2,762.6 L365.7,762.6 L366.2,762.6 L366.7,762.6 L367.2,762.6 L367.7,762.6 L368.2,762.6 L368.7,762.6 L369.2,762.6 L369.7,762.6 L370.1,762.6 L370.6,762.6 L371.1,762.6 L371.6,762.6 L372.1,762.6 L372.6,762.6 L373.1,762.6 L373.6,762.6 L374.1,762.6 L374.6,762.6 L375.1,762.6 L375.6,762.6 L376.1,762.6 L376.6,762.6 L377.1,762.6 L377.6,762.6 L378.1,762.6 L378.6,762.6 L379.1,762.6 L379.6,762.6 L380.1,762.6 L380.6,762.6 L381.0,762.6 L381.5,762.6 L382.0,762.6 L382.5,762.6 L383.0,762.6 L383.5,762.6 L384.0,762.6 L384.5,762.6 L385.0,762.6 L385.5,762.6 L386.0,762.6 L386.5,762.6 L387.0,762.6 L387.5,762.6 L388.0,762.6 L388.5,762.6 L389.0,762.6 L389.5,762.6 L390.0,762.6 L390.5,762.6 L391.0,762.6 L391.5,762.6 L391.9,762.6 L392.4,762.6 L392.9,762.6 L393.4,762.6 L393.9,762.6 L394.4,762.6 L394.9,762.6 L395.4,762.6 L395.9,762.6 L396.4,762.6 L396.9,762.6 L397.4,762.6 L397.9,762.6 L398.4,762.6 L398.9,762.6 L399.4,762.6 L399.9,762.6 L400.4,762.6 L400.9,762.6 L401.4,762.6 L401.9,762.6 L402.4,762.6 L402.8,762.6 L403.3,762.6 L403.8,762.6 L404.3,762.6 L404.8,762.6 L405.3,762.6 L405.8,762.6 L406.3,762.6 L406.8,762.6 L407.3,762.6 L407.8,762.6 L408.3,762.6 L408.8,762.6 L409.3,762.6 L409.8,762.6 L410.3,762.6 L410.8,762.6 L411.3,762.6 L411.8,762.6 L412.3,762.6 L412.8,762.6 L413.3,762.6 L413.7,762.6 L414.2,762.6 L414.7,762.6 L415.2,762.6 L415.7,762.6 L416.2,762.6 L416.7,762.6 L417.2,762.6 L417.7,762.6 L418.2,762.6 L418.7,762.6 L419.2,762.6 L419.7,762.6 L420.2,762.6 L420.7,762.6 L421.2,762.6 L421.7,762.6 L422.2,762.6 L422.7,762.6 L423.2,762.6 L423.7,762.6 L424.1,762.6 L424.6,762.6 L425.1,762.6 L425.6,762.6 L426.1,762.6 L426.6,762.6 L427.1,762.6 L427.6,762.6 L428.1,762.6 L428.6,762.6 L429.1,762.6 L429.6,762.6 L430.1,762.6 L430.6,762.6 L431.1,762.6 L431.6,762.6 L432.1,762.6 L432.6,762.6 L433.1,762.6 L433.6,762.6 L434.1,762.6 L434.6,762.6 L435.0,762.6 L435.5,762.6 L436.0,762.6 L436.5,762.6 L437.0,762.6 L437.5,762.6 L438.0,762.6 L438.5,762.6 L439.0,762.5 L439.5,762.5 L440.0,762.4 L440.5,762.3 L441.0,762.1 L441.5,762.0 L442.0,761.8 L442.5,761.6 L443.0,761.4 L443.5,761.2 L444.0,761.0 L444.5,760.7 L445.0,760.3 L445.5,759.8 L445.9,759.1 L446.4,758.4 L446.9,757.6 L447.4,756.7 L447.9,755.9 L448.4,755.0 L448.9,754.2 L449.4,753.5 L449.9,752.8 L450.4,752.2 L450.9,751.7 L451.4,751.1 L451.9,750.6 L452.4,750.0 L452.9,749.3 L453.4,748.5 L453.9,747.4 L454.4,745.8 L454.9,743.6 L455.4,740.6 L455.9,736.8 L456.4,732.4 L456.8,727.2 L457.3,721.2 L457.8,714.6 L458.3,707.8 L458.8,701.5 L459.3,695.8 L459.8,690.5 L460.3,685.5 L460.8,681.1 L461.3,677.4 L461.8,674.8 L462.3,673.9 L462.8,675.0 L463.3,678.3 L463.8,683.5 L464.3,689.8 L464.8,696.7 L465.3,703.9 L465.8,711.3 L466.3,718.8 L466.8,725.8 L467.3,731.8 L467.7,736.8 L468.2,741.0 L468.7,744.7 L469.2,747.9 L469.7,750.4 L470.2,752.3 L470.7,753.7 L471.2,754.7 L471.7,755.6 L472.2,756.3 L472.7,756.9 L473.2,757.4 L473.7,757.8 L474.2,758.0 L474.7,758.1 L475.2,758.0 L475.7,757.7 L476.2,757.1 L476.7,756.2 L477.2,755.1 L477.7,753.8 L478.2,752.1 L478.6,749.9 L479.1,746.7 L479.6,742.1 L480.1,736.4 L480.6,730.4 L481.1,724.7 L481.6,719.5 L482.1,714.8 L482.6,710.4 L483.1,706.6 L483.6,703.7 L484.1,702.2 L484.6,702.3 L485.1,704.1 L485.6,707.4 L486.1,711.9 L486.6,716.9 L487.1,722.2 L487.6,727.8 L488.1,733.7 L488.6,739.5 L489.0,744.8 L489.5,749.2 L490.0,752.7 L490.5,755.5 L491.0,757.7 L491.5,759.2 L492.0,760.2 L492.5,760.7 L493.0,761.0 L493.5,761.3 L494.0,761.5 L494.5,761.7 L495.0,761.9 L495.5,762.0 L496.0,762.2 L496.5,762.3 L497.0,762.4 L497.5,762.5 L498.0,762.5 L498.5,762.6 L499.0,762.6 L499.5,762.6 L499.9,762.6 L500.4,762.6 L500.9,762.6 L501.4,762.6 L501.9,762.6 L502.4,762.6 L502.9,762.6 L503.4,762.6 L503.9,762.6 L504.4,762.6 L504.9,762.6 L505.4,762.6 L505.9,762.6 L506.4,762.6 L506.9,762.6 L507.4,762.6 L507.9,762.6 L508.4,762.6 L508.9,762.6 L509.4,762.6 L509.9,762.6 L510.4,762.6 L510.8,762.6 L511.3,762.6 L511.8,762.6 L512.3,762.6 L512.8,762.6 L513.3,762.6 L513.8,762.6 L514.3,762.6 L514.8,762.6 L515.3,762.6 L515.8,762.6 L516.3,762.6 L516.8,762.6 L517.3,762.6 L517.8,762.6 L518.3,762.6 L518.8,762.6 L519.3,762.6 L519.8,762.6 L520.3,762.6 L520.8,762.6 L521.3,762.6 L521.7,762.6 L522.2,762.6 L522.7,762.6 L523.2,762.6 L523.7,762.6 L524.2,762.6 L524.7,762.6 L525.2,762.6 L525.7,762.6 L526.2,762.6 L526.7,762.6 L527.2,762.6 L527.7,762.6 L528.2,762.6 L528.7,762.6 L529.2,762.6 L529.7,762.6 L530.2,762.6 L530.7,762.6 L531.2,762.6 L531.7,762.6 L532.2,762.6 L532.6,762.6 L533.1,762.6 L533.6,762.6 L534.1,762.6 L534.6,762.6 L535.1,762.6 L535.6,762.6 L536.1,762.6 L536.6,762.6 L537.1,762.6 L537.6,762.6 L538.1,762.6 L538.6,762.6 L539.1,762.6 L539.6,762.6 L540.1,762.6 L540.6,762.6 L541.1,762.6 L541.6,762.6 L542.1,762.6 L542.6,762.6 L543.0,762.6 L543.5,762.6 L544.0,762.6 L544.5,762.6 L545.0,762.6 L545.5,762.6 L546.0,762.6 L546.5,762.6 L547.0,762.6 L547.5,762.6 L548.0,762.6 L548.5,762.6 L549.0,762.6 L549.5,762.6 L550.0,762.6 L550.5,762.6 L551.0,762.6 L551.5,762.6 L552.0,762.6 L552.5,762.6 L553.0,762.6 L553.5,762.6 L553.9,762.6 L554.4,762.6 L554.9,762.6 L555.4,762.6 L555.9,762.6 L556.4,762.6 L556.9,762.6 L557.4,762.6 L557.9,762.6 L558.4,762.6 L558.9,762.6 L559.4,762.6 L559.9,762.6 L560.4,762.6 L560.9,762.6 L561.4,762.6 L561.9,762.6 L562.4,762.6 L562.9,762.6 L563.4,762.6 L563.9,762.6 L564.4,762.6 L564.8,762.6 L565.3,762.6 L565.8,762.6 L566.3,762.6 L566.8,762.6 L567.3,762.6 L567.8,762.6 L568.3,762.6 L568.8,762.6 L569.3,762.6 L569.8,762.6 L570.3,762.6 L570.8,762.6 L571.3,762.6 L571.8,762.6 L572.3,762.6 L572.8,762.6 L573.3,762.6 L573.8,762.6 L574.3,762.6 L574.8,762.6 L575.3,762.6 L575.7,762.6 L576.2,762.6 L576.7,762.6 L577.2,762.6 L577.7,762.6 L578.2,762.6 L578.7,762.6 L579.2,762.6 L579.7,762.6 L580.2,762.6 L580.7,762.6 L581.2,762.6 L581.7,762.6 L582.2,762.6 L582.7,762.6 L583.2,762.6 L583.7,762.6 L584.2,762.6 L584.7,762.6 L585.2,762.6 L585.7,762.6 L586.2,762.6 L586.6,762.6 L587.1,762.6 L587.6,762.6 L588.1,762.6 L588.6,762.6 L589.1,762.6 L589.6,762.6 L590.1,762.6 L590.6,762.6 L591.1,762.6 L591.6,762.6 L592.1,762.6 L592.6,762.6 L593.1,762.6 L593.6,762.6 L594.1,762.6 L594.6,762.6 L595.1,762.6 L595.6,762.6 L596.1,762.6 L596.6,762.6 L597.1,762.6 L597.5,762.6 L598.0,762.6 L598.5,762.6 L599.0,762.6 L599.5,762.6 L600.0,762.6 L600.5,762.6 L601.0,762.6 L601.5,762.6 L602.0,762.6 L602.5,762.6" fill="none" stroke="#ff0000" stroke-width="2.8" stroke-dasharray="2.8 3.3" stroke-linejoin="round"/>
<path d="M364.7,762.6 L365.2,762.6 L365.7,762.6 L366.2,762.6 L366.7,762.6 L367.2,762.6 L367.7,762.6 L368.2,762.6 L368.7,762.6 L369.2,762.6 L369.7,762.6 L370.1,762.6 L370.6,762.6 L371.1,762.6 L371.6,762.6 L372.1,762.6 L372.6,762.6 L373.1,762.6 L373.6,762.6 L374.1,762.6 L374.6,762.6 L375.1,762.6 L375.6,762.6 L376.1,762.6 L376.6,762.6 L377.1,762.6 L377.6,762.6 L378.1,762.6 L378.6,762.6 L379.1,762.6 L379.6,762.6 L380.1,762.6 L380.6,762.6 L381.0,762.6 L381.5,762.6 L382.0,762.6 L382.5,762.6 L383.0,762.6 L383.5,762.6 L384.0,762.6 L384.5,762.6 L385.0,762.6 L385.5,762.6 L386.0,762.6 L386.5,762.6 L387.0,762.6 L387.5,762.6 L388.0,762.6 L388.5,762.6 L389.0,762.6 L389.5,762.6 L390.0,762.6 L390.5,762.6 L391.0,762.6 L391.5,762.6 L391.9,762.6 L392.4,762.6 L392.9,762.6 L393.4,762.6 L393.9,762.6 L394.4,762.6 L394.9,762.6 L395.4,762.6 L395.9,762.6 L396.4,762.6 L396.9,762.6 L397.4,762.6 L397.9,762.6 L398.4,762.6 L398.9,762.6 L399.4,762.6 L399.9,762.6 L400.4,762.6 L400.9,762.6 L401.4,762.6 L401.9,762.6 L402.4,762.6 L402.8,762.6 L403.3,762.6 L403.8,762.6 L404.3,762.6 L404.8,762.6 L405.3,762.6 L405.8,762.6 L406.3,762.6 L406.8,762.6 L407.3,762.6 L407.8,762.6 L408.3,762.6 L408.8,762.6 L409.3,762.6 L409.8,762.6 L410.3,762.6 L410.8,762.6 L411.3,762.6 L411.8,762.6 L412.3,762.6 L412.8,762.6 L413.3,762.6 L413.7,762.6 L414.2,762.6 L414.7,762.6 L415.2,762.6 L415.7,762.6 L416.2,762.6 L416.7,762.6 L417.2,762.6 L417.7,762.6 L418.2,762.6 L418.7,762.6 L419.2,762.6 L419.7,762.6 L420.2,762.6 L420.7,762.6 L421.2,762.6 L421.7,762.6 L422.2,762.6 L422.7,762.6 L423.2,762.6 L423.7,762.6 L424.1,762.6 L424.6,762.6 L425.1,762.6 L425.6,762.6 L426.1,762.6 L426.6,762.6 L427.1,762.6 L427.6,762.6 L428.1,762.6 L428.6,762.6 L429.1,762.6 L429.6,762.6 L430.1,762.6 L430.6,762.6 L431.1,762.6 L431.6,762.6 L432.1,762.6 L432.6,762.6 L433.1,762.5 L433.6,762.5 L434.1,762.4 L434.6,762.3 L435.0,762.2 L435.5,762.1 L436.0,761.9 L436.5,761.7 L437.0,761.6 L437.5,761.3 L438.0,761.1 L438.5,760.7 L439.0,760.1 L439.5,759.4 L440.0,758.5 L440.5,757.5 L441.0,756.3 L441.5,755.1 L442.0,753.9 L442.5,752.5 L443.0,751.1 L443.5,749.5 L444.0,747.7 L444.5,745.7 L445.0,743.7 L445.5,741.6 L445.9,739.7 L446.4,737.8 L446.9,736.1 L447.4,734.4 L447.9,732.8 L448.4,731.3 L448.9,729.9 L449.4,728.7 L449.9,727.8 L450.4,727.0 L450.9,726.5 L451.4,726.0 L451.9,725.6 L452.4,725.2 L452.9,724.9 L453.4,724.6 L453.9,724.4 L454.4,724.3 L454.9,724.2 L455.4,724.2 L455.9,724.3 L456.4,724.4 L456.8,724.6 L457.3,724.8 L457.8,725.1 L458.3,725.5 L458.8,725.8 L459.3,726.3 L459.8,726.8 L460.3,727.4 L460.8,728.2 L461.3,729.2 L461.8,730.4 L462.3,731.6 L462.8,732.9 L463.3,734.3 L463.8,735.8 L464.3,737.4 L464.8,739.1 L465.3,740.9 L465.8,742.7 L466.3,744.5 L466.8,746.2 L467.3,747.9 L467.7,749.4 L468.2,751.0 L468.7,752.5 L469.2,753.9 L469.7,755.3 L470.2,756.4 L470.7,757.3 L471.2,758.0 L471.7,758.5 L472.2,758.8 L472.7,759.1 L473.2,759.2 L473.7,759.2 L474.2,759.0 L474.7,758.6 L475.2,757.9 L475.7,757.1 L476.2,756.1 L476.7,755.0 L477.2,753.9 L477.7,752.7 L478.2,751.4 L478.6,749.9 L479.1,748.3 L479.6,746.6 L480.1,744.9 L480.6,743.4 L481.1,742.2 L481.6,741.1 L482.1,740.2 L482.6,739.4 L483.1,738.8 L483.6,738.3 L484.1,738.0 L484.6,737.9 L485.1,738.0 L485.6,738.2 L486.1,738.4 L486.6,738.5 L487.1,738.6 L487.6,738.5 L488.1,737.9 L488.6,736.8 L489.0,735.4 L489.5,733.9 L490.0,732.3 L490.5,730.8 L491.0,729.5 L491.5,728.1 L492.0,726.8 L492.5,725.7 L493.0,724.8 L493.5,724.3 L494.0,724.3 L494.5,724.8 L495.0,725.8 L495.5,727.3 L496.0,729.2 L496.5,731.4 L497.0,733.7 L497.5,736.0 L498.0,738.5 L498.5,741.1 L499.0,744.0 L499.5,746.9 L499.9,749.8 L500.4,752.5 L500.9,754.7 L501.4,756.5 L501.9,758.1 L502.4,759.4 L502.9,760.3 L503.4,760.9 L503.9,761.3 L504.4,761.5 L504.9,761.7 L505.4,761.8 L505.9,762.0 L506.4,762.1 L506.9,762.2 L507.4,762.3 L507.9,762.3 L508.4,762.4 L508.9,762.5 L509.4,762.5 L509.9,762.5 L510.4,762.6 L510.8,762.6 L511.3,762.6 L511.8,762.6 L512.3,762.6 L512.8,762.6 L513.3,762.6 L513.8,762.6 L514.3,762.6 L514.8,762.6 L515.3,762.6 L515.8,762.6 L516.3,762.6 L516.8,762.6 L517.3,762.6 L517.8,762.6 L518.3,762.6 L518.8,762.6 L519.3,762.6 L519.8,762.6 L520.3,762.6 L520.8,762.6 L521.3,762.6 L521.7,762.6 L522.2,762.6 L522.7,762.6 L523.2,762.6 L523.7,762.6 L524.2,762.6 L524.7,762.6 L525.2,762.6 L525.7,762.6 L526.2,762.6 L526.7,762.6 L527.2,762.6 L527.7,762.6 L528.2,762.6 L528.7,762.6 L529.2,762.6 L529.7,762.6 L530.2,762.6 L530.7,762.6 L531.2,762.6 L531.7,762.6 L532.2,762.6 L532.6,762.6 L533.1,762.6 L533.6,762.6 L534.1,762.6 L534.6,762.6 L535.1,762.6 L535.6,762.6 L536.1,762.6 L536.6,762.6 L537.1,762.6 L537.6,762.6 L538.1,762.6 L538.6,762.6 L539.1,762.6 L539.6,762.6 L540.1,762.6 L540.6,762.6 L541.1,762.6 L541.6,762.6 L542.1,762.6 L542.6,762.6 L543.0,762.6 L543.5,762.6 L544.0,762.6 L544.5,762.6 L545.0,762.6 L545.5,762.6 L546.0,762.6 L546.5,762.6 L547.0,762.6 L547.5,762.6 L548.0,762.6 L548.5,762.6 L549.0,762.6 L549.5,762.6 L550.0,762.6 L550.5,762.6 L551.0,762.6 L551.5,762.6 L552.0,762.6 L552.5,762.6 L553.0,762.6 L553.5,762.6 L553.9,762.6 L554.4,762.6 L554.9,762.6 L555.4,762.6 L555.9,762.6 L556.4,762.6 L556.9,762.6 L557.4,762.6 L557.9,762.6 L558.4,762.6 L558.9,762.6 L559.4,762.6 L559.9,762.6 L560.4,762.6 L560.9,762.6 L561.4,762.6 L561.9,762.6 L562.4,762.6 L562.9,762.6 L563.4,762.6 L563.9,762.6 L564.4,762.6 L564.8,762.6 L565.3,762.6 L565.8,762.6 L566.3,762.6 L566.8,762.6 L567.3,762.6 L567.8,762.6 L568.3,762.6 L568.8,762.6 L569.3,762.6 L569.8,762.6 L570.3,762.6 L570.8,762.6 L571.3,762.6 L571.8,762.6 L572.3,762.6 L572.8,762.6 L573.3,762.6 L573.8,762.6 L574.3,762.6 L574.8,762.6 L575.3,762.6 L575.7,762.6 L576.2,762.6 L576.7,762.6 L577.2,762.6 L577.7,762.6 L578.2,762.6 L578.7,762.6 L579.2,762.6 L579.7,762.6 L580.2,762.6 L580.7,762.6 L581.2,762.6 L581.7,762.6 L582.2,762.6 L582.7,762.6 L583.2,762.6 L583.7,762.6 L584.2,762.6 L584.7,762.6 L585.2,762.6 L585.7,762.6 L586.2,762.6 L586.6,762.6 L587.1,762.6 L587.6,762.6 L588.1,762.6 L588.6,762.6 L589.1,762.6 L589.6,762.6 L590.1,762.6 L590.6,762.6 L591.1,762.6 L591.6,762.6 L592.1,762.6 L592.6,762.6 L593.1,762.6 L593.6,762.6 L594.1,762.6 L594.6,762.6 L595.1,762.6 L595.6,762.6 L596.1,762.6 L596.6,762.6 L597.1,762.6 L597.5,762.6 L598.0,762.6 L598.5,762.6 L599.0,762.6 L599.5,762.6 L600.0,762.6 L600.5,762.6 L601.0,762.6 L601.5,762.6 L602.0,762.6 L602.5,762.6" fill="none" stroke="#008000" stroke-width="2.8" stroke-dasharray="2.8 3.3" stroke-linejoin="round"/>
<path d="M364.7,762.6 L365.2,762.6 L365.7,762.6 L366.2,762.6 L366.7,762.6 L367.2,762.6 L367.7,762.6 L368.2,762.6 L368.7,762.6 L369.2,762.6 L369.7,762.6 L370.1,762.6 L370.6,762.6 L371.1,762.6 L371.6,762.6 L372.1,762.6 L372.6,762.6 L373.1,762.6 L373.6,762.6 L374.1,762.6 L374.6,762.6 L375.1,762.6 L375.6,762.6 L376.1,762.6 L376.6,762.6 L377.1,762.6 L377.6,762.6 L378.1,762.6 L378.6,762.6 L379.1,762.6 L379.6,762.6 L380.1,762.6 L380.6,762.6 L381.0,762.6 L381.5,762.6 L382.0,762.6 L382.5,762.6 L383.0,762.6 L383.5,762.6 L384.0,762.6 L384.5,762.6 L385.0,762.6 L385.5,762.6 L386.0,762.6 L386.5,762.6 L387.0,762.6 L387.5,762.6 L388.0,762.6 L388.5,762.6 L389.0,762.6 L389.5,762.6 L390.0,762.6 L390.5,762.6 L391.0,762.6 L391.5,762.6 L391.9,762.6 L392.4,762.6 L392.9,762.6 L393.4,762.6 L393.9,762.6 L394.4,762.6 L394.9,762.6 L395.4,762.6 L395.9,762.6 L396.4,762.6 L396.9,762.6 L397.4,762.6 L397.9,762.6 L398.4,762.6 L398.9,762.6 L399.4,762.6 L399.9,762.6 L400.4,762.6 L400.9,762.6 L401.4,762.6 L401.9,762.6 L402.4,762.6 L402.8,762.6 L403.3,762.6 L403.8,762.6 L404.3,762.6 L404.8,762.6 L405.3,762.6 L405.8,762.6 L406.3,762.6 L406.8,762.6 L407.3,762.6 L407.8,762.6 L408.3,762.6 L408.8,762.6 L409.3,762.6 L409.8,762.6 L410.3,762.6 L410.8,762.6 L411.3,762.6 L411.8,762.6 L412.3,762.6 L412.8,762.6 L413.3,762.6 L413.7,762.6 L414.2,762.6 L414.7,762.6 L415.2,762.6 L415.7,762.6 L416.2,762.6 L416.7,762.6 L417.2,762.6 L417.7,762.6 L418.2,762.6 L418.7,762.6 L419.2,762.6 L419.7,762.6 L420.2,762.6 L420.7,762.6 L421.2,762.6 L421.7,762.6 L422.2,762.6 L422.7,762.6 L423.2,762.6 L423.7,762.6 L424.1,762.6 L424.6,762.6 L425.1,762.6 L425.6,762.6 L426.1,762.6 L426.6,762.6 L427.1,762.6 L427.6,762.6 L428.1,762.6 L428.6,762.6 L429.1,762.5 L429.6,762.5 L430.1,762.4 L430.6,762.4 L431.1,762.3 L431.6,762.1 L432.1,762.0 L432.6,761.9 L433.1,761.7 L433.6,761.5 L434.1,761.2 L434.6,760.7 L435.0,759.9 L435.5,758.6 L436.0,756.8 L436.5,754.6 L437.0,752.1 L437.5,749.5 L438.0,746.7 L438.5,744.0 L439.0,741.5 L439.5,739.0 L440.0,736.6 L440.5,734.1 L441.0,731.5 L441.5,728.9 L442.0,726.2 L442.5,723.7 L443.0,721.4 L443.5,719.4 L444.0,717.8 L444.5,716.6 L445.0,716.1 L445.5,716.2 L445.9,716.9 L446.4,718.2 L446.9,719.9 L447.4,721.9 L447.9,724.0 L448.4,726.1 L448.9,728.0 L449.4,729.8 L449.9,731.3 L450.4,732.8 L450.9,734.3 L451.4,735.8 L451.9,737.1 L452.4,738.3 L452.9,739.4 L453.4,740.1 L453.9,740.6 L454.4,740.7 L454.9,740.5 L455.4,740.1 L455.9,739.4 L456.4,738.6 L456.8,737.7 L457.3,736.8 L457.8,735.8 L458.3,734.6 L458.8,733.4 L459.3,732.1 L459.8,730.9 L460.3,729.9 L460.8,729.2 L461.3,728.8 L461.8,729.0 L462.3,729.5 L462.8,730.4 L463.3,731.6 L463.8,732.9 L464.3,734.4 L464.8,735.9 L465.3,737.4 L465.8,738.9 L466.3,740.4 L466.8,742.1 L467.3,743.7 L467.7,745.4 L468.2,746.9 L468.7,748.1 L469.2,748.7 L469.7,748.5 L470.2,747.2 L470.7,744.6 L471.2,741.0 L471.7,736.5 L472.2,731.4 L472.7,726.2 L473.2,721.2 L473.7,716.9 L474.2,713.5 L474.7,711.6 L475.2,711.9 L475.7,714.0 L476.2,717.7 L476.7,722.2 L477.2,727.1 L477.7,732.4 L478.2,737.7 L478.6,742.6 L479.1,746.9 L479.6,750.7 L480.1,753.8 L480.6,756.2 L481.1,758.1 L481.6,759.5 L482.1,760.5 L482.6,761.2 L483.1,761.6 L483.6,761.8 L484.1,761.9 L484.6,761.9 L485.1,761.9 L485.6,761.9 L486.1,761.9 L486.6,761.9 L487.1,761.8 L487.6,761.6 L488.1,761.2 L488.6,760.4 L489.0,759.3 L489.5,758.2 L490.0,756.9 L490.5,755.7 L491.0,754.5 L491.5,753.5 L492.0,752.9 L492.5,752.8 L493.0,753.3 L493.5,754.3 L494.0,755.5 L494.5,756.7 L495.0,757.8 L495.5,758.9 L496.0,759.9 L496.5,760.7 L497.0,761.2 L497.5,761.6 L498.0,761.8 L498.5,761.9 L499.0,762.1 L499.5,762.2 L499.9,762.3 L500.4,762.4 L500.9,762.4 L501.4,762.5 L501.9,762.5 L502.4,762.6 L502.9,762.6 L503.4,762.6 L503.9,762.6 L504.4,762.6 L504.9,762.6 L505.4,762.6 L505.9,762.6 L506.4,762.6 L506.9,762.6 L507.4,762.6 L507.9,762.6 L508.4,762.6 L508.9,762.6 L509.4,762.6 L509.9,762.6 L510.4,762.6 L510.8,762.6 L511.3,762.6 L511.8,762.6 L512.3,762.6 L512.8,762.6 L513.3,762.6 L513.8,762.6 L514.3,762.6 L514.8,762.6 L515.3,762.6 L515.8,762.6 L516.3,762.6 L516.8,762.6 L517.3,762.6 L517.8,762.6 L518.3,762.6 L518.8,762.6 L519.3,762.6 L519.8,762.6 L520.3,762.6 L520.8,762.6 L521.3,762.6 L521.7,762.6 L522.2,762.6 L522.7,762.6 L523.2,762.6 L523.7,762.6 L524.2,762.6 L524.7,762.6 L525.2,762.6 L525.7,762.6 L526.2,762.6 L526.7,762.6 L527.2,762.6 L527.7,762.6 L528.2,762.6 L528.7,762.6 L529.2,762.6 L529.7,762.6 L530.2,762.6 L530.7,762.6 L531.2,762.6 L531.7,762.6 L532.2,762.6 L532.6,762.6 L533.1,762.6 L533.6,762.6 L534.1,762.6 L534.6,762.6 L535.1,762.6 L535.6,762.6 L536.1,762.6 L536.6,762.6 L537.1,762.6 L537.6,762.6 L538.1,762.6 L538.6,762.6 L539.1,762.6 L539.6,762.6 L540.1,762.6 L540.6,762.6 L541.1,762.6 L541.6,762.6 L542.1,762.6 L542.6,762.6 L543.0,762.6 L543.5,762.6 L544.0,762.6 L544.5,762.6 L545.0,762.6 L545.5,762.6 L546.0,762.6 L546.5,762.6 L547.0,762.6 L547.5,762.6 L548.0,762.6 L548.5,762.6 L549.0,762.6 L549.5,762.6 L550.0,762.6 L550.5,762.6 L551.0,762.6 L551.5,762.6 L552.0,762.6 L552.5,762.6 L553.0,762.6 L553.5,762.6 L553.9,762.6 L554.4,762.6 L554.9,762.6 L555.4,762.6 L555.9,762.6 L556.4,762.6 L556.9,762.6 L557.4,762.6 L557.9,762.6 L558.4,762.6 L558.9,762.6 L559.4,762.6 L559.9,762.6 L560.4,762.6 L560.9,762.6 L561.4,762.6 L561.9,762.6 L562.4,762.6 L562.9,762.6 L563.4,762.6 L563.9,762.6 L564.4,762.6 L564.8,762.6 L565.3,762.6 L565.8,762.6 L566.3,762.6 L566.8,762.6 L567.3,762.6 L567.8,762.6 L568.3,762.6 L568.8,762.6 L569.3,762.6 L569.8,762.6 L570.3,762.6 L570.8,762.6 L571.3,762.6 L571.8,762.6 L572.3,762.6 L572.8,762.6 L573.3,762.6 L573.8,762.6 L574.3,762.6 L574.8,762.6 L575.3,762.6 L575.7,762.6 L576.2,762.6 L576.7,762.6 L577.2,762.6 L577.7,762.6 L578.2,762.6 L578.7,762.6 L579.2,762.6 L579.7,762.6 L580.2,762.6 L580.7,762.6 L581.2,762.6 L581.7,762.6 L582.2,762.6 L582.7,762.6 L583.2,762.6 L583.7,762.6 L584.2,762.6 L584.7,762.6 L585.2,762.6 L585.7,762.6 L586.2,762.6 L586.6,762.6 L587.1,762.6 L587.6,762.6 L588.1,762.6 L588.6,762.6 L589.1,762.6 L589.6,762.6 L590.1,762.6 L590.6,762.6 L591.1,762.6 L591.6,762.6 L592.1,762.6 L592.6,762.6 L593.1,762.6 L593.6,762.6 L594.1,762.6 L594.6,762.6 L595.1,762.6 L595.6,762.6 L596.1,762.6 L596.6,762.6 L597.1,762.6 L597.5,762.6 L598.0,762.6 L598.5,762.6 L599.0,762.6 L599.5,762.6 L600.0,762.6 L600.5,762.6 L601.0,762.6 L601.5,762.6 L602.0,762.6 L602.5,762.6" fill="none" stroke="#0000ff" stroke-width="2.8" stroke-dasharray="2.8 3.3" stroke-linejoin="round"/>
</g>
<line x1="364.70" x2="364.70" y1="762.60" y2="767.40" stroke="#000" stroke-width="1"/>
<text x="363.30" y="782.00" font-size="11.4" letter-spacing="0.45" text-anchor="middle">0</text>
<line x1="443.97" x2="443.97" y1="762.60" y2="767.40" stroke="#000" stroke-width="1"/>
<text x="442.57" y="782.00" font-size="11.4" letter-spacing="0.45" text-anchor="middle">20</text>
<line x1="523.23" x2="523.23" y1="762.60" y2="767.40" stroke="#000" stroke-width="1"/>
<text x="521.83" y="782.00" font-size="11.4" letter-spacing="0.45" text-anchor="middle">40</text>
<line x1="602.50" x2="602.50" y1="762.60" y2="767.40" stroke="#000" stroke-width="1"/>
<text x="601.10" y="782.00" font-size="11.4" letter-spacing="0.45" text-anchor="middle">60</text>
<line x1="359.90" x2="364.70" y1="762.60" y2="762.60" stroke="#000" stroke-width="1"/>
<text x="353.50" y="767.15" font-size="11.4" letter-spacing="0.45" text-anchor="end">0.0</text>
<line x1="359.90" x2="364.70" y1="726.63" y2="726.63" stroke="#000" stroke-width="1"/>
<text x="353.50" y="731.18" font-size="11.4" letter-spacing="0.45" text-anchor="end">0.1</text>
<line x1="359.90" x2="364.70" y1="690.67" y2="690.67" stroke="#000" stroke-width="1"/>
<text x="353.50" y="695.22" font-size="11.4" letter-spacing="0.45" text-anchor="end">0.2</text>
<line x1="359.90" x2="364.70" y1="654.70" y2="654.70" stroke="#000" stroke-width="1"/>
<text x="353.50" y="659.25" font-size="11.4" letter-spacing="0.45" text-anchor="end">0.3</text>
<rect x="364.70" y="654.70" width="237.80" height="107.90" fill="none" stroke="#000" stroke-width="1.25"/>
<text x="369.30" y="671.50" font-size="14.2" letter-spacing="0.55">HM <tspan font-weight="bold" letter-spacing="1.1">(e)</tspan></text>
<text transform="translate(326.70,709.55) rotate(-90)" font-size="14" text-anchor="middle" letter-spacing="0.3">Estimated PDF</text>
<text x="483.10" y="794.70" font-size="13.4" letter-spacing="0.2" text-anchor="middle"><tspan font-style="italic">ϕ</tspan><tspan font-style="italic" font-size="9.8" dy="2.4">μ</tspan></text>
</svg>
</body></html>
